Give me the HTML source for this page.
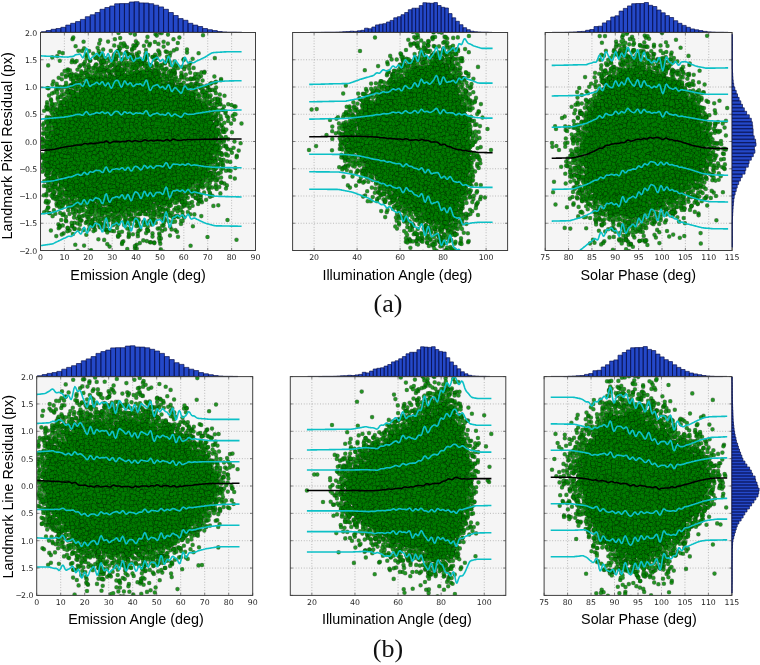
<!DOCTYPE html>
<html lang="en"><head><meta charset="utf-8"><title>Landmark residuals</title>
<style>
html,body{margin:0;padding:0;background:#fff}
svg{display:block}
.gr{fill:none;stroke:#8a8a8a;stroke-width:.6;stroke-dasharray:.9 1.8}
.e{fill:none;stroke:#001400;stroke-opacity:.45;stroke-width:46;stroke-linecap:round}
.f{fill:none;stroke:#009200;stroke-opacity:.72;stroke-width:38;stroke-linecap:round}
.un{fill:none;stroke:#046804;stroke-width:1.05}
.cy{fill:none;stroke:#0cc0c6;stroke-width:1.6;stroke-linejoin:round}
.bk{fill:none;stroke:#000;stroke-width:1.55;stroke-linejoin:round}
.hb{fill:#2448c8;stroke:#0a1250;stroke-width:.7}
.hl{fill:none;stroke:#101840;stroke-width:.7}
.fr{fill:none;stroke:#404040;stroke-width:1}
.tk{fill:none;stroke:#3a3a3a;stroke-width:.6}
.tl{font-family:"DejaVu Sans","Liberation Sans",sans-serif;font-size:7.8px;fill:#262626}
.al{font-family:"Liberation Sans",sans-serif;font-size:14.35px;fill:#000}
.cap{font-family:"Liberation Serif",serif;font-size:26px;fill:#111}
</style></head>
<body>
<svg width="760" height="665" viewBox="0 0 760 665">
<rect width="760" height="665" fill="#fff"/>
<g id="pT1">
<rect x="40.5" y="32.5" width="215" height="218" fill="#f5f5f5"/>
<path class="gr" d="M64.39 32.5V250.5M88.28 32.5V250.5M112.17 32.5V250.5M136.06 32.5V250.5M159.94 32.5V250.5M183.83 32.5V250.5M207.72 32.5V250.5M231.61 32.5V250.5M40.5 223.25H255.5M40.5 196H255.5M40.5 168.75H255.5M40.5 141.5H255.5M40.5 114.25H255.5M40.5 87H255.5M40.5 59.75H255.5"/>
<clipPath id="cT1"><rect x="40.5" y="32.5" width="215" height="218"/></clipPath>
<g clip-path="url(#cT1)">
<path class="un" transform="translate(40.5 33)" d="M97 29h6M98 30h5M97 31h6M94 32h10M76 33h3M91 33h7M75 34h5M91 34h6M75 35h5M91 35h7M56 36h12M75 36h5M91 36h5M105 36h5M58 37h10M75 37h6M91 37h3M107 37h3M56 38h10M75 38h9M97 38h9M107 38h3M61 39h5M75 39h9M97 39h21M76 40h8M89 40h5M95 40h11M108 40h9M76 41h10M89 41h17M108 41h10M69 42h3M76 42h38M115 42h3M47 43h3M54 43h3M69 43h5M76 43h42M47 44h15M68 44h53M47 45h15M67 45h55M45 46h5M51 46h13M68 46h53M45 47h24M71 47h51M129 47h3M46 48h79M127 48h4M46 49h76M46 50h73M124 50h10M47 51h81M129 51h5M43 52h91M41 53h12M54 53h81M136 53h5M40 54h104M41 55h107M39 56h109M39 57h109M30 58h5M39 58h102M143 58h5M28 59h9M39 59h109M28 60h8M39 60h109M150 60h5M28 61h8M39 61h109M150 61h5M163 61h3M29 62h9M39 62h104M144 62h11M163 62h3M31 63h124M31 64h124M31 65h124M163 65h5M31 66h124M31 67h126M23 68h137M165 68h3M19 69h141M19 70h141M19 71h147M18 72h5M25 72h141M20 73h3M25 73h142M20 74h146M18 75h149M172 75h4M18 76h146M171 76h4M14 77h150M171 77h5M14 78h154M171 78h4M15 79h154M15 80h154M16 81h153M16 82h154M16 83h154M171 83h6M13 84h163M13 85h162M10 86h165M7 87h168M7 88h165M7 89h165M7 90h171M9 91h169M13 92h165M12 93h166M9 94h167M13 95h162M13 96h164M13 97h164M7 98h171M9 99h170M9 100h169M7 101h171M6 102h172M11 103h166M7 104h171M9 105h168M9 106h168M9 107h168M6 108h171M5 109h170M6 110h169M6 111h170M4 112h173M5 113h174M7 114h172M7 115h161M169 115h10M6 116h173M6 117h173M6 118h172M6 119h170M6 120h169M5 121h167M5 122h167M5 123h167M5 124h171M5 125h169M5 126h171M6 127h170M6 128h170M6 129h166M5 130h167M5 131h165M4 132h162M4 133h162M4 134h155M160 134h7M5 135h153M160 135h10M5 136h165M13 137h156M6 138h4M12 138h145M158 138h9M6 139h4M12 139h159M6 140h3M12 140h159M13 141h4M20 141h152M13 142h4M20 142h146M167 142h7M13 143h4M20 143h154M7 144h3M13 144h3M20 144h134M155 144h14M170 144h4M13 145h3M19 145h143M170 145h4M19 146h143M8 147h7M19 147h136M156 147h6M12 148h5M19 148h136M157 148h5M12 149h5M19 149h136M12 150h5M18 150h137M12 151h5M20 151h134M159 151h3M12 152h5M19 152h133M18 153h132M12 154h3M18 154h3M24 154h126M12 155h3M16 155h5M24 155h125M13 156h8M24 156h112M137 156h12M16 157h3M25 157h109M137 157h10M24 158h123M26 159h5M32 159h102M135 159h12M152 159h3M32 160h102M136 160h5M19 161h3M29 161h105M136 161h8M11 162h3M18 162h4M25 162h6M32 162h109M27 163h100M128 163h13M28 164h99M130 164h8M29 165h5M37 165h88M131 165h10M38 166h87M130 166h10M38 167h93M39 168h93M24 169h3M39 169h15M60 169h65M126 169h6M41 170h14M61 170h51M115 170h16M47 171h8M61 171h49M119 171h11M48 172h7M57 172h3M67 172h10M80 172h30M122 172h3M48 173h7M67 173h11M80 173h30M29 174h4M48 174h6M57 174h3M68 174h15M86 174h24M30 175h4M48 175h5M57 175h3M68 175h28M97 175h12M47 176h5M57 176h5M64 176h23M91 176h5M99 176h11M49 177h3M57 177h5M64 177h18M85 177h10M48 178h4M57 178h27M85 178h7M100 178h3M48 179h4M60 179h8M72 179h8M81 179h3M100 179h3M47 180h5M56 180h6M63 180h7M73 180h5M71 184h4"/>
<g transform="translate(40.5 32.5) scale(.1)">
<defs><path id="t10" d="M18 1080h0m4 178h0m1-249h0m8-46h0m5 834h0m21-834h0m2 651h0m11-153h0m48-43h0m18-818h0m18 494h0m7 549h0m40-127h0m27-969h0m3 1461h0m1-194h0m26 73h0m45-1361h0m14 1164h0m3-1623h0m25 230h0m1 423h0m9 1053h0m13-37h0m7-1092h0m1-174h0m55-378h0m0 223h0m23 1590h0m2-1674h0m33 1696h0m59-1673h0m6 67h0m11-77h0m17-59h0m9 31h0m15 1733h0m25-84h0m44-1400h0m1 1413h0m11-1474h0m48 1583h0m9-1920h0m12 196h0m28 1735h0m21-1635h0m10 1629h0m13 96h0m40 77h0m24-198h0m5-53h0m21-1695h0m13 58h0m3 1507h0m25-1656h0m2 170h0m13 1739h0m82-31h0m5-1916h0m1 283h0m25 1512h0m3-1563h0m28-77h0m39 61h0m3-56h0m16 1527h0m11 233h0m1-1606h0m2-183h0m14 1838h0m61-1817h0m5 7h0m5-228h0m54 501h0m8 1326h0m2-1558h0m5 123h0m13-82h0m15 1503h0m35 48h0m14 2h0m50-1354h0m1 1123h0m13-1060h0m5 1114h0m11-1238h0m5 1111h0m15-1317h0m18 1556h0m36-150h0m30-1234h0m3 1401h0m2-1437h0m13 1150h0m14 51h0m41-43h0m52-807h0m26-200h0m6 1015h0m20-690h0m2 531h0m4 138h0m5-924h0m1 50h0m1 9h0m7 721h0m4-354h0m4 161h0m29 303h0m1-515h0m26 294h0m36-117h0m20-337h0m41 397h0m38-125h0"/><path id="t11" d="M24 926h0m3 428h0m37-312h0m2-273h0m6 782h0m8-993h0m3 845h0m3 402h0m29-272h0m14-1043h0m14 1105h0m6 218h0m11-101h0m60-45h0m18-124h0m2 80h0m20-1031h0m21-220h0m10 1608h0m4-1602h0m3 277h0m7-189h0m7-55h0m6 1521h0m35-1428h0m1-86h0m3 1373h0m14-1362h0m1 112h0m49 1294h0m41 55h0m57-782h0m2 763h0m6-1660h0m12 1701h0m2-155h0m29-3h0m9 314h0m25-1764h0m33-46h0m1 1647h0m64-1722h0m8 244h0m1 1405h0m8-1396h0m61-203h0m0-229h0m4 137h0m20 70h0m0-99h0m25 1724h0m15 26h0m1-1734h0m9 1745h0m84-123h0m6 408h0m91-2177h0m5 316h0m16 1519h0m20-1591h0m5 1557h0m63-1687h0m1 1727h0m9-104h0m9 16h0m15-1553h0m1 238h0m13 1608h0m6 85h0m37-1698h0m10 1464h0m1-1569h0m41 1426h0m6-1439h0m18 1673h0m27-197h0m0-168h0m5-1202h0m9 1433h0m23-1479h0m10 1320h0m28-1249h0m19-160h0m78 286h0m21-199h0m41 1273h0m29-92h0m1 112h0m4-1087h0m6 973h0m8-930h0m2-29h0m8 904h0m49-927h0m5 1022h0m9-927h0m2 997h0m1-951h0m5 69h0m17 710h0m10-169h0m11-862h0m12 421h0m1 216h0m24 83h0m8 23h0m6 83h0m0-249h0m9 592h0m50-802h0m11 420h0m15 3h0m6 148h0m33-176h0m68-21h0"/><path id="t12" d="M15 1218h0m7 24h0m19 43h0m22-99h0m3-489h0m5 65h0m1 182h0m1 761h0m31-1036h0m6 63h0m18 926h0m5-40h0m10-820h0m36 1120h0m17-226h0m17-1068h0m2 1126h0m6 75h0m53 131h0m11-260h0m29 243h0m1-1282h0m3-137h0m10-31h0m7 1201h0m0 160h0m5 52h0m20-1462h0m12 61h0m18 1344h0m3-1405h0m22-256h0m21 1947h0m50-1945h0m13 2004h0m20-307h0m52-188h0m25 6h0m5-1198h0m67-161h0m8 1584h0m7-75h0m0 128h0m7-1696h0m31 1585h0m33-1461h0m22 1636h0m1-122h0m9-1742h0m3 1849h0m21-1744h0m8-16h0m17 59h0m74 1510h0m34-1816h0m6 379h0m22-293h0m2 137h0m7 1633h0m15-1546h0m39-198h0m37 179h0m7 1673h0m17-1873h0m0 1986h0m46-1825h0m35 112h0m14-385h0m4 1790h0m29-1418h0m7 1558h0m1-1789h0m6 244h0m41-122h0m20 119h0m1-56h0m18 124h0m13-36h0m37 82h0m38 1418h0m62-1445h0m27 1074h0m4 275h0m13-1303h0m5 1180h0m3-1153h0m3 1092h0m2-1040h0m51 981h0m3 8h0m18-258h0m13-620h0m6-112h0m10-566h0m42 753h0m1-198h0m6 186h0m17-51h0m4-139h0m21 972h0m23-154h0m16-904h0m3 678h0m22-199h0m4 158h0m1-222h0m10 295h0m12-101h0m2 116h0m27-82h0m2-63h0m39-6h0m1-215h0m28 60h0m37 549h0"/><path id="t13" d="M49 1265h0m10 76h0m1 289h0m2-469h0m12 590h0m9-61h0m9-110h0m12 400h0m6-921h0m10 494h0m35-92h0m2-894h0m1 1469h0m5-304h0m25-1535h0m16 1328h0m5-830h0m2 817h0m11-1306h0m15 1477h0m44-1105h0m43 1185h0m10-15h0m36 111h0m0-1487h0m9 1322h0m32 187h0m30-1477h0m3-68h0m16-76h0m50 1666h0m37 48h0m52-1758h0m8 22h0m19 1479h0m1-1547h0m25 272h0m39 1699h0m2-1749h0m16 1382h0m29-1644h0m6 208h0m4 1507h0m16-41h0m33-1749h0m71 279h0m4 1573h0m17-1689h0m6 1652h0m8-1605h0m59-52h0m0 1665h0m15 38h0m3-49h0m3 65h0m18-117h0m42-1h0m18-1479h0m2 1751h0m2-116h0m21-228h0m25 179h0m21-1546h0m6 1725h0m9-1878h0m25 1739h0m31 207h0m11-428h0m2-1417h0m1 1660h0m25-258h0m10-1535h0m13 242h0m9-321h0m12 404h0m7-283h0m15 1572h0m9 2h0m37-1357h0m25 1396h0m36-188h0m21 192h0m18-1428h0m36 222h0m21 969h0m9-814h0m24-190h0m5-94h0m2 97h0m4-29h0m20-166h0m0 197h0m24 1010h0m64-296h0m19-625h0m16 774h0m4-658h0m9 180h0m13 451h0m23-83h0m9-88h0m0-80h0m1-364h0m4 57h0m7 585h0m5-805h0m20 405h0m7 76h0m1-433h0m4-241h0m1 973h0m2-515h0m0-69h0m16-92h0m52 110h0"/><path id="t14" d="M32 908h0m26-163h0m10 294h0m8-163h0m16-25h0m2 956h0m10-234h0m14-9h0m6 78h0m29 29h0m18-25h0m10-163h0m8-751h0m3 1202h0m5-129h0m1-1162h0m1 2h0m8 1230h0m14-468h0m3 304h0m32-1281h0m10 125h0m2 1084h0m1-1268h0m1 1583h0m14-1530h0m25 1072h0m18-981h0m32 1210h0m2-1440h0m4 1434h0m5 190h0m0 274h0m11-1572h0m5 1356h0m15-95h0m16-1409h0m1-26h0m20 1390h0m13-1376h0m86 1493h0m35-58h0m26-149h0m1-1333h0m46 1314h0m1 92h0m4 164h0m77-1691h0m10-64h0m7 97h0m20 113h0m13-247h0m9 1656h0m29 277h0m8-1847h0m32-9h0m6-64h0m17 1629h0m42 45h0m4-1627h0m45 105h0m7-72h0m23 1695h0m29 109h0m16-1805h0m10-36h0m64 1669h0m2 102h0m2-288h0m32-1463h0m8 142h0m17-286h0m3 1595h0m49-1282h0m2 1765h0m14-1745h0m13 1321h0m35 262h0m2-89h0m65-240h0m13-60h0m0 26h0m0 376h0m12-473h0m4-1095h0m8 44h0m20 1224h0m25-156h0m12 118h0m2-95h0m7-1409h0m8 1595h0m51 142h0m22-1523h0m2 1h0m11 931h0m5-871h0m8 2h0m22 987h0m3-791h0m7 630h0m17-824h0m12 109h0m17 15h0m20 26h0m26-52h0m21 99h0m27 773h0m1-738h0m4 47h0m30 246h0m26 297h0m6 18h0m44-188h0m43 312h0"/><path id="t15" d="M19 1392h0m9-157h0m14-153h0m15-200h0m6-35h0m15 560h0m7-777h0m35-110h0m2 198h0m2 896h0m18-785h0m4 540h0m27-601h0m18 979h0m4-299h0m2-904h0m6 949h0m11-910h0m1-164h0m6 1174h0m17-67h0m16 316h0m14 146h0m11-1308h0m0 836h0m4 229h0m37-6h0m2-12h0m12-1203h0m15 1189h0m18-1261h0m38 138h0m3 1096h0m14-1174h0m76-232h0m21 225h0m41 12h0m14 1264h0m9-97h0m1 51h0m20 135h0m4-110h0m60 356h0m25-1682h0m8 40h0m15 1274h0m8 70h0m3 78h0m25 15h0m89-1551h0m13-60h0m27 1744h0m43-26h0m3-1770h0m2-119h0m8 1729h0m12-1551h0m12 1815h0m54-1699h0m18 1362h0m4-1465h0m1 1605h0m25-15h0m14-91h0m71-1450h0m5 1534h0m6-1566h0m30-140h0m3 1888h0m6-1754h0m33-238h0m10 207h0m5 1669h0m88-303h0m8 37h0m22-28h0m5-78h0m9-1043h0m10 944h0m18-913h0m10-136h0m8 1179h0m7-1354h0m60 1481h0m7-1234h0m1-218h0m2 1829h0m23-1580h0m13-96h0m24 58h0m24 192h0m3 834h0m14 83h0m2-792h0m30 477h0m14-606h0m2 10h0m41 827h0m3 63h0m2-727h0m10 526h0m6-640h0m9-187h0m5 598h0m17-916h0m6 1163h0m9-521h0m8-200h0m0 218h0m10 415h0m12-242h0m29-168h0m13 351h0m8-370h0m22 249h0"/><path id="t16" d="M9 1329h0m8-188h0m35 557h0m1-489h0m4 214h0m31-328h0m6 53h0m13 187h0m1 293h0m5 8h0m50-214h0m1-830h0m2 1075h0m3-1062h0m8 211h0m5-363h0m2 507h0m13 687h0m29-370h0m10-659h0m6 1089h0m7-1170h0m14 1001h0m36-955h0m16 1079h0m4-1384h0m60-95h0m8 1610h0m8 130h0m8-1445h0m3 1246h0m2-1337h0m17 172h0m10-40h0m9-224h0m3 283h0m9-360h0m85 356h0m4-236h0m16-17h0m30 1625h0m6-1870h0m57 1690h0m1 203h0m4-1667h0m17 81h0m1 1396h0m12-1519h0m4 176h0m46-59h0m30-187h0m10 1659h0m8 43h0m9-34h0m14-105h0m7 346h0m14-1961h0m3-29h0m42 1623h0m42-1469h0m8 1474h0m8-1327h0m29 1244h0m9 355h0m11-1585h0m71-248h0m16 193h0m2 1573h0m34-183h0m2-1425h0m0 1471h0m12 236h0m2-162h0m21-7h0m10-1354h0m15 1195h0m47 154h0m1-1444h0m1 1507h0m16-110h0m31-1301h0m2-323h0m73 191h0m50 274h0m1 965h0m18-1102h0m8 1160h0m42-1150h0m20 15h0m10-224h0m1 374h0m36 835h0m38 59h0m22-1143h0m2 1050h0m63-51h0m18-156h0m9-346h0m16 462h0m1 94h0m7-874h0m10 590h0m7-435h0m26-203h0m14 480h0m13 397h0m7 270h0m26-455h0m10-48h0m6-246h0m7 351h0m37 199h0m37-146h0m35-511h0m24 1201h0"/><path id="t17" d="M46 1382h0m15 41h0m14 80h0m2-1174h0m12 1195h0m7-244h0m0 86h0m3-586h0m8-100h0m33 845h0m25-624h0m7-237h0m9 32h0m20 198h0m4 406h0m7 720h0m4-1315h0m10 800h0m6-842h0m1 83h0m23-242h0m5 20h0m12 76h0m13 944h0m21 68h0m102-858h0m49 1269h0m22-1698h0m2 14h0m7 1306h0m10 179h0m6-239h0m1 592h0m6-266h0m18-251h0m14 180h0m11-167h0m10-1275h0m32-178h0m6 1697h0m3-1488h0m5 83h0m11-191h0m15 1753h0m2-1720h0m10 74h0m55 1177h0m12-1216h0m58 92h0m41 78h0m7 1162h0m14 203h0m6-1553h0m12 1481h0m0-1648h0m29 1613h0m30-1390h0m16 46h0m22 1387h0m3-1772h0m31 111h0m30 205h0m17 61h0m10 1307h0m2-1346h0m29 1552h0m28-139h0m3 259h0m13-1647h0m18 1318h0m6-1236h0m9-516h0m29 490h0m2 35h0m7 1211h0m3-1292h0m17 1231h0m1 17h0m3-1703h0m25 1576h0m4 278h0m20-1499h0m39 1472h0m9-1324h0m11 5h0m13-335h0m16 1797h0m22-340h0m39-5h0m0-1103h0m6-185h0m20 1391h0m89-1269h0m8 917h0m7-753h0m17 838h0m17-949h0m8 116h0m5 1048h0m40-371h0m36-423h0m3 461h0m0-546h0m10 175h0m42-22h0m1 232h0m1 98h0m13 56h0m3-272h0m18 455h0m26-542h0m12-269h0m20 786h0m13-505h0m27-205h0"/><path id="t18" d="M49 1001h0m13 776h0m12-394h0m5 368h0m27-448h0m4-593h0m12 348h0m13 373h0m20 46h0m7-292h0m30 186h0m7 233h0m5-866h0m12 841h0m70-804h0m2-82h0m13-157h0m10 76h0m0 1292h0m11-122h0m3 18h0m1-1343h0m27-4h0m4 1249h0m21-66h0m51 340h0m4-326h0m11-1174h0m0 39h0m23 1330h0m28-1562h0m17 1398h0m9-1222h0m9 1527h0m13-1556h0m39-43h0m3-116h0m69 230h0m19 1316h0m10-1439h0m11 1439h0m2-1475h0m3 1407h0m12-1423h0m31 1484h0m21 51h0m35-1703h0m4 406h0m1 1249h0m17-1227h0m48-211h0m15 1632h0m17-2001h0m26 1763h0m28 9h0m1-1422h0m14-29h0m21 1489h0m3 290h0m1-1520h0m15-217h0m17 15h0m1 16h0m43-356h0m35 1644h0m23-1446h0m43 322h0m14 1492h0m41-293h0m28-1244h0m2 1294h0m12-103h0m12 18h0m1-1442h0m21 149h0m23-50h0m12 98h0m28 1510h0m55-287h0m7-227h0m8 98h0m3-1026h0m19 1086h0m10-50h0m6-929h0m15-295h0m21 243h0m5 70h0m0 780h0m18-464h0m12 440h0m2-893h0m61 233h0m19 545h0m4-777h0m22 427h0m3 418h0m12-845h0m1 898h0m28-301h0m7 116h0m5-123h0m4-409h0m1 478h0m20-437h0m0 604h0m27-342h0m4-247h0m4-116h0m6 27h0m11 92h0m16 57h0m32 256h0m65 201h0m63-46h0"/><path id="t19" d="M34 1534h0m80-924h0m20 1167h0m7-280h0m37-94h0m2 280h0m2 274h0m11-1674h0m5 1066h0m25 12h0m35 300h0m7-482h0m0-433h0m53-203h0m12-58h0m3 107h0m18-455h0m34 1699h0m13-174h0m14 5h0m22 55h0m4-22h0m26-1175h0m0 1157h0m1 34h0m9 177h0m4-44h0m12-1246h0m8-129h0m3 1226h0m9-339h0m10 408h0m8-242h0m43-1374h0m15 1772h0m4-199h0m3 169h0m1-119h0m20 55h0m23-72h0m16-1499h0m21 1343h0m2-1512h0m47 1421h0m7-1139h0m5 1346h0m2 60h0m2 97h0m3-165h0m13-1211h0m16-60h0m2 1430h0m21-130h0m57 158h0m17 62h0m36-144h0m5-69h0m1-675h0m5-896h0m5 130h0m29 1362h0m13 494h0m1-275h0m8-1654h0m5 1530h0m1 56h0m18-347h0m18-1165h0m15 147h0m45-9h0m27-63h0m15-44h0m29 147h0m15-162h0m15 1382h0m7-1346h0m47 136h0m4 7h0m46 1322h0m6-1361h0m46-396h0m24 1687h0m9-1588h0m1 420h0m10 1172h0m37-301h0m2-896h0m29 1158h0m3-283h0m31 169h0m84-210h0m14 150h0m5 10h0m24-1031h0m8 981h0m4-508h0m2-126h0m9-90h0m1 123h0m3-263h0m9 350h0m26 3h0m17-97h0m12 339h0m4 87h0m6 88h0m7-905h0m1 395h0m17 833h0m8-655h0m7 181h0m11-444h0m9 305h0m71-381h0m96 413h0"/><path id="t110" d="M54 1102h0m9 209h0m2-348h0m4-52h0m8-156h0m10 204h0m25-157h0m2 441h0m63-107h0m2 580h0m39-284h0m3-330h0m0-340h0m20-377h0m9 811h0m3 200h0m6-327h0m12-678h0m5 1290h0m23-603h0m13-781h0m46 504h0m22-283h0m11 182h0m3 1050h0m7-1421h0m45-344h0m9 389h0m6 217h0m13-142h0m2 1346h0m7 174h0m13-344h0m3-1088h0m40 1396h0m9-125h0m1-14h0m1-1290h0m9-252h0m6 328h0m7-214h0m15-255h0m14 1804h0m20-1135h0m24-397h0m3 1071h0m27 297h0m25 8h0m5-1432h0m16 165h0m4 60h0m20-9h0m10-271h0m11 1683h0m16-65h0m36-1455h0m21 49h0m27-336h0m5 259h0m15-103h0m10 111h0m73-27h0m26 59h0m3-166h0m9 16h0m16 1485h0m4 114h0m71-1513h0m33 1294h0m17-1123h0m5-164h0m9 1283h0m44-1144h0m12 1054h0m22 101h0m5 11h0m28 102h0m34-1393h0m3 125h0m20 1092h0m21-118h0m19-793h0m5-182h0m18 172h0m40-200h0m8 1163h0m56-1261h0m24 1331h0m15-1010h0m14 931h0m31-1447h0m7 1172h0m8-334h0m23-191h0m28 224h0m1-451h0m10 852h0m2-871h0m4 199h0m1-55h0m1 383h0m8 348h0m1-466h0m3 222h0m29-48h0m15 250h0m14-346h0m3 97h0m9 23h0m3 333h0m3-941h0m4 362h0m0 149h0m182-303h0m10 3h0"/><path id="t111" d="M16 1102h0m14 143h0m39 228h0m16-483h0m4 463h0m13 6h0m14-696h0m5 1074h0m1-626h0m8-82h0m11 124h0m35-323h0m8 798h0m9 216h0m6-1024h0m6-117h0m1 628h0m4 202h0m12 96h0m19-394h0m19-631h0m5 704h0m11 324h0m17-107h0m2-223h0m13-864h0m34 370h0m3 740h0m9-1079h0m2 51h0m10 167h0m0-118h0m3 928h0m12-968h0m23-208h0m6 180h0m11 1051h0m36-101h0m1 39h0m49-1107h0m4 1412h0m29-1398h0m11 1100h0m4-996h0m33 690h0m27-1014h0m0 1365h0m8-1165h0m11-183h0m27 1353h0m0-1147h0m8 7h0m26 33h0m9 38h0m29 1192h0m31-200h0m108-1245h0m27 1547h0m6-1408h0m12 1310h0m1-1612h0m23 553h0m3 1421h0m0-1703h0m5 276h0m6-118h0m7-22h0m44-251h0m38 191h0m6-297h0m4 1370h0m27-102h0m4-1123h0m24 221h0m23-48h0m0 1310h0m14-41h0m15-144h0m33 22h0m11 88h0m30 135h0m24-1199h0m6-259h0m2 1048h0m27-946h0m4 1168h0m6-1293h0m6 155h0m13 1320h0m23-4h0m25-1242h0m1 1141h0m53-292h0m42-911h0m54 818h0m26-957h0m1 117h0m9 1021h0m64-619h0m19-573h0m11 629h0m11-91h0m2-267h0m1 204h0m1 259h0m2 160h0m16-14h0m7 179h0m3-528h0m28-62h0m38 494h0m45 145h0m3-133h0m21-409h0m35-121h0"/><path id="t112" d="M21 1147h0m8 160h0m29 375h0m8-958h0m11 461h0m10-250h0m0 168h0m19 373h0m25 121h0m18-676h0m11-77h0m14-199h0m5-84h0m6 224h0m0 400h0m12-337h0m12 566h0m4-946h0m39 1411h0m26-1086h0m0-164h0m8 112h0m38 1274h0m5-1191h0m14-276h0m14 1020h0m11-686h0m21-539h0m43 1335h0m4-1519h0m27 1651h0m1-1086h0m9 909h0m35 121h0m4-142h0m6 176h0m4-1191h0m3 742h0m4 278h0m6-986h0m3-271h0m9 37h0m29 379h0m42-220h0m71-56h0m5 1044h0m5-927h0m14 1092h0m17-1467h0m7 1453h0m10-1041h0m7-296h0m4 225h0m20 950h0m7 51h0m12-1263h0m2 165h0m2 1122h0m12 181h0m16-1401h0m1 1384h0m6-1187h0m35-15h0m11 1232h0m17-1405h0m17 1272h0m3 41h0m27-17h0m44-1217h0m34-13h0m5-68h0m26 19h0m14 1311h0m19-1596h0m26 392h0m24-110h0m6 74h0m27-17h0m6-38h0m24 131h0m13 1044h0m8-122h0m35-152h0m57 103h0m3-935h0m5 1352h0m6-461h0m2-1047h0m8 1027h0m4-1000h0m8 1273h0m55-1204h0m9 1123h0m16-1006h0m1 218h0m40 958h0m2-1174h0m6 353h0m2-187h0m21-264h0m69 1076h0m11-626h0m14-103h0m24 105h0m29 620h0m15-14h0m69-556h0m18 177h0m0-144h0m3-79h0m19 400h0m13-105h0m20-745h0m17 838h0m2 54h0"/><path id="t113" d="M36 1013h0m23 523h0m10-981h0m2 768h0m12-184h0m2 236h0m22-370h0m3 171h0m11 118h0m2-197h0m34-232h0m29 757h0m3-581h0m19 172h0m1 113h0m24-619h0m26 85h0m1-139h0m8 431h0m8 693h0m4-434h0m1-36h0m11-196h0m6-175h0m2 795h0m8-819h0m6 527h0m18-10h0m4-565h0m8 589h0m10 59h0m3-827h0m6 995h0m5-339h0m56 262h0m0-88h0m5-780h0m29 51h0m10-2h0m7 825h0m1-140h0m31-795h0m5 1141h0m2-1277h0m7 1404h0m5-1237h0m9-163h0m17 920h0m12-272h0m46-896h0m17 85h0m8 1217h0m11 80h0m20-75h0m25-14h0m15-704h0m6-7h0m20-279h0m12 5h0m11 1150h0m14 28h0m12-1438h0m9 233h0m27-174h0m19 1279h0m24-1203h0m0 1205h0m20-36h0m57-30h0m26-1229h0m16 49h0m2 1547h0m29-527h0m27-881h0m35 1105h0m18-1194h0m19 1165h0m64-1210h0m9 1024h0m14 123h0m17 25h0m36-1246h0m19 1289h0m9 116h0m1-1159h0m14 796h0m11 321h0m15-221h0m10-1133h0m24 165h0m18 845h0m4 118h0m7-924h0m26 1015h0m13 233h0m46-937h0m0 427h0m5 148h0m7 84h0m22-591h0m19-333h0m36 787h0m3-125h0m29 172h0m15-197h0m46-74h0m6-454h0m9-204h0m12 495h0m3 162h0m5-356h0m41 275h0m92-47h0m24-428h0m18 339h0"/><path id="t114" d="M22 1066h0m12 74h0m37 202h0m2-280h0m0 520h0m38-127h0m18-311h0m7 397h0m4-214h0m1 159h0m2-734h0m2 206h0m5-241h0m43 410h0m3 28h0m64 213h0m8 196h0m10-831h0m3 276h0m8 156h0m1 649h0m27-1224h0m22 1374h0m4-748h0m3 376h0m10-623h0m6-206h0m33 754h0m15-852h0m3 108h0m15-79h0m10-85h0m20 693h0m28-951h0m10 347h0m3-70h0m13-235h0m13 46h0m1 1247h0m3-1133h0m22 893h0m10-990h0m24 1329h0m2 2h0m55 143h0m2-1246h0m23 895h0m4 270h0m11-1132h0m14-165h0m27 1148h0m5-1181h0m0-221h0m3-319h0m19 1679h0m20-1294h0m41 1432h0m42-212h0m32 447h0m9-1528h0m25-174h0m9 351h0m8-344h0m8 1374h0m5-1577h0m1 1683h0m37-206h0m11-1324h0m17 1376h0m42 97h0m65-141h0m11-1147h0m30-440h0m17 1811h0m35-16h0m1-317h0m15-802h0m32-166h0m0-65h0m5 1086h0m4 37h0m25-967h0m3 763h0m13 287h0m18-318h0m45 169h0m34-3h0m4-9h0m3-784h0m35 776h0m4-60h0m6-647h0m7-143h0m17 322h0m29 612h0m2-117h0m22-671h0m14 226h0m6 567h0m53-805h0m1 468h0m7 3h0m2-202h0m4-337h0m11 651h0m6-283h0m4-154h0m33 424h0m12-465h0m12 453h0m0-451h0m5 171h0m36 72h0m108-102h0m95 311h0"/><path id="t115" d="M73 1431h0m55-670h0m69 519h0m11 180h0m1-499h0m11 255h0m2 70h0m12-302h0m0 361h0m69 171h0m12-3h0m8-850h0m25 1459h0m3-774h0m24 15h0m11-638h0m9 1157h0m7-873h0m3 29h0m23-215h0m10 386h0m3 185h0m4-15h0m4 32h0m2-663h0m10 880h0m12-1212h0m27 260h0m4 668h0m17 374h0m10-223h0m9-766h0m4 803h0m29-97h0m14 213h0m9-1041h0m11-269h0m11 364h0m24-244h0m3 1204h0m39-203h0m9 77h0m17 4h0m11 116h0m7-1149h0m6 369h0m2-359h0m7 108h0m31 874h0m3-943h0m9 778h0m1-864h0m1-145h0m24 1343h0m3-1146h0m19 1298h0m1-85h0m5 158h0m14-327h0m13 55h0m94-947h0m32 97h0m21 964h0m28-61h0m15-1422h0m38 1357h0m5 96h0m21-46h0m0-112h0m22-905h0m15 871h0m34 446h0m11-130h0m9-313h0m4 107h0m7-948h0m9 955h0m9-219h0m2-803h0m16 695h0m32 135h0m17-953h0m2 107h0m40-126h0m7 293h0m2-103h0m5-108h0m7 137h0m12-71h0m20 282h0m17 901h0m9-466h0m20-748h0m0 511h0m4-753h0m16 294h0m15 651h0m6-422h0m33 742h0m5-577h0m24 309h0m4-18h0m23-218h0m14 192h0m3-420h0m66 243h0m8-253h0m7 315h0m21-667h0m30 428h0m24 542h0m2-573h0m24-102h0m76 406h0m23-496h0"/><path id="t116" d="M16 1059h0m21 428h0m15-356h0m14 268h0m21-290h0m2-66h0m15-29h0m11-53h0m3-712h0m23 666h0m0 111h0m11-42h0m12 229h0m27 54h0m46-159h0m5-350h0m12 865h0m5-327h0m4 402h0m6-418h0m29-841h0m7 872h0m5 345h0m3-294h0m9 165h0m27-33h0m16-179h0m0-294h0m18-341h0m5 1107h0m9-158h0m0-12h0m19 165h0m11-38h0m21-459h0m6-551h0m14 88h0m26 555h0m50-725h0m2 1072h0m5-217h0m1-704h0m5 778h0m9-992h0m16-231h0m6 1122h0m23-1034h0m3 1375h0m7-1158h0m48-170h0m14 55h0m23 1053h0m37-865h0m26 916h0m55-46h0m30-975h0m3 27h0m16-210h0m5-231h0m6 233h0m1 1246h0m7 14h0m12-1138h0m1-227h0m22-78h0m15 332h0m75 108h0m13 72h0m7-220h0m15 1003h0m10-1126h0m39 1439h0m4-1287h0m29 87h0m10 585h0m63 259h0m61-86h0m15 455h0m17-1686h0m16 497h0m16 526h0m19 130h0m1-692h0m1 36h0m21 883h0m31-139h0m1-566h0m4 819h0m27-1329h0m5 459h0m13-111h0m7 31h0m6 37h0m1 550h0m14-508h0m22-122h0m1 607h0m15-648h0m32 119h0m10 217h0m11 293h0m1-486h0m11 627h0m17-529h0m3 79h0m8 715h0m1-179h0m3-176h0m2 93h0m14-189h0m2-207h0m4 101h0m49 283h0m6-134h0m32-509h0"/><path id="t117" d="M73 1144h0m6 349h0m32-576h0m27 353h0m33-30h0m7 330h0m29-26h0m26-171h0m4-59h0m42-340h0m9 169h0m23 595h0m12-681h0m7 408h0m8-522h0m2 286h0m13 189h0m23-851h0m2 883h0m11 106h0m16-698h0m11 553h0m12-755h0m4 300h0m81 369h0m34 540h0m6-1229h0m29 906h0m22-1068h0m2 264h0m5 825h0m7 212h0m1-99h0m16-48h0m1-366h0m11-399h0m39 913h0m18-1027h0m3 942h0m3 291h0m47-1364h0m22-191h0m2 275h0m1-397h0m12 82h0m5 211h0m16 3h0m21-153h0m6 1176h0m20-1404h0m24 1345h0m72-924h0m2 1249h0m7-1351h0m40 850h0m14-862h0m6 1040h0m13-202h0m4-1116h0m4 341h0m46-54h0m0 202h0m34 1012h0m3-241h0m26-851h0m30 1098h0m33-1292h0m14 103h0m36 848h0m3 12h0m7-1028h0m13 1161h0m20-781h0m1 820h0m6-144h0m28 120h0m23-846h0m0 763h0m10-721h0m19 43h0m9-21h0m3-86h0m20 605h0m10 259h0m9-917h0m14-484h0m2 1328h0m1-515h0m10-40h0m7 9h0m27 384h0m8-144h0m9-367h0m1 437h0m7 51h0m16-465h0m10-56h0m3 653h0m1-128h0m4-346h0m5 744h0m5-932h0m6 231h0m0 53h0m20 97h0m8-65h0m25 254h0m2-537h0m14 857h0m2-256h0m46-316h0m10-56h0m21-200h0m29 482h0m5-184h0"/><path id="t118" d="M36 783h0m37 234h0m9 316h0m39-440h0m1 108h0m3 450h0m46-66h0m2-407h0m15 620h0m17-755h0m10 23h0m1 284h0m22-272h0m1 361h0m27-517h0m14 881h0m21-771h0m1 634h0m17-595h0m12-160h0m15 322h0m25 110h0m9-358h0m29 974h0m3-1178h0m6 267h0m11 704h0m27-796h0m11-226h0m3 1208h0m5-410h0m1 78h0m9-602h0m3 627h0m3-42h0m9 118h0m4 103h0m1-869h0m7-252h0m17 294h0m17 428h0m11 443h0m53-717h0m8 574h0m5 86h0m5-783h0m5 893h0m17-1002h0m3-234h0m35 116h0m33 173h0m11 741h0m43-1147h0m5 1339h0m3-50h0m27-153h0m32-56h0m5-334h0m7 611h0m8-80h0m47-1262h0m18-20h0m83 1013h0m11-861h0m23-230h0m8 1447h0m2-1062h0m6-128h0m1 823h0m18-780h0m2 1006h0m4-70h0m28-1070h0m12 1062h0m1 229h0m1 147h0m14-1189h0m12 933h0m2-68h0m7-274h0m64 499h0m43-1034h0m17 416h0m8 309h0m29-743h0m3-73h0m8 153h0m1-234h0m16 76h0m30 1099h0m13-798h0m15-544h0m23 1145h0m3-367h0m3-343h0m7-147h0m7 590h0m10-79h0m31 294h0m14-496h0m5-284h0m4 577h0m6-370h0m25 66h0m31 40h0m5-143h0m8-253h0m2 115h0m50 436h0m1-336h0m9 393h0m2-468h0m13 479h0m38-242h0m29 248h0"/><path id="t119" d="M49 1328h0m84 20h0m10 104h0m20 95h0m53-216h0m37-887h0m15 675h0m29 69h0m6-603h0m7 643h0m3 334h0m4 29h0m12-1163h0m5 376h0m1 800h0m1-527h0m13 291h0m1-104h0m2-391h0m3 618h0m11 1h0m12-302h0m16-656h0m47 558h0m8-399h0m21 542h0m15 529h0m1-1014h0m0 42h0m0 775h0m1-48h0m10-33h0m1-1054h0m5 886h0m64-585h0m7 929h0m11-819h0m5-314h0m7 1035h0m11-595h0m14-745h0m5 1305h0m8-560h0m1 23h0m8 557h0m6-783h0m5 8h0m2 780h0m1-24h0m1-90h0m2-861h0m17-25h0m6 1326h0m2-172h0m0-64h0m7-1068h0m74 1032h0m12-1086h0m24 933h0m13 173h0m13-218h0m60-657h0m7 16h0m11-134h0m9 1006h0m1-85h0m13 54h0m12-965h0m26 1278h0m11-1322h0m3-79h0m7 217h0m1 1011h0m9-1053h0m9-135h0m1 795h0m31 531h0m25-1243h0m17 112h0m0 903h0m10-781h0m4-468h0m20 848h0m2 18h0m49-522h0m1-443h0m6 1137h0m87-978h0m3 153h0m49 127h0m7 600h0m25-625h0m14 925h0m16-228h0m7-99h0m3-26h0m11-435h0m1 560h0m2 33h0m1-720h0m1 546h0m9-509h0m1 542h0m28-615h0m8 990h0m57-450h0m3-40h0m33-126h0m17 467h0m26-858h0m24 395h0m113-113h0m3 135h0m132 282h0m83-642h0"/><path id="t120" d="M69 897h0m48-39h0m13 545h0m1-221h0m17 83h0m11 114h0m34-565h0m9 220h0m9 195h0m23-421h0m16 660h0m6-39h0m8-402h0m30-312h0m62 130h0m48 631h0m3-472h0m6 577h0m4-805h0m0 232h0m4-383h0m11 835h0m40-774h0m4 574h0m0-47h0m10-274h0m4 647h0m18-124h0m4 330h0m5-512h0m5-450h0m2-475h0m33 360h0m0 800h0m9-674h0m2 91h0m15 561h0m1 332h0m6-923h0m6 306h0m39-810h0m24 1015h0m26-291h0m28 430h0m3-1042h0m16 214h0m4 916h0m15-1406h0m42 438h0m17 761h0m2 121h0m9-944h0m14 890h0m5 257h0m15-1209h0m16 1157h0m0-989h0m17-197h0m18 700h0m3-627h0m29 976h0m3-809h0m8-402h0m15 385h0m5 790h0m12-953h0m2-310h0m12 477h0m1 71h0m22 616h0m16 201h0m15-11h0m4-1181h0m3 104h0m35 1000h0m3-113h0m13-929h0m28 1051h0m30-766h0m4 688h0m5 117h0m23 53h0m11-289h0m14-4h0m2-464h0m11 809h0m9-791h0m16-196h0m3 422h0m7-208h0m6-207h0m2 697h0m15-629h0m39 754h0m9-796h0m2 551h0m13 28h0m20-476h0m1-29h0m9-43h0m22 140h0m0 270h0m8-317h0m4 352h0m22-48h0m29-414h0m110 462h0m7-264h0m20-14h0m13 178h0m35 137h0m17-31h0m18-383h0m11 158h0m12-189h0"/><path id="t121" d="M79 1199h0m32 175h0m28-292h0m52 260h0m19 156h0m12 431h0m51-1047h0m0 559h0m53-653h0m4 355h0m7 204h0m1 53h0m6-448h0m7 301h0m7-209h0m32 486h0m1-568h0m39-53h0m26-500h0m2 488h0m4 588h0m23 225h0m3-1155h0m2 329h0m18-108h0m24 618h0m4 87h0m7-335h0m12 225h0m10-595h0m1-119h0m0 37h0m13 932h0m21-1044h0m3 112h0m6-46h0m8 1154h0m30-319h0m4-608h0m14 397h0m5-42h0m7 481h0m18-599h0m3 360h0m11 17h0m17-1025h0m22 956h0m8-125h0m2-792h0m17 103h0m11 257h0m0 289h0m4-304h0m10 554h0m17-191h0m1-28h0m27 353h0m15-117h0m25-201h0m57-757h0m0 889h0m11-55h0m1 426h0m23-52h0m4-870h0m10-236h0m15 96h0m14-46h0m4 985h0m7-799h0m28-170h0m19 987h0m1-362h0m19-595h0m17 781h0m2 433h0m5-312h0m47-301h0m17-533h0m5 850h0m3-708h0m1 806h0m4-1037h0m5 323h0m6-14h0m6-333h0m10-76h0m15 282h0m25 640h0m10-360h0m4-417h0m34 364h0m7-119h0m6-171h0m3-97h0m18 237h0m1-195h0m8 635h0m16 111h0m8 33h0m9-504h0m13 798h0m2-604h0m11 522h0m44-559h0m11-517h0m5 610h0m14 214h0m27-550h0m5 189h0m33-335h0m12 362h0m3-24h0m248-312h0m97 227h0"/><path id="t122" d="M167 539h0m30 298h0m54 673h0m11-533h0m13 457h0m11-382h0m20 62h0m24-479h0m14 544h0m0 183h0m25-314h0m15-313h0m27 64h0m5 81h0m1 163h0m4-10h0m3 386h0m3-619h0m8 975h0m6-623h0m7 630h0m11-856h0m11 605h0m12-409h0m21 327h0m22-611h0m8-155h0m15-30h0m16 453h0m6 413h0m9-951h0m26-53h0m14 111h0m18 807h0m4-605h0m28 131h0m6-94h0m22 437h0m5-640h0m18-214h0m22 765h0m48 481h0m9-483h0m12-488h0m16 257h0m3-670h0m24 1186h0m1 298h0m14-640h0m15 483h0m9-796h0m16 831h0m4-1268h0m10 1179h0m22-663h0m1 302h0m6-693h0m8 835h0m2 194h0m18 59h0m12 144h0m11-232h0m38-766h0m38-145h0m27 125h0m2-6h0m5 459h0m3-504h0m13 886h0m5-765h0m11-423h0m3 847h0m19-570h0m14 27h0m5 906h0m4-668h0m28 397h0m8 114h0m26 345h0m11-572h0m3-557h0m4 71h0m1-150h0m37 373h0m3 552h0m7 77h0m6-973h0m5 666h0m19-564h0m3 472h0m6-566h0m26 713h0m20 28h0m6-400h0m10 319h0m29 212h0m6-609h0m14 157h0m17-19h0m3 175h0m27-164h0m16-343h0m4 430h0m17 0h0m23 371h0m11-767h0m4 433h0m2-602h0m52 195h0m5 407h0m23-310h0m13 329h0m12 445h0m69-379h0m11 176h0"/><path id="t123" d="M82 1263h0m53-89h0m21-131h0m28-240h0m58 479h0m6-251h0m18 348h0m3-514h0m9 410h0m2 289h0m48-273h0m33-206h0m18 301h0m5-409h0m28 390h0m2-202h0m7 114h0m23-436h0m23 434h0m0-419h0m0-244h0m9-115h0m10 140h0m1 657h0m6-526h0m29-162h0m5 383h0m24 747h0m0-1215h0m14 849h0m7-937h0m4 1154h0m0-948h0m18 697h0m5-578h0m1 447h0m6 54h0m14-417h0m15 191h0m14-95h0m7 345h0m3 421h0m2-488h0m8 759h0m4-1303h0m16-48h0m19 210h0m35 777h0m4-49h0m3-248h0m18-910h0m3 411h0m4 1216h0m4-872h0m6 105h0m8-267h0m38-301h0m9 300h0m2 238h0m5-666h0m12 51h0m0-42h0m3 399h0m4-438h0m0 970h0m9-839h0m3 820h0m4-875h0m18 415h0m12 556h0m3-339h0m21 31h0m1-490h0m34-118h0m13 342h0m13 634h0m27-93h0m14-818h0m4 418h0m22-266h0m3 422h0m3-617h0m5 1058h0m47-1011h0m20 725h0m4-47h0m7-1005h0m22 428h0m24 476h0m12-528h0m9 639h0m2-234h0m7-319h0m8 687h0m11-289h0m18-472h0m48 302h0m13-84h0m22-690h0m0 628h0m16-88h0m0-230h0m31 529h0m32-262h0m6 472h0m15-129h0m5-357h0m14-185h0m51 364h0m33-205h0m6 787h0m29-506h0m18-133h0m31-334h0m83 953h0"/><path id="t124" d="M51 1228h0m20 5h0m13-23h0m67-274h0m109 24h0m25-33h0m25 53h0m43 631h0m6-879h0m19 172h0m7 268h0m10-25h0m14 277h0m8-534h0m6 642h0m30 85h0m24-411h0m8 184h0m35-374h0m56 670h0m31-322h0m22 26h0m14-15h0m11-765h0m22 820h0m3-534h0m4 485h0m1 4h0m11-71h0m2-515h0m14 396h0m55 274h0m3-856h0m5 487h0m1-74h0m4 693h0m17-379h0m2 89h0m2 156h0m15-909h0m4 673h0m0-210h0m7 511h0m12-692h0m2 612h0m12-91h0m3-101h0m3-490h0m25 622h0m4-636h0m12-203h0m14 517h0m9-682h0m5 654h0m2 116h0m9-531h0m30 525h0m4 180h0m6-684h0m18 1033h0m6-624h0m9-329h0m6 569h0m10 287h0m15-214h0m2-1148h0m5 593h0m35 239h0m30 60h0m18-632h0m2 282h0m16 418h0m23 194h0m0-611h0m12 676h0m20-860h0m2 728h0m5-509h0m7 71h0m14-7h0m7 631h0m29-1338h0m8 502h0m3 106h0m12 646h0m4 111h0m62-719h0m4 123h0m5 109h0m7 53h0m23-4h0m20-59h0m54-10h0m1 462h0m0-530h0m3-288h0m16 747h0m14-652h0m11 614h0m17-586h0m22 552h0m11-202h0m1 23h0m38-261h0m8 182h0m3-131h0m9 279h0m2-133h0m4-493h0m7-314h0m16 518h0m29 198h0m41-257h0m23 305h0m11-12h0"/><path id="t125" d="M33 1628h0m15-310h0m52 182h0m41-579h0m5 390h0m79-416h0m18 412h0m24-401h0m47 99h0m10 114h0m4-1069h0m70 891h0m49 400h0m13-683h0m2 786h0m3 79h0m3-375h0m4-169h0m17 587h0m17-986h0m12 264h0m3 218h0m24 140h0m8 133h0m7-154h0m9 120h0m4-825h0m5 84h0m19 509h0m1 405h0m35-101h0m12-155h0m30 443h0m2-337h0m40 147h0m3-623h0m10 89h0m7 153h0m2 469h0m0-1103h0m4 873h0m1-483h0m11-47h0m12 718h0m5-305h0m5 182h0m45-18h0m5 112h0m16-1060h0m19 347h0m15 331h0m1 21h0m19-129h0m8 152h0m3-528h0m26 179h0m6-81h0m23-249h0m3 1227h0m31-1088h0m5 840h0m10-593h0m2 35h0m10 874h0m3-161h0m10-780h0m8 575h0m2 40h0m6 82h0m5 226h0m18-841h0m3 29h0m1 442h0m3-460h0m4 440h0m1-952h0m2 293h0m5-55h0m2 207h0m8 370h0m35-375h0m16-270h0m6 840h0m40-76h0m14-637h0m11 20h0m31 162h0m10 78h0m9 651h0m12-616h0m13 129h0m28-128h0m21 18h0m5-183h0m3 70h0m21-106h0m20-183h0m2 410h0m5-13h0m2 69h0m2 57h0m1 259h0m10-258h0m23-533h0m5 233h0m7 563h0m15-484h0m26-83h0m23 371h0m11-455h0m22 170h0m71 479h0m28-133h0m19-188h0m74 212h0"/><path id="t126" d="M162 514h0m14 823h0m1-453h0m20-124h0m32 431h0m18-519h0m13 929h0m23-379h0m26-9h0m7 439h0m36-529h0m4 184h0m17 120h0m11-321h0m23-470h0m1 668h0m25-331h0m17-336h0m4 718h0m8 158h0m15-427h0m18-151h0m5-78h0m37 344h0m12 122h0m18-461h0m0 241h0m25 500h0m0-893h0m1 826h0m5-803h0m2 868h0m4-919h0m6 631h0m10-56h0m37-144h0m3-296h0m8 1182h0m1-664h0m14-337h0m9-76h0m11 4h0m3-220h0m9 680h0m21-471h0m19-7h0m3 523h0m9 26h0m19 204h0m8-353h0m0-526h0m46 325h0m5-345h0m19-139h0m9 437h0m3-221h0m19 350h0m16-193h0m3 358h0m6-298h0m2 272h0m4-777h0m2 247h0m9 618h0m11 1h0m6 123h0m4 396h0m2-1183h0m1 181h0m1-76h0m8 877h0m4-915h0m0 242h0m9-93h0m3-335h0m4 263h0m1 796h0m43-801h0m2-217h0m6 435h0m1-475h0m8 212h0m13-28h0m24 959h0m15-321h0m1-824h0m9 103h0m5 668h0m10-591h0m3 525h0m1-437h0m3 750h0m31-678h0m10 26h0m5 813h0m5-281h0m4-1020h0m6 641h0m25-519h0m1 529h0m25 370h0m5-407h0m42 472h0m7-536h0m23 251h0m1 13h0m48-406h0m31 358h0m9-613h0m45 511h0m3 97h0m8-40h0m88-88h0m11-90h0m76-424h0"/><path id="t127" d="M64 1136h0m1 136h0m98 221h0m1-512h0m2 18h0m5 112h0m41 357h0m37 130h0m5-177h0m38-631h0m12 739h0m5-262h0m2-333h0m2-184h0m1 580h0m14-158h0m8 422h0m35-334h0m10 21h0m18-59h0m1 324h0m9-87h0m21 26h0m3-375h0m5 227h0m8 326h0m22-786h0m19 470h0m29-461h0m75-191h0m12 200h0m11-550h0m1 1026h0m10-239h0m5-376h0m5 766h0m10-782h0m2 167h0m12-106h0m15 356h0m10-137h0m10 328h0m5-238h0m11-253h0m18 464h0m1-517h0m15-23h0m2 865h0m17-772h0m1-109h0m37 251h0m6 515h0m3-1159h0m23 642h0m2 118h0m9 199h0m6 219h0m4-256h0m5-235h0m2-263h0m1 615h0m5-530h0m8 12h0m2 649h0m12-571h0m34 94h0m1-256h0m3 36h0m8 95h0m10 35h0m6 617h0m4-580h0m6-264h0m4 256h0m40 350h0m20-854h0m3 633h0m33 13h0m9-665h0m9 102h0m11 212h0m15-5h0m25 424h0m32 283h0m3-150h0m5-30h0m3-652h0m5 611h0m23-455h0m14 14h0m20 556h0m1-273h0m52-97h0m1 26h0m3 341h0m2-469h0m23 268h0m27 236h0m58-695h0m21 142h0m12 240h0m1-173h0m1 87h0m18-247h0m3 335h0m3 247h0m28-81h0m5-517h0m2 652h0m23-1h0m20-200h0m0-263h0m3 99h0m61 311h0m13-148h0"/><path id="t128" d="M84 852h0m33 23h0m5-52h0m40-45h0m7 517h0m8-304h0m20 442h0m82-400h0m41-431h0m11 404h0m5 296h0m6 659h0m2-1290h0m9 784h0m8 84h0m3-618h0m11-169h0m24 321h0m9 158h0m7-25h0m4-153h0m7-180h0m1 462h0m15-449h0m30 113h0m10-18h0m23-186h0m16 71h0m11-112h0m7 814h0m30-518h0m11 379h0m40-381h0m10-280h0m1 410h0m6-610h0m52 529h0m2-239h0m8 573h0m13-274h0m12-467h0m10 851h0m2-258h0m7-30h0m4 133h0m1 205h0m12-796h0m15 564h0m14-438h0m14 335h0m5-323h0m12 171h0m5-243h0m12 205h0m3-35h0m25 440h0m0-940h0m2 614h0m12-406h0m5 1034h0m12-359h0m11-872h0m1 160h0m4-88h0m2 374h0m4 528h0m28-863h0m9 501h0m6-323h0m26 426h0m12-168h0m38 95h0m5-298h0m17 398h0m13-767h0m4 256h0m3 445h0m48-270h0m2 410h0m36-910h0m8 713h0m7 235h0m12-735h0m20 680h0m10-480h0m14-83h0m6 55h0m10 555h0m8-194h0m1 180h0m10-355h0m10 676h0m2-201h0m2-222h0m32 190h0m3-326h0m5 136h0m21-218h0m1 9h0m26-958h0m45 873h0m9 106h0m7 329h0m3-961h0m5 551h0m13 264h0m28-97h0m31-19h0m4-54h0m9-246h0m1 720h0m85-645h0m9 521h0m104-422h0m146 142h0"/><path id="t129" d="M125 878h0m43-642h0m85 897h0m5-207h0m69 257h0m26-317h0m5 138h0m67 139h0m6-433h0m63 527h0m0-67h0m3-418h0m2 157h0m3-78h0m22 288h0m4-92h0m5 50h0m11-180h0m22-102h0m1 543h0m6-378h0m29-148h0m17 621h0m0-269h0m13 606h0m12-589h0m2-286h0m29 175h0m1 425h0m4-236h0m4 159h0m6-204h0m4 476h0m14-452h0m9 340h0m5-550h0m1 415h0m3 483h0m28-1217h0m6 136h0m4 389h0m1-562h0m7 126h0m26 792h0m6-395h0m12 193h0m1-477h0m4-30h0m4-70h0m13 444h0m14-59h0m20-561h0m10 908h0m12-168h0m8-630h0m2 140h0m19 64h0m27 178h0m32-52h0m3 243h0m2-405h0m2 22h0m2-67h0m5 169h0m20-74h0m24 69h0m12 168h0m2-497h0m8 798h0m5-372h0m5 102h0m17-5h0m3-278h0m21-104h0m11 526h0m2-374h0m7 799h0m2-419h0m2-812h0m21 206h0m3 318h0m5-459h0m12 497h0m10-371h0m11 417h0m5-451h0m7 532h0m9 394h0m8-494h0m34 205h0m1-393h0m18 207h0m4-123h0m20-378h0m0 925h0m3-518h0m22-87h0m10-9h0m26-40h0m2 422h0m9-364h0m4 231h0m1-39h0m24-351h0m3 281h0m9-169h0m4 74h0m30-32h0m37 380h0m1-303h0m39 162h0m46-58h0m5-333h0m11 843h0m74-580h0"/><path id="t130" d="M184 1064h0m8 635h0m50-530h0m40 206h0m6 108h0m1-257h0m12-795h0m112 487h0m12 271h0m14-179h0m10-141h0m9 73h0m1-404h0m8 638h0m18-137h0m11 494h0m7-325h0m17-459h0m1 225h0m32 672h0m24-656h0m3 398h0m0-257h0m8 249h0m8-441h0m10 524h0m2-187h0m6-411h0m6 250h0m6-525h0m5 327h0m15-377h0m2 1314h0m0-1066h0m5 638h0m7-103h0m35-350h0m4 200h0m9 410h0m5-619h0m6 705h0m13-545h0m2 454h0m4-939h0m2 543h0m9-125h0m5-46h0m9-68h0m8 233h0m9-429h0m6 639h0m10-320h0m14-244h0m6 52h0m5 212h0m2 300h0m15-39h0m27-879h0m9 664h0m20 465h0m3 63h0m8-754h0m15 482h0m4-803h0m31 515h0m5-24h0m9 157h0m18-533h0m8 591h0m3-240h0m44-59h0m4-346h0m24 692h0m8 69h0m1-704h0m11-98h0m8 677h0m4 197h0m9-324h0m13 140h0m7-521h0m1 86h0m5 106h0m1 123h0m18 242h0m9-502h0m44-83h0m4-391h0m7 1185h0m4-491h0m8 335h0m10-80h0m10 217h0m2-462h0m10-77h0m4 350h0m2-489h0m27-21h0m1 66h0m31 323h0m3 44h0m49 131h0m19-203h0m15-544h0m8 722h0m49-510h0m36-66h0m5 253h0m15 320h0m40-400h0m5 236h0m39 47h0m60-189h0m71-388h0m3-164h0"/><path id="t131" d="M113 1258h0m23 145h0m83-248h0m18-212h0m58 293h0m88-87h0m5 272h0m19-167h0m5 89h0m5 186h0m5-222h0m4-187h0m10 146h0m3-236h0m23 471h0m10 7h0m5-138h0m12-37h0m61-260h0m1-143h0m10-133h0m18 1058h0m3-978h0m18 125h0m33 343h0m1 147h0m7-411h0m5-349h0m14 389h0m17-252h0m17 82h0m6 288h0m28 211h0m3-176h0m41 498h0m2-778h0m13-381h0m1 608h0m7-308h0m7-459h0m7 655h0m4-354h0m1 376h0m1-681h0m0 200h0m4 279h0m11 211h0m4-629h0m3 412h0m3 714h0m30-387h0m2-304h0m4 79h0m31-106h0m5 570h0m13-238h0m9 266h0m11-51h0m3-36h0m23-279h0m3 253h0m1-81h0m14 67h0m4-163h0m14 47h0m2 225h0m4-512h0m11 209h0m4 337h0m5-234h0m17-26h0m5 203h0m4-299h0m8-142h0m11-71h0m0 177h0m13 456h0m9-588h0m0-179h0m12 234h0m7-155h0m13 901h0m1-1219h0m5 1011h0m9-1349h0m1 688h0m4 114h0m22 316h0m6-359h0m5 75h0m1-201h0m2-312h0m3 391h0m6 7h0m13-372h0m3 427h0m11 269h0m3-278h0m15-83h0m31-264h0m3 599h0m24 37h0m3 56h0m23-279h0m17 372h0m4-448h0m5 92h0m25 248h0m6-245h0m40 199h0m4-597h0m2-100h0m19 291h0m136 313h0m40 285h0"/><path id="t132" d="M146 1548h0m14-499h0m24 47h0m40-25h0m14-52h0m2 120h0m4-307h0m7 157h0m21-154h0m4 215h0m16 318h0m10-656h0m22 636h0m16-673h0m31 714h0m16-547h0m4 245h0m21-685h0m13 583h0m7 253h0m20-171h0m15-636h0m9 236h0m1 369h0m11 179h0m17-77h0m53-293h0m20 389h0m2-605h0m6 690h0m17-153h0m34 321h0m17-489h0m27 199h0m9-320h0m6 304h0m21-184h0m14 361h0m6-466h0m19 268h0m9-176h0m4-342h0m13-230h0m0 650h0m9-88h0m2 48h0m7-118h0m13-34h0m6 173h0m9 584h0m16-665h0m3-34h0m3 243h0m5-356h0m26 460h0m23-297h0m2 199h0m14-158h0m3 247h0m15-1109h0m5 880h0m24 104h0m1 225h0m2 123h0m6-257h0m2-777h0m7 1113h0m15-617h0m0 474h0m7-388h0m4-392h0m5 363h0m0 272h0m8-164h0m6 203h0m1-1342h0m2 946h0m10 603h0m14-680h0m3 815h0m4-397h0m1 367h0m2-180h0m21-142h0m2 6h0m2 258h0m31-449h0m15 32h0m5-159h0m1-91h0m13 23h0m27-132h0m2 419h0m11 277h0m13-378h0m9-47h0m16 157h0m6-577h0m11 98h0m21 520h0m17-152h0m7 131h0m17-758h0m15 1056h0m9-390h0m28-157h0m33 115h0m1-9h0m8-326h0m6 591h0m36-311h0m34-119h0m23 454h0m54-725h0m32 741h0"/><path id="t133" d="M146 1156h0m49 26h0m11-181h0m21-75h0m57 315h0m15-504h0m17 346h0m5-184h0m7 68h0m5 124h0m8 727h0m23-586h0m11-399h0m146 103h0m2 225h0m8 82h0m10 202h0m7-166h0m6-328h0m4 81h0m6 225h0m1-221h0m30 74h0m9-101h0m24-722h0m3 489h0m15 510h0m1-223h0m3 130h0m2 119h0m21-282h0m27 59h0m1-36h0m7 28h0m1 219h0m1 51h0m10-65h0m9-314h0m21 129h0m4 30h0m42-260h0m6-235h0m16 404h0m1 278h0m7-24h0m3-108h0m2-419h0m5-81h0m16 286h0m6-272h0m25 375h0m22 66h0m4-465h0m9 437h0m5 338h0m9-69h0m9-406h0m17 483h0m0-138h0m15-106h0m2-17h0m6-702h0m2 266h0m2 355h0m19-71h0m27 71h0m3-474h0m6 488h0m1-155h0m27 407h0m0-371h0m2 155h0m3-316h0m20 216h0m8 258h0m13-290h0m1 193h0m34-194h0m2-310h0m14 518h0m2-649h0m2 622h0m2-39h0m38-197h0m10 407h0m23-134h0m17-89h0m0 497h0m0-547h0m0 407h0m4-498h0m6 297h0m25 372h0m7-92h0m0-974h0m2 582h0m5 136h0m1-204h0m44-340h0m4 274h0m2-108h0m21 289h0m2-200h0m1 2h0m6-1006h0m12 1072h0m29-334h0m31 187h0m47 289h0m34-99h0m23-232h0m6-235h0m34 980h0m32-834h0m31 253h0"/><path id="t134" d="M225 1146h0m17-54h0m5-302h0m48 347h0m4 411h0m13-526h0m72 284h0m11-482h0m3 267h0m5-609h0m51 655h0m2-28h0m30 756h0m9-603h0m6-248h0m6 64h0m4 222h0m1 263h0m6-131h0m14-131h0m11 115h0m13-370h0m6-47h0m28 403h0m7-1030h0m3 682h0m3 16h0m2-38h0m4 205h0m12 3h0m33-594h0m4 495h0m24-298h0m4-206h0m29 479h0m4 280h0m12-294h0m3-52h0m13 263h0m13-642h0m3 565h0m1-114h0m18 138h0m6-289h0m3-78h0m49 375h0m3-427h0m8-102h0m3 612h0m8-312h0m7-123h0m3 511h0m1-408h0m0 308h0m27-221h0m4-361h0m1-220h0m14 351h0m9 89h0m18 543h0m1 94h0m4-408h0m6-699h0m4 766h0m3-607h0m2 685h0m1-207h0m19 250h0m14-166h0m16 85h0m5-97h0m4 134h0m5-10h0m3 222h0m1-305h0m6-179h0m9-153h0m3 165h0m6 178h0m0-471h0m3 195h0m15-118h0m4 106h0m6 57h0m2-32h0m6-561h0m7 677h0m12-16h0m10 373h0m29-777h0m10-59h0m18 881h0m6 99h0m1-431h0m8 21h0m8 69h0m0-176h0m17 160h0m25-183h0m0 401h0m3-612h0m8 214h0m7-96h0m37-262h0m1 150h0m12-25h0m7-17h0m11 27h0m33 287h0m100-196h0m4 276h0m24-104h0m16-169h0m252 88h0m4-304h0"/><path id="t135" d="M66 1096h0m3 234h0m83 180h0m47-428h0m30-385h0m16 541h0m33 6h0m23-384h0m22-100h0m31 343h0m15-339h0m32 593h0m8-22h0m63 322h0m0-629h0m10-649h0m20 1354h0m12-567h0m0 277h0m23-489h0m28-243h0m6 457h0m34 41h0m18 28h0m9-227h0m12-125h0m29-147h0m19 188h0m9-154h0m2 475h0m45-256h0m13 393h0m19-194h0m4 292h0m15-175h0m21 146h0m5-625h0m24-324h0m29 707h0m6 245h0m9-654h0m10 542h0m4-44h0m3-357h0m25 595h0m6-451h0m1 177h0m5-730h0m13 355h0m12 462h0m17-367h0m1 174h0m20 451h0m8-604h0m6 90h0m23 94h0m6-450h0m7 660h0m22-314h0m10-102h0m25 106h0m18 96h0m3 921h0m8-925h0m13-49h0m1-225h0m25-83h0m1 89h0m3-433h0m5 571h0m1 219h0m8 169h0m6-338h0m4 6h0m3-313h0m7 216h0m3-140h0m19 232h0m46 246h0m9-139h0m1-404h0m15 859h0m3-784h0m18 578h0m14 29h0m13-243h0m3 34h0m42-46h0m2-204h0m17 25h0m3-174h0m62 270h0m22-529h0m36 882h0m28-360h0m91 903h0m185-485h0m15 315h0m40-1150h0m30 365h0m10-350h0m60 170h0"/></defs>
<use href="#t10" class="e"/><use href="#t10" class="f"/><use href="#t11" class="e"/><use href="#t11" class="f"/><use href="#t12" class="e"/><use href="#t12" class="f"/><use href="#t13" class="e"/><use href="#t13" class="f"/><use href="#t14" class="e"/><use href="#t14" class="f"/><use href="#t15" class="e"/><use href="#t15" class="f"/><use href="#t16" class="e"/><use href="#t16" class="f"/><use href="#t17" class="e"/><use href="#t17" class="f"/><use href="#t18" class="e"/><use href="#t18" class="f"/><use href="#t19" class="e"/><use href="#t19" class="f"/><use href="#t110" class="e"/><use href="#t110" class="f"/><use href="#t111" class="e"/><use href="#t111" class="f"/><use href="#t112" class="e"/><use href="#t112" class="f"/><use href="#t113" class="e"/><use href="#t113" class="f"/><use href="#t114" class="e"/><use href="#t114" class="f"/><use href="#t115" class="e"/><use href="#t115" class="f"/><use href="#t116" class="e"/><use href="#t116" class="f"/><use href="#t117" class="e"/><use href="#t117" class="f"/><use href="#t118" class="e"/><use href="#t118" class="f"/><use href="#t119" class="e"/><use href="#t119" class="f"/><use href="#t120" class="e"/><use href="#t120" class="f"/><use href="#t121" class="e"/><use href="#t121" class="f"/><use href="#t122" class="e"/><use href="#t122" class="f"/><use href="#t123" class="e"/><use href="#t123" class="f"/><use href="#t124" class="e"/><use href="#t124" class="f"/><use href="#t125" class="e"/><use href="#t125" class="f"/><use href="#t126" class="e"/><use href="#t126" class="f"/><use href="#t127" class="e"/><use href="#t127" class="f"/><use href="#t128" class="e"/><use href="#t128" class="f"/><use href="#t129" class="e"/><use href="#t129" class="f"/><use href="#t130" class="e"/><use href="#t130" class="f"/><use href="#t131" class="e"/><use href="#t131" class="f"/><use href="#t132" class="e"/><use href="#t132" class="f"/><use href="#t133" class="e"/><use href="#t133" class="f"/><use href="#t134" class="e"/><use href="#t134" class="f"/><use href="#t135" class="e"/><use href="#t135" class="f"/>
</g>
<polyline class="cy" points="40.5,55.9 41.4,55.9 42.3,56 43.1,56 44,56 44.9,56.1 45.8,56.1 46.6,56.2 47.5,56.2 48.4,56.3 49.3,56.3 50.2,56.3 51,56.4 51.9,56.4 52.8,56.5 53.7,56.5 54.6,56.6 55.4,56.6 56.3,56.6 57.2,56.7 58.1,56.7 58.9,56.8 59.8,56.8 60.7,56.8 61.6,56.9 62.5,56.9 63.3,57 64.2,57 65.1,57 66,57 66.9,57 67.7,57.1 68.6,57 69.5,56.8 70.4,56.6 71.2,56.6 72.1,56.6 73,56.4 73.9,56 74.8,55.3 75.6,54.8 76.5,54.6 77.4,54.5 78.3,54.4 79.1,54.1 80,54.1 80.9,55.1 81.8,56.7 82.7,57.8 83.5,57.1 84.4,54.3 85.3,50.6 86.2,48.3 87.1,49 87.9,52.5 88.8,56.8 89.7,59.3 90.6,59.4 91.4,58.2 92.3,57.1 93.2,56.6 94.1,56.2 95,55.3 95.8,54 96.7,53.4 97.6,54 98.5,55.3 99.4,56.1 100.2,55.3 101.1,53.3 102,51.8 102.9,52.2 103.7,54.6 104.6,57.4 105.5,58.4 106.4,57 107.3,54.7 108.1,53.5 109,55 109.9,58.2 110.8,61.1 111.6,61.7 112.5,59.6 113.4,56.2 114.3,53.1 115.2,51.3 116,50.5 116.9,50.4 117.8,50.9 118.7,52.6 119.6,55.7 120.4,59.1 121.3,61 122.2,60 123.1,56.6 123.9,53.2 124.8,51.9 125.7,53.4 126.6,56.4 127.5,58.5 128.3,58.4 129.2,56.8 130.1,55.6 131,56.2 131.8,58.4 132.7,60.7 133.6,61.5 134.5,60.6 135.4,59.2 136.2,58.3 137.1,58.3 138,58.5 138.9,58.1 139.8,57.4 140.6,57.4 141.5,58.4 142.4,60 143.3,60.4 144.1,58.5 145,54.9 145.9,51.9 146.8,51.9 147.7,55.4 148.5,60.8 149.4,65.2 150.3,66.6 151.2,65 152.1,62.2 152.9,60 153.8,59 154.7,58.7 155.6,58.1 156.4,57.4 157.3,57.2 158.2,58.2 159.1,60 160,61.2 160.8,61.2 161.7,60.1 162.6,59.3 163.5,60.1 164.3,62 165.2,63.3 166.1,62.6 167,59.9 167.9,57 168.7,56.2 169.6,58.4 170.5,62.4 171.4,65.7 172.3,66.3 173.1,64.5 174,61.9 174.9,60.3 175.8,60.5 176.6,61.8 177.5,63.1 178.4,64.3 179.3,65.5 180.2,67 181,67.9 181.9,67 182.8,63.7 183.7,59.8 184.6,57.3 185.4,57.5 186.3,59.5 187.2,61.8 188.1,63 188.9,62.8 189.8,62.2 190.7,62 191.6,62.3 192.5,62.7 193.3,62.8 194.2,62.5 195.1,62 196,61.4 196.8,61 197.7,60.6 198.6,60.2 199.5,59.8 200.4,59.4 201.2,59 202.1,58.6 203,58.1 203.9,57.7 204.8,57.3 205.6,56.8 206.5,56.3 207.4,55.7 208.3,55.1 209.1,54.5 210,54 210.9,53.4 211.8,53 212.7,52.7 213.5,52.6 214.4,52.5 215.3,52.5 216.2,52.4 217.1,52.4 217.9,52.3 218.8,52.3 219.7,52.2 220.6,52.1 221.4,52.1 222.3,52 223.2,52 224.1,51.9 225,51.9 225.8,51.9 226.7,51.8 227.6,51.8 228.5,51.8 229.3,51.8 230.2,51.8 231.1,51.8 232,51.8 232.9,51.8 233.7,51.8 234.6,51.8 235.5,51.8 236.4,51.8 237.3,51.8 238.1,51.8 239,51.8 239.9,51.8 240.8,51.8 241.6,51.8"/>
<polyline class="cy" points="40.5,87.5 41.4,87.5 42.3,87.5 43.1,87.5 44,87.5 44.9,87.5 45.8,87.5 46.6,87.5 47.5,87.5 48.4,87.5 49.3,87.5 50.2,87.5 51,87.5 51.9,87.5 52.8,87.5 53.7,87.5 54.6,87.5 55.4,87.5 56.3,87.5 57.2,87.5 58.1,87.5 58.9,87.5 59.8,87.5 60.7,87.5 61.6,87.5 62.5,87.5 63.3,87.5 64.2,87.5 65.1,87.4 66,87.2 66.9,87.1 67.7,86.9 68.6,86.7 69.5,86.4 70.4,86.1 71.2,86 72.1,85.8 73,85.5 73.9,85.1 74.8,84.6 75.6,84.2 76.5,84 77.4,84 78.3,83.9 79.1,83.8 80,83.9 80.9,84.6 81.8,85.6 82.7,86.3 83.5,85.7 84.4,83.6 85.3,81.1 86.2,79.5 87.1,79.9 87.9,82.2 88.8,84.9 89.7,86.3 90.6,86.3 91.4,85.4 92.3,84.7 93.2,84.4 94.1,84.1 95,83.5 95.8,82.7 96.7,82.3 97.6,82.8 98.5,83.8 99.4,84.4 100.2,83.9 101.1,82.6 102,81.7 102.9,82.1 103.7,83.7 104.6,85.4 105.5,85.9 106.4,84.9 107.3,83.4 108.1,82.8 109,83.9 109.9,86.2 110.8,88 111.6,88.2 112.5,86.6 113.4,84.3 114.3,82.2 115.2,80.9 116,80.4 116.9,80.3 117.8,80.6 118.7,81.8 119.6,83.8 120.4,86.1 121.3,87.2 122.2,86.4 123.1,84 123.9,81.7 124.8,80.8 125.7,81.8 126.6,83.6 127.5,84.8 128.3,84.6 129.2,83.5 130.1,82.7 131,83.2 131.8,84.7 132.7,86.1 133.6,86.5 134.5,85.7 135.4,84.7 136.2,84.1 137.1,84.1 138,84.3 138.9,84.2 139.8,83.8 140.6,83.8 141.5,84.6 142.4,85.6 143.3,85.8 144.1,84.4 145,82.1 145.9,80.2 146.8,80.4 147.7,82.9 148.5,86.6 149.4,89.6 150.3,90.5 151.2,89.5 152.1,87.7 152.9,86.4 153.8,85.9 154.7,85.6 155.6,85.2 156.4,84.7 157.3,84.6 158.2,85.4 159.1,86.6 160,87.6 160.8,87.6 161.7,87 162.6,86.6 163.5,87.1 164.3,88.4 165.2,89.2 166.1,88.7 167,86.9 167.9,85 168.7,84.7 169.6,86.4 170.5,89.1 171.4,91.2 172.3,91.5 173.1,90.2 174,88.5 174.9,87.6 175.8,87.9 176.6,88.8 177.5,89.8 178.4,90.7 179.3,91.6 180.2,92.6 181,93.3 181.9,92.6 182.8,90.3 183.7,87.6 184.6,86 185.4,86.1 186.3,87.4 187.2,88.8 188.1,89.5 188.9,89.4 189.8,89 190.7,88.9 191.6,89.1 192.5,89.3 193.3,89.3 194.2,89 195.1,88.6 196,88.3 196.8,88 197.7,87.8 198.6,87.5 199.5,87.2 200.4,86.9 201.2,86.7 202.1,86.4 203,86.1 203.9,85.8 204.8,85.5 205.6,85.2 206.5,84.9 207.4,84.6 208.3,84.3 209.1,84 210,83.7 210.9,83.3 211.8,83 212.7,82.7 213.5,82.4 214.4,82.1 215.3,81.8 216.2,81.7 217.1,81.6 217.9,81.5 218.8,81.5 219.7,81.4 220.6,81.3 221.4,81.3 222.3,81.2 223.2,81.2 224.1,81.1 225,81 225.8,81 226.7,81 227.6,81 228.5,81 229.3,80.9 230.2,80.9 231.1,80.9 232,80.9 232.9,80.9 233.7,80.9 234.6,80.8 235.5,80.8 236.4,80.8 237.3,80.8 238.1,80.8 239,80.8 239.9,80.7 240.8,80.7 241.6,80.7"/>
<polyline class="cy" points="40.5,119.1 41.4,119.1 42.3,119 43.1,118.9 44,118.9 44.9,118.8 45.8,118.7 46.6,118.6 47.5,118.5 48.4,118.5 49.3,118.4 50.2,118.3 51,118.2 51.9,118.2 52.8,118.1 53.7,118 54.6,117.9 55.4,117.9 56.3,117.8 57.2,117.7 58.1,117.6 58.9,117.6 59.8,117.5 60.7,117.4 61.6,117.3 62.5,117.3 63.3,117.2 64.2,117.1 65.1,116.9 66,116.8 66.9,116.7 67.7,116.6 68.6,116.4 69.5,116.2 70.4,116 71.2,115.9 72.1,115.8 73,115.6 73.9,115.2 74.8,114.9 75.6,114.6 76.5,114.5 77.4,114.4 78.3,114.4 79.1,114.3 80,114.4 80.9,114.7 81.8,115.2 82.7,115.3 83.5,114.8 84.4,113.6 85.3,112.3 86.2,111.5 87.1,111.9 87.9,113.1 88.8,114.3 89.7,114.8 90.6,114.7 91.4,114.3 92.3,114 93.2,113.9 94.1,113.7 95,113.3 95.8,112.8 96.7,112.5 97.6,112.7 98.5,113.1 99.4,113.3 100.2,113 101.1,112.3 102,111.9 102.9,112 103.7,112.8 104.6,113.4 105.5,113.5 106.4,112.9 107.3,112.3 108.1,112.3 109,113.2 109.9,114.5 110.8,115.4 111.6,115.3 112.5,114.4 113.4,113.1 114.3,112.1 115.2,111.5 116,111.3 116.9,111.3 117.8,111.5 118.7,112.2 119.6,113.3 120.4,114.4 121.3,114.9 122.2,114.4 123.1,113.2 123.9,112 124.8,111.7 125.7,112.2 126.6,112.9 127.5,113.3 128.3,113 129.2,112.5 130.1,112.3 131,112.7 131.8,113.6 132.7,114.2 133.6,114.2 134.5,113.7 135.4,113.1 136.2,112.9 137.1,113 138,113.2 138.9,113.2 139.8,113.1 140.6,113.1 141.5,113.5 142.4,113.8 143.3,113.7 144.1,112.8 145,111.5 145.9,110.7 146.8,111 147.7,112.5 148.5,114.4 149.4,115.8 150.3,116.1 151.2,115.5 152.1,114.8 152.9,114.3 153.8,114 154.7,113.9 155.6,113.5 156.4,113.1 157.3,113 158.2,113.4 159.1,114.1 160,114.6 160.8,114.7 161.7,114.4 162.6,114.2 163.5,114.5 164.3,115 165.2,115.2 166.1,114.7 167,113.7 167.9,112.9 168.7,113 169.6,114 170.5,115.3 171.4,116.1 172.3,116 173.1,115.2 174,114.3 174.9,114 175.8,114.3 176.6,114.9 177.5,115.4 178.4,115.9 179.3,116.4 180.2,117 181,117.3 181.9,116.8 182.8,115.5 183.7,114 184.6,113.2 185.4,113.2 186.3,113.7 187.2,114.3 188.1,114.5 188.9,114.4 189.8,114.2 190.7,114.2 191.6,114.2 192.5,114.3 193.3,114.2 194.2,114 195.1,113.7 196,113.5 196.8,113.4 197.7,113.3 198.6,113.1 199.5,113 200.4,112.9 201.2,112.7 202.1,112.6 203,112.4 203.9,112.3 204.8,112.2 205.6,112 206.5,111.9 207.4,111.8 208.3,111.7 209.1,111.5 210,111.4 210.9,111.3 211.8,111.2 212.7,111 213.5,110.9 214.4,110.8 215.3,110.7 216.2,110.6 217.1,110.6 217.9,110.6 218.8,110.6 219.7,110.5 220.6,110.5 221.4,110.5 222.3,110.5 223.2,110.4 224.1,110.4 225,110.4 225.8,110.4 226.7,110.3 227.6,110.3 228.5,110.3 229.3,110.3 230.2,110.2 231.1,110.2 232,110.2 232.9,110.2 233.7,110.1 234.6,110.1 235.5,110.1 236.4,110.1 237.3,110 238.1,110 239,110 239.9,110 240.8,110 241.6,110"/>
<polyline class="cy" points="40.5,182 41.4,182 42.3,181.9 43.1,181.8 44,181.7 44.9,181.7 45.8,181.6 46.6,181.5 47.5,181.4 48.4,181.4 49.3,181.3 50.2,181.2 51,181.1 51.9,181 52.8,180.9 53.7,180.7 54.6,180.5 55.4,180.3 56.3,180.1 57.2,179.9 58.1,179.7 58.9,179.5 59.8,179.3 60.7,179.1 61.6,178.9 62.5,178.7 63.3,178.5 64.2,178.3 65.1,178.1 66,177.9 66.9,177.6 67.7,177.4 68.6,177.1 69.5,177 70.4,177 71.2,176.9 72.1,176.7 73,176.3 73.9,175.8 74.8,175.4 75.6,175 76.5,174.6 77.4,174.3 78.3,174.3 79.1,174.7 80,175.2 80.9,175.4 81.8,174.9 82.7,173.8 83.5,172.7 84.4,172.3 85.3,172.9 86.2,173.9 87.1,174.6 87.9,174.2 88.8,173 89.7,172 90.6,171.6 91.4,172 92.3,172.3 93.2,172.2 94.1,171.5 95,170.8 95.8,170.4 96.7,170.4 97.6,170.5 98.5,170.5 99.4,170.5 100.2,170.9 101.1,171.7 102,172.5 102.9,172.5 103.7,171.2 104.6,169.2 105.5,167.4 106.4,167 107.3,168.2 108.1,170.2 109,171.7 109.9,172.1 110.8,171.3 111.6,170.2 112.5,169.5 113.4,169.3 114.3,169.2 115.2,169 116,168.7 116.9,168.7 117.8,169 118.7,169.4 119.6,169.4 120.4,168.9 121.3,168.1 122.2,167.8 123.1,168.3 123.9,169.4 124.8,170.1 125.7,169.9 126.6,168.7 127.5,167.6 128.3,167.4 129.2,168.4 130.1,169.9 131,171 131.8,170.8 132.7,169.5 133.6,167.9 134.5,166.7 135.4,166.3 136.2,166.4 137.1,166.7 138,167.3 138.9,168.1 139.8,169.1 140.6,169.9 141.5,169.7 142.4,168.5 143.3,166.8 144.1,165.5 145,165.5 145.9,166.6 146.8,167.8 147.7,168.2 148.5,167.6 149.4,166.6 150.3,166 151.2,166.4 152.1,167.4 152.9,168.2 153.8,168.1 154.7,167.3 155.6,166.4 156.4,165.8 157.3,165.7 158.2,165.8 159.1,165.8 160,165.8 160.8,166 161.7,166.5 162.6,166.8 163.5,166.5 164.3,165.1 165.2,163.5 166.1,162.6 167,163.1 167.9,165 168.7,167.1 169.6,168.2 170.5,167.9 171.4,166.4 172.3,164.9 173.1,164.1 174,164.1 174.9,164.3 175.8,164.3 176.6,164.2 177.5,164.2 178.4,164.5 179.3,164.9 180.2,165.1 181,164.8 181.9,164.3 182.8,164.2 183.7,164.6 184.6,165.1 185.4,165.2 186.3,164.7 187.2,163.9 188.1,163.6 188.9,163.9 189.8,164.6 190.7,165.2 191.6,165.5 192.5,165.3 193.3,165 194.2,164.9 195.1,165 196,165.1 196.8,165.3 197.7,165.4 198.6,165.6 199.5,165.7 200.4,165.8 201.2,166 202.1,166.1 203,166.2 203.9,166.4 204.8,166.5 205.6,166.6 206.5,166.7 207.4,166.7 208.3,166.8 209.1,166.9 210,167 210.9,167 211.8,167.1 212.7,167.2 213.5,167.2 214.4,167.3 215.3,167.4 216.2,167.4 217.1,167.4 217.9,167.4 218.8,167.4 219.7,167.5 220.6,167.5 221.4,167.5 222.3,167.5 223.2,167.5 224.1,167.5 225,167.5 225.8,167.5 226.7,167.6 227.6,167.6 228.5,167.6 229.3,167.6 230.2,167.6 231.1,167.6 232,167.6 232.9,167.7 233.7,167.7 234.6,167.7 235.5,167.7 236.4,167.7 237.3,167.7 238.1,167.7 239,167.7 239.9,167.8 240.8,167.8 241.6,167.8"/>
<polyline class="cy" points="40.5,213.9 41.4,213.9 42.3,213.8 43.1,213.7 44,213.6 44.9,213.5 45.8,213.4 46.6,213.3 47.5,213.2 48.4,213.1 49.3,213 50.2,212.9 51,212.8 51.9,212.6 52.8,212.4 53.7,212.2 54.6,211.8 55.4,211.5 56.3,211.2 57.2,210.9 58.1,210.5 58.9,210.2 59.8,209.9 60.7,209.6 61.6,209.2 62.5,208.9 63.3,208.6 64.2,208.3 65.1,208 66,207.7 66.9,207.3 67.7,206.9 68.6,206.6 69.5,206.5 70.4,206.6 71.2,206.5 72.1,206.1 73,205.6 73.9,204.9 74.8,204.2 75.6,203.5 76.5,202.9 77.4,202.4 78.3,202.5 79.1,203.2 80,204.1 80.9,204.5 81.8,203.6 82.7,201.7 83.5,200 84.4,199.7 85.3,201.1 86.2,203.1 87.1,204.2 87.9,203.5 88.8,201.5 89.7,199.8 90.6,199.5 91.4,200.1 92.3,200.7 93.2,200.4 94.1,199.3 95,198.2 95.8,197.8 96.7,198 97.6,198.4 98.5,198.6 99.4,198.9 100.2,199.9 101.1,201.8 102,203.5 102.9,203.5 103.7,201.2 104.6,197.5 105.5,194.4 106.4,193.8 107.3,195.9 108.1,199.3 109,201.8 109.9,202.2 110.8,200.9 111.6,199.1 112.5,198 113.4,197.7 114.3,197.6 115.2,197.2 116,196.6 116.9,196.5 117.8,197 118.7,197.7 119.6,197.6 120.4,196.6 121.3,195.2 122.2,194.8 123.1,195.9 123.9,197.9 124.8,199.1 125.7,198.6 126.6,196.6 127.5,194.6 128.3,194.5 129.2,196.5 130.1,199.2 131,200.9 131.8,200.2 132.7,197.8 133.6,194.8 134.5,192.8 135.4,191.9 136.2,192 137.1,192.4 138,193.3 138.9,194.9 139.8,197 140.6,198.5 141.5,198.3 142.4,196.2 143.3,193.3 144.1,191.4 145,191.6 145.9,193.6 146.8,195.6 147.7,196.2 148.5,195 149.4,193.1 150.3,192.4 151.2,193.3 152.1,195.2 152.9,196.5 153.8,196.3 154.7,194.9 155.6,193.4 156.4,192.5 157.3,192.4 158.2,192.5 159.1,192.4 160,192.4 160.8,192.8 161.7,193.8 162.6,194.4 163.5,193.6 164.3,191.2 165.2,188.4 166.1,187 167,188.3 167.9,191.9 168.7,195.7 169.6,197.6 170.5,196.9 171.4,194.5 172.3,192.1 173.1,190.8 174,190.7 174.9,190.9 175.8,190.6 176.6,190.1 177.5,190 178.4,190.5 179.3,191.2 180.2,191.4 181,190.8 181.9,190.1 182.8,190.1 183.7,191.1 184.6,192.1 185.4,192.2 186.3,191.2 187.2,189.9 188.1,189.3 188.9,190 189.8,191.3 190.7,192.4 191.6,192.8 192.5,192.5 193.3,192.1 194.2,191.9 195.1,192 196,192.3 196.8,192.6 197.7,192.8 198.6,193 199.5,193.2 200.4,193.4 201.2,193.6 202.1,193.8 203,194 203.9,194.2 204.8,194.4 205.6,194.6 206.5,194.8 207.4,194.9 208.3,195.1 209.1,195.2 210,195.4 210.9,195.5 211.8,195.7 212.7,195.8 213.5,196 214.4,196.1 215.3,196.2 216.2,196.3 217.1,196.3 217.9,196.3 218.8,196.4 219.7,196.4 220.6,196.4 221.4,196.4 222.3,196.5 223.2,196.5 224.1,196.5 225,196.5 225.8,196.6 226.7,196.6 227.6,196.6 228.5,196.6 229.3,196.7 230.2,196.7 231.1,196.7 232,196.7 232.9,196.8 233.7,196.8 234.6,196.8 235.5,196.8 236.4,196.9 237.3,196.9 238.1,196.9 239,196.9 239.9,197 240.8,197 241.6,197"/>
<polyline class="cy" points="40.5,245.5 41.4,245.5 42.3,245.4 43.1,245.2 44,245.1 44.9,245 45.8,244.9 46.6,244.8 47.5,244.6 48.4,244.5 49.3,244.4 50.2,244.3 51,244.1 51.9,244 52.8,243.7 53.7,243.4 54.6,242.9 55.4,242.5 56.3,242.1 57.2,241.6 58.1,241.2 58.9,240.8 59.8,240.4 60.7,239.9 61.6,239.5 62.5,239.1 63.3,238.6 64.2,238.2 65.1,237.9 66,237.5 66.9,237 67.7,236.6 68.6,236.3 69.5,236.3 70.4,236.4 71.2,236.4 72.1,236 73,235.2 73.9,234.3 74.8,233.5 75.6,232.6 76.5,231.7 77.4,231 78.3,231.2 79.1,232.2 80,233.6 80.9,234.1 81.8,232.8 82.7,230.1 83.5,227.7 84.4,227.3 85.3,229.2 86.2,231.9 87.1,233.2 87.9,232 88.8,228.9 89.7,226.3 90.6,225.7 91.4,226.6 92.3,227.3 93.2,226.7 94.1,225 95,223.4 95.8,223 96.7,223.4 97.6,224 98.5,224.3 99.4,224.8 100.2,226.4 101.1,229.3 102,231.8 102.9,231.8 103.7,228.5 104.6,223.1 105.5,218.8 106.4,218.1 107.3,221.2 108.1,226.1 109,229.6 109.9,230.2 110.8,228.3 111.6,226 112.5,224.7 113.4,224.4 114.3,224.4 115.2,223.8 116,223 116.9,222.9 117.8,223.8 118.7,224.8 119.6,224.7 120.4,223.2 121.3,221.4 122.2,220.9 123.1,222.8 123.9,225.7 124.8,227.7 125.7,226.9 126.6,224.1 127.5,221.5 128.3,221.6 129.2,224.6 130.1,228.7 131,231 131.8,230.1 132.7,226.5 133.6,222.4 134.5,219.5 135.4,218.4 136.2,218.5 137.1,219.1 138,220.5 138.9,222.8 139.8,225.8 140.6,228.1 141.5,227.9 142.4,224.9 143.3,220.9 144.1,218.3 145,218.7 145.9,221.6 146.8,224.5 147.7,225.1 148.5,223.3 149.4,220.7 150.3,219.7 151.2,221.1 152.1,223.9 152.9,225.8 153.8,225.5 154.7,223.5 155.6,221.3 156.4,220.1 157.3,220 158.2,220.1 159.1,219.8 160,219.7 160.8,220.3 161.7,221.6 162.6,222.5 163.5,221.3 164.3,217.8 165.2,213.7 166.1,211.8 167,213.8 167.9,219 168.7,224.5 169.6,227.2 170.5,226.2 171.4,222.7 172.3,219.2 173.1,217.4 174,217.1 174.9,217.1 175.8,216.5 176.6,215.6 177.5,215.2 178.4,215.7 179.3,216.6 180.2,216.8 181,215.8 181.9,214.8 182.8,215 183.7,216.5 184.6,218 185.4,218.1 186.3,216.7 187.2,214.8 188.1,214 188.9,215 189.8,217 190.7,218.6 191.6,219.1 192.5,218.7 193.3,218.2 194.2,217.9 195.1,218.2 196,218.7 196.8,219.2 197.7,219.6 198.6,220 199.5,220.5 200.4,220.9 201.2,221.3 202.1,221.7 203,222.1 203.9,222.6 204.8,222.9 205.6,223.3 206.5,223.6 207.4,223.8 208.3,224 209.1,224.2 210,224.5 210.9,224.7 211.8,224.9 212.7,225.2 213.5,225.4 214.4,225.6 215.3,225.8 216.2,225.9 217.1,225.9 217.9,225.9 218.8,225.9 219.7,225.9 220.6,225.9 221.4,225.9 222.3,226 223.2,226 224.1,226 225,226 225.8,226 226.7,226 227.6,226 228.5,226 229.3,226 230.2,226.1 231.1,226.1 232,226.1 232.9,226.1 233.7,226.1 234.6,226.1 235.5,226.1 236.4,226.1 237.3,226.1 238.1,226.2 239,226.2 239.9,226.2 240.8,226.2 241.6,226.2"/>
<polyline class="bk" points="40.5,150.4 41.4,150.3 42.3,150.3 43.1,150.2 44,150.2 44.9,150.1 45.8,150.1 46.6,150 47.5,150 48.4,149.9 49.3,149.9 50.2,149.8 51,149.8 51.9,149.7 52.8,149.6 53.7,149.4 54.6,149.2 55.4,149 56.3,148.8 57.2,148.6 58.1,148.4 58.9,148.2 59.8,148 60.7,147.8 61.6,147.6 62.5,147.4 63.3,147.2 64.2,147 65.1,146.9 66,146.7 66.9,146.6 67.7,146.5 68.6,146.3 69.5,146.2 70.4,146.2 71.2,146.1 72.1,146 73,145.8 73.9,145.5 74.8,145.3 75.6,145.2 76.5,145 77.4,144.9 78.3,144.9 79.1,144.9 80,145 80.9,145 81.8,144.9 82.7,144.5 83.5,143.9 84.4,143.5 85.3,143.4 86.2,143.6 87.1,144 87.9,144.1 88.8,143.8 89.7,143.4 90.6,143.2 91.4,143.3 92.3,143.6 93.2,143.8 94.1,143.7 95,143.5 95.8,143.2 96.7,143 97.6,143 98.5,142.9 99.4,142.7 100.2,142.5 101.1,142.4 102,142.5 102.9,142.5 103.7,142.3 104.6,141.8 105.5,141.3 106.4,141 107.3,141.3 108.1,142 109,142.7 109.9,143.1 110.8,142.9 111.6,142.4 112.5,141.9 113.4,141.6 114.3,141.6 115.2,141.6 116,141.6 116.9,141.6 117.8,141.7 118.7,141.8 119.6,142 120.4,142 121.3,141.7 122.2,141.4 123.1,141.3 123.9,141.4 124.8,141.7 125.7,141.7 126.6,141.3 127.5,140.8 128.3,140.4 129.2,140.5 130.1,140.9 131,141.4 131.8,141.7 132.7,141.5 133.6,141 134.5,140.7 135.4,140.6 136.2,140.8 137.1,141 138,141.3 138.9,141.4 139.8,141.5 140.6,141.6 141.5,141.5 142.4,141.1 143.3,140.5 144.1,139.9 145,139.7 145.9,139.9 146.8,140.5 147.7,140.9 148.5,141 149.4,140.8 150.3,140.5 151.2,140.4 152.1,140.6 152.9,140.9 153.8,141 154.7,140.8 155.6,140.4 156.4,140.2 157.3,140.1 158.2,140.2 159.1,140.4 160,140.5 160.8,140.6 161.7,140.7 162.6,140.9 163.5,140.9 164.3,140.7 165.2,140.3 166.1,139.8 167,139.6 167.9,139.9 168.7,140.4 169.6,140.9 170.5,140.8 171.4,140.3 172.3,139.7 173.1,139.2 174,139.2 174.9,139.5 175.8,139.9 176.6,140.1 177.5,140.2 178.4,140.3 179.3,140.5 180.2,140.6 181,140.5 181.9,140.3 182.8,139.9 183.7,139.8 184.6,139.8 185.4,139.9 186.3,139.8 187.2,139.6 188.1,139.4 188.9,139.4 189.8,139.5 190.7,139.7 191.6,139.8 192.5,139.7 193.3,139.6 194.2,139.5 195.1,139.5 196,139.4 196.8,139.4 197.7,139.4 198.6,139.4 199.5,139.4 200.4,139.4 201.2,139.3 202.1,139.3 203,139.3 203.9,139.3 204.8,139.2 205.6,139.2 206.5,139.2 207.4,139.2 208.3,139.2 209.1,139.2 210,139.2 210.9,139.2 211.8,139.2 212.7,139.1 213.5,139.1 214.4,139.1 215.3,139.1 216.2,139.1 217.1,139.1 217.9,139.1 218.8,139.1 219.7,139.1 220.6,139.1 221.4,139.1 222.3,139.1 223.2,139 224.1,139 225,139 225.8,139 226.7,139 227.6,139 228.5,139 229.3,139 230.2,139 231.1,139 232,139 232.9,139 233.7,138.9 234.6,138.9 235.5,138.9 236.4,138.9 237.3,138.9 238.1,138.9 239,138.9 239.9,138.9 240.8,138.9 241.6,138.9"/>
</g>
<path class="hb" d="M41.3 32.5v-0.8h4.89v0.8zM46.19 32.5v-2h4.89v2zM51.08 32.5v-3.2h4.89v3.2zM55.97 32.5v-4h4.89v4zM60.86 32.5v-5.2h4.89v5.2zM65.75 32.5v-7.4h4.89v7.4zM70.64 32.5v-9.2h4.89v9.2zM75.53 32.5v-10.9h4.89v10.9zM80.42 32.5v-13.1h4.89v13.1zM85.31 32.5v-15.8h4.89v15.8zM90.2 32.5v-17.7h4.89v17.7zM95.09 32.5v-20h4.89v20zM99.98 32.5v-23.2h4.89v23.2zM104.87 32.5v-25h4.89v25zM109.76 32.5v-26.5h4.89v26.5zM114.65 32.5v-28.7h4.89v28.7zM119.54 32.5v-28.9h4.89v28.9zM124.43 32.5v-28.9h4.89v28.9zM129.32 32.5v-30.5h4.89v30.5zM134.21 32.5v-30.8h4.89v30.8zM139.1 32.5v-29.6h4.89v29.6zM143.99 32.5v-29.5h4.89v29.5zM148.88 32.5v-28.8h4.89v28.8zM153.77 32.5v-27.3h4.89v27.3zM158.66 32.5v-25.6h4.89v25.6zM163.55 32.5v-23.2h4.89v23.2zM168.44 32.5v-20h4.89v20zM173.33 32.5v-17h4.89v17zM178.22 32.5v-13.9h4.89v13.9zM183.11 32.5v-12.2h4.89v12.2zM188 32.5v-9.2h4.89v9.2zM192.89 32.5v-7.4h4.89v7.4zM197.78 32.5v-6h4.89v6zM202.67 32.5v-4h4.89v4zM207.56 32.5v-2.8h4.89v2.8zM212.45 32.5v-1.9h4.89v1.9zM217.34 32.5v-1h4.89v1zM222.23 32.5v-0.5h4.89v0.5zM227.12 32.5v-0.2h4.89v0.2zM232.01 32.5v-0.2h4.89v0.2zM236.9 32.5v-0.1h4.89v0.1z"/>
<path class="hl" d="M41.3 32.3H241.8"/>
<rect class="fr" x="40.5" y="32.5" width="215" height="218"/>
<path class="tk" d="M40.5 250.5v-2.6M40.5 32.5v2.6M64.39 250.5v-2.6M64.39 32.5v2.6M88.28 250.5v-2.6M88.28 32.5v2.6M112.17 250.5v-2.6M112.17 32.5v2.6M136.06 250.5v-2.6M136.06 32.5v2.6M159.94 250.5v-2.6M159.94 32.5v2.6M183.83 250.5v-2.6M183.83 32.5v2.6M207.72 250.5v-2.6M207.72 32.5v2.6M231.61 250.5v-2.6M231.61 32.5v2.6M255.5 250.5v-2.6M255.5 32.5v2.6M40.5 250.5h2.6M255.5 250.5h-2.6M40.5 223.25h2.6M255.5 223.25h-2.6M40.5 196h2.6M255.5 196h-2.6M40.5 168.75h2.6M255.5 168.75h-2.6M40.5 141.5h2.6M255.5 141.5h-2.6M40.5 114.25h2.6M255.5 114.25h-2.6M40.5 87h2.6M255.5 87h-2.6M40.5 59.75h2.6M255.5 59.75h-2.6M40.5 32.5h2.6M255.5 32.5h-2.6"/>
<text class="tl" x="40.5" y="259.7" text-anchor="middle">0</text>
<text class="tl" x="64.4" y="259.7" text-anchor="middle">10</text>
<text class="tl" x="88.3" y="259.7" text-anchor="middle">20</text>
<text class="tl" x="112.2" y="259.7" text-anchor="middle">30</text>
<text class="tl" x="136.1" y="259.7" text-anchor="middle">40</text>
<text class="tl" x="159.9" y="259.7" text-anchor="middle">50</text>
<text class="tl" x="183.8" y="259.7" text-anchor="middle">60</text>
<text class="tl" x="207.7" y="259.7" text-anchor="middle">70</text>
<text class="tl" x="231.6" y="259.7" text-anchor="middle">80</text>
<text class="tl" x="255.5" y="259.7" text-anchor="middle">90</text>
</g>
<g id="pT2">
<rect x="292.6" y="32.5" width="215" height="218" fill="#f5f5f5"/>
<path class="gr" d="M314.1 32.5V250.5M357.1 32.5V250.5M400.1 32.5V250.5M443.1 32.5V250.5M486.1 32.5V250.5M292.6 223.25H507.6M292.6 196H507.6M292.6 168.75H507.6M292.6 141.5H507.6M292.6 114.25H507.6M292.6 87H507.6M292.6 59.75H507.6"/>
<clipPath id="cT2"><rect x="292.6" y="32.5" width="215" height="218"/></clipPath>
<g clip-path="url(#cT2)">
<path class="un" transform="translate(292.6 33)" d="M141 21h3M141 22h3M141 23h3M139 24h7M139 25h7M141 26h5M141 27h5M154 27h5M130 28h3M138 28h8M154 28h5M138 29h11M154 29h5M138 30h13M156 30h3M137 31h22M137 32h6M144 32h12M122 33h3M133 33h10M145 33h10M157 33h5M121 34h35M157 34h5M120 35h36M157 35h5M119 36h43M119 37h43M116 38h42M117 39h41M114 40h44M114 41h41M114 42h48M114 43h49M112 44h50M111 45h52M111 46h55M99 47h5M105 47h58M99 48h63M97 49h68M100 50h65M97 51h68M97 52h68M96 53h69M96 54h69M93 55h72M93 56h73M95 57h71M93 58h73M89 59h78M88 60h78M87 61h79M86 62h81M84 63h83M75 64h3M85 64h85M74 65h4M84 65h87M73 66h5M84 66h87M73 67h3M84 67h87M72 68h6M83 68h88M72 69h6M83 69h86M72 70h6M82 70h87M72 71h97M71 72h98M170 72h3M71 73h103M71 74h102M71 75h101M71 76h101M70 77h102M70 78h102M70 79h103M69 80h104M69 81h104M69 82h104M69 83h104M69 84h105M68 85h106M64 86h113M63 87h115M64 88h112M64 89h112M61 90h115M57 91h118M50 92h6M57 92h120M50 93h7M58 93h119M50 94h5M57 94h6M65 94h112M50 95h5M58 95h5M65 95h111M51 96h4M58 96h4M66 96h110M56 97h4M66 97h110M56 98h6M64 98h112M52 99h10M63 99h115M52 100h9M63 100h116M51 101h11M63 101h116M51 102h11M63 102h116M51 103h11M63 103h116M54 104h123M54 105h123M54 106h119M53 107h124M53 108h124M53 109h3M57 109h121M50 110h5M57 110h120M50 111h3M56 111h123M53 112h10M64 112h116M53 113h127M55 114h124M53 115h126M53 116h125M54 117h123M53 118h124M54 119h123M55 120h6M64 120h113M57 121h4M65 121h112M66 122h111M66 123h111M67 124h109M67 125h110M68 126h109M68 127h110M68 128h110M70 129h108M71 130h107M74 131h104M73 132h105M73 133h105M73 134h105M73 135h105M73 136h105M73 137h105M71 138h107M72 139h106M76 140h100M71 141h3M80 141h96M82 142h93M84 143h92M86 144h91M85 145h92M84 146h91M84 147h90M86 148h90M85 149h89M90 150h86M90 151h86M90 152h86M92 153h82M91 154h83M92 155h82M97 156h76M99 157h74M100 158h73M100 159h73M101 160h72M101 161h72M102 162h71M99 163h71M100 164h5M106 164h60M170 164h3M99 165h5M106 165h62M98 166h6M105 166h64M98 167h6M106 167h63M100 168h3M108 168h7M116 168h52M99 169h4M107 169h62M110 170h56M110 171h56M120 172h46M111 173h5M120 173h45M117 174h48M117 175h48M117 176h48M117 177h48M166 177h3M117 178h48M122 179h5M132 179h32M122 180h3M133 180h31M133 181h30M133 182h33M131 183h35M129 184h37M131 185h35M131 186h35M131 187h34M135 188h30M135 189h5M141 189h6M149 189h9M136 190h7M144 190h3M150 190h6M150 191h6M150 192h8M141 193h4M150 193h8M140 194h5M148 194h8M140 195h5M148 195h6M140 196h5M148 196h3M153 196h4M140 197h4M148 197h3M146 207h5M146 208h7M146 209h6M148 210h4"/>
<g transform="translate(292.6 32.5) scale(.1)">
<defs><path id="t20" d="M439 862h0m24 47h0m19 170h0m6 170h0m14 104h0m3-308h0m1-435h0m11 470h0m73-194h0m26-147h0m4 559h0m48-643h0m24 71h0m2 654h0m18-19h0m18-740h0m39 74h0m28 751h0m28-28h0m21 247h0m22-115h0m3 3h0m97 73h0m14-1163h0m39-80h0m23 1431h0m13-1438h0m15-54h0m2 32h0m27-78h0m39-14h0m7 1685h0m17-213h0m2 329h0m54-1847h0m23-82h0m10 1696h0m2-1782h0m13 1870h0m1 283h0m16-195h0m15 59h0m10-105h0m42-1843h0m9-26h0m71 1900h0m8 191h0m33-201h0m15-1980h0m11 2132h0m8-12h0m0-2019h0m39-41h0m10 2125h0m45 3h0m5-2135h0m11 1946h0m6 111h0m9-155h0m35-1466h0m3-114h0m14 1712h0m16-333h0m6 66h0m6 182h0m14-1227h0m24-240h0m4 1288h0m9-1789h0m1 1542h0m9-318h0m3-286h0m6-290h0m1 516h0m1-357h0m6 691h0m24-649h0m11 506h0m2-297h0m27-749h0m8 450h0m14 873h0m2-359h0"/><path id="t21" d="M466 1347h0m39-502h0m23 161h0m1-66h0m1 210h0m2-253h0m0 433h0m3-109h0m6-479h0m12 787h0m14-776h0m1 25h0m44-26h0m26 8h0m12 66h0m6-215h0m13 719h0m1-488h0m3-175h0m9 786h0m19-66h0m27 44h0m10-19h0m47-901h0m0 51h0m48 36h0m25 1004h0m23 25h0m8-126h0m52 296h0m2-1369h0m26 1224h0m7-1418h0m16 195h0m13 1335h0m28 87h0m72-1578h0m6 187h0m67-175h0m23-292h0m0 304h0m10 1720h0m7-1909h0m25 2006h0m11 6h0m50 75h0m50-2063h0m1 1917h0m5-11h0m18 37h0m20-2023h0m23 1914h0m68 81h0m16 56h0m6-1943h0m26 2039h0m11-2051h0m26 66h0m4 1932h0m8-71h0m2-1828h0m39 113h0m11 1827h0m7-1781h0m30 1703h0m1-170h0m13 19h0m5 8h0m2-1708h0m0 1476h0m14-934h0m23 737h0m3-1132h0m5 361h0m21 7h0m6 144h0m5-301h0m4 1024h0m30-1043h0m4 630h0m26 498h0m24-481h0m0-250h0"/><path id="t22" d="M235 1136h0m242-121h0m20 354h0m17-18h0m41-102h0m26-467h0m7 458h0m46 291h0m62-129h0m6-788h0m18 747h0m31 326h0m31 0h0m14-287h0m5 246h0m34-1005h0m12 29h0m25 898h0m8-1081h0m13 58h0m54 1049h0m0-1297h0m1 114h0m12-13h0m34 1296h0m19-1311h0m2 1356h0m3-134h0m9 335h0m14-1670h0m3 1691h0m8-266h0m11 147h0m44 12h0m7 36h0m6-1567h0m12 1769h0m13-12h0m35-1771h0m14 1609h0m41 168h0m3-2085h0m13 22h0m46 244h0m30 1674h0m2-1777h0m1 80h0m11 1783h0m4 74h0m11-2015h0m12 107h0m6-10h0m29-134h0m37 2029h0m66-1912h0m25 105h0m15 61h0m5 1453h0m28 414h0m13-21h0m45-1959h0m12 150h0m13 1467h0m20-1578h0m1 1492h0m1 308h0m17-993h0m4 649h0m10-951h0m24 941h0m3-102h0m29-112h0m4-154h0m3 175h0m4 69h0m13-580h0m2 787h0m4-662h0m4 313h0m29-784h0m11 933h0m2-253h0m35 192h0"/><path id="t23" d="M485 1102h0m29-12h0m7-119h0m3 313h0m15-363h0m20-104h0m6 504h0m59-132h0m9 127h0m5 88h0m9-95h0m10-102h0m8-384h0m47 565h0m11-109h0m5-620h0m70 817h0m41-891h0m17 1008h0m33-1106h0m51 87h0m1 989h0m10-1246h0m13 1284h0m26-1332h0m10 147h0m36 1264h0m5 202h0m23-1419h0m6 1204h0m11-1340h0m4 1383h0m0-1360h0m1-131h0m19 86h0m0-58h0m8 30h0m21-102h0m24 161h0m18 1753h0m55-1833h0m19 1796h0m16-1782h0m9 243h0m2-167h0m16 1706h0m13-189h0m1 24h0m56 248h0m37-2068h0m8 2070h0m9 24h0m8-144h0m59-20h0m35-1780h0m49-33h0m60 1908h0m1 3h0m21-1535h0m2-297h0m2-94h0m23 183h0m21-66h0m2 167h0m5 187h0m14-166h0m8 1097h0m7-8h0m1 277h0m17-552h0m5-217h0m12 531h0m6-143h0m17-375h0m7 336h0m9 244h0m5-570h0m10-170h0m9 833h0m1-3h0m8-686h0m7 157h0m2-68h0"/><path id="t24" d="M472 1164h0m40 88h0m31-91h0m12 114h0m19 276h0m8-266h0m12-25h0m3-444h0m24 419h0m4 33h0m34 34h0m13 3h0m3 181h0m31-788h0m12 792h0m8 140h0m4-237h0m103 120h0m7-65h0m53-888h0m25-17h0m3 1152h0m39-1304h0m20 1108h0m6 147h0m17 45h0m15-66h0m13-1161h0m11 28h0m9-85h0m3-13h0m38 1314h0m11 37h0m73 333h0m17-1720h0m6 1583h0m11-1640h0m5 1363h0m14 15h0m58 158h0m5 180h0m1 11h0m12-203h0m37 161h0m40 19h0m9-97h0m20-1772h0m3 1910h0m41-1844h0m4-208h0m22 1906h0m34 117h0m6-166h0m0-1760h0m11 1662h0m19 229h0m36-90h0m1-11h0m13-1521h0m21 1656h0m17-1848h0m7 316h0m6-435h0m7 1851h0m22-1491h0m5 1360h0m17-1205h0m16 1029h0m13-1196h0m2 227h0m4 1235h0m2-1267h0m5 161h0m14-340h0m7 769h0m2 328h0m13-211h0m8 46h0m4-459h0m47 33h0m20-131h0m1 567h0m13-419h0"/><path id="t25" d="M190 770h0m299 452h0m42-169h0m5-225h0m22 453h0m1-450h0m7 95h0m79 259h0m8-391h0m11 695h0m7-553h0m35 565h0m16-1124h0m10 1048h0m9-841h0m115 924h0m9 144h0m0-1109h0m163 1110h0m35 135h0m48-1469h0m36 1591h0m16-1459h0m22 1243h0m10 279h0m16-1861h0m16 168h0m23 40h0m2-216h0m1 1754h0m33 226h0m8-1776h0m18-168h0m3-31h0m7 277h0m20 1492h0m4-9h0m50-1644h0m20 1869h0m12-1823h0m11 0h0m23 1759h0m1-1670h0m0 1544h0m3 186h0m3-1839h0m12 124h0m8 1725h0m9-1908h0m25 116h0m8-80h0m2 1826h0m7-1927h0m5 2024h0m5-1858h0m2 1705h0m0 37h0m1-192h0m2 141h0m20-202h0m4-1470h0m0 1617h0m49-26h0m11-1288h0m4 1003h0m14-1159h0m4 1188h0m5-1058h0m1 1009h0m2 135h0m5 99h0m4-153h0m13 142h0m6 377h0m20-1739h0m14 141h0m3 114h0m7-34h0m8 779h0m3-234h0m1 158h0m18 67h0m24 32h0"/><path id="t26" d="M396 987h0m107 109h0m20 164h0m19 114h0m12-37h0m51-508h0m44-118h0m7 468h0m42 105h0m24-588h0m24 891h0m57-987h0m1 92h0m14 667h0m30 55h0m101 360h0m25-208h0m15-1025h0m10 1128h0m35 58h0m0-116h0m16-238h0m15 548h0m13-261h0m15-107h0m41 208h0m1-22h0m38 215h0m0 24h0m5 175h0m2-596h0m37 316h0m17-50h0m16-1691h0m5 1544h0m9-7h0m3 399h0m37-1763h0m4 1533h0m75-48h0m42 171h0m9-1730h0m37 106h0m17-10h0m10 1541h0m14-1675h0m6 1588h0m1 245h0m27-1808h0m31 48h0m1-119h0m15 179h0m4-162h0m1 142h0m21 1865h0m1-1698h0m0-34h0m8-56h0m1 148h0m14-225h0m10 1416h0m11-1269h0m1 1326h0m26-64h0m1-1218h0m6-39h0m19 1119h0m15-1000h0m4 837h0m1 500h0m1-1412h0m7 1014h0m10 581h0m3-1659h0m4-241h0m8 1452h0m0-970h0m3 194h0m1-156h0m26 339h0m24-57h0m4-8h0m55-275h0"/><path id="t27" d="M466 954h0m23 210h0m33-43h0m8 130h0m20-75h0m13-223h0m3 145h0m16 296h0m17 46h0m1-109h0m4-27h0m59-393h0m39-175h0m0 121h0m11-242h0m32 556h0m12-470h0m18 721h0m47 181h0m26-971h0m21-42h0m5 1018h0m17-51h0m59-1051h0m0 43h0m56-134h0m6 157h0m48 1197h0m3-1248h0m7 1229h0m9-1540h0m26 1573h0m11 203h0m19 19h0m10 19h0m6-1685h0m1 39h0m35 1280h0m10 189h0m107-1548h0m49 1589h0m9-141h0m17 318h0m8-1753h0m0 21h0m29-28h0m11 1810h0m2-189h0m2-36h0m4-1646h0m3 85h0m5 1612h0m21-1802h0m6 1822h0m37-214h0m9 7h0m10 119h0m1 228h0m18-1853h0m48-57h0m1 1570h0m23-12h0m2-1416h0m8 98h0m3 1444h0m40-1434h0m14 228h0m5 1446h0m9-1589h0m1 1162h0m4-1020h0m9 77h0m6 74h0m7 1h0m3-234h0m7 1226h0m4-355h0m36 316h0m0-1019h0m0 257h0m10-464h0m62 767h0m36 329h0"/><path id="t28" d="M454 847h0m45 323h0m9-262h0m9 192h0m16-293h0m18 277h0m5 88h0m7-146h0m7-286h0m14 452h0m46-268h0m1-45h0m4-29h0m30 382h0m13-14h0m2-291h0m9 93h0m11-268h0m45 612h0m18-184h0m15 275h0m21-873h0m12 759h0m23-476h0m1 624h0m9 198h0m22-977h0m5-61h0m55 1197h0m51-238h0m4-37h0m52 11h0m37 160h0m20-1307h0m9 39h0m10 1313h0m13-103h0m18 177h0m62 228h0m17-1725h0m23 1715h0m15-1926h0m16 1701h0m13-1774h0m2 1820h0m2-108h0m24-1602h0m16 1738h0m1-1747h0m1 1808h0m28-218h0m0 176h0m29-193h0m24-1547h0m42 1681h0m13-1479h0m3 1383h0m4 33h0m3 24h0m0 290h0m11-1688h0m15 1605h0m13-159h0m11 281h0m45-312h0m19-18h0m3-161h0m29 341h0m1-1759h0m2 1653h0m15 96h0m41-886h0m16-523h0m33 1014h0m8-780h0m13 1165h0m18-1134h0m4 555h0m3-651h0m11-263h0m19-52h0m26 570h0m9 680h0"/><path id="t29" d="M394 1178h0m115 265h0m111-103h0m6-382h0m30 152h0m28-109h0m4 156h0m1-483h0m11 542h0m20-201h0m20-344h0m9-34h0m2 27h0m6 829h0m61-777h0m37-380h0m10 408h0m32-9h0m1 781h0m11 153h0m10-55h0m66-84h0m19-1087h0m3 1193h0m65-1161h0m51-66h0m15 95h0m62-160h0m16-298h0m20 215h0m7 1609h0m16-1516h0m32 1505h0m11-1510h0m10-121h0m7 1528h0m9-1221h0m23-351h0m5 1694h0m18 88h0m33-16h0m2-155h0m18-1442h0m26 97h0m2 1385h0m3 200h0m4-1835h0m19 16h0m16 1859h0m5-149h0m10-1504h0m13 1527h0m5-260h0m3-1360h0m23 28h0m3 1349h0m28 94h0m2 225h0m5-1747h0m3-49h0m10 1572h0m0 150h0m1-1733h0m10 261h0m10 1540h0m7-241h0m1-1004h0m21-90h0m21 863h0m4-1260h0m15 1297h0m2-757h0m6 111h0m3 517h0m1-610h0m10 623h0m6-1302h0m0 1055h0m9 279h0m6-646h0m36 292h0m6 108h0m9 51h0"/><path id="t210" d="M397 941h0m109-13h0m27 268h0m38-310h0m9 70h0m1 190h0m5-75h0m20 66h0m2-205h0m8-60h0m6 115h0m18-208h0m37 124h0m25-216h0m1 634h0m49-169h0m10 126h0m30 273h0m29-784h0m12-259h0m26 965h0m26-863h0m13 777h0m15 201h0m16 90h0m58-1045h0m5-44h0m9 1053h0m13-1221h0m5 1015h0m62 400h0m5-201h0m7-1153h0m0-103h0m29 0h0m2-24h0m17 80h0m15-36h0m1-326h0m4 1753h0m2-111h0m4 86h0m14-1376h0m5 1223h0m0-1251h0m12 41h0m34-5h0m6 1377h0m23-1527h0m8 1520h0m33-1305h0m18 1320h0m2-1559h0m3 1434h0m6 158h0m17 251h0m45-1740h0m34-41h0m12 1566h0m36-1409h0m20-192h0m1 197h0m13 1323h0m11-1763h0m20 302h0m15 1529h0m3-126h0m3-1481h0m18 1669h0m15-1462h0m25 59h0m26 1145h0m10-1098h0m19 393h0m21 671h0m2 5h0m3-955h0m22 436h0m10 534h0m14-429h0m28-677h0m30 918h0m30-231h0"/><path id="t211" d="M241 766h0m275 265h0m4 201h0m12-701h0m37 608h0m5-225h0m3 298h0m7-164h0m10-206h0m7 103h0m8 230h0m2-335h0m12 253h0m24-98h0m7 390h0m9-107h0m7-313h0m8 214h0m27 462h0m9-712h0m37 378h0m51-654h0m12 644h0m25-12h0m6 113h0m2 51h0m6-745h0m29 826h0m4 256h0m3-372h0m10 206h0m15-1122h0m3 38h0m14 827h0m8-712h0m61-156h0m10 1178h0m9-190h0m26 273h0m41-1319h0m26 87h0m14 1268h0m35-90h0m4-1083h0m5-71h0m50 699h0m23 772h0m0-1576h0m13 1609h0m15-1811h0m1 1356h0m77-1402h0m14 1590h0m15-1440h0m8 1645h0m19-260h0m5-1731h0m1 227h0m6 1561h0m38-1328h0m4-69h0m60 1435h0m37-1405h0m1-125h0m3 1370h0m7 395h0m26-1706h0m14 323h0m5 138h0m8-106h0m4 928h0m22 186h0m7-1017h0m32 481h0m11-351h0m9 227h0m14 494h0m16-434h0m1-322h0m13 260h0m9-125h0m66-351h0m16 916h0"/><path id="t212" d="M593 1142h0m8-76h0m21 53h0m27 261h0m21-170h0m13-157h0m1 153h0m1-313h0m32 517h0m9-138h0m4-503h0m63 386h0m18-423h0m27 621h0m8-617h0m7 559h0m4 27h0m23 135h0m24-746h0m50 636h0m10 183h0m67 10h0m6-1030h0m1 34h0m17 989h0m6 218h0m9-1254h0m2 1120h0m18-1371h0m8 1358h0m5-4h0m7-980h0m18 1017h0m1 242h0m8-165h0m7-1296h0m1 147h0m3 1202h0m12-1499h0m6 237h0m3 1025h0m2 130h0m15 152h0m17-267h0m6 386h0m5-166h0m14 246h0m46-1659h0m62 1575h0m4 135h0m19-281h0m14-1486h0m13 1581h0m8 241h0m5-557h0m8-1567h0m15 380h0m18 1422h0m9-1514h0m36 1794h0m38-1870h0m43 1883h0m6-110h0m18-278h0m3-1279h0m2 291h0m16-311h0m11 155h0m44-133h0m8 523h0m8 587h0m9 377h0m6-932h0m1-227h0m8 150h0m23 336h0m41 364h0m16-393h0m9-80h0m3 246h0m2-616h0m4 350h0m48 592h0"/><path id="t213" d="M545 1138h0m1-62h0m117 101h0m46-9h0m10 27h0m4 35h0m12-234h0m18-153h0m3 480h0m26-498h0m57-84h0m31-231h0m15 922h0m39-5h0m3 265h0m23-148h0m2-125h0m31-729h0m30-245h0m7 218h0m9-143h0m9-80h0m25 1465h0m22-387h0m2 24h0m9-906h0m26 1179h0m1-1279h0m3 1314h0m3 22h0m26-1343h0m36 995h0m5-908h0m8 1019h0m2-134h0m7-1175h0m18-265h0m14 1505h0m30-1362h0m10-32h0m3 216h0m21 1372h0m7-1604h0m2 187h0m2-84h0m1 39h0m5 1340h0m5-1074h0m35 1320h0m41 240h0m7-1683h0m40-82h0m7-60h0m7 104h0m6 1691h0m4-144h0m5-28h0m13 59h0m2-1718h0m35 73h0m15-233h0m51 1749h0m9-1309h0m3 1229h0m18-1563h0m4 704h0m2-330h0m4 81h0m24 138h0m5 209h0m2-79h0m5 365h0m2 488h0m11-1042h0m1 639h0m35 42h0m18-244h0m7 140h0m16-625h0m31 555h0m50-434h0m0 424h0m35-94h0"/><path id="t214" d="M493 1013h0m22-196h0m63 316h0m30-228h0m91 513h0m22-272h0m7-282h0m8 173h0m5-229h0m9 406h0m34 141h0m4 82h0m36-39h0m4-12h0m48 9h0m47 13h0m19-33h0m8-759h0m1 685h0m22 408h0m46-1103h0m29 1018h0m22 236h0m29-1368h0m0 1039h0m34 527h0m3-1531h0m25 1242h0m7-163h0m19-1030h0m50 1153h0m5 152h0m9 84h0m9-357h0m41-1124h0m38-163h0m2 1486h0m9-1454h0m9 171h0m0-395h0m0 1576h0m5-1058h0m14-116h0m39-130h0m6 22h0m2-378h0m10 1823h0m13-1508h0m11 109h0m3 91h0m37-226h0m9 1255h0m8 32h0m33 323h0m1-70h0m28-156h0m9 444h0m2-1712h0m15-318h0m5 1527h0m12-1066h0m14 1118h0m4-1070h0m6 330h0m5-139h0m0 1134h0m1-1150h0m11-122h0m4 1100h0m12-441h0m6-574h0m13 257h0m1 63h0m1-99h0m1 508h0m2-428h0m34-68h0m14-71h0m29 1h0m17-232h0m1 986h0m63-434h0m9-208h0"/><path id="t215" d="M555 981h0m57 46h0m29 141h0m16-312h0m3 178h0m4-161h0m7 270h0m9-357h0m23 468h0m0-337h0m2-29h0m24 381h0m5-704h0m3 760h0m25-122h0m15-260h0m37 386h0m14-772h0m22 816h0m2-109h0m9 125h0m37-767h0m38 14h0m1 159h0m17 593h0m3 57h0m3-633h0m27-338h0m57 1129h0m3-101h0m30 87h0m2-1032h0m53 1119h0m11-1197h0m33 147h0m2 949h0m10 36h0m39-1218h0m0 1607h0m18 14h0m3-314h0m13-1249h0m29 92h0m2 1162h0m48-101h0m8 136h0m34 184h0m8-1686h0m79 1419h0m4-1350h0m8 1796h0m4-1571h0m3 1423h0m7-145h0m6-1164h0m4-192h0m1-37h0m6 105h0m11-123h0m8 1336h0m5 212h0m1-1404h0m9 1317h0m22-137h0m9-1254h0m2-94h0m34 1413h0m11-1296h0m3 1107h0m12 256h0m2-1099h0m9 478h0m8-723h0m7 867h0m3-654h0m27 111h0m1 1049h0m8-646h0m2-257h0m27-16h0m8 94h0m24-137h0m5 92h0"/><path id="t216" d="M461 997h0m39-30h0m99 139h0m37-39h0m30 70h0m18-325h0m6 458h0m17-444h0m37-126h0m6 197h0m11 465h0m4-219h0m5 19h0m23-339h0m1-204h0m1 123h0m2-27h0m13 527h0m13-19h0m8-443h0m4 97h0m4-127h0m38 167h0m39 642h0m61-1042h0m34 1040h0m5-1039h0m4 519h0m4 15h0m2 422h0m1 48h0m1-805h0m16-173h0m12 871h0m0-986h0m27-37h0m1 1004h0m21-1055h0m52 997h0m1 300h0m20-1526h0m66 490h0m4-231h0m8 1353h0m26-100h0m15 152h0m2 316h0m2-570h0m8-1083h0m6 1349h0m19-1417h0m8 195h0m54-285h0m2 1403h0m0-1286h0m14 69h0m116 1348h0m15-1358h0m7 1438h0m17-1468h0m12 1072h0m1 66h0m21 357h0m1-1309h0m1 53h0m0-157h0m9 1135h0m4-74h0m9-849h0m1 114h0m4 600h0m6-326h0m14-237h0m4 708h0m4-50h0m13-228h0m6-71h0m41-143h0m2 92h0m20-524h0m4 677h0m14 34h0m55 265h0"/><path id="t217" d="M397 1064h0m80 60h0m54-108h0m6-43h0m15 35h0m14 15h0m27-126h0m12 297h0m25-138h0m37 62h0m9-158h0m19 156h0m22-344h0m16 477h0m6-115h0m13 251h0m12-492h0m16 122h0m6 111h0m48-209h0m7-223h0m14-106h0m11 312h0m25-241h0m7 101h0m6-153h0m6 65h0m5 60h0m18 760h0m12 156h0m18-1154h0m22 900h0m3-832h0m5 795h0m3-84h0m12 177h0m11 111h0m33-138h0m1-377h0m23 437h0m50-1012h0m29 1004h0m7-898h0m10 1117h0m0-9h0m16-189h0m25-1118h0m9 1417h0m14-1312h0m53 78h0m2 43h0m5 1037h0m19-1235h0m36 214h0m42 969h0m7-1131h0m77 1056h0m9 351h0m2-114h0m18-1215h0m11 1365h0m14-1856h0m0 454h0m10-115h0m29 1204h0m3-95h0m4-694h0m2 1020h0m1-1112h0m9 824h0m1-1181h0m52 1128h0m1-468h0m22 262h0m3 126h0m9-762h0m10 699h0m6 85h0m18-59h0m5-60h0m15-419h0m0 114h0m59 399h0"/><path id="t218" d="M583 998h0m40-217h0m76 475h0m8-290h0m42 292h0m25-78h0m34-47h0m27 68h0m12-250h0m19 476h0m3-183h0m34-107h0m10 143h0m20 235h0m9-695h0m10-264h0m27 856h0m1-826h0m26 986h0m2-717h0m6 791h0m5-345h0m6-354h0m20-289h0m7-85h0m10 297h0m2 566h0m5-716h0m69-136h0m30-205h0m13-250h0m30 346h0m2 1157h0m7 84h0m52-62h0m9-1033h0m1-170h0m6 1243h0m17-1145h0m27-63h0m9 1044h0m4 130h0m33-994h0m6 895h0m5 262h0m5-1443h0m0 1481h0m19-1354h0m10 1209h0m6-194h0m15-930h0m29 31h0m19 898h0m5-1107h0m0-80h0m8 535h0m32 956h0m2 353h0m1-373h0m0 55h0m5-1461h0m2 1195h0m3 142h0m0-179h0m1-203h0m39 294h0m18-469h0m1 296h0m0-458h0m12 293h0m2 134h0m2-465h0m6 115h0m2 834h0m3-1077h0m7 492h0m26-208h0m4 490h0m8-136h0m2-590h0m8 783h0m52-393h0m18 797h0"/><path id="t219" d="M523 1349h0m4-240h0m131-44h0m79 37h0m4-107h0m13-138h0m32 213h0m8 33h0m14-42h0m16 99h0m34 188h0m12-565h0m4 199h0m4 202h0m10-405h0m3 290h0m3-261h0m17 809h0m2-1029h0m6 866h0m1-251h0m16 242h0m4-259h0m15 29h0m3 117h0m25-554h0m5 553h0m30 202h0m26-75h0m73 165h0m0-159h0m4 119h0m57-1093h0m9 1084h0m10-906h0m11 1093h0m8-129h0m5-206h0m40-862h0m14 1326h0m20-379h0m35 48h0m3 174h0m9 230h0m2-1279h0m20 1284h0m2-1573h0m3 59h0m4 116h0m31 1195h0m4-1298h0m36-52h0m17 1359h0m6-1276h0m17-202h0m55 335h0m1 1279h0m13-110h0m3-341h0m19 13h0m4-866h0m10-117h0m3 1137h0m14-564h0m14-307h0m5 941h0m8-1090h0m5 445h0m3 244h0m16-90h0m2-467h0m36 860h0m11-340h0m7 124h0m2-662h0m5 309h0m13 79h0m2 166h0m24-402h0m4 222h0m15 722h0m24-784h0m19-334h0"/><path id="t220" d="M491 933h0m195 149h0m5-289h0m32 257h0m3-288h0m31 238h0m20-23h0m32-56h0m5-17h0m14 657h0m21-280h0m5-245h0m13-81h0m21 368h0m25-367h0m7 577h0m30-651h0m10-26h0m12-379h0m12 469h0m23 132h0m7-132h0m21 463h0m19-826h0m8 326h0m18-108h0m3 633h0m3 240h0m5-598h0m4 355h0m14 103h0m43-29h0m13-38h0m8 32h0m12-803h0m11-299h0m29 1198h0m16 197h0m18-370h0m1-1013h0m14 1270h0m43-1154h0m19 988h0m4-1068h0m22 41h0m8 1061h0m2 21h0m21 148h0m38 24h0m1 87h0m7-18h0m1-1203h0m1-88h0m27 1531h0m3-695h0m15-587h0m5-511h0m0 1447h0m6 14h0m7 5h0m3-108h0m3-46h0m12 123h0m5-713h0m0-410h0m11 978h0m14-634h0m2-216h0m23 183h0m6-41h0m8 890h0m11-760h0m7 26h0m2-733h0m18 1005h0m1-38h0m23-339h0m6 169h0m4 284h0m14-441h0m7 295h0m31 126h0m4 111h0"/><path id="t221" d="M545 1074h0m42 131h0m21-508h0m102 148h0m44 390h0m13-519h0m31 73h0m8 249h0m24-93h0m5-117h0m43 442h0m6-400h0m31-53h0m11-130h0m59 774h0m1-342h0m26-156h0m12-183h0m15 489h0m2 145h0m0-74h0m0 28h0m7 353h0m6-811h0m1-81h0m2 312h0m1-107h0m2 25h0m15-462h0m8 23h0m20 1053h0m6-941h0m1-149h0m26 845h0m2-776h0m20 734h0m43-761h0m2 855h0m3-900h0m25 671h0m7 98h0m1 293h0m18-148h0m22-324h0m6 306h0m50-893h0m1-294h0m5 1682h0m9-1554h0m7 1250h0m0-11h0m2-1289h0m5 649h0m10 650h0m6-38h0m21-1038h0m21 1076h0m17-25h0m10-1163h0m8 467h0m12 681h0m16-82h0m26-772h0m17 80h0m5-356h0m1 120h0m25-176h0m23 73h0m4 142h0m3 107h0m2 54h0m10 84h0m1-566h0m8 614h0m7 831h0m18-782h0m5 748h0m6-1034h0m2 441h0m17 289h0m10-393h0m5-504h0m35 1012h0"/><path id="t222" d="M432 1008h0m69 20h0m276 276h0m30-463h0m30 435h0m5-185h0m1 72h0m5-274h0m30 110h0m6-58h0m16 297h0m4 115h0m4-747h0m11 584h0m2-110h0m54 116h0m3-319h0m4-184h0m18 198h0m3 303h0m3 12h0m6-231h0m20 141h0m28 354h0m7-721h0m23 28h0m10 719h0m2-641h0m8 91h0m3-124h0m25 123h0m6 274h0m6-580h0m14 111h0m1 656h0m9-631h0m7 127h0m16-352h0m3-28h0m6 1189h0m0-800h0m24-527h0m11 1181h0m21-852h0m22 789h0m17-816h0m9-159h0m20 66h0m1 131h0m18 1093h0m8-1304h0m16 825h0m7 303h0m33-1161h0m0 398h0m7 598h0m3-1335h0m10 594h0m30-159h0m18 1204h0m7-973h0m1-269h0m3-286h0m6 342h0m27 12h0m2 803h0m9-840h0m5-105h0m6 58h0m20 461h0m16-541h0m4 1548h0m0-1122h0m5 141h0m2 343h0m8 248h0m13-444h0m4-281h0m12 897h0m9-772h0m31 415h0m46-165h0m19-64h0"/><path id="t223" d="M489 1136h0m139 110h0m80-160h0m36 141h0m24-484h0m0 302h0m1 331h0m3-376h0m40 94h0m8-68h0m26 30h0m8-240h0m1-142h0m36 456h0m2 173h0m17-387h0m10 432h0m15-286h0m16-137h0m6 555h0m10-491h0m17-75h0m10 130h0m2-439h0m1 127h0m1-83h0m14 381h0m8-173h0m17 107h0m4-56h0m3-156h0m13 819h0m14-834h0m10 577h0m17-768h0m7 255h0m12-147h0m12 851h0m14-159h0m2-90h0m4-540h0m4-421h0m18 1593h0m8-633h0m0-497h0m8 73h0m2-12h0m5 109h0m5 159h0m0 198h0m19-664h0m1 857h0m58-829h0m11-76h0m49 163h0m6 975h0m11-1128h0m29 860h0m6-133h0m7 174h0m5 15h0m5-1000h0m3-264h0m25 1324h0m3 191h0m15-1179h0m30 185h0m32 239h0m0-269h0m1 647h0m2-325h0m32-474h0m1 588h0m22-622h0m0 861h0m8-839h0m40 208h0m1 281h0m9 323h0m28-437h0m15-183h0m24 127h0m0-94h0"/><path id="t224" d="M617 966h0m42-88h0m68-142h0m2 202h0m154 239h0m35-71h0m6 216h0m31-235h0m9 74h0m3-511h0m13 792h0m2 63h0m37-331h0m13-20h0m0-535h0m2 635h0m11-163h0m5-115h0m10-189h0m3 254h0m3-28h0m5 451h0m9-123h0m5-488h0m18-203h0m10 672h0m15-573h0m44 415h0m3 138h0m3-431h0m11 90h0m5-183h0m11-320h0m5 687h0m2 456h0m0-874h0m6-421h0m4 405h0m23 129h0m17-319h0m33 1150h0m6-295h0m12 309h0m14 48h0m9-683h0m23 456h0m8 125h0m28-756h0m17-82h0m22 794h0m5-687h0m5 629h0m1-197h0m11 124h0m8-938h0m11 138h0m13 812h0m20-1275h0m11 990h0m3-177h0m1-258h0m4 1154h0m4-946h0m5 371h0m2-971h0m6 1139h0m11-78h0m8 167h0m15-951h0m1-107h0m6 425h0m10 1014h0m1-513h0m7-116h0m11 510h0m28-346h0m16-1180h0m24 1474h0m4-912h0m16 978h0m34-714h0m18-492h0m3 539h0"/><path id="t225" d="M548 1137h0m82-12h0m127-266h0m4 63h0m53-114h0m22-4h0m5 303h0m13 35h0m8-55h0m65-320h0m14 476h0m5-96h0m3-209h0m10 28h0m4-275h0m3 132h0m32-43h0m6 548h0m1-317h0m14 373h0m5 251h0m19-385h0m8-34h0m38-389h0m7 233h0m30 315h0m2 29h0m1 212h0m4-749h0m14 1233h0m38-680h0m5 310h0m2-977h0m7 820h0m5-728h0m4 27h0m10-124h0m36 402h0m1-355h0m12 650h0m2-866h0m8 256h0m3 704h0m23-832h0m24 325h0m9-264h0m14 826h0m12-353h0m0-35h0m4-583h0m13 521h0m31 304h0m1-887h0m4 533h0m28-435h0m3 456h0m3-18h0m3 394h0m1-706h0m7 586h0m6-63h0m13-264h0m13 676h0m13-331h0m44-77h0m19-550h0m3-276h0m8 197h0m17 747h0m7-270h0m1 380h0m7-671h0m1 541h0m9 131h0m15-26h0m24-426h0m13-56h0m4 132h0m6 58h0m19 212h0m55-578h0m53 415h0m6-69h0"/><path id="t226" d="M593 1002h0m138-192h0m64 95h0m33 297h0m30-330h0m47 610h0m5-442h0m22-319h0m10 326h0m28-18h0m12-8h0m10 52h0m2 54h0m13-212h0m6-387h0m9 296h0m15-111h0m3 37h0m36-173h0m5 1090h0m0-734h0m7 178h0m1-66h0m4 309h0m3-599h0m12 305h0m12 200h0m17-339h0m1-121h0m8 840h0m7-470h0m21 279h0m15-381h0m1 311h0m3-869h0m3 502h0m19-320h0m4 90h0m7-128h0m11 659h0m5 158h0m28-561h0m8-172h0m3 993h0m22-1514h0m13 650h0m15 540h0m3-213h0m23-782h0m1 165h0m0 246h0m3-479h0m9-85h0m1 1113h0m2-738h0m20 134h0m4 576h0m6-576h0m3 367h0m8 559h0m7-256h0m5-880h0m5-13h0m3 882h0m5-665h0m9 192h0m27 443h0m26 217h0m5-1240h0m33 559h0m2 113h0m14-281h0m14 522h0m1-296h0m1 356h0m16-310h0m7 60h0m9 224h0m8-183h0m7-357h0m9 452h0m83 303h0m34-419h0"/><path id="t227" d="M526 1237h0m251-31h0m6-283h0m15 264h0m66-341h0m27 255h0m9-402h0m50 403h0m26 216h0m6-605h0m8 434h0m27 165h0m15-434h0m26 226h0m6-161h0m4 47h0m33 387h0m19-302h0m13-49h0m8 614h0m3-491h0m3-151h0m0 340h0m10-373h0m1-280h0m4 223h0m20-104h0m19 427h0m2-118h0m2-138h0m18-381h0m2 810h0m3 165h0m1-55h0m22-508h0m4-237h0m0 1000h0m25-323h0m6-640h0m3 701h0m33-103h0m4-144h0m0 199h0m5-814h0m6 630h0m3-146h0m5-155h0m5 252h0m10-374h0m3 987h0m7-1230h0m3 934h0m16-880h0m6 421h0m6 262h0m0-722h0m9 32h0m28 405h0m8 843h0m6-836h0m2-103h0m7 218h0m9 267h0m6-744h0m21 799h0m0 158h0m7-602h0m6 277h0m9-575h0m4 551h0m0-471h0m5 409h0m1-424h0m33 24h0m7 104h0m7-271h0m15 559h0m5-206h0m1 350h0m25-160h0m54 660h0m17-1072h0m31 695h0"/><path id="t228" d="M471 1060h0m93 72h0m167-69h0m45-273h0m49 332h0m39 97h0m0 159h0m26-528h0m25 101h0m33 183h0m5-267h0m1 420h0m20-380h0m4-198h0m37 391h0m23-273h0m16-139h0m8 890h0m2-922h0m54 814h0m32-399h0m13 23h0m20 344h0m1-381h0m7 133h0m12-379h0m4 31h0m2 83h0m1 69h0m3 176h0m6-547h0m16 762h0m3-657h0m13 389h0m5-635h0m1 400h0m5 431h0m2-648h0m17 378h0m4 78h0m2-346h0m7 695h0m2-1042h0m15 1169h0m10-859h0m9 376h0m18-324h0m16 465h0m2 144h0m6-967h0m18 43h0m2 270h0m14-20h0m17 433h0m7 40h0m8-572h0m12-1h0m7 212h0m12 178h0m6 150h0m7 265h0m0-109h0m3 261h0m9-959h0m1 905h0m2-85h0m5-488h0m6-263h0m20-209h0m21 373h0m6 512h0m28-307h0m1-146h0m3-167h0m7 141h0m5 945h0m6-1282h0m7 492h0m3-403h0m25 553h0m29 232h0m4-781h0m78 500h0"/><path id="t229" d="M684 995h0m75-349h0m19-20h0m4 475h0m11 115h0m51-419h0m8 192h0m46 194h0m4-312h0m35 81h0m5 90h0m33 131h0m1-161h0m23-254h0m15 483h0m11-154h0m2 235h0m14-461h0m12 341h0m2-44h0m14 101h0m17 112h0m4-41h0m32-334h0m5-121h0m6 37h0m7 393h0m8-12h0m21-599h0m8 838h0m12-194h0m15 101h0m6-94h0m0-822h0m16 1125h0m27-571h0m15 56h0m3 207h0m1-475h0m9 555h0m9-549h0m9 125h0m1 371h0m5-400h0m9 147h0m1-279h0m19 394h0m0-80h0m39-33h0m4-770h0m21 611h0m6-97h0m4 184h0m10-74h0m5 396h0m2-29h0m7 84h0m0-544h0m3-265h0m31 1125h0m10-171h0m16-547h0m6-184h0m2 388h0m25-15h0m1 443h0m1-377h0m3-509h0m7 36h0m1 766h0m3-980h0m12 1088h0m24-711h0m5 1039h0m10-887h0m12-540h0m39 1072h0m8-247h0m7-98h0m5-153h0m35 306h0m32-456h0m106 519h0"/><path id="t230" d="M795 1323h0m61-631h0m40 532h0m15-370h0m4 18h0m2-236h0m26 235h0m8-132h0m14 390h0m28 169h0m30-610h0m31 291h0m2-461h0m21 325h0m24-142h0m5-137h0m16 1167h0m23-531h0m15 231h0m3-375h0m2-64h0m1 141h0m0 16h0m12 627h0m3-770h0m24 361h0m5-807h0m0 1004h0m3-741h0m11 631h0m0-365h0m6-228h0m3-281h0m9 119h0m5 407h0m7 184h0m12-68h0m23-35h0m3-491h0m3-63h0m11 256h0m17 444h0m1 220h0m6-736h0m14 389h0m9-246h0m8 619h0m7-406h0m0 719h0m3-919h0m10 23h0m4-197h0m2 20h0m10 177h0m4 387h0m5-382h0m0 538h0m5 63h0m20-891h0m4 444h0m1 213h0m9-82h0m8 119h0m4-385h0m4 711h0m5-808h0m8-183h0m13 718h0m3 117h0m1-280h0m9 238h0m2-624h0m13 179h0m3 357h0m28-677h0m9 363h0m10 148h0m16-71h0m20 207h0m8-668h0m21 844h0m76-422h0m11 218h0"/><path id="t231" d="M739 1101h0m3-148h0m12 127h0m21-19h0m13-359h0m18 234h0m8 43h0m5 26h0m1 14h0m2 236h0m23-287h0m23 165h0m7-369h0m34 236h0m6 165h0m59-8h0m6-391h0m1 308h0m46-279h0m0 212h0m2 491h0m63-351h0m11-242h0m6 205h0m25-348h0m2 582h0m13-507h0m50 1079h0m11-793h0m3-242h0m0 257h0m6-241h0m1 306h0m13 71h0m2-110h0m9 15h0m4 355h0m4-605h0m9 468h0m14 16h0m13-273h0m0 425h0m8-276h0m5-247h0m3 397h0m8 206h0m4-405h0m9-452h0m8-111h0m5 234h0m3 181h0m20 379h0m2-400h0m12-318h0m1 661h0m3-366h0m2 126h0m4-465h0m18 410h0m9 199h0m6-496h0m24 141h0m0 237h0m3-389h0m3 244h0m3 201h0m1 414h0m11-970h0m1 766h0m32 476h0m2-493h0m4-877h0m2 1066h0m10-426h0m3 78h0m3-151h0m2-27h0m23 417h0m7-86h0m15-635h0m3 317h0m51 684h0m150-827h0"/><path id="t232" d="M792 1388h0m99-88h0m4-396h0m25 12h0m21-89h0m8 425h0m29-12h0m4-267h0m8-150h0m53 21h0m10 3h0m0 452h0m18-617h0m6 290h0m3 198h0m6-234h0m15 49h0m6 161h0m14-39h0m2-290h0m2 427h0m9-29h0m11-603h0m44 581h0m25-209h0m13-42h0m4 78h0m4 359h0m2-853h0m1 957h0m3-489h0m17 221h0m20-251h0m4-14h0m13 366h0m3-47h0m1-203h0m2 129h0m1 287h0m12-100h0m2-540h0m13 252h0m8-164h0m4 514h0m1-69h0m5-41h0m1-441h0m4 105h0m7-13h0m1 111h0m17-499h0m3 312h0m9 613h0m12-493h0m12-177h0m5 373h0m2-552h0m6 599h0m8-42h0m6 312h0m32-719h0m7 64h0m2 362h0m1-186h0m8 211h0m15-97h0m13 314h0m10-832h0m4 263h0m3 597h0m18-765h0m2 69h0m2 805h0m8-385h0m2 91h0m0 158h0m8-830h0m6 512h0m19 110h0m22-176h0m4 6h0m7-183h0m22-743h0"/><path id="t233" d="M709 1043h0m36 411h0m45-196h0m13-448h0m3 65h0m40-129h0m83 228h0m66 432h0m6-188h0m0 34h0m28-449h0m54 481h0m0-410h0m20 76h0m2 294h0m6-276h0m0-169h0m0 382h0m1 87h0m1 257h0m8-233h0m4-193h0m9 64h0m8-110h0m2 117h0m5-9h0m8-47h0m3-169h0m6 347h0m12-616h0m16 692h0m8-45h0m9-794h0m9 139h0m16 383h0m5-234h0m4 426h0m4-10h0m6 134h0m6-737h0m1 1138h0m12-771h0m6 323h0m8-284h0m7 399h0m7-197h0m9-306h0m3 690h0m2-991h0m0 117h0m20 278h0m21 271h0m15-596h0m3-19h0m11 180h0m1-320h0m5 761h0m0-262h0m2-220h0m4 372h0m9 48h0m2-560h0m6 133h0m2 222h0m30 182h0m5 336h0m23-333h0m7-72h0m1-57h0m12-230h0m0-197h0m37 721h0m2-316h0m14-19h0m13 42h0m6-604h0m6 560h0m12 148h0m28 78h0m28 177h0m15 119h0m16-84h0m12-248h0"/><path id="t234" d="M534 795h0m124 326h0m63-212h0m26 420h0m25-551h0m21 73h0m53-79h0m2-191h0m11 278h0m8 174h0m15 266h0m2-44h0m4-207h0m49 460h0m7-734h0m70 581h0m11-614h0m16 423h0m31 62h0m13-629h0m7 589h0m6-509h0m5 723h0m6-192h0m12-511h0m38 409h0m11-385h0m8 331h0m10 322h0m31-410h0m6-208h0m12 202h0m0 72h0m35 236h0m26 479h0m20-587h0m3-391h0m7 246h0m6 488h0m5-184h0m0-6h0m19-368h0m0 242h0m7-447h0m1 652h0m6-790h0m10 664h0m4 144h0m7-140h0m6 388h0m16-736h0m5 688h0m3 18h0m2 224h0m7-1166h0m8 614h0m2 51h0m12-605h0m3 116h0m3 843h0m6-463h0m4-371h0m4 282h0m8-174h0m5 351h0m1-202h0m5 257h0m7-32h0m12-344h0m20 502h0m0-613h0m20 109h0m3 600h0m19-885h0m1 929h0m11-329h0m12-340h0m3-53h0m24 587h0m62-673h0m8 28h0m14 243h0m21-467h0"/><path id="t235" d="M164 1175h0m175-150h0m35-150h0m300-690h0m150-135h0m120 967h0m6-421h0m38 659h0m36-263h0m15-368h0m38 748h0m8-348h0m19 4h0m25-148h0m3 665h0m7 29h0m27-544h0m13 193h0m28 84h0m4-250h0m10 114h0m1 117h0m11-353h0m50 149h0m9 80h0m21 213h0m6-716h0m20 276h0m5-97h0m17 149h0m18-101h0m18 327h0m0-539h0m22 280h0m3 443h0m16-366h0m5-50h0m10 610h0m46-289h0m1-358h0m3 251h0m29-478h0m4-5h0m9 305h0m4 91h0m1 72h0m8 39h0m33-95h0m0 20h0m26 218h0m99-52h0m24 82h0m114 431h0m20-550h0m25-425h0m25 800h0m25-685h0m35 210h0"/></defs>
<use href="#t20" class="e"/><use href="#t20" class="f"/><use href="#t21" class="e"/><use href="#t21" class="f"/><use href="#t22" class="e"/><use href="#t22" class="f"/><use href="#t23" class="e"/><use href="#t23" class="f"/><use href="#t24" class="e"/><use href="#t24" class="f"/><use href="#t25" class="e"/><use href="#t25" class="f"/><use href="#t26" class="e"/><use href="#t26" class="f"/><use href="#t27" class="e"/><use href="#t27" class="f"/><use href="#t28" class="e"/><use href="#t28" class="f"/><use href="#t29" class="e"/><use href="#t29" class="f"/><use href="#t210" class="e"/><use href="#t210" class="f"/><use href="#t211" class="e"/><use href="#t211" class="f"/><use href="#t212" class="e"/><use href="#t212" class="f"/><use href="#t213" class="e"/><use href="#t213" class="f"/><use href="#t214" class="e"/><use href="#t214" class="f"/><use href="#t215" class="e"/><use href="#t215" class="f"/><use href="#t216" class="e"/><use href="#t216" class="f"/><use href="#t217" class="e"/><use href="#t217" class="f"/><use href="#t218" class="e"/><use href="#t218" class="f"/><use href="#t219" class="e"/><use href="#t219" class="f"/><use href="#t220" class="e"/><use href="#t220" class="f"/><use href="#t221" class="e"/><use href="#t221" class="f"/><use href="#t222" class="e"/><use href="#t222" class="f"/><use href="#t223" class="e"/><use href="#t223" class="f"/><use href="#t224" class="e"/><use href="#t224" class="f"/><use href="#t225" class="e"/><use href="#t225" class="f"/><use href="#t226" class="e"/><use href="#t226" class="f"/><use href="#t227" class="e"/><use href="#t227" class="f"/><use href="#t228" class="e"/><use href="#t228" class="f"/><use href="#t229" class="e"/><use href="#t229" class="f"/><use href="#t230" class="e"/><use href="#t230" class="f"/><use href="#t231" class="e"/><use href="#t231" class="f"/><use href="#t232" class="e"/><use href="#t232" class="f"/><use href="#t233" class="e"/><use href="#t233" class="f"/><use href="#t234" class="e"/><use href="#t234" class="f"/><use href="#t235" class="e"/><use href="#t235" class="f"/>
</g>
<polyline class="cy" points="309.2,84.4 310,84.4 310.8,84.4 311.6,84.4 312.4,84.4 313.2,84.3 314,84.3 314.8,84.3 315.6,84.3 316.4,84.3 317.2,84.2 318,84.2 318.8,84.2 319.6,84.2 320.4,84.2 321.2,84.1 322,84.1 322.8,84.1 323.6,84.1 324.4,84.1 325.2,84 326,84 326.8,84 327.6,84 328.4,84 329.2,83.9 330,83.9 330.8,83.9 331.6,83.9 332.4,83.9 333.2,83.8 334,83.8 334.8,83.8 335.6,83.8 336.4,83.8 337.2,83.8 338,83.7 338.8,83.7 339.6,83.7 340.4,83.7 341.2,83.7 342,83.6 342.8,83.6 343.6,83.6 344.4,83.6 345.2,83.6 346,83.5 346.8,83.5 347.6,83.5 348.4,83.5 349.2,83.3 350,83.1 350.8,82.8 351.6,82.5 352.4,82.2 353.2,81.9 354,81.6 354.8,81.4 355.6,81.1 356.4,80.8 357.2,80.5 358,80.2 358.8,79.9 359.6,79.6 360.4,79.3 361.2,79.1 362,78.9 362.8,78.6 363.6,78.4 364.4,78.1 365.2,77.9 366,77.6 366.8,77.4 367.6,77.2 368.4,77 369.2,76.8 370,76.5 370.8,76.3 371.6,76.1 372.4,75.9 373.2,75.6 374,75.1 374.8,74.3 375.6,73.6 376.4,73 377.2,72.8 378,73 378.8,73.2 379.6,73.1 380.4,72.6 381.2,71.6 382,70.6 382.8,69.9 383.6,69.8 384.4,70.1 385.2,70.5 386,70.8 386.8,70.9 387.6,70.7 388.4,70.5 389.2,70.1 390,69.4 390.8,68.5 391.6,67.3 392.4,66.3 393.2,66 394,66.4 394.8,67.1 395.6,67.5 396.4,67.2 397.2,66.3 398,65.3 398.9,65.1 399.7,65.9 400.5,67.2 401.3,67.9 402.1,67.4 402.9,65.4 403.7,62.8 404.5,60.6 405.3,59.7 406.1,60.1 406.9,61.2 407.7,62.4 408.5,63.1 409.3,63.3 410.1,63.3 410.9,63 411.7,62.1 412.5,60.3 413.3,58 414.1,55.9 414.9,55.3 415.7,56.6 416.5,59 417.3,61.1 418.1,61.2 418.9,58.9 419.7,55.1 420.5,51.7 421.3,50.3 422.1,51.4 422.9,53.8 423.7,55.8 424.5,56.5 425.3,55.9 426.1,55.2 426.9,55.4 427.7,56.5 428.5,58 429.3,58.8 430.1,58.6 430.9,57.5 431.7,56.3 432.5,55.3 433.3,54.1 434.1,52.4 434.9,50.1 435.7,47.9 436.5,47.2 437.3,48.9 438.1,52.7 438.9,56.8 439.7,59.3 440.5,58.6 441.3,55.1 442.1,50.7 442.9,47.5 443.7,46.9 444.5,48.6 445.3,51.1 446.1,52.9 446.9,53.3 447.7,52.6 448.5,51.6 449.3,51 450.1,50.6 450.9,49.9 451.7,48.9 452.5,47.9 453.3,47.8 454.1,48.8 454.9,50.4 455.7,51.4 456.5,50.9 457.3,48.6 458.1,45.7 458.9,43.9 459.7,43.7 460.5,44.4 461.3,44.8 462.1,43.9 462.9,41.9 463.7,39.8 464.5,38.7 465.3,39 466.1,40.4 466.9,41.8 467.7,42.9 468.5,43.4 469.3,43.7 470.1,44 470.9,44.4 471.7,44.8 472.5,45.3 473.3,45.7 474.1,46 474.9,46.2 475.7,46.5 476.5,46.7 477.3,47 478.1,47.3 478.9,47.5 479.7,47.8 480.5,48 481.3,48.2 482.1,48.4 482.9,48.4 483.7,48.4 484.5,48.4 485.3,48.4 486.1,48.4 486.9,48.4 487.7,48.4 488.5,48.4 489.3,48.4 490.1,48.4 490.9,48.4 491.7,48.4 492.6,48.4"/>
<polyline class="cy" points="309.2,101.8 310,101.8 310.8,101.7 311.6,101.7 312.4,101.7 313.2,101.7 314,101.7 314.8,101.7 315.6,101.7 316.4,101.7 317.2,101.6 318,101.6 318.8,101.6 319.6,101.6 320.4,101.6 321.2,101.6 322,101.6 322.8,101.5 323.6,101.5 324.4,101.5 325.2,101.5 326,101.5 326.8,101.5 327.6,101.5 328.4,101.5 329.2,101.4 330,101.4 330.8,101.4 331.6,101.4 332.4,101.4 333.2,101.4 334,101.4 334.8,101.3 335.6,101.3 336.4,101.3 337.2,101.3 338,101.3 338.8,101.3 339.6,101.3 340.4,101.3 341.2,101.2 342,101.2 342.8,101.2 343.6,101.2 344.4,101.2 345.2,101.2 346,101.1 346.8,100.9 347.6,100.8 348.4,100.6 349.2,100.5 350,100.3 350.8,100.1 351.6,100 352.4,99.8 353.2,99.7 354,99.5 354.8,99.3 355.6,99.2 356.4,99 357.2,98.9 358,98.7 358.8,98.5 359.6,98.3 360.4,98.1 361.2,97.9 362,97.6 362.8,97.4 363.6,97.1 364.4,96.9 365.2,96.6 366,96.4 366.8,96.1 367.6,95.9 368.4,95.7 369.2,95.5 370,95.3 370.8,95 371.6,94.8 372.4,94.6 373.2,94.4 374,94.1 374.8,93.7 375.6,93.3 376.4,93 377.2,93 378,93.2 378.8,93.5 379.6,93.6 380.4,93.3 381.2,92.8 382,92.2 382.8,91.8 383.6,91.7 384.4,91.9 385.2,92.2 386,92.4 386.8,92.4 387.6,92.3 388.4,92.1 389.2,91.8 390,91.3 390.8,90.6 391.6,89.8 392.4,89.2 393.2,88.9 394,89.1 394.8,89.6 395.6,89.9 396.4,89.7 397.2,89.1 398,88.6 398.9,88.5 399.7,89.1 400.5,90.1 401.3,90.8 402.1,90.6 402.9,89.4 403.7,87.7 404.5,86.2 405.3,85.6 406.1,86 406.9,86.8 407.7,87.7 408.5,88.3 409.3,88.5 410.1,88.5 410.9,88.3 411.7,87.6 412.5,86.4 413.3,84.7 414.1,83.3 414.9,82.8 415.7,83.6 416.5,85.2 417.3,86.6 418.1,86.7 418.9,85.2 419.7,82.6 420.5,80.2 421.3,79.1 422.1,79.8 422.9,81.4 423.7,82.8 424.5,83.2 425.3,82.8 426.1,82.2 426.9,82.1 427.7,82.7 428.5,83.6 429.3,84.1 430.1,84 430.9,83.3 431.7,82.4 432.5,81.5 433.3,80.6 434.1,79.3 434.9,77.6 435.7,76.1 436.5,75.5 437.3,76.6 438.1,79.3 438.9,82.4 439.7,84.4 440.5,84.3 441.3,82.2 442.1,79.3 442.9,77.3 443.7,77 444.5,78.2 445.3,80.2 446.1,81.7 446.9,82.3 447.7,82.2 448.5,81.8 449.3,81.7 450.1,81.7 450.9,81.5 451.7,81 452.5,80.5 453.3,80.4 454.1,81.1 454.9,82.2 455.7,83 456.5,82.6 457.3,81.2 458.1,79.3 458.9,78.2 459.7,78.4 460.5,79.2 461.3,79.8 462.1,79.7 462.9,78.8 463.7,77.8 464.5,77.3 465.3,77.5 466.1,78.1 466.9,78.8 467.7,79.3 468.5,79.5 469.3,79.7 470.1,79.9 470.9,80.1 471.7,80.4 472.5,80.8 473.3,81.1 474.1,81.4 474.9,81.7 475.7,82 476.5,82.4 477.3,82.7 478.1,82.9 478.9,83 479.7,83.1 480.5,83.1 481.3,83.1 482.1,83.1 482.9,83.1 483.7,83.1 484.5,83.1 485.3,83.1 486.1,83.1 486.9,83.1 487.7,83.1 488.5,83.1 489.3,83.1 490.1,83.1 490.9,83.1 491.7,83.1 492.6,83.1"/>
<polyline class="cy" points="309.2,119.1 310,119.1 310.8,119.1 311.6,119.1 312.4,119.1 313.2,119.1 314,119.1 314.8,119 315.6,119 316.4,119 317.2,119 318,119 318.8,119 319.6,119 320.4,118.9 321.2,118.9 322,118.9 322.8,118.9 323.6,118.9 324.4,118.9 325.2,118.8 326,118.8 326.8,118.8 327.6,118.8 328.4,118.8 329.2,118.8 330,118.8 330.8,118.7 331.6,118.7 332.4,118.7 333.2,118.7 334,118.7 334.8,118.7 335.6,118.6 336.4,118.6 337.2,118.6 338,118.6 338.8,118.6 339.6,118.6 340.4,118.5 341.2,118.5 342,118.5 342.8,118.5 343.6,118.5 344.4,118.5 345.2,118.4 346,118.4 346.8,118.3 347.6,118.3 348.4,118.2 349.2,118.1 350,118 350.8,117.9 351.6,117.9 352.4,117.8 353.2,117.7 354,117.6 354.8,117.5 355.6,117.5 356.4,117.4 357.2,117.3 358,117.2 358.8,117.1 359.6,117 360.4,116.9 361.2,116.8 362,116.7 362.8,116.6 363.6,116.5 364.4,116.5 365.2,116.3 366,116.2 366.8,116.1 367.6,116 368.4,116 369.2,115.9 370,115.8 370.8,115.7 371.6,115.6 372.4,115.6 373.2,115.4 374,115.3 374.8,115 375.6,114.8 376.4,114.6 377.2,114.5 378,114.6 378.8,114.7 379.6,114.8 380.4,114.6 381.2,114.4 382,114 382.8,113.7 383.6,113.6 384.4,113.6 385.2,113.8 386,113.9 386.8,113.9 387.6,113.8 388.4,113.7 389.2,113.5 390,113.2 390.8,112.9 391.6,112.5 392.4,112.2 393.2,112.1 394,112.3 394.8,112.5 395.6,112.7 396.4,112.7 397.2,112.5 398,112.2 398.9,112.2 399.7,112.5 400.5,113 401.3,113.5 402.1,113.5 402.9,112.9 403.7,112 404.5,111.2 405.3,110.8 406.1,110.9 406.9,111.5 407.7,112.1 408.5,112.6 409.3,113 410.1,113.1 410.9,113 411.7,112.8 412.5,112.2 413.3,111.4 414.1,110.8 414.9,110.5 415.7,110.9 416.5,111.8 417.3,112.7 418.1,113 418.9,112.3 419.7,111.1 420.5,109.8 421.3,109.2 422.1,109.5 422.9,110.4 423.7,111.4 424.5,111.8 425.3,111.7 426.1,111.4 426.9,111.2 427.7,111.5 428.5,112 429.3,112.4 430.1,112.5 430.9,112.3 431.7,111.9 432.5,111.4 433.3,110.9 434.1,110.2 434.9,109.4 435.7,108.6 436.5,108.4 437.3,109 438.1,110.5 438.9,112.2 439.7,113.5 440.5,113.7 441.3,112.7 442.1,111.2 442.9,110 443.7,109.7 444.5,110.3 445.3,111.4 446.1,112.4 446.9,112.9 447.7,113 448.5,112.8 449.3,112.8 450.1,112.8 450.9,112.9 451.7,112.9 452.5,112.9 453.3,113.1 454.1,113.7 454.9,114.4 455.7,115 456.5,115 457.3,114.5 458.1,113.8 458.9,113.4 459.7,113.6 460.5,114.2 461.3,114.7 462.1,114.9 462.9,114.6 463.7,114.2 464.5,114 465.3,114.2 466.1,114.7 466.9,115.2 467.7,115.7 468.5,116 469.3,116.1 470.1,116.2 470.9,116.4 471.7,116.6 472.5,116.8 473.3,117 474.1,117.2 474.9,117.4 475.7,117.5 476.5,117.5 477.3,117.6 478.1,117.7 478.9,117.7 479.7,117.8 480.5,117.8 481.3,117.9 482.1,118 482.9,118 483.7,118.1 484.5,118.1 485.3,118.1 486.1,118.1 486.9,118.1 487.7,118.1 488.5,118.1 489.3,118.1 490.1,118.1 490.9,118.1 491.7,118.1 492.6,118.1"/>
<polyline class="cy" points="309.2,154.1 310,154.2 310.8,154.2 311.6,154.2 312.4,154.2 313.2,154.2 314,154.2 314.8,154.2 315.6,154.2 316.4,154.2 317.2,154.2 318,154.2 318.8,154.2 319.6,154.2 320.4,154.2 321.2,154.3 322,154.3 322.8,154.3 323.6,154.3 324.4,154.3 325.2,154.3 326,154.3 326.8,154.3 327.6,154.3 328.4,154.3 329.2,154.3 330,154.3 330.8,154.3 331.6,154.3 332.4,154.4 333.2,154.4 334,154.4 334.8,154.4 335.6,154.4 336.4,154.4 337.2,154.4 338,154.4 338.8,154.4 339.6,154.4 340.4,154.4 341.2,154.4 342,154.4 342.8,154.4 343.6,154.5 344.4,154.5 345.2,154.5 346,154.5 346.8,154.6 347.6,154.7 348.4,154.7 349.2,154.8 350,154.9 350.8,155 351.6,155.1 352.4,155.1 353.2,155.2 354,155.3 354.8,155.4 355.6,155.5 356.4,155.5 357.2,155.6 358,155.7 358.8,155.8 359.6,155.9 360.4,156.1 361.2,156.3 362,156.5 362.8,156.6 363.6,156.8 364.4,157 365.2,157.2 366,157.4 366.8,157.5 367.6,157.6 368.4,157.8 369.2,158 370,158.3 370.8,158.5 371.6,158.7 372.4,158.9 373.2,159.1 374,159.3 374.8,159.4 375.6,159.5 376.4,159.5 377.2,159.6 378,159.7 378.8,159.9 379.6,160.3 380.4,160.6 381.2,160.7 382,160.7 382.8,160.6 383.6,160.6 384.4,160.8 385.2,161.3 386,161.7 386.8,162 387.6,162.1 388.4,161.9 389.2,161.7 390,161.7 390.8,162 391.6,162.4 392.4,162.7 393.2,163 394,163.1 394.8,163.3 395.6,163.6 396.4,163.8 397.2,163.8 398,163.7 398.9,163.5 399.7,163.6 400.5,164.1 401.3,165.1 402.1,166.1 402.9,166.6 403.7,166.4 404.5,165.5 405.3,164.5 406.1,163.9 406.9,164.1 407.7,164.8 408.5,165.7 409.3,166.3 410.1,166.4 410.9,166.4 411.7,166.5 412.5,167 413.3,167.6 414.1,168.1 414.9,168.3 415.7,168.4 416.5,168.5 417.3,168.9 418.1,169.4 418.9,169.7 419.7,169.4 420.5,168.6 421.3,167.9 422.1,168 422.9,169.1 423.7,170.9 424.5,172.3 425.3,172.7 426.1,172 426.9,170.6 427.7,169.6 428.5,169.5 429.3,170.5 430.1,172 430.9,173.2 431.7,173.7 432.5,173.6 433.3,173.3 434.1,173 434.9,173 435.7,172.8 436.5,172.6 437.3,172.5 438.1,172.8 438.9,173.9 439.7,175.5 440.5,177.1 441.3,177.9 442.1,177.8 442.9,177 443.7,176.3 444.5,176.3 445.3,177.3 446.1,178.5 446.9,179.3 447.7,179.1 448.5,178.1 449.3,177 450.1,176.5 450.9,177.1 451.7,178.4 452.5,179.9 453.3,181 454.1,181.5 454.9,181.7 455.7,181.9 456.5,182.1 457.3,182.2 458.1,182.1 458.9,181.9 459.7,182 460.5,182.7 461.3,183.7 462.1,184.7 462.9,185.3 463.7,185.3 464.5,185 465.3,184.8 466.1,184.8 466.9,185.2 467.7,185.8 468.5,186.2 469.3,186.5 470.1,186.7 470.9,186.9 471.7,187.1 472.5,187.1 473.3,187.2 474.1,187.2 474.9,187.2 475.7,187.3 476.5,187.3 477.3,187.3 478.1,187.3 478.9,187.4 479.7,187.4 480.5,187.4 481.3,187.4 482.1,187.4 482.9,187.4 483.7,187.4 484.5,187.4 485.3,187.4 486.1,187.4 486.9,187.4 487.7,187.4 488.5,187.4 489.3,187.4 490.1,187.4 490.9,187.4 491.7,187.4 492.6,187.4"/>
<polyline class="cy" points="309.2,171.8 310,171.8 310.8,171.8 311.6,171.8 312.4,171.8 313.2,171.8 314,171.8 314.8,171.8 315.6,171.8 316.4,171.9 317.2,171.9 318,171.9 318.8,171.9 319.6,171.9 320.4,171.9 321.2,171.9 322,171.9 322.8,171.9 323.6,171.9 324.4,171.9 325.2,171.9 326,171.9 326.8,171.9 327.6,171.9 328.4,171.9 329.2,171.9 330,172 330.8,172 331.6,172 332.4,172 333.2,172 334,172 334.8,172 335.6,172 336.4,172 337.2,172 338,172 338.8,172 339.6,172.1 340.4,172.2 341.2,172.4 342,172.5 342.8,172.6 343.6,172.8 344.4,172.9 345.2,173 346,173.1 346.8,173.3 347.6,173.4 348.4,173.5 349.2,173.7 350,173.8 350.8,173.9 351.6,174 352.4,174.2 353.2,174.4 354,174.6 354.8,174.8 355.6,175 356.4,175.2 357.2,175.4 358,175.6 358.8,175.8 359.6,176 360.4,176.2 361.2,176.4 362,176.6 362.8,176.8 363.6,177 364.4,177.2 365.2,177.4 366,177.6 366.8,177.8 367.6,178 368.4,178.3 369.2,178.7 370,179.1 370.8,179.5 371.6,179.9 372.4,180.3 373.2,180.7 374,181 374.8,181.3 375.6,181.5 376.4,181.6 377.2,181.7 378,181.8 378.8,182.2 379.6,182.8 380.4,183.3 381.2,183.6 382,183.6 382.8,183.4 383.6,183.5 384.4,183.9 385.2,184.6 386,185.4 386.8,185.9 387.6,185.9 388.4,185.5 389.2,185.2 390,185.2 390.8,185.5 391.6,186.2 392.4,186.8 393.2,187.2 394,187.4 394.8,187.7 395.6,188 396.4,188.3 397.2,188.2 398,187.8 398.9,187.4 399.7,187.5 400.5,188.4 401.3,190.1 402.1,191.8 402.9,192.8 403.7,192.4 404.5,190.8 405.3,189 406.1,187.8 406.9,187.9 407.7,189 408.5,190.3 409.3,191.1 410.1,191.2 410.9,191.1 411.7,191.3 412.5,192.2 413.3,193.3 414.1,194.4 414.9,194.9 415.7,195 416.5,195.2 417.3,195.7 418.1,196.5 418.9,196.7 419.7,196.1 420.5,194.7 421.3,193.6 422.1,193.9 422.9,195.9 423.7,199 424.5,201.5 425.3,202.2 426.1,200.8 426.9,198.3 427.7,196.4 428.5,196.3 429.3,198 430.1,200.5 430.9,202.7 431.7,203.7 432.5,203.6 433.3,203.2 434.1,202.8 434.9,202.7 435.7,202.4 436.5,202 437.3,201.6 438.1,202 438.9,203.6 439.7,206.2 440.5,208.9 441.3,210.4 442.1,210.3 442.9,209 443.7,208 444.5,208.1 445.3,209.7 446.1,211.7 446.9,212.7 447.7,212.1 448.5,210.1 449.3,208.1 450.1,207.3 450.9,208.4 451.7,210.9 452.5,213.6 453.3,215.7 454.1,216.7 454.9,217.2 455.7,217.5 456.5,217.9 457.3,218.1 458.1,217.9 458.9,217.6 459.7,218 460.5,219.3 461.3,221.3 462.1,223.4 462.9,224.6 463.7,224.8 464.5,224.3 465.3,223.6 466.1,223.1 466.9,223.2 467.7,223.5 468.5,223.6 469.3,223.5 470.1,223.3 470.9,223.1 471.7,223 472.5,222.8 473.3,222.7 474.1,222.7 474.9,222.6 475.7,222.5 476.5,222.5 477.3,222.4 478.1,222.4 478.9,222.3 479.7,222.3 480.5,222.2 481.3,222.2 482.1,222.2 482.9,222.2 483.7,222.2 484.5,222.2 485.3,222.2 486.1,222.2 486.9,222.2 487.7,222.2 488.5,222.2 489.3,222.2 490.1,222.2 490.9,222.2 491.7,222.2 492.6,222.2"/>
<polyline class="cy" points="309.2,189.2 310,189.2 310.8,189.2 311.6,189.2 312.4,189.2 313.2,189.2 314,189.2 314.8,189.2 315.6,189.2 316.4,189.3 317.2,189.3 318,189.3 318.8,189.3 319.6,189.3 320.4,189.3 321.2,189.3 322,189.3 322.8,189.3 323.6,189.3 324.4,189.3 325.2,189.3 326,189.3 326.8,189.3 327.6,189.4 328.4,189.4 329.2,189.4 330,189.4 330.8,189.4 331.6,189.4 332.4,189.4 333.2,189.4 334,189.4 334.8,189.4 335.6,189.4 336.4,189.4 337.2,189.4 338,189.5 338.8,189.5 339.6,189.6 340.4,189.7 341.2,189.9 342,190.1 342.8,190.2 343.6,190.4 344.4,190.5 345.2,190.7 346,190.9 346.8,191 347.6,191.2 348.4,191.3 349.2,191.5 350,191.7 350.8,191.8 351.6,192 352.4,192.2 353.2,192.4 354,192.7 354.8,193 355.6,193.3 356.4,193.6 357.2,193.9 358,194.2 358.8,194.5 359.6,194.8 360.4,195.1 361.2,195.4 362,195.7 362.8,196.1 363.6,196.4 364.4,196.7 365.2,197 366,197.3 366.8,197.5 367.6,197.7 368.4,198.1 369.2,198.5 370,199 370.8,199.5 371.6,200 372.4,200.5 373.2,200.9 374,201.4 374.8,201.7 375.6,201.9 376.4,202 377.2,202 378,202.2 378.8,202.8 379.6,203.5 380.4,204.2 381.2,204.6 382,204.6 382.8,204.4 383.6,204.5 384.4,205.1 385.2,206.1 386,207.2 386.8,207.9 387.6,207.9 388.4,207.3 389.2,206.8 390,206.8 390.8,207.5 391.6,208.5 392.4,209.6 393.2,210.4 394,210.9 394.8,211.4 395.6,212 396.4,212.5 397.2,212.6 398,212.2 398.9,211.8 399.7,212.1 400.5,213.7 401.3,216.6 402.1,219.5 402.9,221.4 403.7,221.3 404.5,219.5 405.3,217.3 406.1,216.1 406.9,216.6 407.7,218.4 408.5,220.4 409.3,221.7 410.1,222.1 410.9,221.9 411.7,222.2 412.5,223.3 413.3,224.9 414.1,226.3 414.9,227 415.7,227.1 416.5,227.2 417.3,227.7 418.1,228.5 418.9,228.7 419.7,227.6 420.5,225.5 421.3,223.8 422.1,224.2 422.9,227 423.7,231.3 424.5,234.8 425.3,235.7 426.1,233.5 426.9,229.7 427.7,226.8 428.5,226.4 429.3,228.7 430.1,232.3 430.9,235.2 431.7,236.6 432.5,236.5 433.3,235.7 434.1,235.2 434.9,234.9 435.7,234.5 436.5,233.8 437.3,233.2 438.1,233.6 438.9,235.9 439.7,239.7 440.5,243.5 441.3,245.4 442.1,244.8 442.9,242.5 443.7,240.5 444.5,240.1 445.3,241.7 446.1,243.8 446.9,244.6 447.7,243 448.5,239.7 449.3,236.4 450.1,235 450.9,236.3 451.7,239.6 452.5,243.4 453.3,246.1 454.1,247.5 454.9,248.1 455.7,248.7 456.5,249.4 457.3,249.8 458.1,249.6 458.9,249.4 459.7,250 460.5,251.9 461.3,254.9 462.1,257.9 462.9,259.8 463.7,260.2 464.5,259.4 465.3,258.4 466.1,257.9 466.9,258 467.7,258.4 468.5,258.6 469.3,258.5 470.1,258.2 470.9,258 471.7,257.9 472.5,257.7 473.3,257.6 474.1,257.5 474.9,257.4 475.7,257.4 476.5,257.3 477.3,257.2 478.1,257.2 478.9,257.1 479.7,257 480.5,257 481.3,256.9 482.1,256.9 482.9,256.9 483.7,256.9 484.5,256.9 485.3,256.9 486.1,256.9 486.9,256.9 487.7,256.9 488.5,256.9 489.3,256.9 490.1,256.9 490.9,256.9 491.7,256.9 492.6,256.9"/>
<polyline class="bk" points="309.2,136.8 310,136.8 310.8,136.8 311.6,136.8 312.4,136.8 313.2,136.8 314,136.7 314.8,136.7 315.6,136.7 316.4,136.7 317.2,136.7 318,136.7 318.8,136.7 319.6,136.7 320.4,136.7 321.2,136.6 322,136.6 322.8,136.6 323.6,136.6 324.4,136.6 325.2,136.6 326,136.6 326.8,136.6 327.6,136.6 328.4,136.5 329.2,136.5 330,136.5 330.8,136.5 331.6,136.5 332.4,136.5 333.2,136.5 334,136.5 334.8,136.5 335.6,136.4 336.4,136.4 337.2,136.4 338,136.4 338.8,136.4 339.6,136.4 340.4,136.4 341.2,136.4 342,136.4 342.8,136.3 343.6,136.3 344.4,136.3 345.2,136.3 346,136.3 346.8,136.3 347.6,136.3 348.4,136.3 349.2,136.3 350,136.2 350.8,136.2 351.6,136.2 352.4,136.2 353.2,136.2 354,136.2 354.8,136.2 355.6,136.2 356.4,136.2 357.2,136.2 358,136.2 358.8,136.3 359.6,136.3 360.4,136.3 361.2,136.4 362,136.4 362.8,136.4 363.6,136.4 364.4,136.5 365.2,136.5 366,136.5 366.8,136.6 367.6,136.6 368.4,136.6 369.2,136.7 370,136.7 370.8,136.8 371.6,136.8 372.4,136.8 373.2,136.9 374,136.9 374.8,137 375.6,137 376.4,137.1 377.2,137.1 378,137.2 378.8,137.3 379.6,137.5 380.4,137.7 381.2,137.7 382,137.8 382.8,137.7 383.6,137.7 384.4,137.8 385.2,137.9 386,138.1 386.8,138.3 387.6,138.4 388.4,138.4 389.2,138.5 390,138.5 390.8,138.6 391.6,138.6 392.4,138.7 393.2,138.7 394,138.7 394.8,138.7 395.6,138.9 396.4,139 397.2,139.1 398,139.1 398.9,139 399.7,139 400.5,139.1 401.3,139.3 402.1,139.5 402.9,139.6 403.7,139.4 404.5,139.1 405.3,138.8 406.1,138.7 406.9,138.9 407.7,139.3 408.5,139.7 409.3,140 410.1,140.2 410.9,140.2 411.7,140.1 412.5,140.1 413.3,140 414.1,139.9 414.9,139.8 415.7,139.7 416.5,139.7 417.3,139.9 418.1,140.2 418.9,140.4 419.7,140.3 420.5,140 421.3,139.6 422.1,139.4 422.9,139.6 423.7,140 424.5,140.5 425.3,140.8 426.1,140.7 426.9,140.5 427.7,140.5 428.5,140.6 429.3,141.1 430.1,141.6 430.9,141.9 431.7,142 432.5,142 433.3,141.9 434.1,141.8 434.9,141.9 435.7,142 436.5,142.1 437.3,142.3 438.1,142.7 438.9,143.3 439.7,144.1 440.5,144.8 441.3,145.1 442.1,144.9 442.9,144.5 443.7,144.2 444.5,144.2 445.3,144.6 446.1,145.3 446.9,145.9 447.7,146.4 448.5,146.5 449.3,146.5 450.1,146.7 450.9,147 451.7,147.5 452.5,148 453.3,148.3 454.1,148.5 454.9,148.7 455.7,148.9 456.5,149.3 457.3,149.5 458.1,149.6 458.9,149.6 459.7,149.6 460.5,149.7 461.3,150 462.1,150.3 462.9,150.5 463.7,150.5 464.5,150.4 465.3,150.4 466.1,150.5 466.9,150.8 467.7,151 468.5,151.2 469.3,151.3 470.1,151.4 470.9,151.5 471.7,151.6 472.5,151.7 473.3,151.8 474.1,151.9 474.9,152 475.7,152.1 476.5,152.2 477.3,152.3 478.1,152.4 478.9,152.4 479.7,152.4 480.5,152.5 481.3,152.5 482.1,152.5 482.9,152.5 483.7,152.5 484.5,152.6 485.3,152.6 486.1,152.6 486.9,152.6 487.7,152.7 488.5,152.7 489.3,152.7 490.1,152.7 490.9,152.7 491.7,152.8 492.6,152.8"/>
</g>
<path class="hb" d="M320.83 32.5v-0.1h3.65v0.1zM324.48 32.5v-0.2h3.65v0.2zM328.12 32.5v-0.2h3.65v0.2zM331.77 32.5v-0.2h3.65v0.2zM335.41 32.5v-0.3h3.65v0.3zM339.06 32.5v-0.5h3.65v0.5zM342.7 32.5v-0.8h3.65v0.8zM346.35 32.5v-0.9h3.65v0.9zM350 32.5v-1.3h3.65v1.3zM353.64 32.5v-1.1h3.65v1.1zM357.28 32.5v-1.7h3.65v1.7zM360.93 32.5v-2.2h3.65v2.2zM364.57 32.5v-4.3h3.65v4.3zM368.22 32.5v-3.7h3.65v3.7zM371.87 32.5v-5.5h3.65v5.5zM375.51 32.5v-7.6h3.65v7.6zM379.15 32.5v-8.3h3.65v8.3zM382.8 32.5v-8.8h3.65v8.8zM386.44 32.5v-10.5h3.65v10.5zM390.09 32.5v-12.1h3.65v12.1zM393.73 32.5v-14.7h3.65v14.7zM397.38 32.5v-15.8h3.65v15.8zM401.02 32.5v-17.8h3.65v17.8zM404.67 32.5v-20h3.65v20zM408.31 32.5v-22.8h3.65v22.8zM411.96 32.5v-24.3h3.65v24.3zM415.6 32.5v-24.3h3.65v24.3zM419.25 32.5v-26.9h3.65v26.9zM422.89 32.5v-29.8h3.65v29.8zM426.54 32.5v-29.5h3.65v29.5zM430.18 32.5v-29.2h3.65v29.2zM433.83 32.5v-29.9h3.65v29.9zM437.47 32.5v-27h3.65v27zM441.12 32.5v-25.2h3.65v25.2zM444.76 32.5v-24.5h3.65v24.5zM448.41 32.5v-18.9h3.65v18.9zM452.05 32.5v-14.7h3.65v14.7zM455.7 32.5v-11.2h3.65v11.2zM459.34 32.5v-7.8h3.65v7.8zM462.99 32.5v-4.8h3.65v4.8zM466.63 32.5v-2.8h3.65v2.8zM470.28 32.5v-1.3h3.65v1.3zM473.92 32.5v-0.7h3.65v0.7zM477.57 32.5v-0.4h3.65v0.4zM481.21 32.5v-0.2h3.65v0.2zM484.86 32.5v-0.2h3.65v0.2z"/>
<path class="hl" d="M309.9 32.3H492.1"/>
<rect class="fr" x="292.6" y="32.5" width="215" height="218"/>
<path class="tk" d="M314.1 250.5v-2.6M314.1 32.5v2.6M357.1 250.5v-2.6M357.1 32.5v2.6M400.1 250.5v-2.6M400.1 32.5v2.6M443.1 250.5v-2.6M443.1 32.5v2.6M486.1 250.5v-2.6M486.1 32.5v2.6M292.6 250.5h2.6M507.6 250.5h-2.6M292.6 223.25h2.6M507.6 223.25h-2.6M292.6 196h2.6M507.6 196h-2.6M292.6 168.75h2.6M507.6 168.75h-2.6M292.6 141.5h2.6M507.6 141.5h-2.6M292.6 114.25h2.6M507.6 114.25h-2.6M292.6 87h2.6M507.6 87h-2.6M292.6 59.75h2.6M507.6 59.75h-2.6M292.6 32.5h2.6M507.6 32.5h-2.6"/>
<text class="tl" x="314.1" y="259.7" text-anchor="middle">20</text>
<text class="tl" x="357.1" y="259.7" text-anchor="middle">40</text>
<text class="tl" x="400.1" y="259.7" text-anchor="middle">60</text>
<text class="tl" x="443.1" y="259.7" text-anchor="middle">80</text>
<text class="tl" x="486.1" y="259.7" text-anchor="middle">100</text>
</g>
<g id="pT3">
<rect x="545.2" y="32.5" width="186.9" height="218" fill="#f5f5f5"/>
<path class="gr" d="M568.56 32.5V250.5M591.93 32.5V250.5M615.29 32.5V250.5M638.65 32.5V250.5M662.01 32.5V250.5M685.38 32.5V250.5M708.74 32.5V250.5M545.2 223.25H732.1M545.2 196H732.1M545.2 168.75H732.1M545.2 141.5H732.1M545.2 114.25H732.1M545.2 87H732.1M545.2 59.75H732.1"/>
<clipPath id="cT3"><rect x="545.2" y="32.5" width="186.9" height="218"/></clipPath>
<g clip-path="url(#cT3)">
<path class="un" transform="translate(545.2 33)" d="M76 28h3M76 29h3M88 29h4M88 30h4M88 31h4M88 32h4M87 33h11M90 34h6M82 35h5M89 35h10M119 35h4M82 36h17M119 36h5M76 37h23M119 37h3M74 38h26M103 38h5M74 39h34M74 40h20M98 40h10M74 41h20M95 41h14M117 41h3M71 42h41M115 42h3M63 43h4M72 43h48M63 44h5M69 44h52M63 45h58M62 46h5M69 46h53M62 47h60M60 48h72M60 49h5M66 49h67M60 50h73M60 51h3M64 51h70M62 52h74M61 53h74M61 54h77M61 55h78M59 56h81M58 57h82M56 58h84M56 59h84M56 60h84M55 61h87M55 62h87M55 63h88M55 64h88M56 65h87M146 65h4M55 66h88M144 66h6M55 67h94M48 68h3M55 68h94M48 69h5M55 69h94M48 70h5M54 70h95M48 71h5M55 71h94M48 72h5M55 72h94M48 73h104M48 74h103M43 75h4M48 75h105M43 76h4M48 76h105M43 77h4M48 77h107M43 78h113M43 79h112M45 80h110M43 81h113M42 82h114M43 83h113M159 83h3M43 84h115M42 85h119M41 86h120M41 87h4M47 87h109M157 87h3M40 88h116M39 89h114M44 90h111M44 91h111M44 92h117M40 93h124M40 94h121M38 95h122M38 96h126M40 97h120M161 97h3M43 98h114M43 99h120M43 100h120M42 101h121M38 102h125M39 103h124M38 104h125M39 105h125M39 106h126M39 107h125M38 108h126M37 109h127M38 110h126M37 111h126M37 112h123M38 113h122M38 114h122M38 115h122M35 116h127M35 117h127M35 118h130M35 119h5M42 119h122M35 120h5M42 120h120M42 121h123M34 122h3M42 122h122M34 123h5M41 123h123M41 124h125M37 125h130M37 126h123M37 127h123M37 128h123M164 128h3M37 129h124M40 130h121M39 131h123M39 132h123M39 133h123M40 134h122M40 135h116M42 136h114M42 137h115M37 138h122M39 139h120M41 140h118M40 141h119M31 142h5M39 142h117M33 143h3M39 143h117M33 144h3M37 144h118M33 145h122M36 146h118M39 147h115M39 148h114M39 149h110M39 150h104M40 151h103M147 151h5M39 152h97M138 152h5M39 153h97M138 153h5M147 153h6M39 154h5M46 154h98M148 154h7M39 155h5M46 155h98M148 155h5M39 156h5M46 156h98M46 157h95M48 158h92M48 159h90M49 160h86M48 161h77M126 161h6M48 162h77M127 162h5M43 163h89M43 164h3M47 164h82M43 165h86M50 166h72M123 166h9M51 167h68M123 167h8M54 168h66M123 168h6M56 169h47M105 169h14M123 169h9M56 170h47M106 170h6M113 170h5M124 170h4M57 171h47M105 171h13M60 172h44M106 172h4M113 172h5M61 173h43M105 173h5M113 173h5M59 174h45M105 174h13M61 175h54M60 176h33M95 176h10M59 177h34M94 177h13M63 178h42M63 179h41M62 180h34M63 181h10M74 181h24M63 182h7M74 182h5M80 182h18M64 183h6M77 183h13M83 184h7M83 185h7M91 187h3M82 191h4M83 192h3"/>
<g transform="translate(545.2 32.5) scale(.1)">
<defs><path id="t30" d="M195 840h0m6 302h0m9 149h0m54-548h0m28 65h0m1 422h0m8-453h0m19-181h0m1 1063h0m3-958h0m14 887h0m12-802h0m7 538h0m6-519h0m8 501h0m28-860h0m8 1236h0m33-1139h0m38 1529h0m6-401h0m6 123h0m31-11h0m16 199h0m25-59h0m25-1358h0m20-382h0m24 1784h0m24-1604h0m24 1597h0m6 84h0m9-72h0m14-1830h0m31 91h0m2 1681h0m6-1735h0m8 145h0m10 1599h0m16 156h0m35-78h0m8-29h0m10 32h0m7-1886h0m5 125h0m21 1659h0m2-1616h0m10-109h0m64 1908h0m8-93h0m2-1860h0m19 7h0m66 94h0m46 1531h0m23 286h0m34-53h0m33-1630h0m32-32h0m12 1650h0m12-1629h0m2 1401h0m0-1418h0m70 1459h0m20-1379h0m24 1634h0m14-347h0m21-88h0m8 54h0m39-3h0m5-1435h0m10 301h0m3-225h0m19 1336h0m14-1021h0m15 1075h0m3-1028h0m13-47h0m46 1485h0m14-1358h0m31 810h0m4 2h0m1 91h0m8-971h0m13 535h0m45 207h0m13 175h0m12-372h0m24-246h0m5 124h0m51 490h0m20-433h0"/><path id="t31" d="M112 1135h0m48 208h0m45-367h0m16 360h0m19-391h0m9 494h0m3 52h0m2-69h0m15-204h0m5 28h0m7-294h0m2 94h0m6 434h0m16-455h0m18-374h0m14 738h0m24 271h0m3 132h0m8 10h0m12-971h0m25-11h0m6 773h0m13-986h0m63 22h0m17-29h0m0-112h0m30 134h0m5 1239h0m57 129h0m80-107h0m22 109h0m29-175h0m8-1611h0m3 1874h0m3-1861h0m12 1849h0m13-2023h0m18 1940h0m5-1845h0m37 1953h0m22-229h0m23 68h0m31-82h0m49-101h0m4 209h0m25-1772h0m3 1613h0m43-88h0m9-1648h0m48 78h0m46 1590h0m56-16h0m20 163h0m1-57h0m2-48h0m4-1315h0m31-187h0m19 115h0m28 1417h0m2-1326h0m28 16h0m30-341h0m13 1622h0m3-1248h0m14-115h0m0 180h0m0 968h0m5 216h0m4-18h0m24-1235h0m6 1087h0m56 12h0m17 173h0m16-1133h0m4 968h0m6-69h0m3 156h0m16-76h0m16-93h0m5-875h0m54 677h0m4 381h0m9-327h0m1-708h0m24 386h0m18 396h0m1-408h0m70-387h0m12 755h0"/><path id="t32" d="M79 1597h0m116 357h0m22-206h0m32-403h0m2-110h0m0 726h0m41-1039h0m12-200h0m4 663h0m17-537h0m3 653h0m1-272h0m1-71h0m0 681h0m4-95h0m2-270h0m3-307h0m2-612h0m29 1133h0m12-684h0m11 252h0m55-399h0m1 998h0m44 248h0m1-1655h0m51-412h0m18 417h0m1 38h0m0-23h0m49-61h0m21 45h0m14 1420h0m22-75h0m33 1h0m39-1669h0m15-151h0m19 139h0m6 1915h0m5-2050h0m14 122h0m55 2010h0m13-2071h0m1 1951h0m1-1794h0m6 1780h0m51-148h0m21-1587h0m27 1750h0m11-147h0m5 105h0m11-20h0m8-212h0m12 184h0m20-172h0m38-1517h0m29 1615h0m7 10h0m8-1575h0m4 141h0m21-78h0m33 15h0m14 2h0m12 119h0m1 1303h0m18-1477h0m30-67h0m14 148h0m2 110h0m6 1539h0m31-1341h0m16-294h0m11 1505h0m28-1370h0m15 1166h0m47-1166h0m9-93h0m41 59h0m6 37h0m46 1078h0m10-252h0m14 182h0m60 107h0m6-729h0m12 60h0m3 300h0m21 385h0m23-280h0m24 106h0m32-8h0"/><path id="t33" d="M103 1720h0m167-659h0m3 584h0m12-94h0m32-122h0m17-448h0m15 377h0m17-467h0m35 664h0m8 183h0m1-178h0m3-724h0m12 932h0m0-1019h0m8 84h0m21-158h0m22 19h0m20 58h0m46 1071h0m3-44h0m16-1451h0m54 137h0m5 1314h0m23 270h0m12-1664h0m8 1573h0m25-1613h0m25 1526h0m21-1657h0m0 1658h0m16-1565h0m13-219h0m2 399h0m8 1391h0m5-1800h0m51 170h0m3 46h0m4 1828h0m6-1850h0m31 1609h0m19 168h0m44-1811h0m5 44h0m14-97h0m14 1568h0m3 325h0m6-205h0m33 83h0m16-1583h0m36 24h0m20-124h0m5-151h0m14 1571h0m18-1307h0m2 1347h0m66-1429h0m6 82h0m6 1406h0m7-1386h0m1-308h0m164 1557h0m13 201h0m8-147h0m49-1198h0m4 77h0m2 1186h0m49-1057h0m6 835h0m13-955h0m11 113h0m27 1296h0m10-1351h0m4 761h0m18-817h0m8 672h0m17 181h0m2-114h0m3-490h0m26-21h0m23 757h0m23-191h0m2-685h0m2 622h0m8-76h0m2-447h0m10 1071h0m46-608h0m19-60h0m30-326h0"/><path id="t34" d="M99 937h0m168 494h0m71 29h0m0-435h0m17-101h0m7-25h0m4-274h0m12 854h0m19-461h0m11 316h0m2 624h0m2-951h0m1-419h0m48 1002h0m3 68h0m1-937h0m4 925h0m22 59h0m0-58h0m13 181h0m5 66h0m5-81h0m66-1422h0m11 1697h0m15-261h0m27-12h0m9-1370h0m37-102h0m28 851h0m42 810h0m16 105h0m7-1890h0m48-46h0m2 115h0m12 1605h0m4 293h0m20-67h0m23-2046h0m25 1922h0m7-1730h0m80 80h0m2-314h0m5 2061h0m22-1884h0m10 49h0m5 83h0m47 16h0m10 1328h0m18 73h0m5-1458h0m48 30h0m13-72h0m3 1493h0m8-1320h0m11 1312h0m40 298h0m15-1773h0m10 236h0m14 1316h0m13-1429h0m16-317h0m13 216h0m4 1418h0m20-1236h0m11-30h0m36 1321h0m62-877h0m6 854h0m12-1056h0m13-260h0m0 1088h0m31-769h0m4 919h0m1-347h0m9 223h0m5-645h0m4-251h0m9 151h0m14 592h0m1-507h0m4-269h0m11-8h0m5 942h0m10 119h0m20-536h0m18-87h0m35 391h0m30-426h0m65 114h0"/><path id="t35" d="M88 1493h0m134-391h0m46 343h0m10 150h0m27-539h0m8 449h0m3-420h0m1 563h0m0-455h0m11-335h0m6 490h0m32-638h0m1 971h0m1-570h0m12 341h0m15-558h0m27 401h0m10-603h0m2 1023h0m1-950h0m18 742h0m2 59h0m12-31h0m34-831h0m7 784h0m38-866h0m5-349h0m2 1346h0m9-1179h0m0-22h0m15 1464h0m10-1650h0m16 147h0m38 28h0m27 1384h0m12-1340h0m6-50h0m19 1323h0m16-1510h0m34 1490h0m11 249h0m31-53h0m4 81h0m5 82h0m3 104h0m15-1929h0m12 1701h0m50-1756h0m18 1740h0m18 61h0m131-243h0m25 48h0m46-1455h0m30-151h0m11 1633h0m14-1609h0m36 151h0m20 107h0m24 1096h0m5-1360h0m18 92h0m41 210h0m22 54h0m23 1188h0m36-171h0m53 19h0m76 217h0m4-1312h0m1 192h0m9 383h0m7 518h0m12-754h0m28-28h0m2 523h0m9 118h0m2-82h0m2-64h0m10-241h0m32 169h0m0 69h0m4-206h0m5 189h0m26 68h0m11-196h0m1-173h0m5-66h0m30 245h0m16-177h0m26-75h0"/><path id="t36" d="M253 1376h0m13-161h0m27 210h0m12 116h0m12-36h0m9 41h0m12-361h0m5 33h0m5 347h0m11-118h0m17-79h0m38-37h0m41 121h0m50 429h0m1-1333h0m3 1371h0m25-172h0m5-1214h0m9 1339h0m13-202h0m1-1448h0m12 1564h0m5-1315h0m6 40h0m5 1278h0m21-26h0m45-1465h0m20 1674h0m9-1474h0m6-325h0m5 14h0m6 1598h0m7-1694h0m29 277h0m16 1362h0m17-1410h0m3 1621h0m4-1646h0m5 1482h0m85 66h0m4 112h0m22-24h0m22-200h0m6-1384h0m19 1329h0m44 150h0m4-1454h0m12-102h0m10 1809h0m3-1815h0m8 1861h0m54-1806h0m14-103h0m19 143h0m11-84h0m5 93h0m17 1324h0m4-1346h0m9 1529h0m7-1614h0m7-256h0m19 425h0m69-113h0m4 1334h0m9 125h0m12-1392h0m38 22h0m81 160h0m37 996h0m1 39h0m2 40h0m1-1316h0m46 427h0m19 928h0m14-164h0m4-478h0m2 44h0m7 746h0m11-743h0m26-219h0m25-13h0m14-23h0m3 372h0m1-132h0m12 15h0m34 117h0m12 9h0m12 239h0m31-96h0"/><path id="t37" d="M201 1412h0m70-27h0m8-306h0m12 274h0m2 76h0m31 178h0m27-801h0m1 427h0m6 388h0m0-336h0m12-209h0m9 241h0m6-218h0m0 561h0m22-469h0m0 210h0m2-130h0m3-471h0m1 11h0m6 350h0m14 449h0m1-909h0m46 1046h0m0-1082h0m2 291h0m12 805h0m3-1079h0m5 1107h0m6-1033h0m13-37h0m20-49h0m12 114h0m2 785h0m19 72h0m1-53h0m11 171h0m93 137h0m23-67h0m22-94h0m5-1331h0m22-142h0m60 1694h0m7-1570h0m4-388h0m29 1720h0m26-1458h0m0 1883h0m19-1848h0m30 101h0m1-77h0m16 1652h0m51-1657h0m31 1366h0m11 192h0m46 45h0m6-60h0m4 44h0m6-184h0m28 94h0m14 103h0m2 192h0m1-1675h0m2 1286h0m8-1587h0m28 294h0m9 1144h0m15-1322h0m56 1550h0m17-67h0m12 37h0m38-150h0m34-1251h0m54 1156h0m13-22h0m48-774h0m3-145h0m28 449h0m13 502h0m6-157h0m5-699h0m2 262h0m12-194h0m10 775h0m19-130h0m1-598h0m29 441h0m81-83h0m49 185h0m72-303h0"/><path id="t38" d="M248 1394h0m54-86h0m3-32h0m61 111h0m27 233h0m6-474h0m7-266h0m5 445h0m5-80h0m11-373h0m1 833h0m7-806h0m6-140h0m5 719h0m1 238h0m1 394h0m0-1318h0m8 134h0m3-189h0m93 1067h0m31-1102h0m7 1168h0m1 41h0m6-1425h0m34 1376h0m16-34h0m19-98h0m9-36h0m83-1326h0m5-204h0m10 42h0m1 120h0m10 1610h0m4-1775h0m17 23h0m75 1843h0m9-1920h0m29 1610h0m45 206h0m7-1621h0m12-101h0m3 1833h0m9-1892h0m5 1937h0m8-2026h0m5 1551h0m36 9h0m34 126h0m3-1337h0m5 1315h0m16-1304h0m19 1258h0m37 93h0m3-1375h0m86 1413h0m38-20h0m23-38h0m0-276h0m45 285h0m22-1043h0m1 870h0m8-64h0m3 519h0m1-1420h0m6 1292h0m10-1214h0m3-103h0m28-177h0m14 327h0m25 102h0m1 737h0m17-834h0m9 296h0m5 611h0m4-107h0m14-62h0m43-24h0m3 146h0m17-319h0m0-122h0m3-644h0m5 892h0m20-1379h0m15 1290h0m20-276h0m6-36h0m30 265h0m22-45h0m8-70h0"/><path id="t39" d="M199 1108h0m7-48h0m41 601h0m37-576h0m1-199h0m52 183h0m6 8h0m5 199h0m32-319h0m9 891h0m9-761h0m9 758h0m5-1128h0m4 929h0m4-674h0m10 661h0m46-63h0m2-754h0m4 721h0m6 96h0m3-172h0m8-1058h0m6 281h0m14 762h0m7-471h0m15-168h0m26-705h0m12 392h0m0 1058h0m8-937h0m13-230h0m15 1339h0m30-1166h0m5-102h0m8-19h0m9-77h0m48 1h0m64-337h0m8 1787h0m18-1572h0m23 1455h0m24 44h0m10 100h0m20-1285h0m23 1161h0m26 245h0m16-15h0m54-306h0m38-1124h0m4 1269h0m18-1596h0m1 1503h0m9 62h0m7-63h0m42 285h0m28-1638h0m17 1303h0m11-57h0m47-1448h0m6 513h0m3 1060h0m73-1211h0m17 1352h0m3-207h0m26-1142h0m17-125h0m2 235h0m40 97h0m23 987h0m5-153h0m15-862h0m18-14h0m25 980h0m11-178h0m4-654h0m17 275h0m21-218h0m0 268h0m11-28h0m5 291h0m14-135h0m26-359h0m23 345h0m11-86h0m10 98h0m11-22h0m68 67h0m66-357h0m26-196h0"/><path id="t310" d="M200 939h0m9 393h0m15-71h0m70 11h0m2-83h0m53 352h0m11-545h0m47-323h0m10 585h0m11 188h0m10-237h0m3 385h0m2-630h0m4 156h0m12-132h0m20 575h0m23 130h0m42-84h0m15-1247h0m3 1286h0m11-1211h0m20 1323h0m5-1724h0m5 494h0m8 190h0m18 1038h0m4-1152h0m11 1100h0m11-1453h0m5 338h0m2 1042h0m15-1402h0m13 148h0m3 1404h0m1-1203h0m6-128h0m87 1240h0m1 108h0m4-1613h0m14 240h0m13 1334h0m18-35h0m74-1326h0m22 1471h0m5-87h0m2 16h0m13-1452h0m42 1425h0m0-89h0m52-1297h0m32 83h0m49 1292h0m44-1325h0m2 1316h0m96-1077h0m48 859h0m57-1086h0m67 1099h0m0-232h0m0-608h0m1 147h0m23 876h0m13-701h0m3-385h0m13 389h0m8 417h0m10-301h0m0 33h0m6 280h0m1-30h0m6-843h0m4 358h0m8-371h0m16 641h0m18-57h0m4 116h0m11 15h0m9-258h0m26 50h0m9-134h0m10 173h0m4-99h0m52 80h0m1-196h0m36 89h0m37 349h0m9-184h0m14 203h0m3-46h0"/><path id="t311" d="M205 1510h0m60-490h0m15 90h0m69-300h0m17 317h0m15 371h0m4-206h0m5 223h0m9-305h0m65-114h0m32 634h0m8-248h0m2 312h0m6-263h0m9-730h0m4 857h0m37-505h0m4-462h0m7 65h0m6-128h0m12-206h0m27 132h0m5-73h0m3 97h0m3-260h0m1 311h0m31-322h0m16 1866h0m34-1953h0m17 1471h0m11 377h0m29-324h0m32 142h0m8 151h0m4-1577h0m5 1282h0m8-1232h0m13 1410h0m46-1666h0m2 148h0m10 1553h0m38-1510h0m1-227h0m5 1635h0m11-1548h0m5 1212h0m2-1069h0m9-238h0m61 1546h0m1-158h0m38 310h0m4-273h0m23-1129h0m11-152h0m2 87h0m47 1408h0m12-1400h0m3-29h0m25 1258h0m6-45h0m9-1268h0m50 1309h0m2-1088h0m11-186h0m22 1270h0m18 32h0m44-329h0m2 95h0m9-719h0m20 893h0m1-236h0m6-853h0m0 163h0m11 680h0m8-64h0m31 86h0m8-165h0m3-477h0m30 12h0m8 547h0m2-362h0m17 155h0m6-229h0m12 233h0m14-750h0m11 917h0m2 103h0m8-253h0m48 175h0"/><path id="t312" d="M322 1336h0m45 246h0m2-543h0m2 202h0m24 304h0m2-577h0m16 545h0m2-144h0m4-101h0m23 49h0m20-413h0m5 271h0m15 407h0m2-724h0m7-36h0m16-58h0m26-119h0m41 1076h0m6 98h0m0-1167h0m6 1049h0m10-65h0m1-1066h0m5 72h0m8 29h0m23 1009h0m15-1232h0m17 43h0m47-373h0m6 1630h0m19-1151h0m20-101h0m21 1339h0m7-98h0m11-1416h0m32 1507h0m12-1497h0m24-10h0m3 90h0m28 31h0m7 1345h0m15-1316h0m11 1422h0m6-1518h0m38 204h0m25-180h0m14-259h0m46 1412h0m29 48h0m7 423h0m4-1446h0m51-295h0m19 1262h0m10 75h0m34-1424h0m4 297h0m9 1200h0m1-1155h0m67 199h0m25-85h0m15 857h0m25 225h0m13-1233h0m6 986h0m2-1142h0m2 1290h0m21-137h0m7-201h0m30-427h0m9-134h0m12 772h0m30-244h0m38-155h0m3 3h0m2 48h0m6-315h0m4 355h0m8 55h0m14-319h0m20 303h0m8 263h0m3-609h0m4 227h0m3-167h0m13 148h0m32-178h0m7 396h0m16 11h0m15-221h0"/><path id="t313" d="M259 1179h0m66 82h0m9 40h0m31-165h0m5 46h0m26-58h0m4-188h0m10 459h0m31-581h0m3 425h0m5-151h0m11-91h0m20 21h0m10 389h0m9 221h0m29-703h0m4 933h0m2-978h0m4 93h0m3 603h0m17-67h0m13-780h0m23 935h0m27-924h0m5-191h0m22 1291h0m9-1153h0m83 857h0m3-1092h0m2 1413h0m7-58h0m21-240h0m5 211h0m6-1544h0m26 235h0m14 1204h0m27-4h0m1-1296h0m9 48h0m5 1230h0m2-875h0m1-340h0m5 1355h0m5-62h0m72-127h0m35 105h0m26 76h0m2-53h0m6-1134h0m2 1197h0m16-1486h0m27 1512h0m16-164h0m65-1217h0m7 1251h0m18-1184h0m9 1209h0m4-1003h0m7-239h0m14 81h0m34 76h0m1-286h0m7 1377h0m0-1170h0m17 1185h0m13-1313h0m8 1153h0m46-199h0m46 47h0m0-1030h0m17 282h0m10 675h0m1-635h0m17-253h0m27 338h0m19 664h0m12-820h0m15 308h0m9-8h0m35 74h0m32 324h0m3-153h0m8 117h0m25-111h0m1-198h0m6 177h0m0 293h0m38-557h0m45 26h0"/><path id="t314" d="M219 985h0m105 127h0m6-392h0m43 866h0m19-679h0m12-43h0m14 804h0m28-389h0m0 388h0m11-609h0m1-220h0m1-326h0m2 990h0m17-19h0m16-693h0m3 308h0m5-243h0m7 829h0m20-323h0m3-669h0m10 274h0m16 318h0m34-705h0m3 925h0m5 115h0m18-1292h0m7 403h0m22-71h0m11-140h0m3 1146h0m9-846h0m37-375h0m8 58h0m76-27h0m19 1247h0m6 357h0m9-231h0m15-333h0m40-1167h0m11 1253h0m37 82h0m8-55h0m3-1021h0m8-482h0m10 1580h0m10 63h0m5-1790h0m54 1674h0m3-1094h0m8 78h0m4 1024h0m3-1359h0m8 1207h0m28-1265h0m6 1209h0m119-25h0m6-1045h0m2 334h0m3-109h0m11-107h0m4 135h0m9-57h0m22-164h0m13 1200h0m3-1089h0m3 40h0m17 1008h0m12 81h0m21-1005h0m10-240h0m23 157h0m2 190h0m58 40h0m18 559h0m5 123h0m15-65h0m1 76h0m15-327h0m5-264h0m10 634h0m10-210h0m21 387h0m1-172h0m3-926h0m7 624h0m24 106h0m6 346h0m121-723h0m30 150h0"/><path id="t315" d="M233 1303h0m49 419h0m49-651h0m40 199h0m6 367h0m37-578h0m4 376h0m3-295h0m1-209h0m31 722h0m6-761h0m12 26h0m19 249h0m6-125h0m6-216h0m17 42h0m1 224h0m11-346h0m2 660h0m4 87h0m1-323h0m0 242h0m1-999h0m4 183h0m9-26h0m28 1534h0m4-425h0m10 20h0m7-30h0m16 78h0m8 3h0m10-346h0m22 377h0m2-1022h0m16-170h0m14 1007h0m3 44h0m22-80h0m37 238h0m44-72h0m8-1211h0m26-105h0m61 1413h0m4-1515h0m16 61h0m2 70h0m3 86h0m25 1059h0m1 230h0m35-272h0m7 178h0m2-34h0m3-71h0m3-1516h0m22 392h0m7 857h0m12-876h0m8-80h0m19 1469h0m13-1314h0m10-32h0m4-88h0m1 1145h0m47-1008h0m32 902h0m5 154h0m27-869h0m0 778h0m5-825h0m14-82h0m5 1028h0m29-1181h0m16-15h0m74 780h0m7 383h0m39-221h0m24-608h0m22 64h0m1 529h0m26-318h0m2-457h0m30 228h0m7 248h0m4 40h0m18-351h0m25 704h0m87-299h0m63-398h0m91 436h0"/><path id="t316" d="M328 1007h0m46 433h0m22-687h0m14 698h0m5 209h0m46-27h0m5-321h0m10 106h0m21 182h0m0-1078h0m2 249h0m1 1096h0m13-705h0m9 38h0m5-338h0m6 138h0m1 645h0m1-567h0m10-156h0m5 773h0m6-229h0m3-270h0m1-505h0m10 697h0m2 133h0m6-1032h0m12 853h0m7 172h0m10 174h0m1-1379h0m8 1129h0m0-845h0m31 921h0m13-119h0m31-592h0m20-277h0m8 1083h0m47-1193h0m29-110h0m33 1489h0m4-296h0m14-1004h0m8 1336h0m1-1387h0m12 1243h0m14-33h0m0-1532h0m1 1704h0m30-1599h0m3 53h0m19 334h0m24-70h0m100 1046h0m13 133h0m12-1099h0m1 40h0m13-122h0m25-40h0m25 0h0m17 1099h0m13-169h0m17-1140h0m7 299h0m33 206h0m77 722h0m3 7h0m4-230h0m23 129h0m29-776h0m4 326h0m14-303h0m42 938h0m5-357h0m4 117h0m12-14h0m17 8h0m7 131h0m6-259h0m2-148h0m8-79h0m11 426h0m19-70h0m1-501h0m10 129h0m36 56h0m6 131h0m20-96h0m72 68h0m141 19h0"/><path id="t317" d="M332 1442h0m120-90h0m6-213h0m8 254h0m1-117h0m25-381h0m5 103h0m25 479h0m2-261h0m10 99h0m9-489h0m0 939h0m9-781h0m8 1135h0m7-1229h0m1 1039h0m2-1209h0m28 124h0m4-24h0m3 53h0m8-192h0m1 339h0m15 607h0m4-172h0m3 176h0m37-130h0m10-48h0m1 395h0m25-136h0m7-64h0m8 133h0m9 64h0m2-1364h0m12-101h0m2 142h0m17 1280h0m3-1277h0m8 1165h0m43 229h0m11-289h0m7-321h0m52-1133h0m10 1577h0m4-99h0m1-1142h0m13 231h0m26-5h0m40-259h0m12 81h0m4 49h0m1-38h0m5 889h0m57-956h0m11 101h0m8 940h0m19-905h0m2-28h0m5 151h0m1-289h0m7 1177h0m22-166h0m57-796h0m33 91h0m26 851h0m31-1035h0m1 851h0m8 55h0m8-904h0m2 797h0m6-783h0m6 971h0m10-800h0m4 616h0m26-537h0m12 724h0m29-342h0m9 16h0m19 174h0m6-777h0m10 800h0m7-218h0m2-243h0m15 447h0m12-58h0m27-156h0m3 64h0m5-329h0m60 132h0m37-250h0"/><path id="t318" d="M308 1163h0m13 16h0m32 618h0m87-419h0m2-176h0m30-129h0m2 66h0m7-204h0m12 270h0m3 50h0m16-420h0m6 100h0m10 193h0m18-529h0m50 787h0m17-240h0m0 253h0m11 246h0m0-1143h0m6 473h0m3 483h0m2 261h0m18-105h0m25-25h0m27-74h0m16-690h0m22 760h0m3 2h0m12-685h0m13 684h0m42 23h0m18 290h0m46-1514h0m13 1228h0m0-85h0m8 190h0m1-1238h0m0 1030h0m18 249h0m8-1316h0m5 1141h0m4-825h0m9-180h0m14 1222h0m1-1108h0m12-361h0m12 275h0m0 146h0m2 920h0m0-1075h0m8-106h0m1 947h0m1 72h0m30-1040h0m21-108h0m14 149h0m54-7h0m11 28h0m9-257h0m13 1403h0m9-1225h0m16 982h0m25 47h0m13 314h0m12-380h0m5 1h0m2-742h0m4 814h0m10-988h0m2-5h0m44 380h0m10 335h0m41 199h0m1-535h0m5 435h0m8 185h0m7 59h0m28-110h0m4-120h0m12 41h0m56-458h0m0 382h0m2 447h0m1-652h0m2 236h0m3-803h0m64 705h0m7 41h0m108-309h0"/><path id="t319" d="M281 1278h0m62 135h0m62-100h0m3-235h0m3 396h0m28-403h0m10 303h0m10-172h0m14-441h0m27 687h0m1 112h0m10 32h0m1-593h0m23 555h0m2-38h0m11-66h0m16-483h0m2-138h0m4 307h0m19-153h0m5 462h0m13-281h0m12 336h0m8 27h0m3-667h0m6-227h0m1 45h0m8 695h0m22 292h0m4-134h0m17-101h0m6-705h0m42-297h0m25 424h0m13-323h0m1 371h0m26-374h0m1 1323h0m11-997h0m3-839h0m0 1647h0m13-1185h0m43 132h0m1-42h0m18 24h0m44 846h0m3-702h0m8-95h0m2 1000h0m16 206h0m15-404h0m22 39h0m38 19h0m7-10h0m38 36h0m9-838h0m6-95h0m8 653h0m3-676h0m8 126h0m11-238h0m1 1180h0m2-860h0m23-108h0m29-73h0m38 90h0m28 922h0m6-151h0m0-703h0m54-5h0m1-166h0m6 267h0m10-39h0m23 419h0m35-172h0m5 334h0m0-239h0m41-285h0m0 39h0m13 279h0m4-243h0m3 88h0m8-73h0m0 582h0m3-902h0m2 661h0m114-353h0m28-92h0m16 142h0"/><path id="t320" d="M284 1708h0m39-269h0m75-410h0m54 703h0m14-428h0m31-237h0m38-32h0m0 241h0m29-332h0m7 376h0m0-525h0m7 363h0m2-264h0m21 562h0m6 112h0m3-74h0m15-962h0m3 247h0m24 699h0m4 355h0m4-597h0m0 126h0m13-840h0m22 273h0m19-190h0m4 1044h0m3-948h0m8 234h0m30-516h0m14 1206h0m3-1088h0m3 266h0m7 660h0m4-919h0m28 631h0m30 443h0m4-1047h0m4 1028h0m1-173h0m2 345h0m10-1288h0m2 1018h0m4 176h0m8-215h0m34 206h0m18-212h0m4 84h0m0-885h0m4 1430h0m24-1710h0m3 1179h0m9 46h0m29-1064h0m2 887h0m1-692h0m9-285h0m5 987h0m50-179h0m50-598h0m4-23h0m1 630h0m19 11h0m11-739h0m0 226h0m1 684h0m11-1149h0m31 1100h0m20 6h0m3 132h0m27-812h0m8 144h0m2 826h0m2-513h0m12 254h0m6-905h0m5 1163h0m1-303h0m2 154h0m16-295h0m16 318h0m31-876h0m20 212h0m4 401h0m1-185h0m54 175h0m40-269h0m15-161h0m27 341h0m76-290h0"/><path id="t321" d="M345 1608h0m153-240h0m2 210h0m14 136h0m4-690h0m9 139h0m5 238h0m17-187h0m15-198h0m28 245h0m20-471h0m6 493h0m5 19h0m20 451h0m4-215h0m30-770h0m8-580h0m22 1304h0m6-86h0m29-795h0m5 60h0m7 527h0m13 286h0m13 194h0m2-1002h0m1-283h0m3 1050h0m14 129h0m3-22h0m13 22h0m12 451h0m4-917h0m7-32h0m1 551h0m4-1190h0m26 1084h0m4 50h0m28-4h0m1-1067h0m10 882h0m2-747h0m9 641h0m2-669h0m16-176h0m8 1139h0m14 84h0m11-1392h0m6 1661h0m28-350h0m15-31h0m8-550h0m7-62h0m7-292h0m2 830h0m3 102h0m6-69h0m25-205h0m16 597h0m46-306h0m5-49h0m15-762h0m5-191h0m2 995h0m9-958h0m9-145h0m2 176h0m13-93h0m56 207h0m10-76h0m3 1147h0m5-439h0m47 47h0m6-560h0m1-175h0m1-113h0m18 175h0m2 16h0m5 152h0m2-95h0m3 133h0m1 139h0m2 337h0m29-675h0m14-35h0m23 228h0m37 237h0m13-192h0m75 427h0m58-67h0"/><path id="t322" d="M321 970h0m87 129h0m50-83h0m31-38h0m6 248h0m32-376h0m97 66h0m15 667h0m1-447h0m3-678h0m9 397h0m1 432h0m10 138h0m5-11h0m5-521h0m3 505h0m9-967h0m3 494h0m13 782h0m13-1152h0m5 901h0m2-156h0m1-504h0m4 804h0m19-498h0m9 336h0m32 69h0m14 92h0m2-856h0m8 581h0m1-613h0m17 762h0m4-797h0m4-145h0m9 205h0m22-99h0m5 1030h0m11-908h0m25-143h0m17-57h0m40 912h0m6 14h0m4-714h0m17 758h0m2-202h0m2 315h0m6-144h0m30-1067h0m8 280h0m16-252h0m2 140h0m19 789h0m1-634h0m6 272h0m26-450h0m11 647h0m3-488h0m0 477h0m6-75h0m3-459h0m21-216h0m5 741h0m27 180h0m22-748h0m20 941h0m30-879h0m1 21h0m1 190h0m18-195h0m19 139h0m8-2h0m9-158h0m1 504h0m11 382h0m18-599h0m13-63h0m7-99h0m10 221h0m25 2h0m2-224h0m5 41h0m5 695h0m4-489h0m8-644h0m15 521h0m74 343h0m14 20h0m5-438h0m55 181h0"/><path id="t323" d="M457 1012h0m25 331h0m11 88h0m4-136h0m22-238h0m3-219h0m16 501h0m2-94h0m3 89h0m9-247h0m14-480h0m4 659h0m5 543h0m5-719h0m6-164h0m69-126h0m19 510h0m0-695h0m1 144h0m18 94h0m10-378h0m15 909h0m1-336h0m2 552h0m13 327h0m4-482h0m20-451h0m4 536h0m10-832h0m2-85h0m1-338h0m19 1447h0m2-903h0m17-593h0m25 1097h0m7 244h0m32-486h0m2 284h0m15-909h0m11 649h0m18 717h0m17-1323h0m2 10h0m4-18h0m19-89h0m6 106h0m12 1092h0m3-874h0m0-91h0m12 1249h0m15-1344h0m1 1043h0m16-892h0m26-412h0m22 149h0m1 900h0m6-522h0m2 550h0m4-684h0m10 808h0m6 82h0m0-762h0m22 757h0m8-102h0m4-219h0m40 54h0m1 38h0m13-645h0m3 1216h0m2-744h0m9-265h0m6 232h0m8 256h0m8 246h0m22-766h0m3-86h0m26-318h0m37 279h0m5-178h0m20 507h0m4 574h0m26 66h0m16-392h0m16-168h0m21-19h0m15 32h0m35-167h0m79-233h0m32 1h0"/><path id="t324" d="M427 1434h0m51-111h0m0 191h0m17-387h0m11 19h0m64 114h0m22-458h0m12 90h0m9 180h0m5 588h0m2-842h0m10-545h0m1 938h0m18 250h0m16-204h0m7 149h0m9-859h0m2 152h0m12 555h0m17 337h0m23-75h0m5-443h0m4 407h0m4-775h0m2 316h0m5-72h0m6 703h0m13-1071h0m4 158h0m1 860h0m5-958h0m2 779h0m3-838h0m8 389h0m5-82h0m2 382h0m41-418h0m4 704h0m23-729h0m0-299h0m5 11h0m4 1134h0m17 14h0m15-145h0m27-810h0m13 118h0m20 574h0m9-89h0m11-561h0m25 600h0m3-692h0m0 295h0m12-245h0m5-430h0m5 113h0m17 986h0m39 113h0m4-566h0m11 176h0m14 174h0m3-170h0m16-501h0m5 207h0m5 842h0m6-933h0m21 14h0m10-5h0m32 608h0m0-475h0m12 498h0m9-398h0m1-193h0m12 696h0m15-567h0m11-276h0m13 838h0m23-777h0m2 550h0m12-231h0m15 170h0m8-576h0m34 752h0m5-741h0m29 512h0m89 260h0m9-648h0m43 729h0m8-475h0m160 400h0"/><path id="t325" d="M72 1143h0m286-330h0m10 205h0m0 378h0m134-463h0m4 200h0m4 134h0m20-547h0m12 1021h0m9-380h0m81-533h0m1 346h0m23 44h0m3-252h0m9 377h0m12-251h0m3-24h0m29 30h0m1-70h0m3-128h0m4 323h0m3-86h0m8-492h0m1 700h0m7 2h0m3-407h0m9-249h0m26 433h0m21 11h0m4-324h0m28 356h0m7-46h0m42-393h0m13 87h0m1-51h0m6 14h0m15 896h0m18-672h0m3-339h0m7 853h0m7-744h0m4-267h0m17 268h0m1-134h0m10 184h0m5 765h0m7-1139h0m7 934h0m7-980h0m16-259h0m34 634h0m8 232h0m13 272h0m1-559h0m9 203h0m19 875h0m17-287h0m4-323h0m1-594h0m12 916h0m18-341h0m2 259h0m7-143h0m29-336h0m14 38h0m5 469h0m10-601h0m27 585h0m19-43h0m12-401h0m17-216h0m10 199h0m4 184h0m10-68h0m9-583h0m9 1159h0m4-898h0m8 713h0m29-292h0m3 69h0m7-254h0m25 8h0m2 162h0m5-90h0m65-385h0m60 704h0m41-395h0m51 101h0m12 32h0"/><path id="t326" d="M294 951h0m63 273h0m11-415h0m1 347h0m44-25h0m143 209h0m10-8h0m1 71h0m7-752h0m8 770h0m6-199h0m32 35h0m16-321h0m14-212h0m5 346h0m19 478h0m3-176h0m9-379h0m3 134h0m3-247h0m12-113h0m37 914h0m10-934h0m4 1013h0m15-599h0m5 26h0m3-103h0m34-524h0m0 84h0m24 368h0m2 411h0m3-835h0m4 547h0m4-189h0m8-149h0m31 635h0m10 17h0m6-530h0m10 300h0m11-787h0m2 178h0m56 633h0m20-550h0m10 724h0m6-1196h0m5 902h0m13-337h0m6 494h0m34-596h0m26 393h0m6-107h0m2-125h0m18 218h0m3 21h0m10-473h0m17-622h0m4 1155h0m23-101h0m4-18h0m13-29h0m7 602h0m8-890h0m12 130h0m0 180h0m2-57h0m17 447h0m2-274h0m14 392h0m13-3h0m13-702h0m27 14h0m5-96h0m1 755h0m1-450h0m1-14h0m9-20h0m1 256h0m24-113h0m2 188h0m27-484h0m6 434h0m43-465h0m5 101h0m4 131h0m8-232h0m60 425h0m10 12h0m35-343h0m89 494h0"/><path id="t327" d="M268 1306h0m139 199h0m35-669h0m69 454h0m18-175h0m56 418h0m11-758h0m6 836h0m19-427h0m8-176h0m11 294h0m4 14h0m8-323h0m2-212h0m0-136h0m16 624h0m4 484h0m8 170h0m14-579h0m14-655h0m6-47h0m1 609h0m9-443h0m40-48h0m15-309h0m7 456h0m6-142h0m13 1308h0m0-765h0m18 98h0m8-141h0m0-520h0m6 404h0m6 33h0m2-121h0m9 75h0m0-250h0m2 510h0m5-839h0m8 552h0m4 66h0m2 230h0m14-475h0m19-137h0m8-113h0m11 397h0m21 256h0m1 17h0m7-52h0m2-416h0m21-188h0m19 167h0m12-267h0m16 607h0m18-643h0m12 677h0m11-552h0m3 513h0m22-150h0m5-256h0m2 7h0m18-221h0m12 357h0m28 294h0m15-655h0m8 421h0m6 179h0m8-162h0m1-168h0m14 4h0m18 61h0m4 675h0m4-476h0m16-274h0m26 179h0m9 298h0m2-805h0m9 563h0m21 678h0m4-316h0m4-485h0m7 412h0m6-229h0m4 84h0m45-508h0m38 294h0m37 371h0m1-217h0m122-73h0"/><path id="t328" d="M332 949h0m42 623h0m40-890h0m36 738h0m83-487h0m37 985h0m5-892h0m16 56h0m8 160h0m5-131h0m1 3h0m18-213h0m12 296h0m12-406h0m12 814h0m22-26h0m7-695h0m17-246h0m2 353h0m18 74h0m1-241h0m2 837h0m41-618h0m2-405h0m15 340h0m1 25h0m19 211h0m4 169h0m9-146h0m6-542h0m0 140h0m12 394h0m34-165h0m24-121h0m6 45h0m1 230h0m3-149h0m0-465h0m20 291h0m4 307h0m25 79h0m15-639h0m1 760h0m1-720h0m12 292h0m4 432h0m6-273h0m11 0h0m6-370h0m2 46h0m15 54h0m4 235h0m15-439h0m0 150h0m0 600h0m4-394h0m16 235h0m1 235h0m1-371h0m15 770h0m14-737h0m0 162h0m11 15h0m9-400h0m8 98h0m2 574h0m7-747h0m7 674h0m6-236h0m1-164h0m3-225h0m25-126h0m21 526h0m34-363h0m3 389h0m41-51h0m2-348h0m6 124h0m4-794h0m4 876h0m0 53h0m6 84h0m4-116h0m44 111h0m50-133h0m87-50h0m6 99h0m44-376h0m148 389h0"/><path id="t329" d="M332 1350h0m133-117h0m48-580h0m55 328h0m1 486h0m39-80h0m16-430h0m18 151h0m7-91h0m12 439h0m24-139h0m20-257h0m3-9h0m17 108h0m7 246h0m15-220h0m6 210h0m1-246h0m3 330h0m11-177h0m18 43h0m14-586h0m12-148h0m12 468h0m9 359h0m6-297h0m5-166h0m8 490h0m11-569h0m9 351h0m1-42h0m10-344h0m11 5h0m2 309h0m1-5h0m1-126h0m6 638h0m4-287h0m7-427h0m29 362h0m1 92h0m12-348h0m4-263h0m1 622h0m5-905h0m2 611h0m0-296h0m12 200h0m9 629h0m9-701h0m6-324h0m13-345h0m1 639h0m1-176h0m5-240h0m1 904h0m4-526h0m18-234h0m3 172h0m4 973h0m6-1030h0m11 432h0m2-306h0m12-210h0m14 294h0m8 625h0m9-1055h0m4 329h0m17-34h0m7 492h0m3-317h0m2-147h0m1 188h0m1 242h0m26-422h0m3-40h0m86-36h0m17 137h0m36-47h0m25-280h0m2 99h0m39 526h0m12-173h0m4-206h0m0-80h0m20 181h0m74-58h0m11 360h0m21-318h0"/><path id="t330" d="M366 1193h0m170-474h0m44 38h0m43 614h0m14-303h0m3 489h0m1-205h0m7-466h0m19 581h0m0-610h0m16 178h0m7 126h0m4 46h0m4-258h0m20 637h0m22-844h0m3 147h0m6 624h0m25-436h0m5-196h0m3-516h0m4 813h0m33-180h0m5-253h0m3 94h0m1-502h0m1 607h0m0-517h0m2 1021h0m1-822h0m4 689h0m7-418h0m7-244h0m2 21h0m0 644h0m9-914h0m4 263h0m10 314h0m5-322h0m9 9h0m11-5h0m12 743h0m8-845h0m8 752h0m23-383h0m0-26h0m2-128h0m18-101h0m7 425h0m7-167h0m2 662h0m1-278h0m17-149h0m7 365h0m5-490h0m10 193h0m12 85h0m17-736h0m1 538h0m21 522h0m4-442h0m32 232h0m38-446h0m9-274h0m2-35h0m4 117h0m16 208h0m9-99h0m1 288h0m17-86h0m9-353h0m6 303h0m28 157h0m5-186h0m4-257h0m16 436h0m1-417h0m10 55h0m1 491h0m1-175h0m14 480h0m25-345h0m17-21h0m8-179h0m5 113h0m3 326h0m36-641h0m20-137h0m128 97h0"/><path id="t331" d="M297 1563h0m133-13h0m4-530h0m42 183h0m6-139h0m15 179h0m42-27h0m36-97h0m22 181h0m41-197h0m3-43h0m11-182h0m8 262h0m18-177h0m13 714h0m1-1016h0m13 771h0m13 61h0m19-208h0m6-23h0m3-710h0m7 771h0m1-455h0m20-334h0m7 691h0m4 5h0m13-160h0m14-791h0m4 771h0m4-67h0m6 384h0m9-442h0m7 891h0m5-420h0m2-564h0m3-50h0m13 807h0m7-219h0m30 113h0m6 134h0m0-210h0m4-72h0m1-462h0m5 152h0m5-185h0m1 103h0m19-8h0m13 919h0m2-475h0m11-582h0m25 373h0m0-141h0m3 248h0m3-209h0m32 111h0m2-24h0m3 178h0m0-63h0m5-21h0m24-318h0m0 114h0m15-48h0m8-23h0m2-248h0m0 146h0m15 112h0m22 294h0m0-488h0m17 27h0m36 122h0m10-411h0m5 283h0m30 288h0m8 178h0m7-83h0m11-234h0m9 103h0m6 490h0m7-295h0m3-182h0m1-51h0m18 451h0m0-533h0m66 291h0m44 256h0m42-899h0m39 799h0m31-10h0m57-345h0"/><path id="t332" d="M506 1286h0m53-223h0m0-214h0m44 320h0m9 298h0m1-735h0m14 218h0m3 584h0m11-838h0m23 344h0m29 504h0m8-273h0m7-191h0m2 461h0m11-365h0m2-190h0m12 375h0m7 275h0m5-325h0m0-532h0m5 462h0m11-421h0m5-226h0m1 741h0m31-451h0m8-512h0m11 1151h0m7 20h0m8-496h0m18-54h0m9 51h0m10-344h0m24 15h0m3 1169h0m2-862h0m17 246h0m0-124h0m9-331h0m2-18h0m3 243h0m3 438h0m2-370h0m7-220h0m1 265h0m2 86h0m5-103h0m4-335h0m2 417h0m13-188h0m18-385h0m22 313h0m6 287h0m9-64h0m2 356h0m0-296h0m8-493h0m17 312h0m6 96h0m8-192h0m1 209h0m15-83h0m10 186h0m5-550h0m41-85h0m3 457h0m23-22h0m2 241h0m1-177h0m1 281h0m30-71h0m5-382h0m4 288h0m15-19h0m28 74h0m1 85h0m6-573h0m2 328h0m27-41h0m16 249h0m10-323h0m9-208h0m55 539h0m6-155h0m0-6h0m4-285h0m12 10h0m7 29h0m19-66h0m45 231h0"/><path id="t333" d="M510 1325h0m7 18h0m47-116h0m19 110h0m4-280h0m21 260h0m18-71h0m24 555h0m8-866h0m10 228h0m6 41h0m8-460h0m7 535h0m42-267h0m12-478h0m3 840h0m10 33h0m5-464h0m33 298h0m14 283h0m6-479h0m12 444h0m21-1423h0m2 1296h0m18-86h0m1-255h0m6-103h0m2 599h0m3-920h0m19 819h0m10-228h0m6-572h0m1 413h0m8 3h0m1 23h0m13 55h0m1-393h0m12 276h0m0 189h0m4-191h0m19 227h0m4-859h0m4 73h0m1 791h0m3-26h0m18-117h0m5-92h0m2-106h0m12 22h0m3 50h0m8 892h0m0-830h0m20 153h0m1-89h0m7 288h0m13 67h0m16-591h0m17 273h0m7 229h0m4 47h0m11 74h0m3-742h0m19 647h0m4-433h0m2 469h0m11-460h0m1-39h0m9 187h0m2 282h0m14-318h0m2-212h0m12 509h0m10-592h0m28 601h0m16-211h0m3 143h0m4-675h0m4 1176h0m4-373h0m3-562h0m23-318h0m26 641h0m71-254h0m4 528h0m15-396h0m35 166h0m30-297h0m3 438h0m14-301h0"/><path id="t334" d="M325 922h0m60 133h0m40 37h0m73-171h0m5 337h0m53 279h0m6-552h0m19 206h0m6-302h0m4 428h0m9-368h0m7 88h0m65-189h0m11-199h0m7 19h0m47 450h0m35-262h0m10 414h0m6 375h0m6-716h0m1 179h0m34-250h0m1-60h0m5 394h0m4-278h0m0-258h0m9 501h0m8 222h0m14-165h0m3 27h0m13 94h0m1-38h0m4 4h0m1-172h0m1-609h0m8 741h0m0-60h0m2-383h0m1-7h0m35 548h0m1-171h0m0-474h0m11 523h0m10 9h0m22-361h0m7 873h0m4-399h0m6-265h0m1 93h0m2 122h0m1-397h0m1 15h0m5 555h0m11-306h0m3-1139h0m5 991h0m3-66h0m11 107h0m1-179h0m37 33h0m16 480h0m4-245h0m2-241h0m46 106h0m6 402h0m19-180h0m3 265h0m4-402h0m11 260h0m7-168h0m1-111h0m10-455h0m6 890h0m20-377h0m5 537h0m10-586h0m17 138h0m0 152h0m4-739h0m18 136h0m0 811h0m18-691h0m11 222h0m5 208h0m50-331h0m29-225h0m3 443h0m22-1h0m142-247h0"/><path id="t335" d="M68 1105h0m40-140h0m30 210h0m30-320h0m135 504h0m136-194h0m144-165h0m35 351h0m86 184h0m7-581h0m2-93h0m19-125h0m2-173h0m1 729h0m24 62h0m23-278h0m7-49h0m4 350h0m28-596h0m28 361h0m12-555h0m6-45h0m14 495h0m5 175h0m1-333h0m1 111h0m1 463h0m7-337h0m6-257h0m21 530h0m7-52h0m18-551h0m1 164h0m0 431h0m11 63h0m2-456h0m7 279h0m9-264h0m36 395h0m9 423h0m5-980h0m4 449h0m19 83h0m2-247h0m6-56h0m2 65h0m9-255h0m14-94h0m18 425h0m6 143h0m6-180h0m4-68h0m14-137h0m9-147h0m15 506h0m26-112h0m28 393h0m6-452h0m2-82h0m10 218h0m9-93h0m14 38h0m18 108h0m4-367h0m11 234h0m37-38h0m100-556h0m106 153h0m181 863h0m20-740h0m30 190h0m29 180h0m1 90h0"/></defs>
<use href="#t30" class="e"/><use href="#t30" class="f"/><use href="#t31" class="e"/><use href="#t31" class="f"/><use href="#t32" class="e"/><use href="#t32" class="f"/><use href="#t33" class="e"/><use href="#t33" class="f"/><use href="#t34" class="e"/><use href="#t34" class="f"/><use href="#t35" class="e"/><use href="#t35" class="f"/><use href="#t36" class="e"/><use href="#t36" class="f"/><use href="#t37" class="e"/><use href="#t37" class="f"/><use href="#t38" class="e"/><use href="#t38" class="f"/><use href="#t39" class="e"/><use href="#t39" class="f"/><use href="#t310" class="e"/><use href="#t310" class="f"/><use href="#t311" class="e"/><use href="#t311" class="f"/><use href="#t312" class="e"/><use href="#t312" class="f"/><use href="#t313" class="e"/><use href="#t313" class="f"/><use href="#t314" class="e"/><use href="#t314" class="f"/><use href="#t315" class="e"/><use href="#t315" class="f"/><use href="#t316" class="e"/><use href="#t316" class="f"/><use href="#t317" class="e"/><use href="#t317" class="f"/><use href="#t318" class="e"/><use href="#t318" class="f"/><use href="#t319" class="e"/><use href="#t319" class="f"/><use href="#t320" class="e"/><use href="#t320" class="f"/><use href="#t321" class="e"/><use href="#t321" class="f"/><use href="#t322" class="e"/><use href="#t322" class="f"/><use href="#t323" class="e"/><use href="#t323" class="f"/><use href="#t324" class="e"/><use href="#t324" class="f"/><use href="#t325" class="e"/><use href="#t325" class="f"/><use href="#t326" class="e"/><use href="#t326" class="f"/><use href="#t327" class="e"/><use href="#t327" class="f"/><use href="#t328" class="e"/><use href="#t328" class="f"/><use href="#t329" class="e"/><use href="#t329" class="f"/><use href="#t330" class="e"/><use href="#t330" class="f"/><use href="#t331" class="e"/><use href="#t331" class="f"/><use href="#t332" class="e"/><use href="#t332" class="f"/><use href="#t333" class="e"/><use href="#t333" class="f"/><use href="#t334" class="e"/><use href="#t334" class="f"/><use href="#t335" class="e"/><use href="#t335" class="f"/>
</g>
<polyline class="cy" points="551.7,65.4 552.5,65.4 553.3,65.4 554.1,65.4 554.8,65.4 555.6,65.3 556.4,65.3 557.1,65.3 557.9,65.3 558.7,65.3 559.4,65.3 560.2,65.2 561,65.2 561.8,65.2 562.5,65.2 563.3,65.2 564.1,65.1 564.8,65.1 565.6,65.1 566.4,65.1 567.1,65.1 567.9,65.1 568.7,65 569.5,65 570.2,65 571,65 571.8,65 572.5,65 573.3,64.9 574.1,64.9 574.8,64.9 575.6,64.9 576.4,64.9 577.2,64.9 577.9,64.8 578.7,64.8 579.5,64.8 580.2,64.8 581,64.8 581.8,64.8 582.6,64.7 583.3,64.7 584.1,64.7 584.9,64.7 585.6,64.7 586.4,64.6 587.2,64.4 587.9,64.1 588.7,63.8 589.5,63.5 590.3,63.3 591,63.2 591.8,63 592.6,62.6 593.3,62.3 594.1,62.1 594.9,62.2 595.6,62.2 596.4,61.8 597.2,60.5 598,58.4 598.7,56.2 599.5,55.1 600.3,55.7 601,57.7 601.8,59.9 602.6,60.9 603.3,59.8 604.1,56.9 604.9,53.6 605.7,51.8 606.4,51.8 607.2,53.2 608,55 608.7,56.6 609.5,57.8 610.3,58.9 611.1,60.1 611.8,60.9 612.6,60.5 613.4,58.6 614.1,55.5 614.9,52.6 615.7,51.4 616.4,52.5 617.2,55.3 618,58.1 618.8,59.2 619.5,58.2 620.3,55.8 621.1,53.6 621.8,53 622.6,54.2 623.4,56 624.1,56.9 624.9,55.9 625.7,53.2 626.5,49.9 627.2,47.7 628,47.3 628.8,48.5 629.5,50.5 630.3,52.5 631.1,54 631.8,55.5 632.6,57.1 633.4,58.5 634.2,59 634.9,57.9 635.7,55.2 636.5,51.9 637.2,49.8 638,50.3 638.8,53.3 639.5,57.4 640.3,60.5 641.1,61.1 641.9,59 642.6,55.6 643.4,52.9 644.2,52.2 644.9,53.7 645.7,56.2 646.5,58.4 647.3,59.6 648,59.9 648.8,59.9 649.6,60.5 650.3,61.7 651.1,62.7 651.9,63 652.6,62.3 653.4,61.2 654.2,60.6 655,61 655.7,61.8 656.5,62.2 657.3,61.3 658,59.4 658.8,57.7 659.6,57.7 660.3,60.1 661.1,64.4 661.9,68.6 662.7,70.8 663.4,69.7 664.2,66.1 665,61.5 665.7,58.1 666.5,57 667.3,57.9 668,59.6 668.8,61.2 669.6,62.1 670.4,62.5 671.1,62.9 671.9,63.6 672.7,64.1 673.4,63.9 674.2,62.9 675,61.8 675.8,61.5 676.5,62.3 677.3,63.8 678.1,65 678.8,65.2 679.6,64.5 680.4,63.3 681.1,62.3 681.9,61.9 682.7,61.9 683.5,61.9 684.2,61.7 685,61.6 685.8,61.7 686.5,61.9 687.3,62.3 688.1,62.6 688.8,63 689.6,63.3 690.4,63.7 691.2,64 691.9,64.4 692.7,64.7 693.5,65.1 694.2,65.4 695,65.8 695.8,66 696.5,66.2 697.3,66.4 698.1,66.6 698.9,66.7 699.6,66.9 700.4,67 701.2,67.2 701.9,67.3 702.7,67.5 703.5,67.6 704.3,67.8 705,68 705.8,68.1 706.6,68.1 707.3,68.1 708.1,68.1 708.9,68.1 709.6,68.1 710.4,68.1 711.2,68.1 712,68.1 712.7,68.1 713.5,68.1 714.3,68.1 715,68.1 715.8,68 716.6,68 717.3,68 718.1,68 718.9,68 719.7,68 720.4,68 721.2,68 722,68 722.7,68 723.5,68 724.3,68 725,68 725.8,67.9 726.6,67.9 727.4,67.9 728.1,67.9"/>
<polyline class="cy" points="551.7,96 552.5,96 553.3,96 554.1,95.9 554.8,95.9 555.6,95.9 556.4,95.9 557.1,95.9 557.9,95.9 558.7,95.8 559.4,95.8 560.2,95.8 561,95.8 561.8,95.8 562.5,95.8 563.3,95.8 564.1,95.7 564.8,95.7 565.6,95.7 566.4,95.7 567.1,95.7 567.9,95.7 568.7,95.6 569.5,95.6 570.2,95.6 571,95.6 571.8,95.6 572.5,95.6 573.3,95.5 574.1,95.5 574.8,95.5 575.6,95.5 576.4,95.5 577.2,95.5 577.9,95.5 578.7,95.4 579.5,95.4 580.2,95.4 581,95.4 581.8,95.4 582.6,95.4 583.3,95.3 584.1,95.1 584.9,94.9 585.6,94.6 586.4,94.4 587.2,94.1 587.9,93.9 588.7,93.6 589.5,93.4 590.3,93.2 591,93.1 591.8,92.9 592.6,92.7 593.3,92.4 594.1,92.3 594.9,92.3 595.6,92.3 596.4,91.9 597.2,91 598,89.4 598.7,87.8 599.5,87 600.3,87.3 601,88.6 601.8,90.1 602.6,90.7 603.3,89.8 604.1,87.6 604.9,85.2 605.7,83.7 606.4,83.6 607.2,84.4 608,85.5 608.7,86.3 609.5,86.8 610.3,87.2 611.1,87.6 611.8,87.8 612.6,87.3 613.4,85.8 614.1,83.6 614.9,81.6 615.7,80.8 616.4,81.5 617.2,83.5 618,85.4 618.8,86.2 619.5,85.5 620.3,83.9 621.1,82.4 621.8,82.1 622.6,82.9 623.4,84.2 624.1,84.9 624.9,84.2 625.7,82.2 626.5,79.9 627.2,78.2 628,77.9 628.8,78.8 629.5,80.3 630.3,81.8 631.1,82.9 631.8,83.9 632.6,84.9 633.4,85.8 634.2,86.1 634.9,85.3 635.7,83.5 636.5,81.3 637.2,79.8 638,80.1 638.8,82.1 639.5,84.9 640.3,86.9 641.1,87.3 641.9,85.7 642.6,83.3 643.4,81.4 644.2,80.8 644.9,81.8 645.7,83.5 646.5,85 647.3,85.7 648,85.7 648.8,85.7 649.6,86 650.3,86.8 651.1,87.6 651.9,87.9 652.6,87.5 653.4,86.8 654.2,86.3 655,86.5 655.7,87.1 656.5,87.3 657.3,86.7 658,85.5 658.8,84.4 659.6,84.5 660.3,86.3 661.1,89.3 661.9,92.2 662.7,93.7 663.4,93 664.2,90.5 665,87.3 665.7,84.9 666.5,84.2 667.3,84.8 668,86.2 668.8,87.3 669.6,87.9 670.4,88.2 671.1,88.5 671.9,88.9 672.7,89.3 673.4,89.2 674.2,88.6 675,88 675.8,87.9 676.5,88.6 677.3,89.8 678.1,90.8 678.8,91.1 679.6,90.8 680.4,90.2 681.1,89.8 681.9,89.7 682.7,89.9 683.5,90.1 684.2,90.2 685,90.3 685.8,90.4 686.5,90.5 687.3,90.7 688.1,90.9 688.8,91.1 689.6,91.2 690.4,91.4 691.2,91.6 691.9,91.8 692.7,91.9 693.5,92.1 694.2,92.3 695,92.5 695.8,92.6 696.5,92.8 697.3,92.9 698.1,93 698.9,93.1 699.6,93.3 700.4,93.4 701.2,93.5 701.9,93.6 702.7,93.8 703.5,93.9 704.3,94 705,94.1 705.8,94.2 706.6,94.3 707.3,94.3 708.1,94.3 708.9,94.3 709.6,94.3 710.4,94.3 711.2,94.3 712,94.3 712.7,94.3 713.5,94.3 714.3,94.3 715,94.3 715.8,94.3 716.6,94.3 717.3,94.3 718.1,94.3 718.9,94.3 719.7,94.3 720.4,94.3 721.2,94.3 722,94.3 722.7,94.3 723.5,94.3 724.3,94.3 725,94.3 725.8,94.3 726.6,94.3 727.4,94.3 728.1,94.3"/>
<polyline class="cy" points="551.7,127.3 552.5,127.3 553.3,127.3 554.1,127.3 554.8,127.2 555.6,127.2 556.4,127.2 557.1,127.2 557.9,127.1 558.7,127.1 559.4,127.1 560.2,127.1 561,127 561.8,127 562.5,127 563.3,126.9 564.1,126.9 564.8,126.9 565.6,126.9 566.4,126.8 567.1,126.8 567.9,126.8 568.7,126.8 569.5,126.7 570.2,126.7 571,126.7 571.8,126.7 572.5,126.6 573.3,126.5 574.1,126.4 574.8,126.2 575.6,126 576.4,125.8 577.2,125.6 577.9,125.4 578.7,125.2 579.5,125 580.2,124.8 581,124.7 581.8,124.5 582.6,124.3 583.3,124.1 584.1,123.9 584.9,123.7 585.6,123.5 586.4,123.3 587.2,123 587.9,122.6 588.7,122.2 589.5,121.8 590.3,121.5 591,121.2 591.8,120.9 592.6,120.5 593.3,120.1 594.1,119.8 594.9,119.5 595.6,119.2 596.4,118.8 597.2,118.1 598,117.2 598.7,116.3 599.5,115.8 600.3,116 601,116.7 601.8,117.6 602.6,117.9 603.3,117.3 604.1,116 604.9,114.5 605.7,113.6 606.4,113.5 607.2,114 608,114.5 608.7,114.9 609.5,115 610.3,115.1 611.1,115.1 611.8,115.1 612.6,114.8 613.4,114 614.1,112.9 614.9,111.8 615.7,111.3 616.4,111.6 617.2,112.6 618,113.6 618.8,113.9 619.5,113.5 620.3,112.5 621.1,111.7 621.8,111.4 622.6,111.9 623.4,112.6 624.1,112.9 624.9,112.4 625.7,111.2 626.5,109.7 627.2,108.6 628,108.4 628.8,108.9 629.5,109.9 630.3,110.8 631.1,111.4 631.8,111.9 632.6,112.3 633.4,112.6 634.2,112.7 634.9,112.2 635.7,111.2 636.5,110 637.2,109.2 638,109.3 638.8,110.3 639.5,111.8 640.3,113 641.1,113.1 641.9,112.2 642.6,110.9 643.4,109.8 644.2,109.5 644.9,110 645.7,111 646.5,111.8 647.3,112.1 648,112 648.8,111.8 649.6,111.9 650.3,112.3 651.1,112.9 651.9,113.2 652.6,113.1 653.4,112.7 654.2,112.5 655,112.5 655.7,112.7 656.5,112.8 657.3,112.5 658,112 658.8,111.5 659.6,111.6 660.3,112.7 661.1,114.4 661.9,116.1 662.7,117 663.4,116.6 664.2,115.1 665,113.3 665.7,112 666.5,111.6 667.3,112.1 668,113 668.8,113.8 669.6,114.2 670.4,114.3 671.1,114.4 671.9,114.7 672.7,115 673.4,115.1 674.2,114.9 675,114.6 675.8,114.6 676.5,115 677.3,115.6 678.1,116.2 678.8,116.5 679.6,116.4 680.4,116.2 681.1,116.1 681.9,116.1 682.7,116.3 683.5,116.5 684.2,116.7 685,116.8 685.8,116.9 686.5,117.1 687.3,117.2 688.1,117.3 688.8,117.5 689.6,117.6 690.4,117.7 691.2,117.9 691.9,118 692.7,118.1 693.5,118.3 694.2,118.4 695,118.5 695.8,118.7 696.5,118.8 697.3,119 698.1,119.1 698.9,119.2 699.6,119.4 700.4,119.5 701.2,119.7 701.9,119.8 702.7,119.9 703.5,120.1 704.3,120.2 705,120.3 705.8,120.5 706.6,120.5 707.3,120.6 708.1,120.7 708.9,120.7 709.6,120.8 710.4,120.8 711.2,120.9 712,120.9 712.7,120.9 713.5,121 714.3,121 715,121.1 715.8,121.1 716.6,121.2 717.3,121.2 718.1,121.2 718.9,121.2 719.7,121.2 720.4,121.2 721.2,121.2 722,121.2 722.7,121.2 723.5,121.2 724.3,121.2 725,121.2 725.8,121.2 726.6,121.2 727.4,121.2 728.1,121.2"/>
<polyline class="cy" points="551.7,189.5 552.5,189.4 553.3,189.4 554.1,189.4 554.8,189.4 555.6,189.4 556.4,189.3 557.1,189.3 557.9,189.3 558.7,189.3 559.4,189.3 560.2,189.2 561,189.2 561.8,189.2 562.5,189.2 563.3,189.2 564.1,189.1 564.8,189.1 565.6,189.1 566.4,189.1 567.1,189.1 567.9,189 568.7,189 569.5,189 570.2,189 571,189 571.8,189 572.5,188.9 573.3,188.8 574.1,188.6 574.8,188.4 575.6,188.1 576.4,187.9 577.2,187.6 577.9,187.3 578.7,187.1 579.5,186.8 580.2,186.6 581,186.3 581.8,186.1 582.6,185.8 583.3,185.5 584.1,185.3 584.9,185 585.6,184.8 586.4,184.5 587.2,184.2 587.9,183.8 588.7,183.5 589.5,183.1 590.3,182.7 591,182.3 591.8,181.9 592.6,181.5 593.3,181 594.1,180.6 594.9,180.3 595.6,180.1 596.4,180.1 597.2,180 598,179.6 598.7,178.9 599.5,178 600.3,177.2 601,177.1 601.8,177.5 602.6,178.1 603.3,178.4 604.1,178 604.9,176.9 605.7,175.8 606.4,175.1 607.2,175 608,175.2 608.7,175.3 609.5,175.1 610.3,174.6 611.1,174.2 611.8,174.2 612.6,174.6 613.4,175 614.1,175.1 614.9,174.9 615.7,174.5 616.4,174.4 617.2,174.7 618,175.4 618.8,175.8 619.5,175.6 620.3,174.4 621.1,172.7 621.8,171.1 622.6,170.5 623.4,170.8 624.1,171.7 624.9,172.6 625.7,172.8 626.5,172.3 627.2,171.3 628,170.5 628.8,170.1 629.5,170 630.3,170.1 631.1,169.9 631.8,169.5 632.6,169.1 633.4,168.9 634.2,169.1 634.9,169.3 635.7,169.2 636.5,168.5 637.2,167.4 638,166.4 638.8,165.9 639.5,166.1 640.3,166.8 641.1,167.4 641.9,167.2 642.6,166.3 643.4,165 644.2,164 644.9,163.7 645.7,164.1 646.5,164.7 647.3,165 648,164.5 648.8,163.6 649.6,162.5 650.3,161.8 651.1,161.6 651.9,161.7 652.6,161.9 653.4,162 654.2,162.2 655,162.6 655.7,163.4 656.5,164.4 657.3,165.1 658,165.2 658.8,164.4 659.6,163.2 660.3,162.3 661.1,162.1 661.9,162.8 662.7,163.9 663.4,164.7 664.2,164.8 665,164.1 665.7,163.2 666.5,162.6 667.3,162.8 668,163.6 668.8,164.4 669.6,164.9 670.4,164.9 671.1,164.7 671.9,164.5 672.7,164.8 673.4,165.2 674.2,165.6 675,165.8 675.8,165.7 676.5,165.7 677.3,166 678.1,166.5 678.8,166.9 679.6,167.2 680.4,167.2 681.1,167.1 681.9,167.2 682.7,167.4 683.5,167.7 684.2,167.9 685,168.1 685.8,168.3 686.5,168.5 687.3,168.7 688.1,168.9 688.8,169.1 689.6,169.3 690.4,169.5 691.2,169.8 691.9,170 692.7,170.3 693.5,170.6 694.2,170.8 695,171.1 695.8,171.3 696.5,171.6 697.3,171.8 698.1,172.1 698.9,172.3 699.6,172.6 700.4,172.8 701.2,173.1 701.9,173.3 702.7,173.5 703.5,173.6 704.3,173.8 705,173.9 705.8,174 706.6,174.1 707.3,174.2 708.1,174.3 708.9,174.4 709.6,174.5 710.4,174.6 711.2,174.7 712,174.8 712.7,174.9 713.5,174.9 714.3,174.9 715,175 715.8,175 716.6,175 717.3,175 718.1,175 718.9,175 719.7,175.1 720.4,175.1 721.2,175.1 722,175.1 722.7,175.1 723.5,175.1 724.3,175.2 725,175.2 725.8,175.2 726.6,175.2 727.4,175.2 728.1,175.2"/>
<polyline class="cy" points="551.7,221.1 552.5,221.1 553.3,221 554.1,221 554.8,221 555.6,221 556.4,221 557.1,221 557.9,221 558.7,221 559.4,221 560.2,220.9 561,220.9 561.8,220.9 562.5,220.9 563.3,220.9 564.1,220.9 564.8,220.9 565.6,220.9 566.4,220.8 567.1,220.8 567.9,220.8 568.7,220.8 569.5,220.7 570.2,220.6 571,220.4 571.8,220.1 572.5,219.9 573.3,219.7 574.1,219.5 574.8,219.2 575.6,219 576.4,218.8 577.2,218.6 577.9,218.3 578.7,218.1 579.5,217.9 580.2,217.7 581,217.4 581.8,217.2 582.6,217 583.3,216.7 584.1,216.4 584.9,216 585.6,215.6 586.4,215.3 587.2,214.9 587.9,214.5 588.7,214.1 589.5,213.8 590.3,213.4 591,213 591.8,212.5 592.6,212 593.3,211.4 594.1,210.9 594.9,210.7 595.6,210.8 596.4,211.2 597.2,211.3 598,210.9 598.7,209.6 599.5,207.9 600.3,206.4 601,206 601.8,206.6 602.6,207.8 603.3,208.6 604.1,208.3 604.9,206.8 605.7,204.9 606.4,203.6 607.2,203.3 608,203.6 608.7,203.8 609.5,203.6 610.3,203 611.1,202.6 611.8,202.8 612.6,203.6 613.4,204.4 614.1,204.8 614.9,204.5 615.7,203.9 616.4,203.8 617.2,204.4 618,205.7 618.8,206.7 619.5,206.3 620.3,204.2 621.1,201 621.8,198.1 622.6,196.6 623.4,197.2 624.1,199.1 624.9,201.2 625.7,202.3 626.5,202 627.2,200.7 628,199.3 628.8,198.4 629.5,198.1 630.3,197.9 631.1,197.5 631.8,196.9 632.6,196.3 633.4,196.3 634.2,197 634.9,197.7 635.7,197.9 636.5,196.9 637.2,194.9 638,192.9 638.8,191.9 639.5,192.2 640.3,193.5 641.1,194.6 641.9,194.5 642.6,193.1 643.4,190.8 644.2,188.8 644.9,188.1 645.7,188.7 646.5,189.9 647.3,190.5 648,190 648.8,188.5 649.6,186.7 650.3,185.3 651.1,184.6 651.9,184.7 652.6,185 653.4,185.4 654.2,185.9 655,187 655.7,188.8 656.5,190.9 657.3,192.4 658,192.5 658.8,191 659.6,188.5 660.3,186.3 661.1,185.6 661.9,186.6 662.7,188.5 663.4,190.2 664.2,190.6 665,189.6 665.7,188.1 666.5,187 667.3,187 668,188.1 668.8,189.5 669.6,190.3 670.4,190.4 671.1,189.9 671.9,189.6 672.7,189.8 673.4,190.5 674.2,191.1 675,191.3 675.8,191.1 676.5,191.2 677.3,191.6 678.1,192.5 678.8,193.2 679.6,193.6 680.4,193.5 681.1,193.3 681.9,193.3 682.7,193.6 683.5,194.1 684.2,194.5 685,194.8 685.8,195.1 686.5,195.3 687.3,195.6 688.1,195.9 688.8,196.2 689.6,196.4 690.4,196.7 691.2,197 691.9,197.2 692.7,197.5 693.5,197.7 694.2,198 695,198.2 695.8,198.5 696.5,198.8 697.3,199 698.1,199.3 698.9,199.5 699.6,199.7 700.4,199.9 701.2,200.1 701.9,200.2 702.7,200.4 703.5,200.5 704.3,200.7 705,200.9 705.8,201 706.6,201.2 707.3,201.3 708.1,201.5 708.9,201.6 709.6,201.7 710.4,201.7 711.2,201.8 712,201.8 712.7,201.8 713.5,201.8 714.3,201.8 715,201.8 715.8,201.8 716.6,201.8 717.3,201.8 718.1,201.9 718.9,201.9 719.7,201.9 720.4,201.9 721.2,201.9 722,201.9 722.7,201.9 723.5,201.9 724.3,201.9 725,202 725.8,202 726.6,202 727.4,202 728.1,202"/>
<polyline class="cy" points="551.7,252.7 552.5,252.7 553.3,252.7 554.1,252.7 554.8,252.7 555.6,252.7 556.4,252.7 557.1,252.7 557.9,252.7 558.7,252.7 559.4,252.7 560.2,252.7 561,252.7 561.8,252.7 562.5,252.7 563.3,252.7 564.1,252.7 564.8,252.7 565.6,252.7 566.4,252.7 567.1,252.7 567.9,252.7 568.7,252.6 569.5,252.5 570.2,252.4 571,252.2 571.8,252.1 572.5,251.9 573.3,251.8 574.1,251.6 574.8,251.5 575.6,251.3 576.4,251.2 577.2,251 577.9,250.9 578.7,250.7 579.5,250.5 580.2,250.1 581,249.5 581.8,248.9 582.6,248.3 583.3,247.6 584.1,247 584.9,246.4 585.6,245.8 586.4,245.2 587.2,244.5 587.9,244 588.7,243.4 589.5,242.8 590.3,242.2 591,241.7 591.8,241.1 592.6,240.4 593.3,239.6 594.1,238.9 594.9,238.6 595.6,238.9 596.4,239.6 597.2,240 598,239.5 598.7,237.7 599.5,235.1 600.3,233 601,232.2 601.8,233 602.6,234.8 603.3,236.2 604.1,236 604.9,234.2 605.7,231.7 606.4,229.9 607.2,229.4 608,229.8 608.7,230 609.5,229.6 610.3,228.6 611.1,227.9 611.8,228.1 612.6,229.1 613.4,230.3 614.1,231 614.9,230.9 615.7,230.5 616.4,230.7 617.2,232.1 618,234.4 618.8,236.3 619.5,236.2 620.3,233.6 621.1,229.4 621.8,225.4 622.6,223.6 623.4,224.8 624.1,227.9 624.9,231.3 625.7,233.2 626.5,233 627.2,231.3 628,229.3 628.8,227.8 629.5,227.1 630.3,226.7 631.1,226 631.8,225 632.6,224.2 633.4,224.3 634.2,225.3 634.9,226.5 635.7,226.8 636.5,225.4 637.2,222.6 638,219.7 638.8,218.2 639.5,218.7 640.3,220.7 641.1,222.5 641.9,222.8 642.6,220.8 643.4,217.7 644.2,215 644.9,214 645.7,215 646.5,216.8 647.3,218 648,217.5 648.8,215.5 649.6,212.7 650.3,210.5 651.1,209.3 651.9,209.2 652.6,209.6 653.4,210 654.2,210.8 655,212.4 655.7,215.1 656.5,218.2 657.3,220.4 658,220.4 658.8,218 659.6,214.1 660.3,210.6 661.1,209.2 661.9,210.5 662.7,213.3 663.4,216 664.2,216.8 665,215.7 665.7,213.6 666.5,212 667.3,212 668,213.5 668.8,215.5 669.6,216.8 670.4,217 671.1,216.4 671.9,216.1 672.7,216.5 673.4,217.6 674.2,218.5 675,218.9 675.8,218.8 676.5,218.9 677.3,219.6 678.1,220.8 678.8,222 679.6,222.5 680.4,222.4 681.1,222.1 681.9,222 682.7,222.3 683.5,222.8 684.2,223.2 685,223.4 685.8,223.6 686.5,223.8 687.3,224 688.1,224.2 688.8,224.3 689.6,224.5 690.4,224.7 691.2,224.9 691.9,225.1 692.7,225.3 693.5,225.5 694.2,225.7 695,225.9 695.8,226.1 696.5,226.3 697.3,226.5 698.1,226.7 698.9,226.9 699.6,227.1 700.4,227.3 701.2,227.5 701.9,227.7 702.7,227.8 703.5,227.9 704.3,228 705,228.1 705.8,228.1 706.6,228.2 707.3,228.3 708.1,228.3 708.9,228.4 709.6,228.4 710.4,228.5 711.2,228.6 712,228.6 712.7,228.7 713.5,228.7 714.3,228.7 715,228.7 715.8,228.7 716.6,228.8 717.3,228.8 718.1,228.8 718.9,228.8 719.7,228.8 720.4,228.8 721.2,228.8 722,228.8 722.7,228.8 723.5,228.9 724.3,228.9 725,228.9 725.8,228.9 726.6,228.9 727.4,228.9 728.1,228.9"/>
<polyline class="bk" points="551.7,158.2 552.5,158.2 553.3,158.2 554.1,158.2 554.8,158.2 555.6,158.2 556.4,158.1 557.1,158.1 557.9,158.1 558.7,158.1 559.4,158.1 560.2,158.1 561,158.1 561.8,158.1 562.5,158 563.3,158 564.1,158 564.8,158 565.6,158 566.4,158 567.1,158 567.9,157.9 568.7,157.9 569.5,157.9 570.2,157.9 571,157.9 571.8,157.9 572.5,157.8 573.3,157.8 574.1,157.6 574.8,157.4 575.6,157.3 576.4,157.1 577.2,156.9 577.9,156.7 578.7,156.5 579.5,156.3 580.2,156.1 581,155.9 581.8,155.7 582.6,155.5 583.3,155.3 584.1,155.1 584.9,155 585.6,154.8 586.4,154.5 587.2,154.3 587.9,153.9 588.7,153.6 589.5,153.2 590.3,152.8 591,152.5 591.8,152.2 592.6,151.9 593.3,151.5 594.1,151.2 594.9,150.8 595.6,150.4 596.4,150 597.2,149.5 598,149.1 598.7,148.6 599.5,148.3 600.3,148.2 601,148.2 601.8,148.3 602.6,148.2 603.3,147.7 604.1,146.9 604.9,146.1 605.7,145.4 606.4,145.2 607.2,145.2 608,145.3 608.7,145.2 609.5,145 610.3,144.6 611.1,144.2 611.8,144 612.6,144 613.4,143.9 614.1,143.8 614.9,143.6 615.7,143.5 616.4,143.4 617.2,143.4 618,143.5 618.8,143.4 619.5,143.2 620.3,142.9 621.1,142.6 621.8,142.5 622.6,142.6 623.4,142.8 624.1,142.8 624.9,142.4 625.7,141.7 626.5,140.9 627.2,140.3 628,140.1 628.8,140.3 629.5,140.6 630.3,141 631.1,141.2 631.8,141.1 632.6,140.8 633.4,140.5 634.2,140.3 634.9,140 635.7,139.7 636.5,139.4 637.2,139.2 638,139.1 638.8,139.2 639.5,139.4 640.3,139.6 641.1,139.6 641.9,139.3 642.6,138.9 643.4,138.6 644.2,138.5 644.9,138.7 645.7,139 646.5,139.1 647.3,138.9 648,138.5 648.8,138 649.6,137.6 650.3,137.5 651.1,137.7 651.9,138 652.6,138.2 653.4,138.1 654.2,137.9 655,137.7 655.7,137.6 656.5,137.5 657.3,137.6 658,137.6 658.8,137.7 659.6,137.9 660.3,138.3 661.1,138.9 661.9,139.4 662.7,139.6 663.4,139.4 664.2,138.9 665,138.4 665.7,138 666.5,138.1 667.3,138.5 668,139 668.8,139.4 669.6,139.6 670.4,139.6 671.1,139.5 671.9,139.6 672.7,139.8 673.4,140.2 674.2,140.4 675,140.6 675.8,140.6 676.5,140.7 677.3,140.8 678.1,141 678.8,141.2 679.6,141.4 680.4,141.6 681.1,141.8 681.9,142.1 682.7,142.4 683.5,142.6 684.2,142.9 685,143.1 685.8,143.3 686.5,143.6 687.3,143.8 688.1,144 688.8,144.2 689.6,144.5 690.4,144.7 691.2,144.9 691.9,145.2 692.7,145.4 693.5,145.6 694.2,145.7 695,145.9 695.8,146.1 696.5,146.3 697.3,146.4 698.1,146.6 698.9,146.8 699.6,147 700.4,147.1 701.2,147.3 701.9,147.5 702.7,147.6 703.5,147.7 704.3,147.8 705,147.8 705.8,147.9 706.6,147.9 707.3,148 708.1,148 708.9,148.1 709.6,148.1 710.4,148.2 711.2,148.2 712,148.3 712.7,148.3 713.5,148.4 714.3,148.4 715,148.4 715.8,148.4 716.6,148.4 717.3,148.4 718.1,148.4 718.9,148.4 719.7,148.4 720.4,148.4 721.2,148.4 722,148.4 722.7,148.4 723.5,148.4 724.3,148.4 725,148.4 725.8,148.4 726.6,148.4 727.4,148.4 728.1,148.4"/>
</g>
<path class="hb" d="M564.67 32.5v-0.1h4.19v0.1zM568.86 32.5v-0.3h4.19v0.3zM573.05 32.5v-0.5h4.19v0.5zM577.24 32.5v-0.9h4.19v0.9zM581.43 32.5v-1.1h4.19v1.1zM585.62 32.5v-2.2h4.19v2.2zM589.81 32.5v-3h4.19v3zM594 32.5v-5.9h4.19v5.9zM598.19 32.5v-6.3h4.19v6.3zM602.38 32.5v-9.6h4.19v9.6zM606.57 32.5v-11.8h4.19v11.8zM610.76 32.5v-15.5h4.19v15.5zM614.95 32.5v-16.7h4.19v16.7zM619.14 32.5v-21.4h4.19v21.4zM623.33 32.5v-24.1h4.19v24.1zM627.52 32.5v-26.6h4.19v26.6zM631.71 32.5v-28.8h4.19v28.8zM635.9 32.5v-29h4.19v29zM640.09 32.5v-29h4.19v29zM644.28 32.5v-30h4.19v30zM648.47 32.5v-27.2h4.19v27.2zM652.66 32.5v-26h4.19v26zM656.85 32.5v-22.5h4.19v22.5zM661.04 32.5v-19.7h4.19v19.7zM665.23 32.5v-16.9h4.19v16.9zM669.42 32.5v-15h4.19v15zM673.61 32.5v-11.8h4.19v11.8zM677.8 32.5v-9.2h4.19v9.2zM681.99 32.5v-7.1h4.19v7.1zM686.18 32.5v-5.2h4.19v5.2zM690.37 32.5v-3.6h4.19v3.6zM694.56 32.5v-2.7h4.19v2.7zM698.75 32.5v-1.9h4.19v1.9zM702.94 32.5v-1.1h4.19v1.1zM707.13 32.5v-0.6h4.19v0.6zM711.32 32.5v-0.3h4.19v0.3zM715.51 32.5v-0.1h4.19v0.1zM719.7 32.5v-0.1h4.19v0.1z"/>
<path class="hl" d="M552.1 32.3H728.1"/>
<rect class="fr" x="545.2" y="32.5" width="186.9" height="218"/>
<path class="tk" d="M545.2 250.5v-2.6M545.2 32.5v2.6M568.56 250.5v-2.6M568.56 32.5v2.6M591.93 250.5v-2.6M591.93 32.5v2.6M615.29 250.5v-2.6M615.29 32.5v2.6M638.65 250.5v-2.6M638.65 32.5v2.6M662.01 250.5v-2.6M662.01 32.5v2.6M685.38 250.5v-2.6M685.38 32.5v2.6M708.74 250.5v-2.6M708.74 32.5v2.6M732.1 250.5v-2.6M732.1 32.5v2.6M545.2 250.5h2.6M732.1 250.5h-2.6M545.2 223.25h2.6M732.1 223.25h-2.6M545.2 196h2.6M732.1 196h-2.6M545.2 168.75h2.6M732.1 168.75h-2.6M545.2 141.5h2.6M732.1 141.5h-2.6M545.2 114.25h2.6M732.1 114.25h-2.6M545.2 87h2.6M732.1 87h-2.6M545.2 59.75h2.6M732.1 59.75h-2.6M545.2 32.5h2.6M732.1 32.5h-2.6"/>
<text class="tl" x="545.2" y="259.7" text-anchor="middle">75</text>
<text class="tl" x="568.6" y="259.7" text-anchor="middle">80</text>
<text class="tl" x="591.9" y="259.7" text-anchor="middle">85</text>
<text class="tl" x="615.3" y="259.7" text-anchor="middle">90</text>
<text class="tl" x="638.7" y="259.7" text-anchor="middle">95</text>
<text class="tl" x="662" y="259.7" text-anchor="middle">100</text>
<text class="tl" x="685.4" y="259.7" text-anchor="middle">105</text>
<text class="tl" x="708.7" y="259.7" text-anchor="middle">110</text>
<text class="tl" x="732.1" y="259.7" text-anchor="middle">115</text>
</g>
<g id="pB1">
<rect x="36.7" y="376.6" width="216" height="218.8" fill="#f5f5f5"/>
<path class="gr" d="M60.7 376.6V595.4M84.7 376.6V595.4M108.7 376.6V595.4M132.7 376.6V595.4M156.7 376.6V595.4M180.7 376.6V595.4M204.7 376.6V595.4M228.7 376.6V595.4M36.7 568.05H252.7M36.7 540.7H252.7M36.7 513.35H252.7M36.7 486H252.7M36.7 458.65H252.7M36.7 431.3H252.7M36.7 403.95H252.7"/>
<clipPath id="cB1"><rect x="36.7" y="376.6" width="216" height="218.8"/></clipPath>
<g clip-path="url(#cB1)">
<path class="un" transform="translate(36.7 377.1)" d="M63 37h4M62 38h4M75 38h4M90 38h5M109 38h5M116 38h4M63 39h3M50 40h3M100 40h6M110 40h3M43 41h5M88 41h3M100 41h5M110 41h3M50 42h3M72 42h5M81 42h9M92 42h5M102 42h5M108 42h5M119 42h3M46 43h7M72 43h3M82 43h7M93 43h5M108 43h3M59 44h4M72 44h3M82 44h18M108 44h3M60 45h4M78 45h23M103 45h8M49 46h22M73 46h3M79 46h33M115 46h5M126 46h5M42 47h5M48 47h21M78 47h42M25 48h3M36 48h3M48 48h12M61 48h8M78 48h34M114 48h5M25 49h5M40 49h7M48 49h12M61 49h8M74 49h3M78 49h40M125 49h8M24 50h7M36 50h11M48 50h21M72 50h48M122 50h18M24 51h6M37 51h9M49 51h24M74 51h22M97 51h23M124 51h13M37 52h9M49 52h23M74 52h46M124 52h13M37 53h9M51 53h69M121 53h16M26 54h5M37 54h9M50 54h87M30 55h5M38 55h8M49 55h88M26 56h15M42 56h6M49 56h88M28 57h13M42 57h96M28 58h111M28 59h112M28 60h118M30 61h113M148 61h5M18 62h4M24 62h3M30 62h116M151 62h3M17 63h4M29 63h115M30 64h116M17 65h5M23 65h128M20 66h134M22 67h132M9 68h5M23 68h131M155 68h6M10 69h4M22 69h138M23 70h130M156 70h4M10 71h4M23 71h132M167 71h4M11 72h10M25 72h130M15 73h6M22 73h137M13 74h149M11 75h151M166 75h3M12 76h150M12 77h150M9 78h151M10 79h150M161 79h10M12 80h153M167 80h5M10 81h161M10 82h161M9 83h160M8 84h161M172 84h5M8 85h161M172 85h5M8 86h162M172 86h5M8 87h167M8 88h167M10 89h166M12 90h163M10 91h165M10 92h164M10 93h165M10 94h164M5 95h173M4 96h175M5 97h4M10 97h172M5 98h174M5 99h172M7 100h172M9 101h170M7 102h173M7 103h174M8 104h174M8 105h166M175 105h7M7 106h175M6 107h173M6 108h174M5 109h174M5 110h175M6 111h175M7 112h176M7 113h175M9 114h173M9 115h173M9 116h170M9 117h169M10 118h167M9 119h169M9 120h168M4 121h3M8 121h172M4 122h3M8 122h173M7 123h174M4 124h171M176 124h6M5 125h170M10 126h157M168 126h7M11 127h163M11 128h157M10 129h157M174 129h4M10 130h158M174 130h3M10 131h158M174 131h4M9 132h159M174 132h3M9 133h159M12 134h154M15 135h151M17 136h149M17 137h148M17 138h148M19 139h147M11 140h5M21 140h147M11 141h4M21 141h134M161 141h4M11 142h5M18 142h147M11 143h5M20 143h137M161 143h4M11 144h5M27 144h133M161 144h4M19 145h5M27 145h132M13 146h4M20 146h4M27 146h131M161 146h3M29 147h128M27 148h130M159 148h4M27 149h123M151 149h3M24 150h126M151 150h3M26 151h122M149 151h5M158 151h3M26 152h135M21 153h4M26 153h6M33 153h3M37 153h107M149 153h8M21 154h4M27 154h5M33 154h111M149 154h5M155 154h5M37 155h105M149 155h5M155 155h5M21 156h4M33 156h119M34 157h116M34 158h116M34 159h115M34 160h107M142 160h8M38 161h103M143 161h5M37 162h97M136 162h5M143 162h5M42 163h92M36 164h3M43 164h66M111 164h23M38 165h6M45 165h65M111 165h25M36 166h6M45 166h67M113 166h10M124 166h12M38 167h4M45 167h84M131 167h5M38 168h4M43 168h69M114 168h16M131 168h5M39 169h5M46 169h64M114 169h13M43 170h4M48 170h55M104 170h5M114 170h6M121 170h6M130 170h4M43 171h3M50 171h51M104 171h5M114 171h13M50 172h3M56 172h6M65 172h36M104 172h6M114 172h8M42 173h5M54 173h9M65 173h11M77 173h40M43 174h4M55 174h8M65 174h10M77 174h26M107 174h9M57 175h7M65 175h8M77 175h18M96 175h9M109 175h8M123 175h4M57 176h6M69 176h5M77 176h18M98 176h7M109 176h8M58 177h5M80 177h3M87 177h8M100 177h5M121 177h6M58 178h5M88 178h7M100 178h5M122 178h5M59 179h4M88 179h7M103 179h5M120 179h7M87 180h4M103 180h5M89 181h3M103 181h5M122 181h3M104 182h4"/>
<g transform="translate(36.7 376.6) scale(.1)">
<defs><path id="b10" d="M11 850h0m15 288h0m3-382h0m26-364h0m3 1324h0m11-1102h0m59-294h0m3 1009h0m0-704h0m11 885h0m15-838h0m5 857h0m8-1241h0m2 325h0m4-253h0m7 127h0m3 999h0m21-819h0m15 1205h0m1-1184h0m50 1110h0m38-159h0m2 55h0m36-1175h0m7-95h0m4 1333h0m12-1379h0m27-203h0m10 1657h0m2 59h0m27 0h0m12-1626h0m1 1552h0m5-1719h0m8 254h0m19 1412h0m2-1198h0m28 1516h0m4-180h0m31-1690h0m21-85h0m7 277h0m36 1408h0m4-1456h0m30-149h0m13 8h0m8 1813h0m38-27h0m1-78h0m9-1636h0m12-88h0m26 1665h0m38-1611h0m43 1810h0m23-1893h0m44 1743h0m26 238h0m10-1837h0m50 1504h0m43-1805h0m27 304h0m5-255h0m0 271h0m14 72h0m7 1541h0m2-91h0m12 27h0m61-1460h0m6-108h0m1 1579h0m40-1638h0m17 159h0m34 1546h0m13-1699h0m8 1530h0m62-54h0m3-1340h0m7 1291h0m1 317h0m24-1577h0m38 84h0m14-28h0m12-28h0m20-45h0m4 110h0m29 1288h0m9-1491h0m9 1316h0m0 17h0m1-1111h0m1 1101h0m23-1064h0m4 1149h0m17-1201h0m4 1158h0m53-121h0m27-862h0m7-21h0m47 827h0m15-913h0m7 111h0m14 687h0m24-477h0m35-264h0m0 682h0m2 109h0m15-429h0m33 105h0m31 188h0"/><path id="b11" d="M11 820h0m4 197h0m32-509h0m25 765h0m42-733h0m7 65h0m1 1035h0m4 123h0m4-1489h0m1 323h0m7 47h0m11 959h0m6-106h0m7 169h0m10-1040h0m74-312h0m9 1140h0m13-955h0m8 1114h0m3-1135h0m13 40h0m32 1297h0m74 116h0m8-1668h0m31 130h0m22 1370h0m17-1736h0m1 1715h0m2 97h0m13 165h0m49-1626h0m5 1330h0m15 228h0m9-1639h0m9 1371h0m29 133h0m22 179h0m12-1595h0m1 1526h0m3-1552h0m25 1612h0m9-1920h0m1 1818h0m24-1655h0m22 1773h0m17 187h0m15-223h0m5-160h0m1 375h0m21-1701h0m11 1325h0m0 249h0m4-2016h0m9 1961h0m10-1685h0m8 1740h0m5 70h0m19-365h0m24-1386h0m3 1512h0m27-1713h0m33 1750h0m8 301h0m23-2023h0m7-153h0m19 179h0m4 1552h0m8 293h0m19-1945h0m11 195h0m24-113h0m4 147h0m3 1741h0m9-60h0m33-327h0m18-1389h0m1 1628h0m16-1823h0m26 196h0m40 1525h0m12 34h0m37-1h0m9-3h0m11 53h0m75-404h0m49-925h0m39 1160h0m40 8h0m8-163h0m9-1002h0m134 940h0m13-930h0m8 892h0m8-899h0m33 904h0m5-53h0m5-119h0m13-526h0m3-37h0m10 730h0m19-880h0m29-33h0m16 332h0m9 527h0m41-313h0m3 129h0m34-342h0m64 182h0m3 146h0"/><path id="b12" d="M26 1106h0m2 194h0m10-468h0m7 343h0m10-327h0m3-86h0m5 493h0m10 472h0m13-1162h0m25 50h0m70-98h0m2 44h0m12-319h0m4 200h0m8 266h0m7-192h0m9-273h0m2 1221h0m8-959h0m7-8h0m15-209h0m4 282h0m18 1153h0m5-1147h0m22 1157h0m19-101h0m13 4h0m28 296h0m17-168h0m19 24h0m19-1808h0m24 466h0m1-83h0m9-105h0m0 278h0m3 1407h0m11-1779h0m33 145h0m9 1449h0m26-1456h0m11 27h0m16 1573h0m7-1641h0m31-208h0m25 1849h0m15-1728h0m34 131h0m1 1641h0m54-56h0m15-1571h0m25-230h0m29 232h0m27 1728h0m22-234h0m22 383h0m28-1959h0m4 63h0m0-32h0m10 1532h0m29-1271h0m30 1463h0m29-239h0m16 17h0m3 17h0m18 280h0m6-1883h0m1 1836h0m9-1832h0m12-89h0m7 1526h0m5 274h0m45-1489h0m18 1725h0m0-273h0m8-1462h0m1 1273h0m0-1374h0m67 1647h0m2-73h0m28 59h0m61-1738h0m38 1773h0m10-93h0m22-1517h0m6 1472h0m2-208h0m34-1141h0m23 1324h0m31-115h0m39-1235h0m21 1117h0m68-1341h0m14 453h0m36 746h0m42 4h0m34-136h0m4 63h0m23-842h0m48 397h0m14 453h0m1 7h0m3-803h0m11 747h0m8-497h0m7 208h0m22 25h0m35-135h0m28-14h0m32-13h0"/><path id="b13" d="M7 876h0m11-175h0m1-12h0m31 784h0m16-109h0m0-613h0m4 708h0m5-264h0m4-328h0m5-344h0m9 1076h0m2-981h0m11 856h0m38-1134h0m13 1310h0m10-1137h0m9 954h0m7 291h0m2-1158h0m5 1076h0m13-74h0m6-1012h0m2-170h0m14 69h0m11 254h0m22-190h0m13 1146h0m19-1621h0m13 1704h0m12 27h0m34-1382h0m16 31h0m0 1301h0m5-80h0m9 501h0m15-1615h0m7 1469h0m46-183h0m19 56h0m30 154h0m31-300h0m23-1455h0m9 1359h0m23-1227h0m36 1583h0m28-168h0m16 122h0m57-1829h0m1 59h0m15 1999h0m12-1844h0m18-33h0m18 210h0m19 1351h0m13-1635h0m23 1627h0m39-1427h0m37 1375h0m8 246h0m71-1803h0m12-96h0m14 1591h0m5-1456h0m0-26h0m8-118h0m1 100h0m13 1907h0m0-121h0m5-86h0m8-43h0m16-1469h0m16 1485h0m34-1617h0m16 45h0m21 1465h0m5-1433h0m5 1490h0m44-90h0m40-6h0m69-100h0m2-1216h0m12-134h0m4 1334h0m3 182h0m14-189h0m8-1263h0m1 112h0m17 1201h0m1-1320h0m29 1307h0m52-1257h0m5-131h0m12 292h0m6-46h0m1-208h0m18 1466h0m34-1288h0m24 1221h0m3-1255h0m59-25h0m5 88h0m62 287h0m63-81h0m33 12h0m22 721h0m3-445h0m38 122h0m7 25h0m11-85h0"/><path id="b14" d="M31 612h0m28 483h0m29-550h0m4-33h0m0 976h0m5-702h0m1-28h0m16 1124h0m0-956h0m10-166h0m25-59h0m5-215h0m14 1029h0m49 105h0m31-1243h0m12 1279h0m2-1250h0m65-31h0m37 1635h0m2-1547h0m4 1467h0m11-1460h0m12 1149h0m2-1201h0m2-224h0m14 1520h0m18-1074h0m5-288h0m0-236h0m10 1605h0m12 1h0m7-1694h0m8 1592h0m62-1305h0m9 1437h0m43-1395h0m0 1518h0m31 41h0m10-1736h0m22 1961h0m19-1697h0m13-134h0m29 66h0m1 62h0m31 66h0m14 1306h0m3-30h0m15-1435h0m42-12h0m2 1815h0m3-372h0m31-1490h0m18 1507h0m37 105h0m7-1710h0m38 1675h0m12-1490h0m25-47h0m1 1535h0m36 27h0m1-1528h0m10 1346h0m0-1327h0m6 1666h0m7-390h0m8-1220h0m2 1574h0m35-340h0m0-1328h0m8 112h0m6-182h0m9 1557h0m13-1579h0m38 201h0m10-59h0m7 1413h0m20-1404h0m17 36h0m22 1393h0m23-13h0m17 27h0m6-1742h0m29 426h0m11 1151h0m27-1196h0m1 1133h0m66 104h0m47-182h0m27-1223h0m7 308h0m16-124h0m11 161h0m19 897h0m30 29h0m36-845h0m23-85h0m15 606h0m16 204h0m23-156h0m8-70h0m14-455h0m39 88h0m13 229h0m13-422h0m8 593h0m33-279h0m13 352h0m10-274h0m63-94h0"/><path id="b15" d="M7 1187h0m5-293h0m45 111h0m1 81h0m4-267h0m0 85h0m32 47h0m68-246h0m0 372h0m7-728h0m26 493h0m32-178h0m6 187h0m20-90h0m15 834h0m34-1089h0m41 1367h0m8-262h0m1 163h0m11-1277h0m10 1217h0m30-1473h0m4 375h0m15 1077h0m7-1205h0m5 44h0m7 1254h0m62 358h0m1-1915h0m24 227h0m2 1072h0m14 361h0m16-1745h0m12 1653h0m32-1437h0m20 80h0m3 1433h0m1-227h0m6 306h0m2-225h0m2 105h0m28-1h0m5-1478h0m5-88h0m16 49h0m9 166h0m6 1367h0m3-1505h0m39-218h0m2 1615h0m14 125h0m43-1500h0m87-4h0m15-53h0m3 1526h0m16-1438h0m26 118h0m60 1315h0m48 13h0m26-1759h0m1 170h0m49 100h0m32 1621h0m9-241h0m1 427h0m11-1802h0m3 83h0m59 1214h0m20-938h0m32 984h0m3 61h0m25 133h0m11-1335h0m1 1040h0m8 35h0m11 91h0m8-61h0m59-1101h0m44 960h0m15 16h0m57 1h0m9-133h0m12 158h0m8-909h0m42 621h0m4 253h0m0 177h0m32-987h0m9 571h0m5-459h0m7-59h0m5 625h0m16-744h0m1 729h0m9-672h0m17-109h0m23 472h0m12-345h0m21 23h0m3 560h0m25-622h0m15 59h0m20 380h0m29 139h0m1-409h0m0 102h0m19 278h0m12-424h0m6 245h0"/><path id="b16" d="M10 1170h0m14 49h0m14 38h0m14-476h0m2 534h0m2-317h0m1 134h0m0-249h0m0 437h0m15 1h0m17 107h0m4-62h0m1-368h0m3-19h0m7 458h0m21-622h0m6 582h0m24-884h0m28 188h0m19 822h0m8 124h0m51-374h0m22-1071h0m38 201h0m24 1280h0m4-126h0m16-1525h0m19 557h0m3-353h0m23 490h0m9 1362h0m5-351h0m12-1312h0m7 1273h0m5-1299h0m3 16h0m14 1248h0m0 39h0m18-1273h0m21 1362h0m3 282h0m21-1693h0m24 1403h0m1-97h0m19 71h0m6-1246h0m7 17h0m5 1123h0m4-1328h0m5 111h0m8 1351h0m6-1617h0m14 277h0m24 1575h0m9 72h0m10-169h0m71-1503h0m10-160h0m24 1575h0m41-1434h0m17 1339h0m25 144h0m10-143h0m48 97h0m7-1336h0m47 1317h0m9-1407h0m48-260h0m18 1557h0m13 217h0m15-1551h0m16 102h0m61 1266h0m36-1355h0m3 1721h0m5-251h0m12-1647h0m1 1580h0m53-1216h0m5-331h0m21 1669h0m5-1476h0m36 1158h0m12-1312h0m39 1479h0m39-148h0m7 194h0m17-1189h0m18-19h0m21 48h0m20-50h0m3 868h0m9 28h0m89-39h0m17 433h0m54-673h0m4 325h0m0-676h0m1-138h0m13 72h0m16-269h0m32 492h0m3 233h0m22 83h0m30-1058h0m11 714h0m2 49h0m29 289h0m119-212h0"/><path id="b17" d="M13 1294h0m52-44h0m12-204h0m2-352h0m8 434h0m11 193h0m1-430h0m3-226h0m14 823h0m25-826h0m1 1123h0m6-989h0m12-250h0m4 196h0m17-32h0m8 125h0m8-41h0m10 749h0m23-1105h0m3 247h0m41 776h0m19 9h0m0-1270h0m9 413h0m17 971h0m36-981h0m21-108h0m9 1014h0m31 295h0m13-1520h0m4 281h0m17 1296h0m29-54h0m0-111h0m19 38h0m2 294h0m5-1566h0m0-104h0m23-311h0m3 138h0m3 1623h0m51-163h0m57-1255h0m11 99h0m68 1312h0m18-1357h0m35-155h0m29 1272h0m34-1161h0m15-33h0m20 1782h0m5-1762h0m43 152h0m19-55h0m2-35h0m5 1199h0m47 225h0m31-235h0m23 23h0m10 1h0m41-1241h0m5 1732h0m4-387h0m18 298h0m9-1535h0m7 1292h0m11-23h0m11-5h0m28-1267h0m16 1113h0m10 229h0m15-326h0m16-1163h0m19 140h0m4-207h0m5 171h0m63 22h0m15 50h0m2-33h0m80 74h0m68-109h0m9 304h0m26 625h0m48-688h0m19-713h0m6 1577h0m30-142h0m6-622h0m8-132h0m4 55h0m15 590h0m10-677h0m4 656h0m9-783h0m4 283h0m3 45h0m19 389h0m4-365h0m34-204h0m10 534h0m1 148h0m2-14h0m13-98h0m18-142h0m0-258h0m34 280h0m72 172h0m21-532h0m36 499h0"/><path id="b18" d="M18 1063h0m46-722h0m10 637h0m7 175h0m2-3h0m22-341h0m2-4h0m1 524h0m13 104h0m12-782h0m5 818h0m20-816h0m0 703h0m3-526h0m12-4h0m0 9h0m2 690h0m28-1028h0m9 54h0m2 1166h0m30-1034h0m9-535h0m3 454h0m8-120h0m4 952h0m28 35h0m4-882h0m17-33h0m8 1133h0m6-1200h0m16 959h0m9 131h0m41 251h0m46-76h0m5-1168h0m3-41h0m12-68h0m2-87h0m3 186h0m41-162h0m5 69h0m2 211h0m10-627h0m58-56h0m14 259h0m8 1441h0m12 58h0m12 72h0m10-33h0m87-1418h0m2-220h0m12 379h0m7-75h0m11 1213h0m25-1102h0m3 1023h0m63-1142h0m8 9h0m23 1348h0m26-1312h0m47 1295h0m16-1269h0m32 1119h0m25 95h0m17-1334h0m17-31h0m8-340h0m3 1665h0m40-1271h0m22 1332h0m47-124h0m4-1127h0m10 1092h0m33-1097h0m2 1522h0m3-1814h0m23 243h0m6 60h0m34 1155h0m14 121h0m89-1262h0m6 1104h0m8 5h0m3-134h0m22 6h0m4 196h0m36-1251h0m0-176h0m2 1273h0m10-740h0m0-47h0m39 647h0m10-793h0m1 820h0m7 179h0m2-25h0m31-939h0m8 741h0m7-653h0m15 728h0m22-688h0m19 620h0m2-605h0m2-210h0m37 756h0m90-179h0m15 88h0m1-127h0m6-269h0"/><path id="b19" d="M17 685h0m9 252h0m29 535h0m5-397h0m7 264h0m5-369h0m4-37h0m29 596h0m48-996h0m1 199h0m4 502h0m31-239h0m10-509h0m1 780h0m8-811h0m4 417h0m17-56h0m18-88h0m30-441h0m9 1313h0m4-17h0m1-798h0m84-431h0m16 59h0m14 1383h0m41 191h0m42-1413h0m1 1071h0m1-1123h0m28 1194h0m120-84h0m13-1284h0m5 63h0m13 1357h0m12-1495h0m6 1397h0m1 190h0m22-1065h0m7-335h0m13 1522h0m16-1419h0m6-228h0m9 196h0m9 1072h0m1-1242h0m5 1543h0m29-1402h0m14 26h0m17 122h0m0-318h0m45 271h0m22-144h0m1 151h0m10 1175h0m11-1342h0m6 1331h0m20-1408h0m31 3h0m29 99h0m19 888h0m4-824h0m9 1210h0m50-1123h0m21 1096h0m13 492h0m54-551h0m1-1099h0m15-103h0m6 1210h0m4-1369h0m20 1455h0m79-1181h0m9-267h0m18 214h0m6-383h0m20 371h0m60 141h0m1 40h0m27 886h0m23-790h0m63 602h0m11-839h0m14 207h0m7-149h0m1 269h0m3 578h0m4-24h0m1 40h0m0 63h0m42-594h0m17-183h0m7-108h0m2 741h0m8-63h0m33-507h0m3 562h0m6-636h0m9 300h0m13 361h0m2-422h0m3 454h0m37-494h0m2 364h0m10-460h0m10 12h0m20 193h0m36-105h0m29 61h0m32 83h0"/><path id="b110" d="M25 993h0m47-355h0m13 384h0m3 195h0m2 24h0m2-640h0m8 101h0m3 27h0m3 13h0m2 602h0m41-180h0m20-82h0m18-76h0m15-271h0m12 266h0m6 676h0m7-82h0m12-251h0m6-804h0m6 1124h0m10-1039h0m12-136h0m39 29h0m7-359h0m9 1562h0m7-616h0m37 544h0m0-299h0m4-642h0m3-35h0m18 1001h0m7-76h0m15-73h0m4-129h0m32-901h0m51-218h0m16 281h0m25-112h0m15 157h0m42-104h0m47 1162h0m1-1152h0m13 1149h0m8 96h0m14-150h0m16-1085h0m7 1177h0m10-1208h0m22 1510h0m5-1552h0m29 1266h0m0-1354h0m11 1406h0m8-1297h0m1-83h0m54 1294h0m11 336h0m16-138h0m21-1460h0m11 1570h0m15-1375h0m24 971h0m7 115h0m26-1202h0m3-27h0m15-81h0m7-46h0m8 79h0m16-2h0m8-22h0m51 1341h0m20-1248h0m63 1214h0m19 66h0m36-1695h0m8 1555h0m9-117h0m17-1069h0m16 996h0m6-891h0m12 1102h0m2 122h0m37-116h0m16-1284h0m52 305h0m7-122h0m21 994h0m22-868h0m8 62h0m1-40h0m21 747h0m20-574h0m8 645h0m58-197h0m31 208h0m6-101h0m9-860h0m3 483h0m15 431h0m6-79h0m7-922h0m40 201h0m4 382h0m7-78h0m14-44h0m27-10h0m23 215h0m103-139h0m51-161h0"/><path id="b111" d="M13 776h0m2 185h0m30 97h0m22-285h0m47-100h0m13 388h0m23 414h0m18-475h0m2-48h0m8 320h0m5-621h0m14 234h0m9 465h0m13-949h0m4 387h0m2-148h0m12 746h0m34-742h0m9 318h0m8-299h0m10 540h0m7 122h0m44-634h0m6 644h0m14 164h0m43 247h0m4-113h0m1-1184h0m16 151h0m4-15h0m1-256h0m44 115h0m26 1353h0m10 73h0m57-135h0m14-1203h0m14 1541h0m28-1567h0m11 1188h0m6-27h0m21-1095h0m21 1170h0m20-252h0m45 217h0m4-1270h0m13-69h0m12 293h0m4 1081h0m32-67h0m17-1244h0m39 30h0m2 1439h0m3-1620h0m2 1657h0m14-1872h0m2 460h0m16 1216h0m9-1572h0m9 195h0m29-20h0m20 1254h0m11 114h0m19-1595h0m57 399h0m39-253h0m10-141h0m10 333h0m5 1201h0m28 303h0m5-260h0m3-27h0m35-1349h0m19 165h0m27 81h0m11 1068h0m46 204h0m38-309h0m10 330h0m86-1267h0m2-16h0m6 753h0m3 303h0m4-921h0m42-57h0m2 80h0m21-122h0m2-104h0m2 851h0m16-693h0m10-71h0m11 774h0m16 130h0m5-738h0m13 473h0m13 281h0m5-494h0m4 145h0m19 273h0m9-141h0m27 48h0m51-1003h0m12 971h0m9-115h0m6-70h0m0 109h0m7-157h0m28-69h0m125 135h0m15 166h0"/><path id="b112" d="M32 928h0m62 192h0m34 331h0m1-480h0m15 269h0m11-203h0m20-146h0m14-254h0m5 661h0m12-334h0m4-493h0m11 707h0m20 341h0m1 43h0m2 66h0m4-323h0m6-816h0m14 280h0m30 541h0m6-33h0m5-786h0m2 864h0m0-169h0m10 117h0m1 203h0m5-165h0m4-487h0m5-156h0m6-130h0m10 973h0m61-66h0m8 430h0m10-197h0m47-1109h0m10 1255h0m6-319h0m17-336h0m20-658h0m53 1184h0m26-1075h0m1-111h0m7-139h0m11 1365h0m13-84h0m13-1336h0m5 53h0m35 1481h0m26-221h0m18-1166h0m1-93h0m20-2h0m1 114h0m22 996h0m20 344h0m10-1385h0m30 211h0m10-56h0m2 1071h0m9-416h0m7-596h0m12-154h0m3-124h0m3 1566h0m78-1511h0m42 91h0m24-71h0m26 1242h0m1-48h0m63 133h0m29-1244h0m0 34h0m4 1046h0m10-1097h0m16 71h0m27-205h0m6 159h0m27-287h0m5 1480h0m23-45h0m2-51h0m5-62h0m39-918h0m16 897h0m35-10h0m9-79h0m5-1017h0m5 1031h0m11 244h0m14-1227h0m12 923h0m29-105h0m82-205h0m7-35h0m48 183h0m1-18h0m16 133h0m11-271h0m40 228h0m7-589h0m28 319h0m0-88h0m11 256h0m4 20h0m15-226h0m22-429h0m14 666h0m2-266h0m6 21h0m33-225h0"/><path id="b113" d="M68 976h0m18-83h0m35 260h0m4 85h0m36 166h0m12-303h0m1 81h0m14 170h0m15-569h0m7 23h0m8 207h0m8 241h0m24 448h0m12-446h0m5-280h0m3-536h0m24 674h0m7-295h0m6-130h0m1-97h0m1 874h0m5-31h0m3-183h0m16-641h0m7 763h0m11-635h0m13 693h0m25 15h0m21-846h0m1 114h0m31-156h0m37-74h0m23-80h0m53 1217h0m0-81h0m6-973h0m0 865h0m2 271h0m11-1143h0m2 1080h0m34 214h0m21-1394h0m17 1344h0m17-1342h0m17 85h0m33 112h0m13 950h0m1-1321h0m0 284h0m2 981h0m15 211h0m38-6h0m14 348h0m17-1350h0m2 1044h0m5 15h0m3-263h0m11-1194h0m2-69h0m7 394h0m16 761h0m1 288h0m24-1191h0m29 1317h0m2 238h0m1-398h0m31-245h0m7 338h0m25-174h0m4 127h0m11-117h0m21-920h0m30 859h0m29 195h0m7-1098h0m6 998h0m58-1171h0m16-17h0m16 17h0m26 117h0m46 885h0m10-56h0m14 74h0m21 61h0m3-156h0m6 208h0m17 12h0m47-1142h0m2 1234h0m21-848h0m15 487h0m1 758h0m8-1424h0m7 877h0m26-843h0m1 847h0m69-130h0m4-595h0m2 107h0m11 338h0m0-538h0m37 606h0m1-141h0m4-32h0m10-405h0m123 293h0m67-139h0m8 17h0m131 55h0"/><path id="b114" d="M70 941h0m56 322h0m15-380h0m19 36h0m17 191h0m11-58h0m17-125h0m19-344h0m15 88h0m12 293h0m4-568h0m1 295h0m18-452h0m33 1050h0m13-843h0m1 324h0m1-302h0m12 913h0m14-704h0m22 653h0m33-631h0m10 728h0m14-693h0m7-115h0m13 2h0m18 425h0m20-330h0m3 1101h0m24-1276h0m8 868h0m5-761h0m8 1147h0m53-1406h0m5 241h0m21 1045h0m2 209h0m3-314h0m2 196h0m19-1291h0m13 1475h0m4-434h0m51-960h0m3 1225h0m2-343h0m30-839h0m0 1202h0m7-302h0m32 186h0m16-1257h0m15 1503h0m4-214h0m24-1138h0m3-73h0m6 1138h0m17-175h0m12-910h0m3 1076h0m13-96h0m5-905h0m24-141h0m15 1164h0m51-43h0m17 65h0m17-1169h0m26 41h0m30 1165h0m50-1008h0m22-18h0m16 1132h0m74-334h0m20-13h0m38 230h0m17-73h0m2-916h0m19 846h0m52 20h0m4-467h0m28 365h0m41 123h0m5-821h0m8 829h0m7-112h0m3-76h0m23-298h0m20 154h0m13-65h0m0 9h0m5 252h0m3-603h0m2 378h0m0 98h0m9-66h0m2-664h0m9 193h0m38 3h0m5 536h0m13-313h0m1-191h0m5 133h0m33-84h0m17 294h0m12-294h0m5-92h0m1 328h0m31-3h0m55-69h0m26 113h0m11 49h0m6 254h0"/><path id="b115" d="M18 648h0m62 445h0m7-248h0m19 436h0m0-96h0m11 178h0m3-572h0m67 640h0m2-404h0m1 38h0m2-439h0m21 842h0m28-650h0m10 730h0m3-738h0m6-259h0m3 846h0m4-707h0m8 522h0m6-99h0m1-565h0m0 599h0m6 142h0m22 187h0m16-96h0m8-214h0m1-705h0m2-116h0m7 437h0m13-265h0m4 139h0m2 211h0m3 641h0m8-80h0m4-694h0m12-184h0m32 1112h0m13-1046h0m21 183h0m3 771h0m2-862h0m34 893h0m48-1206h0m6 223h0m10 128h0m5-275h0m29 106h0m60 1019h0m1 27h0m17 12h0m21-991h0m5 45h0m7 913h0m12 152h0m26-58h0m13-1094h0m5-10h0m23 1057h0m18-1089h0m9 39h0m0 1151h0m9-270h0m49 92h0m4-1020h0m40 1013h0m32 349h0m14-462h0m18 218h0m20-90h0m32 201h0m38-166h0m1 164h0m12-1300h0m49 1224h0m35-1181h0m4 1019h0m2-117h0m33 266h0m3-315h0m8-815h0m11-250h0m18 235h0m6 1145h0m17 53h0m13-1180h0m11 73h0m26-151h0m1 1231h0m11-183h0m44-61h0m94-210h0m9 238h0m15-155h0m18 41h0m26-61h0m5-611h0m21-44h0m16 441h0m3-404h0m11 673h0m3-394h0m14-294h0m9 570h0m60-150h0m10-550h0m41 298h0m1 49h0m60 209h0m18-161h0"/><path id="b116" d="M48 806h0m67 570h0m2-339h0m24-249h0m23 86h0m5 459h0m32 131h0m9-131h0m3 51h0m13-424h0m14 23h0m1 309h0m1-129h0m13-347h0m12 346h0m8-128h0m0-292h0m18 356h0m63 108h0m5-894h0m7 927h0m29-22h0m14 164h0m10 158h0m9-811h0m3 850h0m8-697h0m21 644h0m37-1154h0m4 161h0m2 463h0m29 567h0m11-935h0m10 1029h0m4-1120h0m41-71h0m4 1239h0m11-81h0m24-1101h0m12 898h0m3 606h0m4-449h0m4-11h0m1-823h0m1 633h0m2 357h0m1-1092h0m6-268h0m50 280h0m40-516h0m2 420h0m30 482h0m8 640h0m20-1044h0m1-58h0m32 1126h0m4-1288h0m63 218h0m25-377h0m15 335h0m28-146h0m31 1233h0m35-1233h0m23 1445h0m22-1221h0m4 787h0m3-843h0m5 955h0m2-1217h0m20 1262h0m75-906h0m39-103h0m10 802h0m3 131h0m25-803h0m5 101h0m1-317h0m6 7h0m4 58h0m3 201h0m11-36h0m2 837h0m49-562h0m15 646h0m25-968h0m4 717h0m19-528h0m5-138h0m12 148h0m6 1026h0m7-1111h0m13 195h0m3-207h0m30 120h0m8 617h0m17-608h0m74 589h0m1-311h0m16 94h0m10-425h0m2-118h0m11 573h0m32-404h0m49 383h0m3-223h0m19 14h0m33 40h0m24-46h0m124-230h0"/><path id="b117" d="M36 1196h0m33-456h0m20 296h0m60-290h0m33 212h0m24 262h0m28-92h0m13-192h0m8 402h0m23-634h0m6 607h0m21-770h0m20 605h0m25 33h0m6-565h0m2 712h0m23-674h0m10 334h0m5 291h0m33-511h0m1 587h0m17-462h0m6 712h0m12-544h0m2-227h0m13 627h0m8-507h0m9-268h0m8 384h0m6 363h0m3-718h0m4 163h0m6 412h0m3-78h0m1-621h0m1 308h0m8 540h0m9-211h0m6 163h0m16-1160h0m13 1365h0m9-209h0m29-546h0m2-22h0m41 13h0m11 970h0m1-306h0m15-738h0m9-347h0m21 858h0m0 449h0m41-1103h0m5-111h0m13 1263h0m23-1132h0m9 907h0m7-81h0m10-899h0m9 1298h0m28-1222h0m16 1389h0m5-352h0m5 27h0m1 48h0m51-377h0m28-828h0m0 68h0m2 1046h0m1-976h0m19 841h0m10 30h0m8 122h0m11-78h0m3 187h0m15-874h0m18-421h0m2 1388h0m26-951h0m54 829h0m34-1186h0m3 107h0m14-2h0m11-454h0m5 474h0m9 143h0m26 876h0m23-548h0m0 400h0m25-823h0m7 735h0m9-635h0m0 761h0m57-901h0m6-113h0m91 1042h0m1-209h0m20-486h0m11 150h0m8-118h0m18 462h0m6-278h0m18 48h0m27-523h0m9 620h0m51 185h0m16-332h0m12-85h0m19 109h0m160-259h0"/><path id="b118" d="M56 969h0m8 450h0m43-23h0m10-703h0m39 765h0m14-60h0m22-1070h0m18 806h0m15-538h0m20 619h0m7-102h0m4 428h0m9-300h0m12-319h0m14 63h0m3-134h0m2-124h0m6 253h0m0-380h0m57 691h0m9 7h0m1 106h0m15 6h0m4-224h0m10 130h0m7-500h0m6 621h0m18-245h0m3-160h0m3-193h0m9 66h0m35 283h0m3-257h0m13-140h0m18 729h0m6-771h0m6-141h0m4 772h0m1 212h0m18-86h0m8 63h0m14-47h0m8-832h0m22 207h0m22 1017h0m15-365h0m32-737h0m11 544h0m4-847h0m11 97h0m37 804h0m6 190h0m9-991h0m38-205h0m10 1143h0m4-868h0m40 774h0m0-662h0m12-278h0m24-4h0m36 136h0m6 654h0m24 108h0m3-640h0m7 991h0m7 211h0m10-1530h0m4 1110h0m5-16h0m10-1010h0m8 1218h0m18-156h0m55-51h0m7-43h0m16-910h0m13 1046h0m8-27h0m9-1028h0m73 164h0m11 20h0m35-526h0m77 413h0m15-50h0m10 81h0m9 598h0m49-582h0m8 618h0m17 288h0m3 118h0m28-282h0m0-675h0m24 530h0m17-192h0m2 485h0m2-196h0m1 148h0m45-737h0m2 131h0m25 350h0m19-402h0m7 252h0m1-117h0m3 573h0m23-354h0m23-347h0m23 149h0m37 124h0m48-171h0m34 11h0"/><path id="b119" d="M26 1043h0m90 163h0m16 219h0m15-453h0m10-2h0m23 323h0m1-61h0m1-466h0m4 776h0m19-101h0m3-383h0m21 10h0m25 142h0m9-158h0m1-350h0m2 188h0m21-482h0m2 1106h0m13-273h0m2-220h0m14-396h0m13 567h0m0 93h0m32-506h0m0 34h0m24 38h0m12-366h0m8 195h0m41 17h0m1 68h0m7 150h0m24 690h0m4-687h0m4 307h0m0-582h0m8 653h0m5-377h0m8 542h0m18-280h0m113-610h0m4 998h0m9-964h0m34 695h0m3-760h0m4 779h0m3 418h0m12-174h0m38-159h0m2-26h0m19-613h0m7-363h0m30 207h0m3-73h0m12 275h0m5 824h0m18-870h0m43 762h0m14-1056h0m10 1103h0m2-1008h0m5 1162h0m19-1120h0m6 1067h0m2-1088h0m13 275h0m5-198h0m10-37h0m75 1184h0m8-334h0m2-526h0m12 439h0m11-870h0m3 1007h0m26-960h0m41 970h0m15-879h0m5 747h0m20-700h0m3 68h0m2-125h0m43 96h0m37 663h0m6 61h0m5-722h0m19-275h0m7 158h0m28 657h0m4-520h0m2 287h0m28-824h0m62 1061h0m13 208h0m8-431h0m2 389h0m18-615h0m6-140h0m24 564h0m6-270h0m8 311h0m34-161h0m5-369h0m29 62h0m33 56h0m25 111h0m2 78h0m14 140h0m6-295h0m1-8h0m74 263h0"/><path id="b120" d="M44 1221h0m66-78h0m54-294h0m31 256h0m44-80h0m36 509h0m22-474h0m3 92h0m6-68h0m55 479h0m9-806h0m2 286h0m0-319h0m25 814h0m3-685h0m12 249h0m8 398h0m26-89h0m7-678h0m8 459h0m13 100h0m16 206h0m22-870h0m4 426h0m8-44h0m0-49h0m68 186h0m31 472h0m1-917h0m3 225h0m4-18h0m27 210h0m9-293h0m1 89h0m23 662h0m0-425h0m24 244h0m31 420h0m29-358h0m15 40h0m30 101h0m1 111h0m17 487h0m17-1464h0m11 49h0m5-58h0m8 132h0m19 757h0m5-941h0m44 50h0m11-88h0m6 831h0m3-847h0m66 108h0m4 592h0m16-448h0m1 658h0m20 340h0m6-291h0m2-1044h0m15 851h0m1-739h0m1 1162h0m6-224h0m1-454h0m3 353h0m0-82h0m11-626h0m23-149h0m7 944h0m1-154h0m5 96h0m15 131h0m12-43h0m42 87h0m8-123h0m1-812h0m4 576h0m1-383h0m14-191h0m12 705h0m12-486h0m2-360h0m34 196h0m3 619h0m0-29h0m9-182h0m22-439h0m10 613h0m10-333h0m22 72h0m4-87h0m6-326h0m41 523h0m19-598h0m32 749h0m2-94h0m12-194h0m6-348h0m12 245h0m24 157h0m1-62h0m38 67h0m9-298h0m15-190h0m39 217h0m11-14h0m4-16h0m52 142h0"/><path id="b121" d="M73 1081h0m1-326h0m43 251h0m39 294h0m70-418h0m17 36h0m76-122h0m16 194h0m32-442h0m11 88h0m0 146h0m20 23h0m23 539h0m0-500h0m2-345h0m4 449h0m7 49h0m25 286h0m4-207h0m11-101h0m11 17h0m2-111h0m2 147h0m5-12h0m23-81h0m4 297h0m7 91h0m13 269h0m40-1040h0m6 63h0m2 433h0m0 158h0m15-48h0m1-245h0m3 679h0m10-727h0m11-2h0m12 266h0m10-414h0m2 48h0m6 747h0m11-969h0m3 625h0m34-267h0m11 171h0m8 446h0m20 187h0m21-267h0m28-679h0m24 850h0m23 11h0m26-919h0m16 78h0m8-125h0m7 988h0m4-675h0m27-7h0m37-234h0m5 703h0m18-759h0m4 106h0m16 85h0m7 262h0m2-478h0m12 195h0m12 658h0m5-108h0m10 322h0m28-761h0m7-171h0m3 140h0m11-407h0m29 497h0m23-291h0m3 738h0m21-641h0m4 582h0m0 107h0m29-536h0m5 635h0m7 193h0m64-286h0m3-713h0m9 405h0m25-253h0m14 425h0m7-734h0m1 673h0m16-634h0m32 278h0m1-191h0m1 505h0m6-256h0m5-77h0m10 407h0m27-755h0m13 774h0m6-693h0m10 182h0m34 308h0m10-122h0m1-213h0m69 480h0m0-115h0m56-54h0m11-145h0m48 193h0m69-51h0m59 18h0"/><path id="b122" d="M85 1078h0m30 214h0m9-93h0m40 63h0m10-552h0m47 796h0m1-410h0m5 153h0m1 155h0m1 89h0m2-64h0m16-1213h0m12 1313h0m65-393h0m3-321h0m12 439h0m15 219h0m23-230h0m6 24h0m28-377h0m44 9h0m6-227h0m22 651h0m57 353h0m0-411h0m5-502h0m1-55h0m30-49h0m16 743h0m2-428h0m2 575h0m1-856h0m15-565h0m6 1623h0m0-286h0m14-916h0m0 121h0m6 75h0m15 611h0m3 89h0m4-1459h0m30 614h0m9 637h0m24 110h0m2-623h0m18 416h0m3 390h0m23-588h0m7-64h0m17-198h0m20-193h0m41 264h0m8 1032h0m12-200h0m29-832h0m9 55h0m2-73h0m3 797h0m4 69h0m3 76h0m2-463h0m2 187h0m8-824h0m3 782h0m31-528h0m19 678h0m2-1112h0m9 187h0m7 161h0m13-285h0m16 197h0m8 890h0m6-661h0m4 13h0m1-109h0m1 798h0m58-1035h0m22 205h0m18 127h0m0-276h0m59-131h0m4 880h0m25-872h0m16 726h0m19-441h0m13 453h0m16 332h0m26-849h0m3 583h0m8 120h0m2-687h0m6 260h0m4-162h0m24 460h0m17-438h0m3 51h0m24 205h0m33-564h0m20 785h0m35 217h0m21-319h0m44-262h0m77 142h0m8 57h0m8-192h0m6 288h0m44-246h0m12-48h0m127 189h0"/><path id="b123" d="M78 662h0m34 186h0m64 521h0m47-70h0m5-241h0m29-198h0m20-40h0m24-91h0m17 197h0m14 297h0m8 486h0m7-585h0m20-177h0m7 125h0m3 101h0m41-808h0m7 594h0m5 614h0m31-663h0m33 437h0m4-88h0m4 22h0m5-9h0m20 212h0m8-951h0m6 115h0m7 951h0m15-61h0m4-461h0m30 211h0m6 252h0m11-724h0m26 175h0m31 116h0m66-239h0m14-115h0m13 767h0m1-801h0m0 554h0m3 217h0m7-651h0m1-679h0m4 1231h0m20-590h0m5 640h0m7-703h0m12-37h0m2 820h0m4-447h0m3-37h0m3 694h0m50-1016h0m7 1037h0m15-376h0m6-666h0m4-345h0m5 1155h0m6-343h0m4-205h0m29-105h0m17 495h0m9 82h0m12-676h0m0 68h0m14 524h0m14-594h0m3 750h0m5-616h0m5-325h0m25 596h0m17-687h0m9 877h0m2-413h0m25-300h0m14 271h0m26 681h0m4 162h0m13-1129h0m11 480h0m7-165h0m5-84h0m3 178h0m44-220h0m34-30h0m26 271h0m4 107h0m16 328h0m19-32h0m0-326h0m6-127h0m5-696h0m44 1135h0m1-709h0m1 656h0m5-143h0m6-60h0m8-380h0m46 416h0m47-179h0m1-317h0m57 535h0m8-239h0m11 101h0m30-38h0m38 148h0m6-263h0m33-64h0m12 139h0m25-218h0"/><path id="b124" d="M118 705h0m29 291h0m3 329h0m24-196h0m1 106h0m10 217h0m22-431h0m13-84h0m64 501h0m29-571h0m14-214h0m24 333h0m17-160h0m13 767h0m10-218h0m17-278h0m9-47h0m7-509h0m3 772h0m6-160h0m13 75h0m2-805h0m30 1049h0m8-613h0m3 705h0m12 86h0m4-1160h0m1 1218h0m46-708h0m10-85h0m9-186h0m7 544h0m5 349h0m17-163h0m4-894h0m7 280h0m8-247h0m17 166h0m0 464h0m13-434h0m29-79h0m1 61h0m2 554h0m5-641h0m10 435h0m13 94h0m14-33h0m25 282h0m3 7h0m1 168h0m6-585h0m40 357h0m46-37h0m12-14h0m11 228h0m0-175h0m40-707h0m3 57h0m56 1414h0m2-1046h0m10-39h0m4-441h0m1 743h0m8-58h0m3 147h0m28-824h0m10 93h0m6-189h0m16 846h0m1-835h0m14 188h0m13 427h0m2-451h0m5 143h0m11 130h0m47 128h0m2 337h0m6-705h0m13 600h0m9-581h0m8 242h0m26 86h0m19 326h0m8 189h0m18 169h0m15-1137h0m7 932h0m24 205h0m30-302h0m30-87h0m18-90h0m9-740h0m1 835h0m5-47h0m3 177h0m35-61h0m3-634h0m1 98h0m39 167h0m18 196h0m21-22h0m28-311h0m37-280h0m3 641h0m42-30h0m12-508h0m83 298h0m68 95h0m46-38h0"/><path id="b125" d="M49 1411h0m84-316h0m41 23h0m2 77h0m15-41h0m68-165h0m9-77h0m58-289h0m21 775h0m1-486h0m0-188h0m18 674h0m10-382h0m26-484h0m45 792h0m1-39h0m2-140h0m3 61h0m1-247h0m13 577h0m4-554h0m29-82h0m2 354h0m5-351h0m11 726h0m24-435h0m2-327h0m2 220h0m4-51h0m12 3h0m14-57h0m3-117h0m15 268h0m5-188h0m22 480h0m1-699h0m35 602h0m9-649h0m29 386h0m10 394h0m2-706h0m21 1001h0m16-984h0m3-136h0m9 687h0m10 298h0m1-728h0m46 484h0m8 474h0m26-1024h0m14-251h0m10 72h0m8 837h0m7-641h0m25 83h0m21-101h0m28 51h0m11-6h0m59 431h0m7-193h0m9 181h0m2-615h0m11-38h0m17 68h0m2 539h0m41-21h0m6 200h0m15 92h0m3 83h0m4-725h0m24-32h0m10 141h0m8 555h0m2-653h0m0 120h0m21 475h0m4-132h0m6-525h0m1 152h0m5 239h0m11 389h0m16-895h0m21 82h0m3 553h0m43-37h0m21 152h0m11-657h0m10 414h0m7-48h0m4 72h0m15 403h0m35-730h0m25 207h0m3 142h0m9-377h0m6 331h0m3 4h0m8-178h0m20 33h0m5 73h0m2-74h0m16 121h0m8-115h0m26-233h0m40 484h0m13-444h0m15 59h0m18-16h0m169 315h0"/><path id="b126" d="M31 859h0m111 332h0m16-348h0m76 185h0m54 148h0m9-300h0m61 635h0m50-730h0m16 785h0m13-72h0m7-693h0m4 539h0m4 105h0m24-278h0m10 788h0m17-287h0m24-410h0m3-735h0m16 456h0m1 70h0m1-134h0m4 179h0m8 351h0m2-493h0m6 28h0m2-306h0m1 416h0m1 462h0m0-650h0m0-82h0m29 785h0m25-640h0m3 540h0m9 113h0m0-341h0m12 79h0m11-478h0m24-439h0m8 421h0m14 723h0m20-565h0m2 568h0m12-891h0m5-39h0m3-12h0m3 685h0m1 250h0m13-206h0m35 48h0m12-568h0m41-299h0m34 819h0m0-37h0m17-346h0m3 402h0m1-482h0m10-134h0m14 205h0m19-58h0m13-369h0m0 1200h0m16-405h0m28-553h0m0 43h0m30-229h0m47 909h0m4-92h0m6-192h0m19-837h0m5 331h0m7 785h0m11-473h0m8 164h0m8 27h0m48-597h0m3 471h0m14 351h0m18-861h0m9 502h0m6 157h0m17 11h0m10-522h0m6 116h0m2 279h0m21-20h0m13-485h0m15 331h0m3 44h0m3-413h0m7 644h0m21-406h0m17-191h0m25 587h0m3-251h0m5 177h0m7 49h0m19-418h0m5 387h0m0-70h0m27-227h0m34-35h0m11 62h0m15-92h0m2 28h0m30 226h0m12 44h0m115 50h0m48 18h0m128-173h0"/><path id="b127" d="M108 869h0m136 231h0m17 399h0m40-936h0m1 437h0m20-121h0m11-14h0m1 188h0m8 371h0m43-324h0m16-160h0m7 515h0m13-371h0m36-108h0m13 207h0m38-1083h0m2 994h0m2 159h0m21-427h0m3 172h0m37 346h0m27-259h0m20-351h0m2 512h0m2 45h0m10-172h0m50-17h0m0-158h0m5 750h0m3-972h0m0 708h0m36-200h0m0-28h0m20 448h0m20-106h0m1-904h0m5 347h0m7 163h0m3-172h0m17-42h0m19-56h0m28 663h0m7-519h0m14 174h0m2-287h0m42 89h0m7 37h0m0 205h0m7 19h0m23 66h0m1-45h0m4-59h0m5 309h0m1-442h0m5 350h0m8-6h0m11-729h0m29 423h0m5 60h0m5-252h0m9 681h0m18-874h0m2 583h0m4-121h0m4-26h0m7 31h0m4-384h0m0 645h0m2-182h0m0-562h0m15 295h0m0 274h0m21-621h0m2-318h0m3 391h0m26 683h0m7 6h0m5-153h0m4-425h0m12-488h0m11 580h0m10 153h0m24-190h0m1 370h0m3 440h0m2-704h0m56 84h0m5 192h0m10 9h0m39-301h0m9-136h0m26 58h0m19 65h0m15-175h0m25 290h0m13-79h0m3-34h0m4 405h0m10-353h0m5-19h0m16 124h0m24-177h0m12-292h0m5 526h0m9 146h0m12-754h0m11 301h0m52 101h0m119 216h0"/><path id="b128" d="M114 1111h0m55-201h0m13 12h0m1 462h0m55-138h0m51-356h0m7 20h0m14 497h0m7-667h0m97-70h0m37 823h0m5-842h0m6 441h0m19-250h0m16-198h0m17 527h0m32-679h0m0 174h0m30-121h0m7 865h0m1-561h0m9 611h0m26-394h0m13 223h0m1 100h0m12-326h0m1-428h0m28 209h0m2 414h0m13-483h0m10 619h0m3-556h0m2-133h0m27 552h0m5-4h0m9-219h0m14-29h0m2-214h0m16 437h0m38-149h0m17 119h0m1-254h0m7 492h0m6-30h0m6-607h0m7 97h0m16 935h0m37-1157h0m5 463h0m9 353h0m17 4h0m15 222h0m1-501h0m2-309h0m2 652h0m4-813h0m13 518h0m5-102h0m23 7h0m4-555h0m7 351h0m1-277h0m8 720h0m6-593h0m3 359h0m18-123h0m1 111h0m2-552h0m10 727h0m2-217h0m15 703h0m0-1268h0m5 428h0m1-627h0m35 1027h0m1 153h0m18-16h0m2-852h0m0 144h0m47 652h0m6-384h0m24 18h0m2-31h0m4-277h0m9 681h0m26-131h0m8-96h0m2-241h0m13-318h0m4-229h0m3 156h0m22 218h0m4 418h0m5-534h0m17 360h0m23-244h0m3 245h0m28-174h0m0-109h0m7 184h0m11-233h0m27 269h0m11-16h0m43-295h0m0 497h0m28-418h0m20 292h0m25-522h0m89 631h0"/><path id="b129" d="M136 907h0m6 955h0m12-1292h0m0 878h0m8-532h0m10 371h0m78-122h0m12 169h0m1-141h0m21 357h0m8-758h0m2 591h0m55-409h0m32-353h0m15 455h0m14-28h0m5-36h0m25 617h0m9-273h0m3 28h0m14-373h0m0 471h0m14-222h0m3 163h0m2-580h0m3-556h0m4 543h0m10 307h0m1-229h0m4-84h0m9 431h0m7 202h0m9-1044h0m13 1240h0m13-776h0m15 242h0m3-93h0m16-300h0m12 633h0m2-215h0m2-14h0m3 299h0m35 38h0m0-450h0m12 184h0m6-269h0m22 593h0m11-24h0m0-62h0m12-303h0m7-334h0m1 26h0m39 379h0m1 76h0m7-313h0m30 209h0m2-452h0m13 185h0m17 239h0m2-250h0m20-27h0m2 36h0m8 261h0m3 84h0m7-212h0m25 382h0m7 341h0m3-466h0m4 53h0m7 156h0m6-609h0m5 215h0m8-7h0m5 507h0m22-421h0m15 4h0m35-520h0m17 373h0m8-306h0m4 226h0m5 204h0m7 12h0m20 91h0m8-138h0m19 472h0m3-813h0m1 141h0m51 444h0m52 191h0m2-780h0m17 527h0m3 164h0m4-466h0m2-31h0m8-287h0m6 363h0m4 327h0m0-414h0m2 260h0m4-101h0m3-9h0m45-201h0m17 203h0m118 244h0m59-476h0m27-51h0m59 373h0m3-316h0m159-62h0"/><path id="b130" d="M220 1559h0m20-554h0m73 532h0m8-601h0m2 298h0m20-212h0m11 173h0m0-372h0m3 79h0m36 278h0m33 28h0m3-759h0m3 779h0m18-521h0m5 564h0m26-276h0m5 378h0m22 61h0m2 2h0m19-304h0m14 50h0m1 158h0m5-93h0m8 212h0m4-348h0m14 371h0m9-685h0m31 129h0m3 24h0m20 546h0m17-163h0m16-99h0m0-196h0m5 662h0m14-150h0m15-22h0m4-233h0m8-200h0m9-236h0m1-248h0m3 694h0m28-269h0m0 181h0m8 338h0m5-335h0m12-397h0m31-1h0m5-87h0m11 474h0m4 117h0m1-239h0m24 144h0m11 161h0m5-574h0m13 223h0m1-90h0m4 431h0m14-165h0m5 102h0m6 108h0m4-657h0m10 785h0m34-750h0m8 356h0m1-50h0m10-156h0m15 436h0m2-141h0m2-29h0m6-144h0m2-288h0m9 663h0m16-424h0m7 123h0m18 288h0m29-192h0m11 63h0m7-917h0m19 731h0m2 205h0m4 43h0m3-8h0m2 91h0m31-305h0m0-67h0m11 272h0m16 102h0m10-39h0m24 5h0m16-492h0m13-94h0m2-205h0m5 666h0m12 85h0m8-339h0m3 160h0m13-332h0m3 210h0m8 361h0m3-307h0m42-54h0m1-10h0m37-69h0m18 125h0m0-276h0m28 642h0m19-62h0m35-199h0m35 277h0"/><path id="b131" d="M206 764h0m12 812h0m61-511h0m51 564h0m24-694h0m3 929h0m14-978h0m21 754h0m8-166h0m11-330h0m9 131h0m52-134h0m17-38h0m7 466h0m11-488h0m20-76h0m13-39h0m20-75h0m15 291h0m10 44h0m21 91h0m14-262h0m10-276h0m9 325h0m5 62h0m41-89h0m9-93h0m9-10h0m8-37h0m16-28h0m10 0h0m13 85h0m1 445h0m39-171h0m0 51h0m4-605h0m12 915h0m7-433h0m0-215h0m4 319h0m5-19h0m3-745h0m8 377h0m6 214h0m43-18h0m9-97h0m14-130h0m0 549h0m2 279h0m3-710h0m1 465h0m11-1024h0m3 636h0m10-294h0m6 287h0m7-43h0m2-147h0m16 124h0m27 215h0m11-144h0m5-7h0m5-172h0m8 577h0m33-323h0m17-249h0m4 206h0m25-113h0m8-173h0m4 153h0m4 294h0m6-397h0m16 475h0m15-326h0m9 288h0m9-332h0m2 64h0m22 274h0m4-423h0m3 286h0m7-23h0m22 100h0m7-385h0m1 289h0m17 214h0m9-437h0m31 15h0m9 75h0m9 561h0m12-679h0m0-30h0m46 491h0m3-365h0m11 198h0m15-106h0m36 30h0m1 4h0m6 334h0m1-658h0m29 175h0m14-67h0m2 305h0m33-132h0m40-89h0m11 168h0m22-230h0m33 27h0m68 205h0m26-9h0m86-273h0"/><path id="b132" d="M135 1265h0m89 318h0m30-837h0m14 246h0m56 87h0m12 183h0m0-170h0m36 29h0m77-7h0m2 374h0m9-745h0m9 798h0m35-791h0m4 771h0m5-165h0m36-247h0m4-181h0m4 196h0m6 262h0m5-72h0m9-56h0m16 194h0m14-1048h0m10 81h0m3 715h0m11 128h0m8-133h0m27 209h0m9-160h0m20-226h0m2-164h0m13 182h0m7 176h0m9-111h0m2-171h0m11-82h0m1 604h0m4-739h0m7 104h0m28 746h0m1-443h0m4 242h0m9-143h0m8-131h0m2 93h0m33 396h0m7-102h0m0-558h0m16 68h0m10-171h0m2 117h0m26-66h0m6 369h0m18-65h0m2-327h0m4-177h0m33 132h0m8 255h0m13-149h0m18 18h0m1-353h0m6 464h0m13 231h0m23-177h0m13 344h0m9-627h0m6 562h0m35-482h0m0-191h0m6 474h0m14-400h0m16 639h0m3-369h0m3 56h0m16-77h0m14 235h0m35-438h0m2-134h0m9 618h0m2 97h0m16-747h0m8 385h0m1 155h0m4-509h0m7 706h0m3-605h0m25-327h0m14 902h0m5-455h0m38 280h0m7-223h0m7-10h0m3-77h0m7-133h0m22 407h0m57 143h0m2-33h0m1-401h0m0 179h0m8 414h0m10-485h0m16 232h0m68-164h0m10-100h0m49 180h0m19 78h0m12-127h0m90 51h0m118 122h0"/><path id="b133" d="M209 1390h0m90-454h0m34-72h0m26 23h0m35 23h0m3 425h0m4-67h0m5-343h0m33-275h0m1 898h0m2-581h0m5 104h0m36 338h0m20 110h0m13-677h0m36-20h0m5 761h0m6-1108h0m24 488h0m18 274h0m5-289h0m9 90h0m6-404h0m22 657h0m29-388h0m4 295h0m24-192h0m3 365h0m20-541h0m8 152h0m8 181h0m1 75h0m4 160h0m7-570h0m36 91h0m1 387h0m8-601h0m1 216h0m0 443h0m8-106h0m5-154h0m2 203h0m11-77h0m5-220h0m2-35h0m1 436h0m27-82h0m1-31h0m2-818h0m5 472h0m8 441h0m4-343h0m18 126h0m5-314h0m1 321h0m4 88h0m14 75h0m9-662h0m6-264h0m5 900h0m6-60h0m4 51h0m5-364h0m14 547h0m13-197h0m8-445h0m1-100h0m5 572h0m1 106h0m5-431h0m9-2h0m9 382h0m8-125h0m18 86h0m2-312h0m24 22h0m3 33h0m4-233h0m3 401h0m6 317h0m3-459h0m15 69h0m16-537h0m2 530h0m9-355h0m17 310h0m4 59h0m0 143h0m9-382h0m17 636h0m2-285h0m2-43h0m5 49h0m9-118h0m8-297h0m9-31h0m6 433h0m4-651h0m3 261h0m1 569h0m49-384h0m1-160h0m22 323h0m66-428h0m52-50h0m8 284h0m8 111h0m93-299h0m115 97h0"/><path id="b134" d="M53 629h0m4 609h0m65-296h0m18 181h0m19 320h0m30-612h0m21 350h0m54 228h0m6-316h0m57-23h0m5-103h0m43 182h0m9 430h0m10-431h0m6-55h0m4-140h0m16 299h0m40-474h0m3 84h0m35-266h0m9 1075h0m24-503h0m18-13h0m6-368h0m10 500h0m18-681h0m3 700h0m24 193h0m10-824h0m67 774h0m15 184h0m33-683h0m17 598h0m1-680h0m2-187h0m0 278h0m4 208h0m4-88h0m1 17h0m23-26h0m6 54h0m2-105h0m14 415h0m1-424h0m40 123h0m1 120h0m3 263h0m2-545h0m4 87h0m4 133h0m2-17h0m2-117h0m0-414h0m20 216h0m3 402h0m1-111h0m6-75h0m36-48h0m5-144h0m6 237h0m5-72h0m0 267h0m21-284h0m6-49h0m8-64h0m21 87h0m35 228h0m0-6h0m8-224h0m10-292h0m15 304h0m1-223h0m20 255h0m5-89h0m2 153h0m3 98h0m7 140h0m6-283h0m9 146h0m1-363h0m2 97h0m14 319h0m5-290h0m7 70h0m16-290h0m7 450h0m24 28h0m28 48h0m9 410h0m22-447h0m7-342h0m1-169h0m20 159h0m24 114h0m26 90h0m8 83h0m4-564h0m1 510h0m5-229h0m6 557h0m3-563h0m2 652h0m11-373h0m24-88h0m92-55h0m63-68h0m39 110h0m21-232h0m104 324h0"/><path id="b135" d="M240 908h0m31 460h0m108-384h0m18 246h0m2-459h0m21 379h0m0-654h0m20 641h0m2 123h0m8-283h0m10 509h0m19 187h0m14-1008h0m28 126h0m12 581h0m63-529h0m1-49h0m0-33h0m11 252h0m9 167h0m9 64h0m25-274h0m2-93h0m4 124h0m13 85h0m1-300h0m11-75h0m17 775h0m7-879h0m5 553h0m10-115h0m5 544h0m21-443h0m2-220h0m32 116h0m8 78h0m6 231h0m9 2h0m7-327h0m1 592h0m1-262h0m39-1063h0m9 921h0m1-127h0m3-153h0m16-132h0m5 328h0m5 326h0m43 123h0m12-431h0m6-191h0m2-162h0m11 523h0m3-425h0m41-119h0m37 188h0m4 191h0m15-120h0m4-229h0m27-74h0m19-15h0m15 381h0m7 375h0m0-181h0m13-37h0m11 380h0m8-726h0m40 620h0m13-110h0m17-295h0m29-126h0m1 367h0m7-268h0m3-49h0m4 157h0m8-39h0m16 121h0m0-301h0m1 177h0m9 242h0m12-73h0m19 16h0m13-577h0m37 554h0m1-705h0m35 581h0m1 138h0m19-409h0m13-337h0m50 659h0m1-492h0m13 404h0m75-392h0m42 378h0m5 736h0m163-176h0m12-731h0m85 7h0m45-214h0m1 349h0m16 35h0m34-228h0"/></defs>
<use href="#b10" class="e"/><use href="#b10" class="f"/><use href="#b11" class="e"/><use href="#b11" class="f"/><use href="#b12" class="e"/><use href="#b12" class="f"/><use href="#b13" class="e"/><use href="#b13" class="f"/><use href="#b14" class="e"/><use href="#b14" class="f"/><use href="#b15" class="e"/><use href="#b15" class="f"/><use href="#b16" class="e"/><use href="#b16" class="f"/><use href="#b17" class="e"/><use href="#b17" class="f"/><use href="#b18" class="e"/><use href="#b18" class="f"/><use href="#b19" class="e"/><use href="#b19" class="f"/><use href="#b110" class="e"/><use href="#b110" class="f"/><use href="#b111" class="e"/><use href="#b111" class="f"/><use href="#b112" class="e"/><use href="#b112" class="f"/><use href="#b113" class="e"/><use href="#b113" class="f"/><use href="#b114" class="e"/><use href="#b114" class="f"/><use href="#b115" class="e"/><use href="#b115" class="f"/><use href="#b116" class="e"/><use href="#b116" class="f"/><use href="#b117" class="e"/><use href="#b117" class="f"/><use href="#b118" class="e"/><use href="#b118" class="f"/><use href="#b119" class="e"/><use href="#b119" class="f"/><use href="#b120" class="e"/><use href="#b120" class="f"/><use href="#b121" class="e"/><use href="#b121" class="f"/><use href="#b122" class="e"/><use href="#b122" class="f"/><use href="#b123" class="e"/><use href="#b123" class="f"/><use href="#b124" class="e"/><use href="#b124" class="f"/><use href="#b125" class="e"/><use href="#b125" class="f"/><use href="#b126" class="e"/><use href="#b126" class="f"/><use href="#b127" class="e"/><use href="#b127" class="f"/><use href="#b128" class="e"/><use href="#b128" class="f"/><use href="#b129" class="e"/><use href="#b129" class="f"/><use href="#b130" class="e"/><use href="#b130" class="f"/><use href="#b131" class="e"/><use href="#b131" class="f"/><use href="#b132" class="e"/><use href="#b132" class="f"/><use href="#b133" class="e"/><use href="#b133" class="f"/><use href="#b134" class="e"/><use href="#b134" class="f"/><use href="#b135" class="e"/><use href="#b135" class="f"/>
</g>
<polyline class="cy" points="36.7,394.4 37.6,394.4 38.5,394.3 39.4,394.2 40.2,394.1 41.1,394 42,393.9 42.9,393.8 43.8,393.7 44.7,393.5 45.6,393.2 46.4,392.8 47.3,392.3 48.2,391.8 49.1,391.3 50,390.7 50.9,389.9 51.8,389.2 52.6,389 53.5,389.6 54.4,390.8 55.3,392 56.2,392.7 57.1,392.7 58,392.5 58.8,392.4 59.7,392.5 60.6,392.9 61.5,393.2 62.4,393.8 63.3,394.9 64.2,396.5 65,397.7 65.9,397.9 66.8,396.8 67.7,395.4 68.6,395.3 69.5,396.8 70.4,398.9 71.2,399.5 72.1,397.5 73,393.2 73.9,388.8 74.8,386.7 75.7,387.5 76.6,389.7 77.4,391.4 78.3,391.4 79.2,390.5 80.1,390.4 81,391.9 81.9,394.7 82.8,397.4 83.6,399.6 84.5,401.6 85.4,404.1 86.3,406.5 87.2,407.1 88.1,404.8 88.9,400.5 89.8,396.6 90.7,395.7 91.6,398.7 92.5,403.4 93.4,406.8 94.3,407.1 95.1,404.7 96,402 96.9,401 97.8,402.1 98.7,403.7 99.6,404.4 100.5,403.7 101.3,402.6 102.2,402.3 103.1,402.7 104,403.1 104.9,402.8 105.8,402.2 106.7,402.5 107.5,404.4 108.4,407 109.3,408.5 110.2,407.5 111.1,404.7 112,402.4 112.9,402.9 113.7,406.5 114.6,411.1 115.5,413.5 116.4,412.1 117.3,407.9 118.2,403.4 119.1,400.9 119.9,400.9 120.8,402.2 121.7,403.7 122.6,405 123.5,406.5 124.4,408.4 125.3,409.9 126.1,409.8 127,408 127.9,405.6 128.8,404.6 129.7,406 130.6,408.9 131.5,410.9 132.3,410.4 133.2,407.6 134.1,405 135,404.7 135.9,407.2 136.8,410.6 137.7,412.4 138.5,411.2 139.4,407.9 140.3,404.9 141.2,403.6 142.1,404 143,405 143.9,405.6 144.7,406 145.6,406.7 146.5,407.6 147.4,407.8 148.3,406.3 149.2,403.5 150.1,401.2 150.9,401.6 151.8,405.5 152.7,411.3 153.6,415.7 154.5,416.6 155.4,414.1 156.3,410.6 157.1,408.8 158,409.3 158.9,411.1 159.8,412 160.7,411.2 161.6,409.5 162.5,408.5 163.3,409 164.2,410.3 165.1,411.3 166,411.7 166.9,412 167.8,413 168.7,414.5 169.5,415.2 170.4,414 171.3,411 172.2,408.4 173.1,408.4 174,411.7 174.9,416.5 175.7,419.7 176.6,419.4 177.5,416 178.4,412.2 179.3,410.5 180.2,411.8 181.1,414.7 181.9,417 182.8,417.6 183.7,417.2 184.6,416.5 185.5,415.9 186.4,414.9 187.3,413.4 188.1,412 189,411.7 189.9,412.6 190.8,414.1 191.7,415.4 192.6,415.9 193.4,415.9 194.3,416 195.2,416.6 196.1,417.3 197,417.9 197.9,418.2 198.8,418.4 199.6,418.5 200.5,418.5 201.4,418.6 202.3,418.7 203.2,418.7 204.1,418.8 205,418.9 205.8,419 206.7,419 207.6,419.1 208.5,419.2 209.4,419.2 210.3,419.3 211.2,419.4 212,419.4 212.9,419.4 213.8,419.4 214.7,419.4 215.6,419.4 216.5,419.4 217.4,419.4 218.2,419.4 219.1,419.4 220,419.4 220.9,419.4 221.8,419.4 222.7,419.4 223.6,419.4 224.4,419.4 225.3,419.4 226.2,419.4 227.1,419.4 228,419.4 228.9,419.4 229.8,419.4 230.6,419.4 231.5,419.4 232.4,419.4 233.3,419.4 234.2,419.4 235.1,419.4 236,419.4 236.8,419.4 237.7,419.4 238.6,419.4 239.5,419.4"/>
<polyline class="cy" points="36.7,423.5 37.6,423.4 38.5,423.4 39.4,423.3 40.2,423.3 41.1,423.2 42,423.2 42.9,423.1 43.8,423.1 44.7,423 45.6,423 46.4,422.9 47.3,422.9 48.2,422.9 49.1,422.8 50,422.5 50.9,422.1 51.8,421.7 52.6,421.3 53.5,421.4 54.4,421.6 55.3,421.8 56.2,421.6 57.1,421 58,420.2 58.8,419.7 59.7,419.7 60.6,420.1 61.5,420.7 62.4,421.3 63.3,422.3 64.2,423.6 65,424.8 65.9,425.2 66.8,424.8 67.7,424.2 68.6,424.4 69.5,425.8 70.4,427.9 71.2,429.1 72.1,428.5 73,426.2 73.9,423.9 74.8,423.1 75.7,424.1 76.6,425.7 77.4,426.2 78.3,425.2 79.2,423.5 80.1,422.6 81,423 81.9,424.5 82.8,426.1 83.6,427.7 84.5,429.5 85.4,431.7 86.3,433.7 87.2,434.4 88.1,432.9 88.9,429.9 89.8,427.2 90.7,426.5 91.6,428.3 92.5,431.5 93.4,433.8 94.3,433.9 95.1,432.1 96,430.1 96.9,429.3 97.8,430 98.7,431.1 99.6,431.7 100.5,431.3 101.3,430.7 102.2,430.5 103.1,430.8 104,431.1 104.9,431 105.8,430.6 106.7,430.9 107.5,432.3 108.4,434.2 109.3,435.4 110.2,434.9 111.1,433 112,431.4 112.9,431.6 113.7,433.9 114.6,436.9 115.5,438.3 116.4,437.2 117.3,434.1 118.2,430.8 119.1,428.8 119.9,428.6 120.8,429.3 121.7,430 122.6,430.6 123.5,431.4 124.4,432.6 125.3,433.8 126.1,434 127,433 127.9,431.7 128.8,431.3 129.7,432.6 130.6,435 131.5,436.7 132.3,436.6 133.2,435 134.1,433.2 135,432.9 135.9,434.5 136.8,436.8 137.7,438 138.5,437.2 139.4,435 140.3,432.8 141.2,431.8 142.1,431.9 143,432.5 143.9,432.9 144.7,433.2 145.6,433.8 146.5,434.6 147.4,434.9 148.3,434.1 149.2,432.3 150.1,430.8 150.9,431.1 151.8,433.8 152.7,437.7 153.6,440.9 154.5,441.4 155.4,439.6 156.3,437.1 157.1,435.6 158,435.9 158.9,437.1 159.8,437.8 160.7,437.3 161.6,436.1 162.5,435.2 163.3,435.3 164.2,436 165.1,436.5 166,436.7 166.9,436.8 167.8,437.4 168.7,438.5 169.5,439.1 170.4,438.4 171.3,436.5 172.2,434.6 173.1,434.6 174,436.8 174.9,440.1 175.7,442.5 176.6,442.4 177.5,440.1 178.4,437.5 179.3,436.4 180.2,437.3 181.1,439.3 181.9,440.9 182.8,441.4 183.7,441.1 184.6,440.7 185.5,440.3 186.4,439.7 187.3,438.8 188.1,437.9 189,437.5 189.9,437.9 190.8,438.6 191.7,439.2 192.6,439.2 193.4,438.9 194.3,438.6 195.2,438.7 196.1,439 197,439.3 197.9,439.4 198.8,439.4 199.6,439.4 200.5,439.5 201.4,439.7 202.3,439.8 203.2,439.9 204.1,440 205,440.1 205.8,440.2 206.7,440.3 207.6,440.4 208.5,440.5 209.4,440.6 210.3,440.6 211.2,440.6 212,440.6 212.9,440.6 213.8,440.6 214.7,440.6 215.6,440.6 216.5,440.6 217.4,440.6 218.2,440.6 219.1,440.6 220,440.6 220.9,440.6 221.8,440.6 222.7,440.6 223.6,440.6 224.4,440.6 225.3,440.6 226.2,440.6 227.1,440.6 228,440.6 228.9,440.6 229.8,440.6 230.6,440.6 231.5,440.6 232.4,440.6 233.3,440.6 234.2,440.6 235.1,440.6 236,440.6 236.8,440.6 237.7,440.6 238.6,440.6 239.5,440.6"/>
<polyline class="cy" points="36.7,451.8 37.6,451.8 38.5,451.8 39.4,451.7 40.2,451.6 41.1,451.6 42,451.5 42.9,451.5 43.8,451.4 44.7,451.3 45.6,451.3 46.4,451.2 47.3,451.2 48.2,451.1 49.1,451.1 50,451 50.9,450.9 51.8,450.7 52.6,450.7 53.5,450.9 54.4,451.4 55.3,451.8 56.2,452.1 57.1,452.1 58,452.1 58.8,452.1 59.7,452.2 60.6,452.5 61.5,452.7 62.4,453 63.3,453.5 64.2,454.1 65,454.6 65.9,454.7 66.8,454.2 67.7,453.5 68.6,453.2 69.5,453.7 70.4,454.7 71.2,455.4 72.1,455.1 73,453.8 73.9,452.3 74.8,451.7 75.7,452.3 76.6,453.5 77.4,454.4 78.3,454.5 79.2,454.1 80.1,453.8 81,454 81.9,454.7 82.8,455.5 83.6,456.2 84.5,457 85.4,458.1 86.3,459.2 87.2,459.7 88.1,459.1 88.9,457.5 89.8,456 90.7,455.6 91.6,456.5 92.5,458.1 93.4,459.4 94.3,459.4 95.1,458.4 96,457.1 96.9,456.5 97.8,456.8 98.7,457.6 99.6,458.1 100.5,458 101.3,457.7 102.2,457.5 103.1,457.6 104,457.7 104.9,457.6 105.8,457.4 106.7,457.5 107.5,458.3 108.4,459.4 109.3,460.2 110.2,459.9 111.1,458.8 112,457.7 112.9,457.6 113.7,458.8 114.6,460.5 115.5,461.6 116.4,461.4 117.3,460.1 118.2,458.6 119.1,457.8 119.9,457.9 120.8,458.6 121.7,459.3 122.6,459.8 123.5,460.3 124.4,460.9 125.3,461.4 126.1,461.5 127,460.9 127.9,460.2 128.8,459.9 129.7,460.6 130.6,461.9 131.5,462.9 132.3,462.8 133.2,461.8 134.1,460.6 135,460.2 135.9,461 136.8,462.4 137.7,463.2 138.5,463 139.4,461.9 140.3,460.7 141.2,460.1 142.1,460.2 143,460.5 143.9,460.7 144.7,460.8 145.6,461 146.5,461.2 147.4,461.3 148.3,460.8 149.2,459.7 150.1,458.6 150.9,458.4 151.8,459.5 152.7,461.5 153.6,463.1 154.5,463.4 155.4,462.3 156.3,460.9 157.1,460.1 158,460.4 158.9,461.3 159.8,461.9 160.7,461.9 161.6,461.3 162.5,460.8 163.3,460.8 164.2,461.1 165.1,461.4 166,461.5 166.9,461.7 167.8,462.1 168.7,462.8 169.5,463.3 170.4,463.1 171.3,462.1 172.2,461 173.1,460.8 174,461.9 174.9,463.8 175.7,465.2 176.6,465.3 177.5,464.2 178.4,462.7 179.3,462 180.2,462.5 181.1,463.5 181.9,464.4 182.8,464.5 183.7,464.2 184.6,463.8 185.5,463.5 186.4,463.1 187.3,462.6 188.1,462 189,461.8 189.9,461.9 190.8,462.2 191.7,462.4 192.6,462.3 193.4,462.1 194.3,461.9 195.2,461.9 196.1,462 197,462.1 197.9,462 198.8,462 199.6,461.9 200.5,461.9 201.4,461.9 202.3,461.8 203.2,461.8 204.1,461.8 205,461.8 205.8,461.8 206.7,461.8 207.6,461.8 208.5,461.8 209.4,461.8 210.3,461.8 211.2,461.8 212,461.8 212.9,461.8 213.8,461.8 214.7,461.8 215.6,461.8 216.5,461.8 217.4,461.8 218.2,461.8 219.1,461.8 220,461.8 220.9,461.8 221.8,461.8 222.7,461.8 223.6,461.8 224.4,461.8 225.3,461.8 226.2,461.8 227.1,461.8 228,461.8 228.9,461.8 229.8,461.8 230.6,461.8 231.5,461.8 232.4,461.8 233.3,461.8 234.2,461.8 235.1,461.8 236,461.8 236.8,461.8 237.7,461.8 238.6,461.8 239.5,461.8"/>
<polyline class="cy" points="36.7,509.5 37.6,509.5 38.5,509.5 39.4,509.5 40.2,509.5 41.1,509.5 42,509.5 42.9,509.5 43.8,509.5 44.7,509.5 45.6,509.5 46.4,509.5 47.3,509.5 48.2,509.5 49.1,509.5 50,509.5 50.9,509.5 51.8,509.5 52.6,509.5 53.5,509.5 54.4,509.4 55.3,509.3 56.2,509.2 57.1,509.2 58,509.4 58.8,509.5 59.7,509.4 60.6,509 61.5,508.5 62.4,508.2 63.3,508.3 64.2,508.9 65,509.6 65.9,510.2 66.8,510.4 67.7,510.3 68.6,510.3 69.5,510.3 70.4,510.4 71.2,510.3 72.1,510.1 73,510.1 73.9,510.5 74.8,511.3 75.7,511.9 76.6,512 77.4,511.9 78.3,511.9 79.2,512.5 80.1,513.6 81,514.6 81.9,514.9 82.8,514.4 83.6,513.7 84.5,513.4 85.4,514 86.3,515.1 87.2,516 88.1,516.2 88.9,515.7 89.8,514.9 90.7,514.3 91.6,514.1 92.5,514 93.4,514 94.3,514.1 95.1,514.4 96,515.1 96.9,515.6 97.8,515.5 98.7,514.6 99.6,513.2 100.5,512 101.3,511.8 102.2,512.4 103.1,513.3 104,513.8 104.9,513.7 105.8,513.3 106.7,513.1 107.5,513.5 108.4,514.2 109.3,514.7 110.2,514.5 111.1,513.8 112,513.1 112.9,512.6 113.7,512.3 114.6,512 115.5,511.7 116.4,511.5 117.3,511.7 118.2,512.4 119.1,513 119.9,513.1 120.8,512.4 121.7,511.3 122.6,510.7 123.5,511.1 124.4,512.3 125.3,513.6 126.1,514.2 127,513.9 127.9,513.1 128.8,512.4 129.7,512.2 130.6,512.3 131.5,512.5 132.3,512.6 133.2,512.7 134.1,513 135,513.5 135.9,513.9 136.8,513.7 137.7,513.1 138.5,512.4 139.4,512.1 140.3,512.1 141.2,512.3 142.1,511.9 143,510.9 143.9,509.7 144.7,509.1 145.6,509.5 146.5,510.7 147.4,511.9 148.3,512.5 149.2,512.1 150.1,511.3 150.9,510.6 151.8,510.4 152.7,510.5 153.6,510.6 154.5,510.7 155.4,510.8 156.3,511.1 157.1,511.3 158,511.2 158.9,510.6 159.8,509.5 160.7,508.6 161.6,508.5 162.5,509.3 163.3,510.3 164.2,510.9 165.1,510.7 166,510 166.9,509.4 167.8,509.4 168.7,509.9 169.5,510.3 170.4,510.2 171.3,509.5 172.2,508.8 173.1,508.5 174,508.7 174.9,509.1 175.7,509.5 176.6,509.9 177.5,510.2 178.4,510.6 179.3,510.9 180.2,510.6 181.1,509.6 181.9,508.1 182.8,507.2 183.7,507.1 184.6,507.7 185.5,508.4 186.4,508.7 187.3,508.4 188.1,507.8 189,507.4 189.9,507.3 190.8,507.5 191.7,507.6 192.6,507.6 193.4,507.5 194.3,507.3 195.2,507.2 196.1,507.1 197,507 197.9,506.8 198.8,506.7 199.6,506.6 200.5,506.5 201.4,506.4 202.3,506.3 203.2,506.2 204.1,506.1 205,505.9 205.8,505.8 206.7,505.7 207.6,505.6 208.5,505.5 209.4,505.4 210.3,505.4 211.2,505.3 212,505.2 212.9,505.2 213.8,505.1 214.7,505 215.6,505 216.5,504.9 217.4,504.8 218.2,504.8 219.1,504.7 220,504.6 220.9,504.6 221.8,504.5 222.7,504.4 223.6,504.4 224.4,504.4 225.3,504.4 226.2,504.3 227.1,504.3 228,504.3 228.9,504.3 229.8,504.3 230.6,504.2 231.5,504.2 232.4,504.2 233.3,504.2 234.2,504.2 235.1,504.2 236,504.1 236.8,504.1 237.7,504.1 238.6,504.1 239.5,504.1"/>
<polyline class="cy" points="36.7,537.9 37.6,537.9 38.5,538 39.4,538 40.2,538 41.1,538.1 42,538.1 42.9,538.2 43.8,538.2 44.7,538.3 45.6,538.3 46.4,538.4 47.3,538.4 48.2,538.5 49.1,538.5 50,538.4 50.9,538.3 51.8,538.2 52.6,538.2 53.5,538.1 54.4,537.9 55.3,537.7 56.2,537.5 57.1,537.5 58,537.9 58.8,538.2 59.7,538 60.6,537.1 61.5,536 62.4,535.4 63.3,535.9 64.2,537.4 65,539.3 65.9,540.6 66.8,541.1 67.7,541.1 68.6,540.9 69.5,540.7 70.4,540.3 71.2,539.7 72.1,539.1 73,539.2 73.9,540.4 74.8,542.1 75.7,543.2 76.6,542.9 77.4,542 78.3,541.6 79.2,542.6 80.1,544.5 81,546.2 81.9,546.4 82.8,544.9 83.6,543 84.5,542.1 85.4,542.7 86.3,544.3 87.2,545.6 88.1,545.6 88.9,544.5 89.8,543.2 90.7,542.1 91.6,541.5 92.5,541 93.4,540.6 94.3,540.7 95.1,541.6 96,543.3 96.9,544.6 97.8,544.3 98.7,541.9 99.6,538.6 100.5,536.1 101.3,535.7 102.2,537.2 103.1,539.3 104,540.5 104.9,540.4 105.8,539.8 106.7,539.7 107.5,540.5 108.4,541.8 109.3,542.5 110.2,542.2 111.1,541.4 112,540.6 112.9,540.3 113.7,540 114.6,539.4 115.5,538.5 116.4,537.9 117.3,538.5 118.2,540 119.1,541.3 119.9,541.3 120.8,539.6 121.7,537.4 122.6,536.2 123.5,537.2 124.4,539.8 125.3,542.5 126.1,543.8 127,543.3 127.9,541.7 128.8,540.3 129.7,539.6 130.6,539.6 131.5,539.6 132.3,539.7 133.2,540.3 134.1,541.5 135,542.8 135.9,543.5 136.8,542.8 137.7,541 138.5,539.2 139.4,538.4 140.3,538.7 141.2,539 142.1,538.3 143,536.2 143.9,533.7 144.7,532.5 145.6,533.5 146.5,536 147.4,538.5 148.3,539.7 149.2,539.3 150.1,538.3 150.9,537.5 151.8,537.4 152.7,537.7 153.6,537.9 154.5,538.1 155.4,538.6 156.3,539.6 157.1,540.4 158,540 158.9,538.1 159.8,535.4 160.7,533.3 161.6,533.1 162.5,534.9 163.3,537.2 164.2,538.6 165.1,538.2 166,536.8 166.9,535.6 167.8,535.5 168.7,536.1 169.5,536.5 170.4,536 171.3,534.7 172.2,533.6 173.1,533.3 174,533.8 174.9,534.4 175.7,534.8 176.6,535.1 177.5,535.8 178.4,537 179.3,537.9 180.2,537.4 181.1,535.1 181.9,532 182.8,530 183.7,529.9 184.6,531.3 185.5,532.7 186.4,533.1 187.3,532.3 188.1,531 189,530.1 189.9,529.8 190.8,530 191.7,530.1 192.6,530.1 193.4,529.9 194.3,529.8 195.2,529.6 196.1,529.4 197,529.1 197.9,528.8 198.8,528.6 199.6,528.4 200.5,528.2 201.4,528.1 202.3,527.9 203.2,527.7 204.1,527.5 205,527.4 205.8,527.2 206.7,527 207.6,526.8 208.5,526.7 209.4,526.5 210.3,526.4 211.2,526.4 212,526.3 212.9,526.2 213.8,526.1 214.7,526 215.6,525.9 216.5,525.8 217.4,525.8 218.2,525.7 219.1,525.6 220,525.5 220.9,525.4 221.8,525.3 222.7,525.3 223.6,525.3 224.4,525.3 225.3,525.3 226.2,525.3 227.1,525.3 228,525.3 228.9,525.3 229.8,525.3 230.6,525.3 231.5,525.3 232.4,525.3 233.3,525.3 234.2,525.3 235.1,525.3 236,525.3 236.8,525.3 237.7,525.3 238.6,525.3 239.5,525.3"/>
<polyline class="cy" points="36.7,567 37.6,567 38.5,567 39.4,567 40.2,567 41.1,567 42,567 42.9,567 43.8,567 44.7,567 45.6,567 46.4,567 47.3,567 48.2,567 49.1,567.1 50,567.3 50.9,567.4 51.8,567.7 52.6,568 53.5,568.3 54.4,568.4 55.3,568.4 56.2,568.4 57.1,568.8 58,569.7 58.8,570.4 59.7,570.2 60.6,568.7 61.5,566.6 62.4,565.3 63.3,565.4 64.2,567 65,568.9 65.9,570.1 66.8,570.1 67.7,569.5 68.6,569 69.5,568.7 70.4,568.1 71.2,567 72.1,566.1 73,566.5 73.9,568.5 74.8,571.2 75.7,572.7 76.6,572 77.4,570.2 78.3,569.2 79.2,570.6 80.1,573.9 81,577 81.9,578 82.8,576.4 83.6,573.7 84.5,572.2 85.4,572.8 86.3,574.7 87.2,576.1 88.1,575.6 88.9,573.7 89.8,571.4 90.7,569.7 91.6,568.5 92.5,567.4 93.4,566.6 94.3,567 95.1,569 96,572.3 96.9,574.9 97.8,574.8 98.7,571.6 99.6,566.8 100.5,563.3 101.3,562.9 102.2,565.5 103.1,568.8 104,570.6 104.9,570.5 105.8,569.4 106.7,569.2 107.5,570.2 108.4,571.8 109.3,572.6 110.2,572 111.1,570.8 112,569.8 112.9,569.5 113.7,569 114.6,567.9 115.5,566.1 116.4,565 117.3,565.6 118.2,567.7 119.1,569.6 119.9,569.2 120.8,566.3 121.7,562.5 122.6,560.5 123.5,561.7 124.4,565.5 125.3,569.4 126.1,571.1 127,570 127.9,567.4 128.8,565 129.7,563.7 130.6,563.2 131.5,563 132.3,563.2 133.2,564.3 134.1,566.6 135,569.4 135.9,571.1 136.8,570.7 137.7,568.5 138.5,566.4 139.4,566 140.3,567.4 141.2,568.8 142.1,568.5 143,566.1 143.9,562.7 144.7,560.8 145.6,561.4 146.5,564.1 147.4,566.6 148.3,567.2 149.2,565.7 150.1,563.7 150.9,562.4 151.8,562.1 152.7,562.3 153.6,562.4 154.5,562.6 155.4,563.6 156.3,565.3 157.1,566.8 158,566.3 158.9,563.4 159.8,559 160.7,555.8 161.6,555.7 162.5,558.5 163.3,562.1 164.2,564.2 165.1,563.6 166,561.4 166.9,559.5 167.8,559.2 168.7,560 169.5,560.5 170.4,559.7 171.3,558 172.2,556.5 173.1,556.3 174,557 174.9,557.9 175.7,558.3 176.6,558.8 177.5,560 178.4,562.1 179.3,563.6 180.2,563 181.1,559.7 181.9,555.2 182.8,552.3 183.7,552.5 184.6,554.9 185.5,557.2 186.4,557.7 187.3,556.4 188.1,554.4 189,553 189.9,552.5 190.8,552.6 191.7,552.8 192.6,552.7 193.4,552.5 194.3,552.3 195.2,552.1 196.1,551.8 197,551.4 197.9,550.9 198.8,550.6 199.6,550.4 200.5,550.2 201.4,549.9 202.3,549.7 203.2,549.5 204.1,549.2 205,549 205.8,548.8 206.7,548.6 207.6,548.5 208.5,548.4 209.4,548.2 210.3,548.1 211.2,548 212,547.8 212.9,547.7 213.8,547.5 214.7,547.4 215.6,547.3 216.5,547.1 217.4,547 218.2,546.9 219.1,546.8 220,546.7 220.9,546.7 221.8,546.7 222.7,546.7 223.6,546.7 224.4,546.7 225.3,546.7 226.2,546.7 227.1,546.7 228,546.7 228.9,546.7 229.8,546.7 230.6,546.7 231.5,546.7 232.4,546.7 233.3,546.7 234.2,546.7 235.1,546.7 236,546.7 236.8,546.7 237.7,546.7 238.6,546.7 239.5,546.7"/>
<polyline class="bk" points="36.7,480.5 37.6,480.6 38.5,480.6 39.4,480.6 40.2,480.7 41.1,480.7 42,480.8 42.9,480.8 43.8,480.8 44.7,480.9 45.6,480.9 46.4,481 47.3,481 48.2,481 49.1,481.1 50,481.2 50.9,481.2 51.8,481.2 52.6,481.2 53.5,481.2 54.4,481.3 55.3,481.4 56.2,481.5 57.1,481.5 58,481.5 58.8,481.5 59.7,481.6 60.6,481.8 61.5,481.9 62.4,482 63.3,482 64.2,482.1 65,482.1 65.9,482.2 66.8,482.1 67.7,481.9 68.6,481.8 69.5,481.9 70.4,482.4 71.2,482.9 72.1,483.2 73,483 73.9,482.6 74.8,482.4 75.7,482.7 76.6,483.4 77.4,484.3 78.3,485 79.2,485.3 80.1,485.3 81,485.3 81.9,485.3 82.8,485.3 83.6,485.2 84.5,485.1 85.4,485.2 86.3,485.5 87.2,486 88.1,486.3 88.9,486.4 89.8,486.3 90.7,486.1 91.6,486.3 92.5,486.7 93.4,487 94.3,487.1 95.1,486.6 96,486 96.9,485.6 97.8,485.7 98.7,486.1 99.6,486.6 100.5,486.9 101.3,486.9 102.2,486.7 103.1,486.5 104,486.4 104.9,486.3 105.8,486.2 106.7,486.2 107.5,486.3 108.4,486.7 109.3,487 110.2,487.1 111.1,486.7 112,485.9 112.9,485.3 113.7,485 114.6,485.3 115.5,485.8 116.4,486.1 117.3,486.1 118.2,486 119.1,485.9 119.9,486.1 120.8,486.5 121.7,486.7 122.6,486.8 123.5,486.6 124.4,486.4 125.3,486.4 126.1,486.4 127,486.4 127.9,486.4 128.8,486.4 129.7,486.7 130.6,487.2 131.5,487.7 132.3,487.8 133.2,487.5 134.1,486.8 135,486.2 135.9,486.1 136.8,486.4 137.7,486.8 138.5,487.1 139.4,486.9 140.3,486.5 141.2,486.1 142.1,485.9 143,485.9 143.9,485.9 144.7,485.9 145.6,486 146.5,486.1 147.4,486.4 148.3,486.6 149.2,486.6 150.1,486.2 150.9,485.8 151.8,485.7 152.7,485.8 153.6,486 154.5,486 155.4,485.7 156.3,485.1 157.1,484.8 158,484.9 158.9,485.5 159.8,486.2 160.7,486.6 161.6,486.5 162.5,486.2 163.3,485.8 164.2,485.6 165.1,485.6 166,485.6 166.9,485.6 167.8,485.8 168.7,486.1 169.5,486.5 170.4,486.8 171.3,486.7 172.2,486.2 173.1,485.8 174,485.8 174.9,486.1 175.7,486.7 176.6,487 177.5,487 178.4,486.6 179.3,486.2 180.2,486.1 181.1,486.3 181.9,486.4 182.8,486.3 183.7,486 184.6,485.7 185.5,485.6 186.4,485.6 187.3,485.6 188.1,485.6 189,485.5 189.9,485.5 190.8,485.5 191.7,485.4 192.6,485.2 193.4,485 194.3,484.7 195.2,484.5 196.1,484.5 197,484.5 197.9,484.4 198.8,484.4 199.6,484.3 200.5,484.2 201.4,484.2 202.3,484.1 203.2,484 204.1,484 205,483.9 205.8,483.8 206.7,483.7 207.6,483.7 208.5,483.6 209.4,483.6 210.3,483.6 211.2,483.6 212,483.6 212.9,483.5 213.8,483.5 214.7,483.5 215.6,483.5 216.5,483.5 217.4,483.5 218.2,483.5 219.1,483.5 220,483.5 220.9,483.5 221.8,483.5 222.7,483.4 223.6,483.4 224.4,483.4 225.3,483.4 226.2,483.4 227.1,483.4 228,483.4 228.9,483.4 229.8,483.4 230.6,483.4 231.5,483.4 232.4,483.3 233.3,483.3 234.2,483.3 235.1,483.3 236,483.3 236.8,483.3 237.7,483.3 238.6,483.3 239.5,483.3"/>
</g>
<path class="hb" d="M37.3 376.6v-0.8h4.89v0.8zM42.19 376.6v-2h4.89v2zM47.08 376.6v-3.2h4.89v3.2zM51.97 376.6v-4h4.89v4zM56.86 376.6v-5.2h4.89v5.2zM61.75 376.6v-7.4h4.89v7.4zM66.64 376.6v-9.2h4.89v9.2zM71.53 376.6v-10.9h4.89v10.9zM76.42 376.6v-13.1h4.89v13.1zM81.31 376.6v-15.8h4.89v15.8zM86.2 376.6v-17.7h4.89v17.7zM91.09 376.6v-20h4.89v20zM95.98 376.6v-23.2h4.89v23.2zM100.87 376.6v-25h4.89v25zM105.76 376.6v-26.5h4.89v26.5zM110.65 376.6v-28.7h4.89v28.7zM115.54 376.6v-28.9h4.89v28.9zM120.43 376.6v-28.9h4.89v28.9zM125.32 376.6v-30.5h4.89v30.5zM130.21 376.6v-30.8h4.89v30.8zM135.1 376.6v-29.6h4.89v29.6zM139.99 376.6v-29.5h4.89v29.5zM144.88 376.6v-28.8h4.89v28.8zM149.77 376.6v-27.3h4.89v27.3zM154.66 376.6v-25.6h4.89v25.6zM159.55 376.6v-23.2h4.89v23.2zM164.44 376.6v-20h4.89v20zM169.33 376.6v-17h4.89v17zM174.22 376.6v-13.9h4.89v13.9zM179.11 376.6v-12.2h4.89v12.2zM184 376.6v-9.2h4.89v9.2zM188.89 376.6v-7.4h4.89v7.4zM193.78 376.6v-6h4.89v6zM198.67 376.6v-4h4.89v4zM203.56 376.6v-2.8h4.89v2.8zM208.45 376.6v-1.9h4.89v1.9zM213.34 376.6v-1h4.89v1zM218.23 376.6v-0.5h4.89v0.5zM223.12 376.6v-0.2h4.89v0.2zM228.01 376.6v-0.2h4.89v0.2zM232.9 376.6v-0.1h4.89v0.1z"/>
<path class="hl" d="M37.3 376.4H237.8"/>
<rect class="fr" x="36.7" y="376.6" width="216" height="218.8"/>
<path class="tk" d="M36.7 595.4v-2.6M36.7 376.6v2.6M60.7 595.4v-2.6M60.7 376.6v2.6M84.7 595.4v-2.6M84.7 376.6v2.6M108.7 595.4v-2.6M108.7 376.6v2.6M132.7 595.4v-2.6M132.7 376.6v2.6M156.7 595.4v-2.6M156.7 376.6v2.6M180.7 595.4v-2.6M180.7 376.6v2.6M204.7 595.4v-2.6M204.7 376.6v2.6M228.7 595.4v-2.6M228.7 376.6v2.6M252.7 595.4v-2.6M252.7 376.6v2.6M36.7 595.4h2.6M252.7 595.4h-2.6M36.7 568.05h2.6M252.7 568.05h-2.6M36.7 540.7h2.6M252.7 540.7h-2.6M36.7 513.35h2.6M252.7 513.35h-2.6M36.7 486h2.6M252.7 486h-2.6M36.7 458.65h2.6M252.7 458.65h-2.6M36.7 431.3h2.6M252.7 431.3h-2.6M36.7 403.95h2.6M252.7 403.95h-2.6M36.7 376.6h2.6M252.7 376.6h-2.6"/>
<text class="tl" x="36.7" y="604.6" text-anchor="middle">0</text>
<text class="tl" x="60.7" y="604.6" text-anchor="middle">10</text>
<text class="tl" x="84.7" y="604.6" text-anchor="middle">20</text>
<text class="tl" x="108.7" y="604.6" text-anchor="middle">30</text>
<text class="tl" x="132.7" y="604.6" text-anchor="middle">40</text>
<text class="tl" x="156.7" y="604.6" text-anchor="middle">50</text>
<text class="tl" x="180.7" y="604.6" text-anchor="middle">60</text>
<text class="tl" x="204.7" y="604.6" text-anchor="middle">70</text>
<text class="tl" x="228.7" y="604.6" text-anchor="middle">80</text>
<text class="tl" x="252.7" y="604.6" text-anchor="middle">90</text>
</g>
<g id="pB2">
<rect x="290.3" y="376.6" width="215.5" height="218.8" fill="#f5f5f5"/>
<path class="gr" d="M311.85 376.6V595.4M354.95 376.6V595.4M398.05 376.6V595.4M441.15 376.6V595.4M484.25 376.6V595.4M290.3 568.05H505.8M290.3 540.7H505.8M290.3 513.35H505.8M290.3 486H505.8M290.3 458.65H505.8M290.3 431.3H505.8M290.3 403.95H505.8"/>
<clipPath id="cB2"><rect x="290.3" y="376.6" width="215.5" height="218.8"/></clipPath>
<g clip-path="url(#cB2)">
<path class="un" transform="translate(290.3 377.1)" d="M149 21h5M149 22h3M151 23h3M155 23h3M155 24h5M152 25h7M152 26h5M142 27h3M152 27h5M145 28h12M136 29h21M135 30h6M145 30h18M135 31h6M145 31h19M132 32h9M147 32h18M132 33h9M143 33h4M148 33h17M132 34h9M143 34h4M148 34h18M132 35h6M143 35h23M133 36h32M143 37h22M135 38h6M143 38h22M127 39h4M135 39h30M127 40h38M125 41h5M131 41h33M117 42h4M125 42h3M131 42h33M116 43h4M124 43h5M130 43h34M116 44h13M130 44h35M117 45h49M117 46h50M118 47h6M125 47h43M103 48h5M117 48h51M105 49h3M120 49h52M104 50h4M113 50h3M117 50h51M104 51h4M111 51h61M105 52h3M111 52h62M106 53h66M106 54h65M99 55h4M107 55h64M99 56h4M106 56h65M99 57h5M106 57h65M98 58h6M105 58h66M99 59h70M99 60h73M99 61h73M95 62h79M94 63h81M94 64h80M95 65h79M84 66h5M95 66h79M85 67h4M93 67h81M86 68h3M94 68h80M83 69h91M83 70h92M88 71h88M82 72h95M80 73h97M80 74h98M80 75h97M70 76h5M78 76h98M71 77h6M78 77h98M70 78h7M78 78h98M71 79h6M78 79h98M71 80h5M78 80h98M80 81h98M79 82h97M77 83h100M77 84h101M70 85h4M75 85h105M70 86h106M69 87h109M69 88h112M69 89h108M178 89h4M53 90h3M68 90h114M53 91h4M68 91h113M53 92h3M66 92h115M67 93h113M64 94h115M62 95h116M61 96h117M57 97h121M57 98h122M57 99h119M56 100h123M56 101h120M57 102h119M57 103h118M57 104h124M54 105h128M52 106h130M51 107h131M50 108h132M50 109h5M56 109h125M50 110h4M56 110h123M56 111h122M50 112h4M56 112h122M56 113h124M49 114h5M57 114h123M49 115h5M57 115h120M49 116h5M57 116h123M49 117h5M57 117h123M49 118h130M52 119h125M53 120h123M53 121h123M53 122h123M56 123h120M57 124h119M56 125h120M57 126h119M61 127h116M54 128h6M63 128h112M54 129h6M63 129h113M54 130h122M53 131h9M63 131h112M52 132h3M56 132h5M63 132h111M57 133h4M64 133h110M57 134h6M64 134h109M58 135h5M64 135h109M58 136h115M58 137h8M67 137h106M58 138h114M57 139h4M65 139h107M66 140h107M66 141h110M66 142h3M70 142h104M72 143h101M72 144h96M169 144h3M71 145h6M78 145h94M72 146h100M73 147h4M78 147h92M73 148h3M78 148h93M78 149h95M82 150h91M82 151h88M82 152h91M84 153h89M85 154h85M85 155h5M91 155h79M85 156h4M91 156h79M90 157h80M94 158h75M96 159h73M99 160h67M99 161h66M99 162h66M100 163h64M100 164h64M100 165h64M101 166h5M111 166h53M101 167h4M110 167h54M101 168h3M109 168h55M114 169h50M118 170h40M160 170h5M108 171h3M120 171h5M127 171h36M130 172h29M160 172h6M107 173h3M130 173h36M107 174h3M135 174h30M106 175h4M136 175h29M107 176h3M137 176h28M136 177h10M147 177h18M136 178h7M147 178h10M158 178h6M131 179h12M144 179h12M159 179h4M130 180h13M144 180h6M130 181h21M131 182h4M138 182h11M141 183h8M141 184h8M144 185h3M149 191h3"/>
<g transform="translate(290.3 376.6) scale(.1)">
<defs><path id="b20" d="M436 1281h0m7-93h0m29-397h0m23 101h0m9 592h0m15-571h0m1 385h0m30 320h0m54-897h0m0-98h0m30 233h0m11 746h0m2-117h0m4 81h0m0 143h0m33-1121h0m37 876h0m39-731h0m19-31h0m36-17h0m15 1045h0m27-158h0m33 74h0m0-1089h0m12 1051h0m47-1054h0m20-72h0m8 1153h0m8 59h0m9-1137h0m10 1252h0m121 145h0m7-69h0m2 241h0m15-1782h0m0 1622h0m7-1906h0m23 1780h0m37-1497h0m25 1451h0m32-1559h0m7-5h0m4-104h0m1 90h0m6 1618h0m63-1738h0m5 2035h0m14-2108h0m9 2176h0m32-2028h0m19 3h0m78-192h0m30 2010h0m12-180h0m30 196h0m18-1837h0m11 1724h0m16-3h0m12-1631h0m40 1513h0m0-1719h0m1 214h0m14 1449h0m20-260h0m4 158h0m0-1205h0m27 1451h0m13-389h0m6-893h0m11 248h0m3 450h0m16-437h0m16 228h0m1 258h0m4-956h0m26 884h0m3-379h0m3-121h0m0-51h0"/><path id="b21" d="M460 1565h0m14-612h0m48 212h0m26 107h0m6-95h0m24-275h0m21 10h0m45-18h0m3 583h0m35-660h0m56-51h0m26-2h0m6 825h0m17-1024h0m13 175h0m18-335h0m26 1571h0m44-117h0m55-126h0m42-1300h0m1 1348h0m21-82h0m66-1267h0m10 1318h0m13 203h0m3-194h0m104 103h0m7-1755h0m25-13h0m3 1722h0m30-1577h0m2 25h0m99-213h0m9 1910h0m5 202h0m14-2072h0m15 1887h0m1-1755h0m9-114h0m3 1669h0m3 145h0m12-1920h0m0 1885h0m15-1682h0m4 1650h0m30-1706h0m5 1712h0m30-36h0m10 174h0m19-1984h0m15 2037h0m12-1794h0m18 33h0m18-173h0m13-95h0m14 137h0m3 2013h0m12-1892h0m6-130h0m13 1481h0m5-1445h0m15 1292h0m7-1183h0m4 281h0m1 1329h0m2-1503h0m0-18h0m21 1179h0m4-995h0m5 52h0m28 612h0m1-403h0m2 417h0m1-27h0m0-427h0m17 785h0m19-937h0m3 128h0m29 33h0"/><path id="b22" d="M398 1016h0m1 21h0m23 48h0m10 306h0m73-364h0m1 300h0m23 223h0m88 92h0m10-713h0m12 653h0m17-243h0m6 22h0m0-393h0m14 490h0m1-555h0m41-104h0m9 706h0m24 232h0m23-252h0m13 48h0m113-903h0m30 1049h0m6-1072h0m2 1010h0m8-22h0m2 104h0m8-1164h0m41 1400h0m40-1755h0m74 1556h0m15 100h0m2-1364h0m1-59h0m13-19h0m18 1396h0m41-1355h0m1 1273h0m5 37h0m3-1462h0m9 1424h0m34 42h0m18 41h0m3-1511h0m3 1543h0m1-1470h0m85-118h0m27 1759h0m30-1658h0m20 1257h0m18-1355h0m68 1693h0m35-1942h0m14 1946h0m20-87h0m12 214h0m4-154h0m16-65h0m17 137h0m0-193h0m3-1621h0m55 149h0m1 15h0m21 1282h0m9-1099h0m26 507h0m4-153h0m0 416h0m8-483h0m19 514h0m9 184h0m10-499h0m13-203h0m1 500h0m3-386h0m9 596h0m6-525h0m2-35h0m16 162h0m13-424h0"/><path id="b23" d="M404 1148h0m16 17h0m7 115h0m46-179h0m36 215h0m6-313h0m0 396h0m5-171h0m28 179h0m2-636h0m6 290h0m14 324h0m28 74h0m5-587h0m30 567h0m18-534h0m15 601h0m9-1015h0m18 1194h0m1-137h0m9-203h0m9 29h0m13-537h0m2 619h0m5-641h0m19-200h0m22 23h0m22 67h0m34-96h0m16 927h0m40 119h0m36 53h0m79-58h0m13-1111h0m8 1151h0m17 10h0m31-766h0m24 872h0m9-85h0m5 117h0m10-1445h0m9 1450h0m35-152h0m5 16h0m18-14h0m18 190h0m27-135h0m3-1404h0m4 121h0m20-302h0m58 177h0m6 1432h0m82-1554h0m22 36h0m13 1703h0m10-1h0m6 39h0m25-2017h0m11 1916h0m3 53h0m10-137h0m32 158h0m10-178h0m11 10h0m20-1683h0m45 121h0m55 1363h0m2 200h0m31-1245h0m17 830h0m1-39h0m7 308h0m42-799h0m1 163h0m4-68h0m32 21h0m24 199h0m13-504h0m30 88h0"/><path id="b24" d="M444 783h0m23 595h0m21-91h0m51-330h0m5 37h0m4 235h0m8 46h0m6 178h0m27-178h0m3 127h0m5 212h0m2-845h0m1 62h0m35 454h0m6 54h0m12-471h0m24-10h0m60-156h0m18 115h0m53 818h0m3 31h0m21-279h0m0 116h0m23 126h0m18 71h0m67-1054h0m9 19h0m91-112h0m1 21h0m39 1216h0m10 53h0m31-145h0m17 215h0m33-1606h0m16 1435h0m6-1382h0m7 101h0m50 1254h0m10-1232h0m35 1407h0m23-183h0m12-1434h0m6-74h0m7-9h0m7 1741h0m20-196h0m11-1554h0m3 1786h0m19-191h0m18-1470h0m11 1531h0m18 64h0m9-137h0m9-1448h0m47-48h0m16-189h0m3 1774h0m41-89h0m2-66h0m8-1522h0m7 1588h0m0 155h0m2 55h0m64-203h0m3 41h0m1-117h0m39-1288h0m29 1134h0m38-203h0m3 73h0m7-524h0m16 354h0m3-51h0m10 269h0m5-85h0m12-264h0m22-243h0m11 288h0m1 413h0"/><path id="b25" d="M466 947h0m48 2h0m5 271h0m23 292h0m7-840h0m10 686h0m6-400h0m5 595h0m4-325h0m5 152h0m2 34h0m9-609h0m15 144h0m2-244h0m5 230h0m60 65h0m31-161h0m32 533h0m8 380h0m10-943h0m2 1000h0m20-196h0m22-75h0m25-873h0m29 830h0m19 114h0m11-950h0m125 1143h0m16-1353h0m12 1574h0m1-233h0m9-1340h0m43-28h0m30 1h0m24-149h0m23 1409h0m6-1340h0m2 3h0m20 1484h0m29 124h0m14-1561h0m33-160h0m6 247h0m47-486h0m19 1833h0m3-1600h0m105 1699h0m24 272h0m17-1965h0m10 1669h0m4-1519h0m8 392h0m18 1131h0m49-1776h0m5 244h0m14 1618h0m16 22h0m31-1700h0m5 77h0m10 1205h0m31 231h0m3-277h0m26-945h0m3-66h0m2 158h0m17 617h0m13-114h0m2-370h0m9 192h0m0-582h0m11 738h0m3-415h0m6 363h0m8-482h0m13 681h0m10-113h0m5-315h0m2-103h0m49 675h0"/><path id="b26" d="M456 1040h0m0 150h0m53 72h0m12-296h0m9 373h0m1-522h0m15-3h0m48-153h0m4 162h0m8 555h0m13-322h0m14-235h0m2 609h0m24-441h0m14-77h0m18 466h0m17-531h0m39 642h0m6 23h0m9-74h0m7-623h0m6 546h0m29 133h0m6-763h0m16 956h0m19-1102h0m1 1034h0m8-55h0m5-25h0m11-893h0m70 925h0m28-1035h0m15 1229h0m4-1254h0m4-24h0m26 1139h0m18 291h0m9-1324h0m5 1094h0m56-1679h0m19 1679h0m69-1425h0m12 1523h0m47-1425h0m26 1320h0m9-12h0m8 3h0m52 122h0m32-1429h0m11 43h0m18-125h0m34-3h0m18-69h0m46 1704h0m25-1720h0m6 1937h0m14-1898h0m17-28h0m9 165h0m59 1288h0m1-67h0m25-23h0m9-2h0m17-1018h0m4-397h0m31 372h0m8 960h0m2-367h0m20-445h0m10 228h0m12 497h0m6-1086h0m19 563h0m4 197h0m0 438h0m0-242h0m13-83h0m13-461h0m3 285h0"/><path id="b27" d="M270 979h0m130 125h0m132 208h0m28-25h0m6-191h0m3 39h0m13 316h0m27-94h0m30-209h0m12-396h0m14 735h0m19 153h0m17-859h0m1 892h0m20-275h0m2-640h0m3 771h0m66-690h0m21-121h0m10 24h0m47-69h0m29 921h0m30-910h0m5-121h0m32 367h0m33-434h0m13 70h0m11 1024h0m23-1133h0m37 1089h0m52-1254h0m11 1438h0m11 44h0m2-95h0m5-13h0m7 160h0m42-138h0m6-1158h0m58-384h0m5 348h0m11 1471h0m0-139h0m15-90h0m67-1569h0m0 1831h0m3-1931h0m4 237h0m4 1717h0m3-115h0m5-1597h0m16-47h0m16 1544h0m4 75h0m24 96h0m4-1727h0m44-86h0m24-2h0m28 1h0m20-30h0m18 177h0m2 1489h0m3-1472h0m10 1333h0m18 81h0m19-1493h0m8 226h0m39-5h0m2-20h0m1 337h0m9-258h0m17-35h0m13 767h0m13-175h0m1 316h0m18-315h0m0-110h0m72 164h0m2 110h0m17-708h0"/><path id="b28" d="M404 1251h0m62-33h0m24-246h0m30 405h0m1-24h0m9-432h0m39-365h0m25 482h0m43 323h0m35-693h0m23 760h0m34-16h0m18 330h0m2-946h0m44 935h0m9-109h0m14-118h0m9-615h0m9 513h0m2-737h0m10 953h0m10-939h0m29 895h0m30-20h0m16 71h0m88-160h0m55-890h0m32 1081h0m8-1160h0m28 1666h0m29-1601h0m21-163h0m53 1363h0m3-1299h0m3 1306h0m12 183h0m11-319h0m12 20h0m29 140h0m1-1488h0m11 1580h0m6-206h0m26-1423h0m18 96h0m18-187h0m0 268h0m5-216h0m1 1573h0m5-1306h0m19-123h0m17-22h0m7 1439h0m67 24h0m31-1661h0m5 1728h0m3-1819h0m17 1770h0m22-66h0m6 4h0m5-66h0m2 103h0m6-1550h0m9 53h0m7 140h0m40 1201h0m3-116h0m12 27h0m6-1167h0m7-109h0m6 122h0m0 496h0m17 622h0m4-437h0m37 231h0m8-53h0m7 263h0m11-828h0m21 354h0m4 51h0"/><path id="b29" d="M497 841h0m56 52h0m2 429h0m12-54h0m24 33h0m9-235h0m47 221h0m5-314h0m7-56h0m5-76h0m24-119h0m34-149h0m17 72h0m19 148h0m13 677h0m34-535h0m0 552h0m51 130h0m10-811h0m12-6h0m35-225h0m9 223h0m30-114h0m29 829h0m2-869h0m28 42h0m39 1153h0m36-1185h0m36-237h0m17 1251h0m26-1534h0m28 383h0m4 1027h0m2-1064h0m26 82h0m23-135h0m4-53h0m3 1281h0m44-1285h0m4 1282h0m13-1537h0m7 1545h0m24-1288h0m6 1524h0m5-145h0m10-1290h0m25 1296h0m3 179h0m10-314h0m35 210h0m5-77h0m20-1602h0m45 72h0m19-86h0m33 122h0m3 67h0m38 80h0m12-91h0m6 1307h0m0-937h0m1 996h0m20-1495h0m7 434h0m12-277h0m9 1397h0m28-170h0m2-134h0m12-187h0m8-324h0m3-52h0m10 299h0m7 361h0m11-72h0m10-500h0m4 200h0m33-471h0m15 546h0m60-380h0m4 96h0"/><path id="b210" d="M517 1063h0m16-173h0m37 312h0m4-357h0m10 457h0m26 201h0m29-527h0m13 157h0m11 279h0m25-469h0m8-200h0m29 52h0m12 654h0m0-758h0m30 880h0m1-122h0m22 280h0m31-292h0m3-21h0m22-762h0m60 854h0m5-24h0m48 300h0m18-186h0m23-1032h0m11 76h0m20-148h0m22 1243h0m1 31h0m21-1480h0m15 271h0m37 1026h0m53-1146h0m11 11h0m41-230h0m14-190h0m18 108h0m8 260h0m13 146h0m2 1181h0m16 362h0m1-369h0m6-1460h0m2 1341h0m16-1248h0m1-12h0m66 1403h0m37-45h0m16-16h0m3-1292h0m41 1412h0m22-1437h0m26 1287h0m16-1336h0m10 1348h0m25-1242h0m3-188h0m4 2h0m35 382h0m7-229h0m6 68h0m14-48h0m5 1243h0m14-1076h0m13 105h0m1 483h0m21 134h0m9 104h0m12-602h0m15 639h0m11-88h0m31-365h0m11 190h0m11-139h0m8 509h0m6-177h0m21-362h0m3 790h0m30-739h0"/><path id="b211" d="M505 1165h0m3 341h0m18-414h0m12-174h0m37 447h0m5-262h0m10 292h0m52-438h0m38 79h0m4 405h0m17-532h0m20 661h0m26-846h0m1 667h0m6-777h0m9 732h0m7-371h0m30 378h0m52-611h0m12 682h0m2-802h0m31 888h0m69 75h0m10-832h0m22 59h0m10 867h0m18 50h0m8-99h0m28-1095h0m16-170h0m3 245h0m20 1078h0m34-68h0m22-1270h0m27 1313h0m7 90h0m5-127h0m18 177h0m5-1387h0m27-86h0m13 1553h0m26-108h0m37-1223h0m1 821h0m9-974h0m7-292h0m11 1678h0m13 48h0m22-1338h0m32-111h0m16 156h0m17-10h0m1-409h0m9 1620h0m5-1361h0m6-79h0m32-115h0m10 23h0m2 1425h0m4 240h0m10-1432h0m23 1286h0m17 200h0m10 169h0m16-1749h0m17 1458h0m5-1449h0m2 1388h0m7-1373h0m21-317h0m24 1463h0m24-530h0m7 288h0m8-647h0m24 784h0m14-451h0m6 66h0m3 39h0m128-401h0"/><path id="b212" d="M468 1162h0m15 595h0m56-931h0m1 362h0m8-284h0m27 155h0m3-50h0m2-80h0m20 199h0m47-23h0m5 197h0m20-515h0m49 233h0m64 369h0m5 191h0m11-127h0m39-750h0m8 91h0m1 674h0m23-701h0m12 61h0m50-21h0m1-33h0m16-192h0m6 981h0m38-836h0m4-18h0m15-89h0m10 963h0m1-737h0m12-224h0m9-23h0m20 80h0m2 951h0m0 131h0m8-1319h0m17 42h0m15 1136h0m27-1091h0m29 72h0m61 1093h0m2-1567h0m28 1461h0m9-112h0m2-955h0m10 41h0m1-278h0m32 1666h0m45-1482h0m13-131h0m3 57h0m6-100h0m5 148h0m12 1425h0m2-1345h0m1 1307h0m12-149h0m8 150h0m27-81h0m21-1161h0m17-137h0m16 1187h0m21-1250h0m4 1320h0m21-1154h0m2 1187h0m18-1655h0m24 1645h0m21-1597h0m17 330h0m3-2h0m3 1212h0m1-176h0m37 209h0m7-1151h0m1 332h0m9-266h0m8 670h0m62-601h0"/><path id="b213" d="M504 1150h0m40 157h0m3-100h0m0 232h0m11-442h0m18-133h0m6 210h0m26 6h0m10 240h0m9-61h0m15-538h0m18 679h0m17-351h0m11 33h0m1 142h0m7 20h0m6-325h0m83-149h0m12 176h0m0 368h0m2-517h0m42 141h0m3 455h0m25-645h0m57 1043h0m38-1030h0m10 922h0m10-838h0m31-286h0m4 984h0m9-889h0m4 929h0m45 277h0m32-1260h0m2 939h0m9 108h0m41-91h0m16-1027h0m2-134h0m40 1292h0m29-1129h0m42-103h0m51-417h0m6 2016h0m17-414h0m18-1240h0m2-63h0m15 1634h0m13-1723h0m12 1490h0m10-1273h0m53 1188h0m6-1143h0m50 1193h0m6 61h0m17-123h0m11-1400h0m6 237h0m4-288h0m2 277h0m40 130h0m1 1011h0m1-146h0m25-561h0m1 451h0m6-697h0m9 169h0m14-317h0m18 721h0m11-42h0m1-351h0m1 157h0m5 42h0m5-590h0m2 771h0m16-753h0m2 259h0m54 204h0m12-57h0"/><path id="b214" d="M484 1057h0m30 53h0m4-279h0m69 51h0m5 249h0m6-121h0m2 338h0m1-464h0m2 431h0m16-108h0m6-201h0m27 255h0m3-277h0m1 490h0m1-274h0m50-59h0m14 187h0m0-408h0m30 491h0m3-383h0m23-107h0m52 658h0m3-967h0m15 143h0m12 922h0m28-821h0m3 676h0m24-598h0m11-318h0m1 206h0m1-202h0m46 928h0m27-760h0m4-22h0m26-92h0m3 191h0m19 654h0m6 84h0m13 132h0m84-129h0m7-147h0m4 133h0m8-1043h0m22 38h0m25 1021h0m7 72h0m13-68h0m11-92h0m21-943h0m3 1011h0m38 68h0m7-68h0m50-922h0m20-447h0m3 1385h0m16 13h0m6-1343h0m13 154h0m2-434h0m13 63h0m25 415h0m28-36h0m10 1299h0m4-1611h0m43 1773h0m2-1606h0m61 370h0m13 1064h0m11-1211h0m8 363h0m4 142h0m3-40h0m63 303h0m11-133h0m2-654h0m6 798h0m5-646h0m25 145h0m108 44h0"/><path id="b215" d="M239 979h0m278 43h0m31 16h0m16 258h0m81-361h0m1 520h0m13-306h0m10-5h0m7 183h0m78 219h0m39-561h0m30-122h0m1 607h0m26-109h0m5-435h0m1 248h0m1 214h0m12 175h0m9-568h0m9 409h0m40 228h0m8-70h0m35 279h0m10-1158h0m4 884h0m6 43h0m10-205h0m7-679h0m10 785h0m41 399h0m50-108h0m26-255h0m27-1125h0m7 1189h0m12 26h0m2-1015h0m15 28h0m41 940h0m40-94h0m34-1096h0m20 1318h0m3-1281h0m29 84h0m10-230h0m11 1421h0m1 416h0m6-407h0m26-51h0m17 158h0m2-104h0m4-1280h0m7-20h0m7-231h0m34 1719h0m9-1568h0m28 1425h0m5-1415h0m4-232h0m8 200h0m9 14h0m28 1693h0m46-432h0m11-247h0m12-569h0m12 533h0m5-458h0m9 401h0m5-745h0m2 669h0m9 162h0m8-556h0m1 602h0m18-275h0m16 317h0m11-464h0m17 142h0m13-59h0m2-610h0m99 174h0"/><path id="b216" d="M495 1103h0m52 351h0m22-385h0m0 85h0m33 10h0m3-343h0m57 258h0m15 322h0m32-132h0m11-37h0m6 241h0m16-534h0m20 308h0m47-425h0m1 637h0m20-105h0m20-670h0m21 836h0m21-134h0m17 359h0m7-781h0m35-245h0m42 723h0m84-919h0m3 177h0m10-165h0m3 1176h0m31-963h0m5 818h0m46-49h0m3-758h0m26 1052h0m8-310h0m11 169h0m2-23h0m10-61h0m6-1167h0m37 171h0m49-99h0m2 169h0m5-108h0m19-52h0m16 1196h0m20-189h0m45 62h0m4 46h0m1 53h0m12-714h0m22-554h0m0-418h0m27 287h0m10 292h0m0 1109h0m29-65h0m3-1346h0m9 264h0m23 1107h0m7-264h0m26-874h0m3 558h0m5 514h0m11-228h0m11-291h0m1-47h0m3-39h0m18 316h0m1-23h0m4-587h0m18 564h0m4-215h0m7 390h0m10-547h0m14-128h0m8 255h0m36-249h0m7-6h0m5 649h0m1-248h0m29 16h0"/><path id="b217" d="M639 1062h0m57-36h0m9-161h0m23 136h0m27 201h0m1-198h0m14 50h0m46-303h0m23 541h0m32 180h0m24-520h0m6-68h0m1 542h0m6 18h0m3-446h0m16 476h0m2-379h0m26-240h0m17-229h0m1 197h0m13 673h0m34-50h0m26 26h0m20-978h0m2 1159h0m1-1001h0m8 937h0m33-932h0m24 824h0m1-794h0m2 769h0m7-1006h0m2 53h0m7 1113h0m46 181h0m58-253h0m19-932h0m13 1136h0m9-1241h0m32 33h0m3 1074h0m17 85h0m2-1619h0m13 360h0m30 1437h0m5-98h0m13-1224h0m7-39h0m10 126h0m23-275h0m6-14h0m16 1479h0m6-281h0m11-1141h0m2 114h0m9 1245h0m26-1351h0m16-72h0m35 66h0m5 82h0m25 1311h0m12-37h0m2-761h0m4-451h0m3 76h0m8 745h0m4-606h0m4 648h0m4-605h0m4 425h0m12-910h0m8 884h0m6 94h0m8-3h0m18-665h0m6 435h0m16 154h0m45-694h0m4 374h0"/><path id="b218" d="M554 977h0m78 35h0m61 158h0m8-208h0m5 239h0m7-202h0m11-223h0m1 395h0m14-303h0m7 112h0m24-132h0m5 384h0m15-210h0m11-254h0m40 668h0m17-153h0m27-51h0m5 103h0m1-416h0m9-28h0m3 482h0m13-650h0m13 603h0m4-464h0m3 902h0m4-394h0m46 29h0m3-807h0m2 1329h0m51-423h0m57 17h0m12-261h0m8-602h0m8 752h0m27-699h0m5 944h0m2-917h0m52 846h0m26-1046h0m27-106h0m19-103h0m7 246h0m28 1070h0m32 282h0m2-1408h0m10 79h0m52 801h0m10 248h0m13-1055h0m1 1146h0m33-95h0m3-1232h0m12 1377h0m9-1487h0m15 1310h0m1-1300h0m1 1219h0m2 34h0m26-969h0m8 859h0m20-1091h0m12 1269h0m22-1002h0m5-318h0m9 1085h0m1 135h0m5-186h0m2-530h0m5 59h0m5 118h0m4 535h0m33-918h0m26 747h0m2-637h0m1 797h0m1 414h0m29-1018h0m0 19h0m56 135h0"/><path id="b219" d="M532 1134h0m61-156h0m95 339h0m48-33h0m26-353h0m12 187h0m4 147h0m0-555h0m10 441h0m2-504h0m13 902h0m22-290h0m38-306h0m29 526h0m20-170h0m20-401h0m13-145h0m7 889h0m20-758h0m0 2h0m11-18h0m15 19h0m20 494h0m13 60h0m4-45h0m16-602h0m12 587h0m12-840h0m1 1139h0m83-308h0m5 26h0m10 86h0m12-78h0m6-711h0m12 868h0m1-992h0m23-76h0m34 240h0m12-113h0m9 450h0m12 472h0m31-963h0m26-313h0m12 1407h0m11-116h0m2-931h0m22 939h0m5 91h0m2-1216h0m52 224h0m9-503h0m17-103h0m3 681h0m13 174h0m10-402h0m8 941h0m10-1259h0m13 1105h0m6 235h0m17-684h0m11-116h0m7 806h0m22-179h0m12 168h0m13-442h0m9 162h0m7 39h0m5-549h0m1 776h0m5-358h0m0-455h0m1 829h0m6-338h0m14 203h0m4-462h0m1 527h0m4-752h0m8 157h0m65 202h0"/><path id="b220" d="M577 1325h0m70 55h0m60-491h0m5 187h0m24 343h0m1-505h0m1-27h0m6 437h0m26-17h0m25-184h0m1 287h0m8-150h0m17-469h0m13 120h0m4 294h0m6 14h0m5 35h0m61-574h0m11 617h0m23 132h0m9-628h0m1 646h0m26-759h0m20 678h0m3-119h0m15-359h0m2 458h0m25 10h0m29 139h0m0 35h0m3 214h0m28-724h0m1 462h0m3-764h0m16 936h0m3-304h0m3-1038h0m6 1011h0m2 230h0m16-313h0m3-365h0m36-218h0m1 103h0m10 24h0m8-19h0m27-112h0m12 79h0m27 684h0m2-902h0m1 859h0m3 262h0m20-986h0m3 89h0m3 627h0m37-739h0m23 87h0m7 936h0m26-990h0m14 17h0m25 591h0m22 531h0m2-1142h0m16 831h0m14 32h0m11-984h0m2 321h0m1 89h0m7 748h0m12-93h0m20-1239h0m23 527h0m4 526h0m9-962h0m8 671h0m3-434h0m6 654h0m45-667h0m65 449h0m146-183h0"/><path id="b221" d="M492 1182h0m87-46h0m73-382h0m19 56h0m67 342h0m6 161h0m19-32h0m26-186h0m10-80h0m28 71h0m19 69h0m39 314h0m8-284h0m2-111h0m22-227h0m13 453h0m1-572h0m1 118h0m3 622h0m9 49h0m7-318h0m15-260h0m29 453h0m52-548h0m8 338h0m5 258h0m18-44h0m27-697h0m47-55h0m21 782h0m18 41h0m18 11h0m15-853h0m2 953h0m12-858h0m0 719h0m1-61h0m17-318h0m24 460h0m10-1046h0m0 897h0m68 281h0m18-237h0m23-841h0m29 984h0m11-157h0m31 201h0m0 206h0m2-238h0m2 97h0m14-408h0m7 443h0m15-1237h0m36 878h0m6-849h0m6 869h0m3-237h0m4-256h0m2 704h0m3-1064h0m14 1144h0m6-326h0m3-591h0m2-27h0m4 80h0m3-232h0m1 295h0m3 303h0m4-148h0m1-62h0m11 18h0m2 393h0m6-644h0m23-219h0m24 617h0m10-152h0m6 166h0m3 528h0m42-894h0"/><path id="b222" d="M673 1256h0m20-521h0m30 378h0m19 18h0m10 205h0m5-652h0m92 644h0m9-447h0m10 197h0m28 190h0m0 584h0m10-714h0m50-312h0m4 221h0m7-251h0m4 693h0m11-796h0m19 199h0m29-160h0m6-85h0m0 752h0m2-903h0m2 21h0m8 543h0m8 484h0m26-221h0m7-590h0m14 633h0m10 210h0m22-460h0m10-524h0m1 835h0m26-568h0m52-120h0m13 199h0m4-168h0m21 185h0m38-121h0m2-127h0m7 822h0m4-927h0m1 81h0m32 400h0m5 495h0m29-78h0m3-888h0m4 1285h0m20-333h0m5-176h0m2 85h0m6-183h0m3 256h0m12-414h0m33 194h0m8-165h0m14 935h0m11-1215h0m1 472h0m11 124h0m0-168h0m18 58h0m4 435h0m6-315h0m16-1042h0m9 651h0m11 131h0m3-312h0m2 690h0m6-608h0m19 86h0m10 43h0m3 339h0m0-378h0m35 453h0m6-106h0m6-391h0m37 0h0m2 29h0m70-455h0"/><path id="b223" d="M586 986h0m50 877h0m4-836h0m59 270h0m26-238h0m51 156h0m29-17h0m26-218h0m23 134h0m85 4h0m24-100h0m6 425h0m2-228h0m0-218h0m25 465h0m5-138h0m17-9h0m18 323h0m29-548h0m20 264h0m4 165h0m14-90h0m32-175h0m5 252h0m23-881h0m0 403h0m11-242h0m9-117h0m10 694h0m38 128h0m6-104h0m5 20h0m9-97h0m10 217h0m5 75h0m2-932h0m9 88h0m0 465h0m3-519h0m13-18h0m3 505h0m1 130h0m22-567h0m13-337h0m7 1169h0m10-212h0m19-872h0m11-97h0m23 976h0m2-763h0m18 884h0m1 52h0m6 64h0m9-290h0m8 216h0m3 270h0m4-572h0m6 115h0m3-634h0m25 752h0m1-843h0m9 80h0m3-277h0m27 177h0m9 268h0m10 817h0m13-1066h0m15 377h0m0-189h0m1-157h0m5 813h0m1-438h0m5 285h0m3-643h0m20 696h0m18-521h0m3-444h0m11 235h0m28 841h0"/><path id="b224" d="M520 1210h0m198-8h0m55-205h0m10-127h0m31 430h0m6 466h0m2-630h0m21-63h0m11-260h0m3 320h0m32 92h0m27-225h0m14 78h0m11 208h0m2-313h0m12 96h0m28-86h0m34 240h0m18-459h0m14 341h0m3 230h0m23 104h0m14-681h0m33 114h0m6-219h0m3 189h0m4 123h0m12 89h0m18-355h0m0 146h0m17 602h0m1-717h0m31 2h0m9 111h0m1-56h0m8 67h0m3 616h0m52-82h0m16 125h0m10-343h0m1 312h0m2-1030h0m13 371h0m7-504h0m4 221h0m11 426h0m1 522h0m12-918h0m31 974h0m1-845h0m6 410h0m2 108h0m1 94h0m9-770h0m4 833h0m12-35h0m9-106h0m9-919h0m37 1086h0m10-32h0m8-609h0m1-462h0m3 1634h0m21-1443h0m20 243h0m1 170h0m1 389h0m1-776h0m8 82h0m3 683h0m3 112h0m12-696h0m29-175h0m16 1069h0m19-345h0m10-717h0m14 319h0m47 27h0m52 187h0"/><path id="b225" d="M629 1108h0m37-18h0m50-135h0m32 125h0m13 97h0m35 103h0m77-345h0m4-186h0m8 150h0m6 561h0m49-350h0m9 19h0m11 263h0m38-794h0m2 395h0m10-63h0m9 204h0m25 111h0m3-200h0m4-820h0m28 1268h0m4-1055h0m27 867h0m4 81h0m1-746h0m14 637h0m30-78h0m8-137h0m2 746h0m14-744h0m5-522h0m1 346h0m19 581h0m7-780h0m5 22h0m12-63h0m2 744h0m7-816h0m8 656h0m16-197h0m0 145h0m1 38h0m3 68h0m14 158h0m1-237h0m3-364h0m22 731h0m26-122h0m25 420h0m22-1099h0m5 293h0m3-397h0m1 640h0m6-531h0m7 654h0m3-736h0m9 139h0m4 658h0m10-27h0m2-841h0m15-146h0m18 1366h0m42-1167h0m26 393h0m5-240h0m2-141h0m13 278h0m10 431h0m2-749h0m16 1182h0m1-912h0m26 391h0m2 613h0m14-682h0m13-329h0m13 558h0m7-342h0m7-208h0m12-496h0"/><path id="b226" d="M594 1244h0m218-245h0m3-202h0m42 398h0m22-434h0m19 395h0m4-396h0m35 777h0m10-435h0m33 151h0m66-220h0m2-130h0m3 243h0m19-45h0m3-248h0m5 204h0m9-162h0m3 151h0m3-170h0m30 576h0m7-695h0m5 259h0m19 476h0m3-153h0m5 12h0m11-71h0m10-195h0m27 134h0m1 167h0m15-21h0m13-664h0m3 589h0m17-303h0m5 38h0m16 441h0m1-467h0m6 165h0m1 116h0m18 49h0m15 118h0m21-747h0m1 435h0m19-79h0m24 82h0m2-26h0m7-66h0m46 259h0m1 69h0m8-662h0m12 710h0m7-869h0m11 299h0m13 717h0m2-196h0m1 49h0m2-606h0m0 14h0m11 66h0m8 537h0m25-1046h0m4 878h0m2 136h0m10-377h0m16-159h0m15 404h0m1-69h0m4-155h0m6-229h0m1 106h0m3 366h0m11 87h0m5 301h0m10-451h0m0-375h0m17-8h0m44 492h0m2-507h0m43-17h0m3 42h0"/><path id="b227" d="M465 824h0m152 118h0m5 292h0m10-5h0m20 7h0m54 51h0m12 88h0m16-711h0m19 116h0m9 142h0m109 617h0m18-428h0m16 117h0m0-415h0m35 131h0m7-51h0m25 279h0m12-33h0m19-347h0m29 242h0m2-23h0m0 136h0m1-239h0m10 19h0m6 634h0m11-716h0m20 320h0m23-179h0m20-180h0m2-30h0m7-289h0m1 720h0m14-581h0m2 809h0m7-159h0m5 254h0m4-377h0m7 155h0m2-373h0m3 8h0m1 673h0m4-414h0m5-300h0m6 212h0m2-35h0m16 346h0m80 75h0m3-458h0m9-274h0m2 586h0m3 206h0m46-118h0m9-44h0m6-378h0m6 134h0m7-535h0m9 733h0m28-631h0m6 715h0m8-693h0m8 429h0m9-531h0m12 591h0m15-730h0m11 790h0m1-1078h0m15 750h0m22-582h0m5 645h0m3 501h0m9-732h0m24-400h0m3 929h0m23 119h0m28 628h0m12-905h0m5-236h0m10 265h0m124 158h0"/><path id="b228" d="M471 1269h0m4-368h0m154 279h0m35 2h0m51-19h0m29 466h0m12-648h0m13 125h0m7-225h0m2 182h0m17 113h0m78-108h0m6-358h0m44 695h0m6-407h0m2 158h0m6 65h0m27 34h0m4-293h0m40 60h0m4-223h0m14 28h0m0 824h0m38-813h0m1-81h0m7 525h0m6-206h0m14-184h0m3 251h0m12-92h0m10-132h0m0 305h0m24 320h0m13-866h0m5 143h0m50 86h0m26 294h0m19-119h0m21 360h0m3-756h0m14-272h0m2 514h0m14-63h0m12 266h0m24-332h0m6-226h0m8 254h0m2 42h0m10-45h0m18 462h0m2-554h0m3-12h0m1 142h0m12 222h0m5 139h0m8-19h0m8 143h0m4-205h0m29 64h0m31-89h0m5-17h0m3-291h0m8 452h0m18 111h0m10 35h0m4-934h0m5-117h0m13 1230h0m9-1164h0m2 726h0m4-98h0m5 142h0m23-425h0m5-121h0m11 656h0m34-155h0m18-469h0m32 79h0m37-118h0"/><path id="b229" d="M592 1207h0m249-95h0m4-198h0m4 761h0m12-331h0m4-380h0m10 337h0m3 58h0m45-334h0m36 133h0m0-42h0m16-311h0m12 586h0m7-65h0m5-61h0m3-68h0m5-24h0m18-370h0m11 151h0m3 169h0m9 10h0m18-11h0m15 139h0m1-112h0m54 23h0m10-200h0m86-168h0m0-193h0m11 380h0m16-170h0m19 41h0m0 12h0m40 278h0m1-275h0m11-11h0m4-341h0m9 507h0m6-123h0m2-142h0m5 496h0m2 80h0m8-613h0m2 809h0m1-34h0m17-727h0m1 191h0m4 330h0m6-265h0m5-92h0m1 317h0m10-165h0m6-37h0m14 292h0m1-645h0m1 758h0m1-581h0m9-184h0m2 145h0m7 253h0m17-827h0m13 669h0m11 516h0m11 90h0m9-555h0m7-292h0m16 687h0m6-177h0m6-95h0m15 132h0m1-78h0m29 85h0m15-670h0m18 633h0m39 165h0m8-669h0m6 943h0m40-994h0m23 162h0m49 226h0"/><path id="b230" d="M535 902h0m137-250h0m171 188h0m5 165h0m4 338h0m49-311h0m48 304h0m7-694h0m2 701h0m4-383h0m42 259h0m1-243h0m2 97h0m39-188h0m1-198h0m2 30h0m29 501h0m14-62h0m6-199h0m10 226h0m19 116h0m5-98h0m15 63h0m24 64h0m2-205h0m24-279h0m3 1152h0m5-641h0m3-389h0m12 201h0m3 365h0m47-543h0m2 352h0m13-666h0m3 116h0m10 474h0m1 208h0m4-211h0m6-468h0m3 117h0m8 200h0m2 107h0m10-1210h0m6 1321h0m7-39h0m13-499h0m5 405h0m5-46h0m27-172h0m10 196h0m1-591h0m7 423h0m29 473h0m5-868h0m6 187h0m0 319h0m12-359h0m1 691h0m1-536h0m27-270h0m1 507h0m16 154h0m7-565h0m1 292h0m12 91h0m1-137h0m3 297h0m10-790h0m15 1389h0m4-1359h0m4 19h0m11 640h0m1-105h0m28-422h0m6 233h0m7 8h0m19-141h0m17 428h0m84-218h0"/><path id="b231" d="M702 950h0m62 149h0m19 244h0m16-441h0m25 323h0m47 104h0m8-206h0m9-99h0m5-85h0m13 417h0m2-142h0m73 62h0m14-328h0m6 575h0m38-768h0m10 565h0m22 8h0m0 153h0m6-375h0m9 84h0m21 101h0m18-179h0m3-121h0m17-60h0m4 157h0m2 236h0m0-25h0m7 24h0m27-303h0m3 171h0m20 45h0m4 79h0m9-332h0m1 297h0m40-27h0m2-389h0m20 291h0m22-28h0m1 280h0m1-437h0m23-358h0m4 568h0m2-219h0m10 60h0m4-342h0m8 175h0m5 255h0m5 227h0m0-288h0m13-145h0m0 894h0m3-333h0m1-635h0m25 59h0m16-445h0m8 731h0m16-198h0m11-374h0m9 227h0m1 587h0m5-528h0m9 290h0m18 138h0m18-433h0m27 542h0m1 147h0m4-191h0m13 118h0m15-960h0m2 405h0m16 616h0m11-360h0m9-136h0m14 322h0m0-539h0m12 229h0m20 709h0m25-712h0m15 263h0"/><path id="b232" d="M722 1157h0m111-111h0m13 165h0m17 110h0m54 56h0m4-198h0m21-91h0m3 166h0m17 46h0m0-179h0m17-62h0m5 238h0m10-171h0m18-37h0m8 92h0m1-239h0m34 305h0m0-33h0m16 94h0m9-298h0m7-231h0m6 60h0m15 457h0m19-735h0m38 227h0m2-302h0m8 461h0m9 287h0m28 34h0m10 195h0m6-460h0m10 1h0m15 330h0m9-456h0m15 148h0m2-194h0m2 270h0m0-202h0m7 445h0m14 6h0m12-51h0m3-293h0m9 528h0m5-14h0m1-103h0m15-208h0m10 392h0m12-1047h0m1 311h0m5 241h0m13-122h0m19 313h0m11-42h0m7-109h0m20-798h0m1 1164h0m3-514h0m2-502h0m3 441h0m6 761h0m3-825h0m15 242h0m8-305h0m1 410h0m3-238h0m22 235h0m1-456h0m11 507h0m5-603h0m6-388h0m2 728h0m39-277h0m11 792h0m6-726h0m1-189h0m2 1021h0m30-871h0m59-2h0m48 669h0"/><path id="b233" d="M676 1106h0m42-369h0m102 608h0m146-190h0m28-69h0m19 482h0m55 5h0m7-121h0m1-710h0m4 258h0m3-65h0m35 162h0m10-183h0m3 467h0m19 137h0m6-969h0m1 350h0m14 90h0m18-30h0m3 176h0m13 173h0m9-161h0m3-278h0m0 58h0m3 476h0m1-352h0m14-36h0m0 165h0m4 171h0m6-236h0m15 151h0m0-324h0m27 189h0m10-40h0m1-121h0m4 79h0m9 180h0m13 3h0m8-157h0m1-163h0m16 245h0m8 172h0m3 272h0m5-600h0m0-66h0m8 435h0m16-715h0m8 1078h0m10-912h0m15 98h0m7-18h0m2-107h0m30 281h0m0 325h0m2 4h0m6-216h0m11-713h0m3 504h0m10 209h0m3-598h0m16 588h0m5-599h0m3 220h0m4 335h0m1 299h0m2-1060h0m4 621h0m2-61h0m2-30h0m4-267h0m3 116h0m3 8h0m14 25h0m2 293h0m21-624h0m3 389h0m9 309h0m13 272h0m15-153h0"/><path id="b234" d="M575 1187h0m117-190h0m43 247h0m70-135h0m6-69h0m42 291h0m15-297h0m15 83h0m8-276h0m28 226h0m40 410h0m10-410h0m23 250h0m0 257h0m50-300h0m1-71h0m2 33h0m2-35h0m27-3h0m14-398h0m35 348h0m36-195h0m2 299h0m8-139h0m2-270h0m13 332h0m5 84h0m2-231h0m5-70h0m0-142h0m5-9h0m4 743h0m8-183h0m3 25h0m8 729h0m10-971h0m6 30h0m1 62h0m3-5h0m2-342h0m8-255h0m4 266h0m18 36h0m5 658h0m18-958h0m19 422h0m3-453h0m0 312h0m2 59h0m12 539h0m4-291h0m2 41h0m4-30h0m2-501h0m16 258h0m7 177h0m50-259h0m3 76h0m4-234h0m29 287h0m3 237h0m10-604h0m5 519h0m0 528h0m10-721h0m5 517h0m4-277h0m5-190h0m23-165h0m12-614h0m5 960h0m8-340h0m0 55h0m19-379h0m26 516h0m7-107h0m70-415h0m24 818h0m296-329h0"/><path id="b235" d="M166 1139h0m161 115h0m90-770h0m250-233h0m28 1028h0m19-1129h0m82 899h0m10 127h0m61 41h0m12-214h0m38 258h0m70 117h0m32-345h0m1 251h0m1-287h0m30-13h0m6 328h0m7-337h0m45 258h0m11-160h0m5-88h0m70 14h0m12 4h0m13 72h0m9-14h0m5 35h0m8 64h0m10-45h0m4 18h0m7-248h0m7-108h0m20 351h0m12-46h0m38 326h0m19 55h0m2 76h0m18-146h0m5-150h0m6-12h0m27-265h0m13-190h0m18 264h0m1-20h0m9-115h0m12-128h0m4 448h0m13 398h0m2-601h0m6-459h0m8 511h0m2 113h0m4-107h0m20 84h0m89 323h0m63-470h0m9-81h0m10 17h0m25 56h0m5-52h0m38-18h0m171-552h0m18 311h0m17 340h0m18-136h0m18-329h0"/></defs>
<use href="#b20" class="e"/><use href="#b20" class="f"/><use href="#b21" class="e"/><use href="#b21" class="f"/><use href="#b22" class="e"/><use href="#b22" class="f"/><use href="#b23" class="e"/><use href="#b23" class="f"/><use href="#b24" class="e"/><use href="#b24" class="f"/><use href="#b25" class="e"/><use href="#b25" class="f"/><use href="#b26" class="e"/><use href="#b26" class="f"/><use href="#b27" class="e"/><use href="#b27" class="f"/><use href="#b28" class="e"/><use href="#b28" class="f"/><use href="#b29" class="e"/><use href="#b29" class="f"/><use href="#b210" class="e"/><use href="#b210" class="f"/><use href="#b211" class="e"/><use href="#b211" class="f"/><use href="#b212" class="e"/><use href="#b212" class="f"/><use href="#b213" class="e"/><use href="#b213" class="f"/><use href="#b214" class="e"/><use href="#b214" class="f"/><use href="#b215" class="e"/><use href="#b215" class="f"/><use href="#b216" class="e"/><use href="#b216" class="f"/><use href="#b217" class="e"/><use href="#b217" class="f"/><use href="#b218" class="e"/><use href="#b218" class="f"/><use href="#b219" class="e"/><use href="#b219" class="f"/><use href="#b220" class="e"/><use href="#b220" class="f"/><use href="#b221" class="e"/><use href="#b221" class="f"/><use href="#b222" class="e"/><use href="#b222" class="f"/><use href="#b223" class="e"/><use href="#b223" class="f"/><use href="#b224" class="e"/><use href="#b224" class="f"/><use href="#b225" class="e"/><use href="#b225" class="f"/><use href="#b226" class="e"/><use href="#b226" class="f"/><use href="#b227" class="e"/><use href="#b227" class="f"/><use href="#b228" class="e"/><use href="#b228" class="f"/><use href="#b229" class="e"/><use href="#b229" class="f"/><use href="#b230" class="e"/><use href="#b230" class="f"/><use href="#b231" class="e"/><use href="#b231" class="f"/><use href="#b232" class="e"/><use href="#b232" class="f"/><use href="#b233" class="e"/><use href="#b233" class="f"/><use href="#b234" class="e"/><use href="#b234" class="f"/><use href="#b235" class="e"/><use href="#b235" class="f"/>
</g>
<polyline class="cy" points="306.9,429.6 307.7,429.6 308.5,429.6 309.3,429.6 310.1,429.6 310.9,429.6 311.7,429.6 312.5,429.6 313.3,429.5 314.1,429.5 314.9,429.5 315.8,429.5 316.6,429.5 317.4,429.5 318.2,429.5 319,429.5 319.8,429.5 320.6,429.5 321.4,429.5 322.2,429.5 323,429.5 323.8,429.5 324.6,429.5 325.4,429.4 326.2,429.4 327,429.4 327.8,429.4 328.6,429.4 329.4,429.4 330.3,429.4 331.1,429.4 331.9,429.4 332.7,429.4 333.5,429.4 334.3,429.4 335.1,429.4 335.9,429.4 336.7,429.3 337.5,429.3 338.3,429.3 339.1,429.3 339.9,429.3 340.7,429.3 341.5,429.3 342.3,429.3 343.1,429.3 343.9,429.3 344.8,429.3 345.6,429.3 346.4,429.3 347.2,429.3 348,429.3 348.8,429.2 349.6,429.2 350.4,429.2 351.2,429.2 352,429.1 352.8,429 353.6,428.9 354.4,428.7 355.2,428.6 356,428.4 356.8,428.3 357.6,428.2 358.4,428 359.3,427.9 360.1,427.7 360.9,427.6 361.7,427.5 362.5,427.3 363.3,427.1 364.1,427 364.9,426.8 365.7,426.7 366.5,426.8 367.3,427 368.1,427.2 368.9,427.4 369.7,427.5 370.5,427.6 371.3,427.7 372.1,427.8 372.9,427.8 373.8,428 374.6,428.2 375.4,428.6 376.2,429 377,429.1 377.8,428.6 378.6,427.7 379.4,426.6 380.2,425.6 381,425.1 381.8,425.1 382.6,425.3 383.4,425.2 384.2,424.8 385,424 385.8,423.3 386.6,423 387.4,423.3 388.3,423.7 389.1,423.9 389.9,423.5 390.7,422.7 391.5,421.6 392.3,420.7 393.1,419.9 393.9,419 394.7,418.2 395.5,417.7 396.3,417.7 397.1,418.6 397.9,419.9 398.7,420.8 399.5,420.5 400.3,418.5 401.1,415.6 401.9,412.9 402.8,411.8 403.6,412.7 404.4,415 405.2,417.3 406,418.4 406.8,418.1 407.6,417.2 408.4,416.4 409.2,416.1 410,416 410.8,416 411.6,415.7 412.4,415.2 413.2,415.1 414,415.6 414.8,416.3 415.6,416.2 416.4,415 417.3,412.9 418.1,410.9 418.9,410 419.7,410.2 420.5,410.6 421.3,409.7 422.1,406.7 422.9,402.2 423.7,398.1 424.5,396.1 425.3,397.1 426.1,400.2 426.9,403.7 427.7,405.7 428.5,405.5 429.3,403.6 430.1,401.2 430.9,399.3 431.8,398.2 432.6,397.5 433.4,397.1 434.2,397.1 435,397.9 435.8,399.5 436.6,401.3 437.4,401.9 438.2,400.4 439,397.1 439.8,393.3 440.6,390.8 441.4,390.3 442.2,391.3 443,392.3 443.8,391.6 444.6,389 445.4,385.7 446.3,383.2 447.1,382.5 447.9,383.6 448.7,385.4 449.5,386.2 450.3,385.3 451.1,382.8 451.9,380 452.7,378 453.5,377.1 454.3,376.9 455.1,377.2 455.9,378.2 456.7,380 457.5,382.2 458.3,383.9 459.1,384.5 459.9,383.6 460.8,382.1 461.6,381.1 462.4,381.4 463.2,383.1 464,385.6 464.8,388.1 465.6,390 466.4,391.3 467.2,392.3 468,393.1 468.8,394.1 469.6,395.1 470.4,396 471.2,396.8 472,397.4 472.8,397.6 473.6,397.8 474.4,398 475.3,398.1 476.1,398.3 476.9,398.4 477.7,398.5 478.5,398.5 479.3,398.5 480.1,398.5 480.9,398.5 481.7,398.5 482.5,398.5 483.3,398.5 484.1,398.5 484.9,398.5 485.7,398.5 486.5,398.5 487.3,398.5 488.1,398.5 488.9,398.5 489.8,398.5 490.6,398.5 491.4,398.5"/>
<polyline class="cy" points="306.9,450 307.7,450 308.5,450 309.3,450 310.1,450 310.9,449.9 311.7,449.9 312.5,449.9 313.3,449.9 314.1,449.9 314.9,449.9 315.8,449.9 316.6,449.9 317.4,449.8 318.2,449.8 319,449.8 319.8,449.8 320.6,449.8 321.4,449.8 322.2,449.8 323,449.8 323.8,449.7 324.6,449.7 325.4,449.7 326.2,449.7 327,449.7 327.8,449.7 328.6,449.7 329.4,449.6 330.3,449.6 331.1,449.6 331.9,449.6 332.7,449.6 333.5,449.6 334.3,449.6 335.1,449.6 335.9,449.5 336.7,449.5 337.5,449.5 338.3,449.5 339.1,449.5 339.9,449.5 340.7,449.5 341.5,449.5 342.3,449.4 343.1,449.4 343.9,449.4 344.8,449.4 345.6,449.4 346.4,449.4 347.2,449.4 348,449.4 348.8,449.3 349.6,449.3 350.4,449.3 351.2,449.3 352,449.2 352.8,449.1 353.6,449 354.4,448.9 355.2,448.8 356,448.7 356.8,448.6 357.6,448.5 358.4,448.4 359.3,448.3 360.1,448.2 360.9,448.1 361.7,448 362.5,447.9 363.3,447.8 364.1,447.7 364.9,447.6 365.7,447.5 366.5,447.6 367.3,447.7 368.1,447.8 368.9,447.9 369.7,448 370.5,448 371.3,448.1 372.1,448.1 372.9,448.1 373.8,448.2 374.6,448.3 375.4,448.6 376.2,448.8 377,448.8 377.8,448.5 378.6,447.9 379.4,447.2 380.2,446.5 381,446.1 381.8,446.1 382.6,446.2 383.4,446.1 384.2,445.8 385,445.3 385.8,444.8 386.6,444.6 387.4,444.7 388.3,444.9 389.1,445.1 389.9,444.9 390.7,444.4 391.5,443.7 392.3,443.1 393.1,442.5 393.9,441.9 394.7,441.4 395.5,441 396.3,441 397.1,441.6 397.9,442.4 398.7,442.8 399.5,442.4 400.3,440.8 401.1,438.6 401.9,436.5 402.8,435.4 403.6,435.6 404.4,436.8 405.2,438.1 406,438.7 406.8,438.4 407.6,437.6 408.4,437 409.2,436.9 410,437.3 410.8,437.8 411.6,438.2 412.4,438.4 413.2,438.6 414,439 414.8,439.3 415.6,439.2 416.4,438.3 417.3,436.9 418.1,435.6 418.9,435.1 419.7,435.2 420.5,435.6 421.3,435.1 422.1,433.2 422.9,430.4 423.7,427.7 424.5,426.4 425.3,427 426.1,429 426.9,431.3 427.7,432.6 428.5,432.4 429.3,431 430.1,429.2 430.9,427.7 431.8,426.6 432.6,425.9 433.4,425.3 434.2,425 435,425 435.8,425.5 436.6,426.1 437.4,426 438.2,424.9 439,422.6 439.8,420.2 440.6,418.4 441.4,418 442.2,418.6 443,419.2 443.8,418.8 444.6,417.3 445.4,415.2 446.3,413.7 447.1,413.5 447.9,414.4 448.7,415.8 449.5,416.7 450.3,416.3 451.1,414.6 451.9,412.6 452.7,410.9 453.5,409.8 454.3,409.3 455.1,409.2 455.9,409.9 456.7,411.3 457.5,413.1 458.3,414.6 459.1,415.2 459.9,414.9 460.8,414 461.6,413 462.4,412.8 463.2,413.7 464,415.2 464.8,416.9 465.6,418.3 466.4,419.4 467.2,420.4 468,421.4 468.8,422.5 469.6,423.3 470.4,423.9 471.2,424.1 472,424.3 472.8,424.5 473.6,424.6 474.4,424.8 475.3,424.9 476.1,425.1 476.9,425.2 477.7,425.3 478.5,425.3 479.3,425.3 480.1,425.3 480.9,425.3 481.7,425.3 482.5,425.3 483.3,425.3 484.1,425.3 484.9,425.3 485.7,425.3 486.5,425.3 487.3,425.3 488.1,425.3 488.9,425.3 489.8,425.3 490.6,425.3 491.4,425.3"/>
<polyline class="cy" points="306.9,470 307.7,470 308.5,470 309.3,470 310.1,470 310.9,470 311.7,470 312.5,470 313.3,470 314.1,470 314.9,470 315.8,470 316.6,470 317.4,470 318.2,470 319,470 319.8,470 320.6,470 321.4,470 322.2,470 323,470 323.8,470 324.6,470 325.4,470 326.2,470 327,470 327.8,470 328.6,470 329.4,470 330.3,470 331.1,470 331.9,470 332.7,470 333.5,470 334.3,470 335.1,470 335.9,470 336.7,470 337.5,470 338.3,470 339.1,470 339.9,470 340.7,470 341.5,470 342.3,470 343.1,470 343.9,470 344.8,470 345.6,470 346.4,470 347.2,470 348,470 348.8,470 349.6,470 350.4,470 351.2,470 352,470 352.8,470 353.6,470 354.4,470 355.2,469.9 356,469.9 356.8,469.9 357.6,469.9 358.4,469.9 359.3,469.9 360.1,469.8 360.9,469.8 361.7,469.8 362.5,469.8 363.3,469.8 364.1,469.7 364.9,469.7 365.7,469.7 366.5,469.7 367.3,469.8 368.1,469.8 368.9,469.9 369.7,469.9 370.5,470 371.3,470 372.1,470 372.9,470 373.8,470 374.6,470 375.4,470.1 376.2,470.2 377,470.3 377.8,470.1 378.6,469.8 379.4,469.4 380.2,469.1 381,468.8 381.8,468.8 382.6,468.8 383.4,468.7 384.2,468.6 385,468.3 385.8,468 386.6,467.8 387.4,467.8 388.3,467.8 389.1,467.9 389.9,467.8 390.7,467.6 391.5,467.3 392.3,466.9 393.1,466.5 393.9,466.2 394.7,465.8 395.5,465.5 396.3,465.5 397.1,465.7 397.9,466.1 398.7,466.5 399.5,466.5 400.3,465.9 401.1,465 401.9,464.1 402.8,463.6 403.6,463.6 404.4,464 405.2,464.6 406,464.9 406.8,464.8 407.6,464.3 408.4,463.9 409.2,463.5 410,463.3 410.8,463.3 411.6,463.2 412.4,463.1 413.2,463.1 414,463.1 414.8,463.1 415.6,462.9 416.4,462.4 417.3,461.7 418.1,461 418.9,460.6 419.7,460.7 420.5,460.9 421.3,460.7 422.1,459.8 422.9,458.5 423.7,457 424.5,456.1 425.3,456.1 426.1,456.8 426.9,457.8 427.7,458.5 428.5,458.6 429.3,458 430.1,457.1 430.9,456.2 431.8,455.4 432.6,454.9 433.4,454.6 434.2,454.4 435,454.4 435.8,454.6 436.6,454.9 437.4,454.9 438.2,454.3 439,453.2 439.8,451.9 440.6,451 441.4,450.6 442.2,450.7 443,450.8 443.8,450.6 444.6,449.7 445.4,448.5 446.3,447.3 447.1,446.6 447.9,446.5 448.7,446.8 449.5,447 450.3,446.9 451.1,446.3 451.9,445.6 452.7,444.9 453.5,444.4 454.3,444.2 455.1,444.2 455.9,444.6 456.7,445.3 457.5,446.2 458.3,446.9 459.1,447.2 459.9,447.1 460.8,446.6 461.6,446.1 462.4,445.8 463.2,446.1 464,446.7 464.8,447.4 465.6,447.9 466.4,448.4 467.2,448.7 468,449.1 468.8,449.5 469.6,449.8 470.4,450.1 471.2,450.3 472,450.4 472.8,450.6 473.6,450.8 474.4,450.9 475.3,451.1 476.1,451.2 476.9,451.4 477.7,451.6 478.5,451.7 479.3,451.9 480.1,452 480.9,452.1 481.7,452.1 482.5,452.1 483.3,452.1 484.1,452.1 484.9,452.1 485.7,452.1 486.5,452.1 487.3,452.1 488.1,452.1 488.9,452.1 489.8,452.1 490.6,452.1 491.4,452.1"/>
<polyline class="cy" points="306.9,510.9 307.7,510.9 308.5,510.9 309.3,510.9 310.1,510.9 310.9,510.9 311.7,510.9 312.5,510.9 313.3,510.9 314.1,510.9 314.9,510.9 315.8,510.9 316.6,510.9 317.4,510.9 318.2,510.9 319,510.9 319.8,510.9 320.6,510.9 321.4,510.9 322.2,510.9 323,510.9 323.8,510.9 324.6,510.9 325.4,510.9 326.2,510.9 327,510.9 327.8,510.9 328.6,510.9 329.4,510.9 330.3,510.9 331.1,510.9 331.9,510.9 332.7,510.9 333.5,510.9 334.3,510.9 335.1,510.9 335.9,510.9 336.7,510.9 337.5,510.9 338.3,510.9 339.1,510.9 339.9,510.9 340.7,510.9 341.5,510.9 342.3,510.9 343.1,510.9 343.9,510.9 344.8,510.9 345.6,510.9 346.4,510.9 347.2,510.9 348,510.9 348.8,510.9 349.6,510.9 350.4,510.9 351.2,510.9 352,510.9 352.8,510.9 353.6,511 354.4,511 355.2,511 356,511.1 356.8,511.1 357.6,511.1 358.4,511.2 359.3,511.2 360.1,511.2 360.9,511.3 361.7,511.3 362.5,511.3 363.3,511.4 364.1,511.4 364.9,511.4 365.7,511.4 366.5,511.5 367.3,511.5 368.1,511.6 368.9,511.6 369.7,511.5 370.5,511.4 371.3,511.3 372.1,511.3 372.9,511.4 373.8,511.4 374.6,511.4 375.4,511.2 376.2,511 377,510.8 377.8,510.6 378.6,510.6 379.4,510.7 380.2,510.7 381,510.6 381.8,510.5 382.6,510.5 383.4,510.6 384.2,510.7 385,510.8 385.8,510.6 386.6,510.3 387.4,510.1 388.3,510 389.1,510.1 389.9,510.2 390.7,510.1 391.5,509.7 392.3,509.2 393.1,508.9 393.9,508.9 394.7,509.4 395.5,509.9 396.3,510.1 397.1,509.8 397.9,509.3 398.7,508.7 399.5,508.5 400.3,508.7 401.1,509 401.9,509.3 402.8,509.3 403.6,509.2 404.4,509.2 405.2,509.4 406,509.6 406.8,509.7 407.6,509.3 408.4,508.6 409.2,508.1 410,508.2 410.8,509.1 411.6,510.2 412.4,511 413.2,510.9 414,510.2 414.8,509.2 415.6,508.8 416.4,509.1 417.3,509.8 418.1,510.2 418.9,509.9 419.7,509.1 420.5,508.4 421.3,508.3 422.1,508.9 422.9,509.8 423.7,510.6 424.5,510.9 425.3,510.9 426.1,510.9 426.9,511.3 427.7,511.7 428.5,512 429.3,511.6 430.1,510.7 430.9,509.8 431.8,509.5 432.6,510 433.4,511 434.2,511.8 435,511.8 435.8,510.8 436.6,509.5 437.4,508.6 438.2,508.6 439,509.2 439.8,510 440.6,510.3 441.4,510.1 442.2,509.6 443,509.5 443.8,509.9 444.6,510.5 445.4,510.8 446.3,510.7 447.1,510.2 447.9,509.9 448.7,510.1 449.5,510.9 450.3,511.8 451.1,512.3 451.9,512.1 452.7,511.5 453.5,511.1 454.3,511.5 455.1,512.4 455.9,513.3 456.7,513.2 457.5,512.2 458.3,510.9 459.1,509.9 459.9,509.4 460.8,509.5 461.6,509.7 462.4,509.6 463.2,509.4 464,509.1 464.8,508.8 465.6,508.6 466.4,508.4 467.2,508.1 468,507.9 468.8,507.6 469.6,507.4 470.4,507.2 471.2,507 472,506.7 472.8,506.5 473.6,506.3 474.4,506.1 475.3,505.9 476.1,505.8 476.9,505.8 477.7,505.8 478.5,505.8 479.3,505.8 480.1,505.7 480.9,505.7 481.7,505.7 482.5,505.7 483.3,505.7 484.1,505.6 484.9,505.6 485.7,505.6 486.5,505.6 487.3,505.6 488.1,505.5 488.9,505.5 489.8,505.5 490.6,505.5 491.4,505.5"/>
<polyline class="cy" points="306.9,531.6 307.7,531.6 308.5,531.6 309.3,531.6 310.1,531.6 310.9,531.6 311.7,531.6 312.5,531.6 313.3,531.6 314.1,531.6 314.9,531.6 315.8,531.6 316.6,531.6 317.4,531.6 318.2,531.6 319,531.6 319.8,531.6 320.6,531.6 321.4,531.6 322.2,531.6 323,531.6 323.8,531.6 324.6,531.6 325.4,531.6 326.2,531.6 327,531.6 327.8,531.6 328.6,531.6 329.4,531.6 330.3,531.6 331.1,531.6 331.9,531.6 332.7,531.6 333.5,531.6 334.3,531.6 335.1,531.6 335.9,531.6 336.7,531.6 337.5,531.6 338.3,531.6 339.1,531.6 339.9,531.6 340.7,531.6 341.5,531.6 342.3,531.6 343.1,531.6 343.9,531.6 344.8,531.6 345.6,531.6 346.4,531.6 347.2,531.6 348,531.6 348.8,531.6 349.6,531.6 350.4,531.6 351.2,531.6 352,531.7 352.8,531.7 353.6,531.7 354.4,531.8 355.2,531.8 356,531.8 356.8,531.9 357.6,531.9 358.4,532 359.3,532 360.1,532 360.9,532.1 361.7,532.1 362.5,532.2 363.3,532.2 364.1,532.2 364.9,532.3 365.7,532.3 366.5,532.4 367.3,532.5 368.1,532.6 368.9,532.7 369.7,532.6 370.5,532.6 371.3,532.6 372.1,532.8 372.9,533.2 373.8,533.5 374.6,533.6 375.4,533.5 376.2,533.3 377,533 377.8,532.8 378.6,532.8 379.4,532.9 380.2,532.9 381,532.8 381.8,532.8 382.6,532.8 383.4,533.1 384.2,533.3 385,533.4 385.8,533.2 386.6,532.8 387.4,532.5 388.3,532.5 389.1,532.8 389.9,533.1 390.7,532.9 391.5,532.2 392.3,531.3 393.1,530.9 393.9,531.3 394.7,532.4 395.5,533.7 396.3,534.3 397.1,534 397.9,532.9 398.7,531.8 399.5,531.2 400.3,531.3 401.1,531.8 401.9,532.3 402.8,532.3 403.6,532.1 404.4,532 405.2,532.2 406,532.7 406.8,532.7 407.6,532.1 408.4,531.2 409.2,530.8 410,531.6 410.8,533.8 411.6,536.3 412.4,537.9 413.2,537.8 414,536.2 414.8,534.5 415.6,533.7 416.4,534.2 417.3,535.3 418.1,535.7 418.9,534.9 419.7,533.1 420.5,531.3 421.3,530.6 422.1,531.3 422.9,532.9 423.7,534.6 424.5,536 425.3,537 426.1,537.9 426.9,539.2 427.7,540.3 428.5,540.8 429.3,540.1 430.1,538.6 430.9,537.3 431.8,537.3 432.6,538.9 433.4,541.3 434.2,543 435,543.1 435.8,541.4 436.6,539 437.4,537.3 438.2,537 439,537.8 439.8,538.9 440.6,539.4 441.4,538.9 442.2,538.1 443,537.8 443.8,538.6 444.6,539.8 445.4,540.6 446.3,540.6 447.1,540.1 447.9,540 448.7,540.7 449.5,542.1 450.3,543.4 451.1,543.5 451.9,542.6 452.7,541.4 453.5,541.1 454.3,542.2 455.1,544.4 455.9,546.2 456.7,546.2 457.5,544.2 458.3,541.4 459.1,539.3 459.9,538.2 460.8,538.2 461.6,538.4 462.4,538.5 463.2,538.1 464,537.5 464.8,536.9 465.6,536.4 466.4,536 467.2,535.7 468,535.4 468.8,535.1 469.6,534.8 470.4,534.6 471.2,534.3 472,534.1 472.8,533.8 473.6,533.5 474.4,533.3 475.3,533.1 476.1,533 476.9,533 477.7,533 478.5,533 479.3,533 480.1,532.9 480.9,532.9 481.7,532.9 482.5,532.9 483.3,532.9 484.1,532.9 484.9,532.8 485.7,532.8 486.5,532.8 487.3,532.8 488.1,532.8 488.9,532.8 489.8,532.7 490.6,532.7 491.4,532.7"/>
<polyline class="cy" points="306.9,552 307.7,552 308.5,552 309.3,552 310.1,552 310.9,552 311.7,552 312.5,552 313.3,552 314.1,552 314.9,552 315.8,552 316.6,552 317.4,552 318.2,552 319,552 319.8,552 320.6,552 321.4,552 322.2,552 323,552 323.8,552 324.6,552 325.4,552 326.2,552 327,552 327.8,552 328.6,552 329.4,552 330.3,552 331.1,552 331.9,552 332.7,552 333.5,552 334.3,552 335.1,552 335.9,552 336.7,552 337.5,552 338.3,552 339.1,552 339.9,552 340.7,552 341.5,552 342.3,552 343.1,552 343.9,552 344.8,552 345.6,552 346.4,552 347.2,552 348,552 348.8,552 349.6,552 350.4,552 351.2,552 352,552 352.8,552 353.6,551.9 354.4,551.9 355.2,551.8 356,551.8 356.8,551.8 357.6,551.7 358.4,551.7 359.3,551.6 360.1,551.6 360.9,551.6 361.7,551.5 362.5,551.5 363.3,551.4 364.1,551.4 364.9,551.4 365.7,551.4 366.5,551.5 367.3,551.6 368.1,551.8 368.9,551.8 369.7,551.8 370.5,551.7 371.3,551.8 372.1,552.2 372.9,552.7 373.8,553.2 374.6,553.4 375.4,553.3 376.2,552.9 377,552.6 377.8,552.6 378.6,552.9 379.4,553.3 380.2,553.6 381,553.9 381.8,554.1 382.6,554.5 383.4,555.2 384.2,555.8 385,556.3 385.8,556.3 386.6,556 387.4,555.8 388.3,555.9 389.1,556.1 389.9,556.1 390.7,555.5 391.5,554.2 392.3,552.7 393.1,551.9 393.9,552.3 394.7,553.8 395.5,555.4 396.3,556.2 397.1,555.5 397.9,553.8 398.7,551.9 399.5,550.9 400.3,550.9 401.1,551.7 401.9,552.3 402.8,552.6 403.6,553 404.4,553.9 405.2,555.4 406,556.6 406.8,557 407.6,556.3 408.4,555 409.2,554.1 410,554.7 410.8,556.9 411.6,559.6 412.4,561.2 413.2,560.5 414,558 414.8,555.3 415.6,554.2 416.4,555.4 417.3,557.7 418.1,559.2 418.9,558.9 419.7,557.1 420.5,555.4 421.3,555.1 422.1,556.9 422.9,559.9 423.7,562.7 424.5,564.7 425.3,565.9 426.1,567.1 426.9,568.4 427.7,569.6 428.5,569.5 429.3,567.9 430.1,565.2 430.9,563.2 431.8,563.4 432.6,566.1 433.4,569.8 434.2,572.2 435,571.7 435.8,568.3 436.6,563.9 437.4,560.7 438.2,559.9 439,561.1 439.8,562.8 440.6,563.9 441.4,564.4 442.2,564.8 443,566.1 443.8,568.2 444.6,570.5 445.4,572.3 446.3,572.9 447.1,572.8 447.9,573 448.7,573.8 449.5,575 450.3,575.9 451.1,575.6 451.9,574 452.7,572.2 453.5,571.9 454.3,573.9 455.1,577.7 455.9,581.6 456.7,583.2 457.5,582 458.3,579.6 459.1,577.4 459.9,576.2 460.8,575.9 461.6,576 462.4,575.8 463.2,575.1 464,573.9 464.8,572.5 465.6,570.8 466.4,569 467.2,567.1 468,565.2 468.8,563.4 469.6,561.9 470.4,561 471.2,560.6 472,560.4 472.8,560.2 473.6,560 474.4,559.8 475.3,559.6 476.1,559.4 476.9,559.3 477.7,559.2 478.5,559.2 479.3,559.2 480.1,559.2 480.9,559.2 481.7,559.2 482.5,559.2 483.3,559.2 484.1,559.2 484.9,559.2 485.7,559.2 486.5,559.2 487.3,559.2 488.1,559.2 488.9,559.2 489.8,559.2 490.6,559.2 491.4,559.2"/>
<polyline class="bk" points="306.9,490.4 307.7,490.4 308.5,490.4 309.3,490.4 310.1,490.4 310.9,490.4 311.7,490.4 312.5,490.4 313.3,490.4 314.1,490.4 314.9,490.4 315.8,490.4 316.6,490.4 317.4,490.4 318.2,490.4 319,490.4 319.8,490.4 320.6,490.4 321.4,490.4 322.2,490.4 323,490.4 323.8,490.4 324.6,490.4 325.4,490.4 326.2,490.4 327,490.4 327.8,490.4 328.6,490.4 329.4,490.4 330.3,490.4 331.1,490.4 331.9,490.4 332.7,490.4 333.5,490.4 334.3,490.4 335.1,490.4 335.9,490.4 336.7,490.4 337.5,490.4 338.3,490.4 339.1,490.4 339.9,490.4 340.7,490.4 341.5,490.4 342.3,490.4 343.1,490.4 343.9,490.4 344.8,490.4 345.6,490.4 346.4,490.4 347.2,490.4 348,490.4 348.8,490.4 349.6,490.4 350.4,490.4 351.2,490.4 352,490.4 352.8,490.5 353.6,490.5 354.4,490.5 355.2,490.5 356,490.5 356.8,490.5 357.6,490.5 358.4,490.6 359.3,490.6 360.1,490.6 360.9,490.6 361.7,490.6 362.5,490.6 363.3,490.6 364.1,490.7 364.9,490.7 365.7,490.7 366.5,490.7 367.3,490.7 368.1,490.7 368.9,490.8 369.7,490.8 370.5,490.8 371.3,490.8 372.1,490.8 372.9,490.8 373.8,490.7 374.6,490.6 375.4,490.5 376.2,490.4 377,490.4 377.8,490.3 378.6,490.3 379.4,490.3 380.2,490.2 381,490.1 381.8,489.9 382.6,489.8 383.4,489.8 384.2,489.8 385,489.7 385.8,489.6 386.6,489.4 387.4,489.1 388.3,489 389.1,488.9 389.9,489.1 390.7,489.2 391.5,489.3 392.3,489.2 393.1,489.1 393.9,488.9 394.7,488.7 395.5,488.6 396.3,488.5 397.1,488.4 397.9,488.3 398.7,488.3 399.5,488.3 400.3,488.4 401.1,488.4 401.9,488.2 402.8,487.8 403.6,487.3 404.4,486.9 405.2,486.9 406,487.1 406.8,487.4 407.6,487.5 408.4,487.4 409.2,487.2 410,486.9 410.8,486.8 411.6,486.8 412.4,486.9 413.2,486.9 414,486.7 414.8,486.3 415.6,486 416.4,485.7 417.3,485.6 418.1,485.6 418.9,485.5 419.7,485.5 420.5,485.5 421.3,485.6 422.1,485.9 422.9,486 423.7,485.8 424.5,485.2 425.3,484.5 426.1,483.8 426.9,483.6 427.7,483.8 428.5,484.2 429.3,484.6 430.1,484.6 430.9,484.3 431.8,483.9 432.6,483.5 433.4,483.4 434.2,483.4 435,483.5 435.8,483.5 436.6,483.5 437.4,483.4 438.2,483.4 439,483.4 439.8,483.2 440.6,482.8 441.4,482.2 442.2,481.6 443,481.2 443.8,481 444.6,480.9 445.4,480.7 446.3,480.3 447.1,479.7 447.9,479 448.7,478.7 449.5,478.9 450.3,479.3 451.1,479.6 451.9,479.7 452.7,479.3 453.5,478.7 454.3,478 455.1,477.6 455.9,477.5 456.7,477.6 457.5,477.8 458.3,478 459.1,478.3 459.9,478.5 460.8,478.7 461.6,478.9 462.4,478.9 463.2,478.8 464,478.7 464.8,478.8 465.6,478.9 466.4,479 467.2,479 468,478.9 468.8,478.9 469.6,478.9 470.4,478.8 471.2,478.8 472,478.8 472.8,478.8 473.6,478.7 474.4,478.7 475.3,478.7 476.1,478.6 476.9,478.6 477.7,478.6 478.5,478.6 479.3,478.6 480.1,478.6 480.9,478.6 481.7,478.6 482.5,478.6 483.3,478.6 484.1,478.6 484.9,478.6 485.7,478.6 486.5,478.6 487.3,478.6 488.1,478.6 488.9,478.6 489.8,478.6 490.6,478.6 491.4,478.6"/>
</g>
<path class="hb" d="M318.54 376.6v-0.1h3.65v0.1zM322.18 376.6v-0.2h3.65v0.2zM325.83 376.6v-0.2h3.65v0.2zM329.47 376.6v-0.2h3.65v0.2zM333.12 376.6v-0.3h3.65v0.3zM336.76 376.6v-0.5h3.65v0.5zM340.41 376.6v-0.8h3.65v0.8zM344.05 376.6v-0.9h3.65v0.9zM347.7 376.6v-1.3h3.65v1.3zM351.34 376.6v-1.1h3.65v1.1zM354.99 376.6v-1.7h3.65v1.7zM358.63 376.6v-2.2h3.65v2.2zM362.28 376.6v-4.3h3.65v4.3zM365.92 376.6v-3.7h3.65v3.7zM369.57 376.6v-5.5h3.65v5.5zM373.21 376.6v-7.6h3.65v7.6zM376.86 376.6v-8.3h3.65v8.3zM380.5 376.6v-8.8h3.65v8.8zM384.15 376.6v-10.5h3.65v10.5zM387.79 376.6v-12.1h3.65v12.1zM391.44 376.6v-14.7h3.65v14.7zM395.08 376.6v-15.8h3.65v15.8zM398.73 376.6v-17.8h3.65v17.8zM402.37 376.6v-20h3.65v20zM406.02 376.6v-22.8h3.65v22.8zM409.66 376.6v-24.3h3.65v24.3zM413.31 376.6v-24.3h3.65v24.3zM416.95 376.6v-26.9h3.65v26.9zM420.6 376.6v-29.8h3.65v29.8zM424.24 376.6v-29.5h3.65v29.5zM427.88 376.6v-29.2h3.65v29.2zM431.53 376.6v-29.9h3.65v29.9zM435.18 376.6v-27h3.65v27zM438.82 376.6v-25.2h3.65v25.2zM442.47 376.6v-24.5h3.65v24.5zM446.11 376.6v-18.9h3.65v18.9zM449.75 376.6v-14.7h3.65v14.7zM453.4 376.6v-11.2h3.65v11.2zM457.05 376.6v-7.8h3.65v7.8zM460.69 376.6v-4.8h3.65v4.8zM464.34 376.6v-2.8h3.65v2.8zM467.98 376.6v-1.3h3.65v1.3zM471.62 376.6v-0.7h3.65v0.7zM475.27 376.6v-0.4h3.65v0.4zM478.92 376.6v-0.2h3.65v0.2zM482.56 376.6v-0.2h3.65v0.2z"/>
<path class="hl" d="M307.6 376.4H489.9"/>
<rect class="fr" x="290.3" y="376.6" width="215.5" height="218.8"/>
<path class="tk" d="M311.85 595.4v-2.6M311.85 376.6v2.6M354.95 595.4v-2.6M354.95 376.6v2.6M398.05 595.4v-2.6M398.05 376.6v2.6M441.15 595.4v-2.6M441.15 376.6v2.6M484.25 595.4v-2.6M484.25 376.6v2.6M290.3 595.4h2.6M505.8 595.4h-2.6M290.3 568.05h2.6M505.8 568.05h-2.6M290.3 540.7h2.6M505.8 540.7h-2.6M290.3 513.35h2.6M505.8 513.35h-2.6M290.3 486h2.6M505.8 486h-2.6M290.3 458.65h2.6M505.8 458.65h-2.6M290.3 431.3h2.6M505.8 431.3h-2.6M290.3 403.95h2.6M505.8 403.95h-2.6M290.3 376.6h2.6M505.8 376.6h-2.6"/>
<text class="tl" x="311.9" y="604.6" text-anchor="middle">20</text>
<text class="tl" x="354.9" y="604.6" text-anchor="middle">40</text>
<text class="tl" x="398.1" y="604.6" text-anchor="middle">60</text>
<text class="tl" x="441.1" y="604.6" text-anchor="middle">80</text>
<text class="tl" x="484.2" y="604.6" text-anchor="middle">100</text>
</g>
<g id="pB3">
<rect x="544.1" y="376.6" width="187.8" height="218.8" fill="#f5f5f5"/>
<path class="gr" d="M567.58 376.6V595.4M591.05 376.6V595.4M614.52 376.6V595.4M638 376.6V595.4M661.48 376.6V595.4M684.95 376.6V595.4M708.42 376.6V595.4M544.1 568.05H731.9M544.1 540.7H731.9M544.1 513.35H731.9M544.1 486H731.9M544.1 458.65H731.9M544.1 431.3H731.9M544.1 403.95H731.9"/>
<clipPath id="cB3"><rect x="544.1" y="376.6" width="187.8" height="218.8"/></clipPath>
<g clip-path="url(#cB3)">
<path class="un" transform="translate(544.1 377.1)" d="M92 32h7M89 33h8M88 34h6M81 35h15M80 36h16M64 37h5M80 37h14M63 38h6M80 38h16M101 38h3M63 39h6M73 39h23M101 39h4M64 40h41M62 41h40M65 42h36M63 43h38M109 43h3M64 44h37M109 44h3M63 45h39M103 45h3M107 45h5M61 46h49M61 47h48M59 48h51M59 49h10M70 49h41M58 50h54M59 51h54M116 51h5M125 51h3M56 52h57M116 52h5M126 52h4M54 53h60M115 53h6M126 53h4M54 54h67M126 54h5M54 55h3M58 55h65M124 55h6M54 56h69M53 57h72M53 58h73M51 59h75M51 60h74M51 61h74M51 62h73M135 62h4M51 63h73M134 63h5M47 64h86M45 65h88M45 66h88M43 67h90M140 67h6M42 68h93M138 68h9M42 69h103M42 70h7M50 70h95M44 71h100M146 71h4M41 72h5M47 72h95M146 72h5M41 73h101M146 73h5M154 73h3M41 74h110M153 74h4M39 75h120M38 76h110M152 76h7M39 77h109M152 77h7M37 78h120M37 79h123M37 80h122M34 81h126M37 82h125M34 83h128M34 84h126M32 85h130M39 86h123M32 87h5M39 87h123M33 88h5M39 88h123M39 89h123M37 90h125M33 91h129M35 92h125M162 92h3M35 93h129M35 94h130M35 95h129M36 96h128M36 97h131M36 98h131M39 99h129M36 100h132M35 101h133M36 102h130M35 103h133M35 104h131M34 105h129M34 106h128M163 106h4M34 107h128M163 107h3M34 108h132M36 109h130M28 110h3M37 110h129M36 111h127M37 112h126M39 113h124M37 114h126M39 115h124M39 116h123M39 117h122M40 118h120M40 119h120M41 120h119M41 121h117M41 122h117M41 123h117M161 123h3M42 124h116M161 124h3M42 125h116M41 126h117M42 127h116M43 128h112M44 129h112M43 130h115M44 131h114M43 132h115M42 133h119M42 134h114M40 135h114M40 136h115M42 137h112M42 138h111M43 139h106M44 140h104M47 141h100M47 142h100M47 143h100M47 144h100M47 145h95M48 146h94M49 147h93M51 148h91M51 149h91M53 150h89M55 151h85M55 152h85M56 153h85M56 154h85M57 155h84M60 156h81M61 157h80M60 158h79M61 159h78M61 160h78M56 161h5M62 161h71M134 161h4M56 162h71M134 162h3M58 163h69M131 163h5M58 164h68M58 165h64M131 165h4M58 166h69M131 166h4M64 167h58M64 168h60M65 169h46M118 169h6M65 170h48M114 170h3M119 170h5M66 171h45M112 171h5M66 172h5M72 172h44M66 173h4M74 173h43M72 174h7M81 174h28M111 174h6M80 175h28M111 175h5M75 176h6M83 176h25M111 176h5M73 177h8M82 177h24M112 177h4M71 178h10M83 178h23M73 179h8M85 179h20M70 180h10M87 180h16M69 181h6M86 181h6M93 181h9M115 181h3M87 182h5M94 182h8M116 182h3M87 183h4M96 183h6M116 183h3M87 184h5M96 184h5M116 184h3M88 185h4M97 185h3M88 186h6M88 187h6M89 188h3"/>
<g transform="translate(544.1 376.6) scale(.1)">
<defs><path id="b30" d="M156 1292h0m36-246h0m6-9h0m9-420h0m27 185h0m4 526h0m2-488h0m17 73h0m21 388h0m7-535h0m10 203h0m32-312h0m2 408h0m0-503h0m26 56h0m60 906h0m11-839h0m0 606h0m1 182h0m14-1075h0m45 101h0m10 22h0m2-287h0m12 1523h0m13-1253h0m8 1351h0m15-1358h0m30 1634h0m6-422h0m1-1390h0m12 121h0m28 1451h0m20-94h0m8-1602h0m44 1760h0m32-100h0m17-1584h0m29 24h0m14-27h0m24 1670h0m7-141h0m29 278h0m2-2078h0m29 246h0m1 26h0m0 1641h0m11-1754h0m28 120h0m72-190h0m3 225h0m9-19h0m25 1693h0m7-1801h0m18 1653h0m10 152h0m8 198h0m2-1970h0m18 1525h0m22-1611h0m30 141h0m50 1584h0m5 30h0m47-1802h0m19 364h0m1 1317h0m93-1327h0m46 8h0m18 1162h0m6-960h0m1-184h0m11 1258h0m11-192h0m62-973h0m15-70h0m62 735h0m3-509h0m42 19h0m1 24h0m15 646h0m22-612h0m48 199h0m44 490h0m15-441h0m0 83h0m33-128h0"/><path id="b31" d="M150 703h0m24 21h0m11 520h0m34-195h0m4 134h0m15-114h0m15-444h0m11 394h0m2-101h0m34 109h0m15-260h0m4 381h0m2 476h0m2-1090h0m15 464h0m11 49h0m4 86h0m19 173h0m2-744h0m42-136h0m8 115h0m44-235h0m6 1441h0m19-1421h0m13 1164h0m0 154h0m16 523h0m5-400h0m56-1425h0m12 1814h0m25-1708h0m27 1416h0m5-1815h0m91-6h0m10 2123h0m13-2040h0m10 84h0m24-86h0m13 2028h0m13-326h0m3 99h0m16-1778h0m3 137h0m54-247h0m7-43h0m14 2102h0m19-1799h0m16 1813h0m2-1880h0m10 54h0m3-51h0m4 1666h0m67-91h0m25-1493h0m11 1483h0m11-1494h0m6 1641h0m4 114h0m11-1689h0m54 67h0m24-133h0m9 1544h0m90-112h0m8 204h0m6-250h0m9 102h0m27-180h0m6 33h0m40-1215h0m13 146h0m4 1139h0m2-1108h0m20 1138h0m27-1208h0m26 963h0m85-926h0m13 812h0m31-82h0m16-654h0m1 614h0m38 25h0m19-139h0m4-623h0m10 469h0m7 49h0"/><path id="b32" d="M135 664h0m63 326h0m1 398h0m24-498h0m31 366h0m19-794h0m2 499h0m14-156h0m3 159h0m6 213h0m42 202h0m1-870h0m0 228h0m1 509h0m1-254h0m24 459h0m15-76h0m43-893h0m18 837h0m2-930h0m16 151h0m51-8h0m7-6h0m37-78h0m12 1715h0m33-1690h0m37 1718h0m7-1778h0m30-129h0m51 6h0m16-2h0m19 1542h0m1 204h0m10-67h0m5-1735h0m74-46h0m57-59h0m27 1819h0m7 58h0m17-1783h0m32-120h0m16 361h0m3 1538h0m3-115h0m18 18h0m3-20h0m29-1610h0m5 49h0m12-77h0m9 1581h0m4 187h0m12-234h0m2-11h0m6 169h0m7-1900h0m33 406h0m23 1414h0m17 51h0m6-1617h0m5 1442h0m10-1327h0m9 1438h0m13-1313h0m13 1626h0m39-373h0m13-1304h0m6-148h0m4 159h0m24 154h0m57 1028h0m84-211h0m67 115h0m3-226h0m4-673h0m5 791h0m55-213h0m4-55h0m18-240h0m5-157h0m7 157h0m44 718h0m7-496h0m59-197h0m9 64h0m20-290h0"/><path id="b33" d="M154 1058h0m9-54h0m85 241h0m1 152h0m10-631h0m37 181h0m5 5h0m0 268h0m41-286h0m29-346h0m45 212h0m8-440h0m86 1217h0m0-973h0m38 1025h0m10-1366h0m26 1328h0m22-1271h0m44-188h0m8 1837h0m15-235h0m1 126h0m18-83h0m1 174h0m38-1697h0m4-152h0m9 1589h0m8-26h0m4 265h0m58-1622h0m4-18h0m4 1548h0m15 109h0m27 18h0m5-1687h0m45 1630h0m27-1604h0m3 1580h0m85-60h0m8-1845h0m15 1938h0m2-1870h0m21 13h0m8 1898h0m19-270h0m18-1349h0m16 1549h0m47-1424h0m24-180h0m9 260h0m9 1429h0m10-1520h0m8 1261h0m3-1371h0m4 1385h0m2-1171h0m1-72h0m4 1435h0m12-1317h0m80 1006h0m16-942h0m32 845h0m30-997h0m20 236h0m17 751h0m54 0h0m5-905h0m42 656h0m29-860h0m17 409h0m12 341h0m1 339h0m6-309h0m3-242h0m8 378h0m1-73h0m10-137h0m13-235h0m10 270h0m24 141h0m11-58h0m5-330h0m16 581h0m11-464h0m50 167h0"/><path id="b34" d="M161 1186h0m42-117h0m40 331h0m9 25h0m35-222h0m1-74h0m3-388h0m45 707h0m0-106h0m15-582h0m8 406h0m6-102h0m12-414h0m15 644h0m6-48h0m12 72h0m5-803h0m5 1456h0m18-442h0m7-268h0m14 143h0m0-906h0m2 941h0m5 50h0m25-1213h0m0 315h0m22 954h0m51-1315h0m1 1434h0m96-1539h0m7 1695h0m7-1699h0m5 1699h0m16-1540h0m52 1640h0m12-162h0m7 253h0m6-1839h0m11 1814h0m1-1757h0m1 1782h0m23-167h0m11 85h0m90-51h0m18 111h0m12-1680h0m34 1566h0m95-1505h0m18 1414h0m14-1337h0m5-72h0m5 81h0m53-79h0m5 1437h0m14-1617h0m6 1824h0m17-464h0m13 207h0m33-80h0m16 13h0m8-1266h0m0 1253h0m1 357h0m158-560h0m19-900h0m2 16h0m6 267h0m5-142h0m10 18h0m52 642h0m4 68h0m1-974h0m46 126h0m34 531h0m9 179h0m13-333h0m11 230h0m6-380h0m7 221h0m3 103h0m40-86h0m2-122h0m35 22h0m10 62h0m12-162h0"/><path id="b35" d="M122 996h0m84-220h0m23 159h0m1 112h0m14 8h0m2-65h0m49 211h0m4-588h0m18 94h0m9 540h0m16-61h0m9-218h0m5-255h0m9 486h0m21-201h0m0-406h0m3 142h0m51 822h0m7 50h0m7-933h0m36 1019h0m4-151h0m39 175h0m3-55h0m2-1139h0m42-107h0m52-222h0m13 1745h0m16-1838h0m2 1676h0m50-1515h0m24 1615h0m38-1560h0m98 1552h0m19 65h0m13-1631h0m24 17h0m33-341h0m14 177h0m2 35h0m5 1721h0m8 69h0m8-59h0m26-1460h0m26 1394h0m1-1420h0m6 1570h0m19-1669h0m6 69h0m3-323h0m19 180h0m20 81h0m27 1569h0m14-1442h0m1 1279h0m47-1257h0m2-143h0m37 60h0m42 154h0m12 1049h0m2-1082h0m4 29h0m22 1191h0m0-205h0m20 69h0m19-1013h0m18 818h0m37-669h0m5 765h0m58-868h0m24 768h0m15-831h0m6 75h0m19-58h0m8 175h0m24 499h0m25-64h0m16-378h0m22 153h0m25-221h0m14 275h0m3-303h0m57 130h0m14 218h0m35-403h0"/><path id="b36" d="M207 581h0m129 869h0m16-553h0m10 202h0m16-8h0m6 255h0m32-106h0m20 210h0m21-361h0m28 358h0m11-812h0m33-259h0m3 29h0m24 147h0m22-80h0m1 1140h0m7-1307h0m13 174h0m8-68h0m21 1301h0m6-74h0m14-1494h0m13 1796h0m8-227h0m5-1382h0m3 1657h0m37-1686h0m4 60h0m9 1545h0m24-1605h0m49-132h0m68 2035h0m18-2045h0m19 1794h0m72-1578h0m9 1382h0m0-1608h0m15 2003h0m17-186h0m19-1691h0m52-31h0m0 1589h0m27-1434h0m27 1676h0m7-232h0m48-1444h0m2 1403h0m6-23h0m22 19h0m12 143h0m35 119h0m41-394h0m16-18h0m1-1067h0m11-17h0m14 1050h0m7 151h0m19-184h0m7 74h0m13-1025h0m7 781h0m21-723h0m4 874h0m3 36h0m6-75h0m12 274h0m4-880h0m16-142h0m8 569h0m27-11h0m15-761h0m15 769h0m3-57h0m12-224h0m32 368h0m6-659h0m27 40h0m11 304h0m4-124h0m0 273h0m23-344h0m6-18h0m15 339h0m6-210h0m106-333h0"/><path id="b37" d="M256 1125h0m15-243h0m12 172h0m11-201h0m15 90h0m17-524h0m31 188h0m2 283h0m20 209h0m2-334h0m8 391h0m5-246h0m3 363h0m17-138h0m22-27h0m13 438h0m9-232h0m0-31h0m4-566h0m33 521h0m7 381h0m51-192h0m14-1048h0m27 1187h0m6 367h0m22-232h0m1-97h0m15-1325h0m15 88h0m7 1255h0m29 40h0m5-1205h0m39 1191h0m5-1462h0m12 1606h0m38 13h0m23-1570h0m3 1869h0m7-352h0m63-1453h0m3-114h0m55 1827h0m20 32h0m5-185h0m25 264h0m21-1746h0m2 1485h0m19-54h0m6-1566h0m13 140h0m6-42h0m41 180h0m15 1311h0m11-1369h0m22 68h0m5 1262h0m18-1444h0m26 196h0m2-123h0m1 1391h0m6-1561h0m34 1623h0m26-1233h0m8 1024h0m21 98h0m32-259h0m30 168h0m19-248h0m43 499h0m3-1175h0m42-110h0m61 753h0m31-507h0m13-477h0m28 653h0m14 270h0m17-458h0m13 342h0m4 56h0m22 6h0m7-104h0m14-155h0m64 98h0m36-52h0m33 246h0"/><path id="b38" d="M192 942h0m131 296h0m3-141h0m2-248h0m14 33h0m17 399h0m6-601h0m29 541h0m11-597h0m20 717h0m15-596h0m7 772h0m16-39h0m3-169h0m74-881h0m12 56h0m16 1172h0m42-1382h0m21 1383h0m22-1347h0m15-45h0m40 1525h0m11 38h0m18 274h0m4-322h0m19-1290h0m15-111h0m23-91h0m5 1613h0m17-1509h0m17 42h0m16 1774h0m15-519h0m16 120h0m1-1741h0m4 450h0m3 1546h0m55-300h0m7-14h0m7-1267h0m0-187h0m2 47h0m6-128h0m18 72h0m9 1669h0m11-1597h0m15 1395h0m27 13h0m4-1243h0m6-121h0m6 1542h0m6-1508h0m54 63h0m6-160h0m26 115h0m5 1467h0m9-1431h0m16 1275h0m52-1124h0m3 1317h0m1-1344h0m6 1020h0m40-1131h0m4 148h0m12 1067h0m14 65h0m40-1103h0m18 69h0m72 124h0m10-193h0m5-8h0m2 747h0m17 71h0m9-246h0m14-570h0m5-141h0m18 168h0m6 778h0m21-287h0m11 127h0m53-370h0m72 153h0m6-208h0m84-66h0m9 272h0"/><path id="b39" d="M330 886h0m0 399h0m6-902h0m9 810h0m20-339h0m3-51h0m9 161h0m13-166h0m1 147h0m15 109h0m26 85h0m1-77h0m25 440h0m36-930h0m25 124h0m32-167h0m64 15h0m23 106h0m29-495h0m25 244h0m6 97h0m6 1434h0m6-1398h0m5-73h0m33-345h0m4 341h0m2 1178h0m10-1227h0m13 1267h0m7-14h0m3-1499h0m74 214h0m24 56h0m26-52h0m4 106h0m15 1353h0m18-28h0m1-1364h0m11 1600h0m9-318h0m2-1291h0m4 52h0m10-91h0m2 1414h0m8-26h0m1 141h0m17-1388h0m4 1257h0m52-1271h0m3-237h0m1 1600h0m5-1382h0m6 1189h0m1 211h0m1-1357h0m56 1287h0m34 58h0m4-248h0m10 27h0m7-1107h0m24 1148h0m0-1126h0m12-100h0m41 1417h0m5-1361h0m13 1187h0m100-229h0m10 165h0m9-262h0m42-6h0m6-16h0m17-19h0m15-635h0m4 651h0m13 45h0m9-185h0m15-340h0m2-266h0m36 812h0m8-350h0m1-356h0m48 352h0m33-215h0m13 110h0m67-43h0"/><path id="b310" d="M199 1403h0m21-711h0m31 140h0m23 261h0m52-299h0m13 471h0m24-139h0m29-245h0m21 11h0m3 476h0m4-733h0m8 578h0m21 375h0m14-493h0m2-404h0m0 525h0m27 485h0m4-284h0m3-768h0m3 591h0m16-396h0m3-266h0m9 853h0m8-756h0m3 865h0m2-718h0m15 785h0m4-1024h0m0 977h0m31 83h0m26-1281h0m1-56h0m9-259h0m1 216h0m18 68h0m16 1616h0m3-1572h0m1 1266h0m35-974h0m41-503h0m22 1563h0m1 99h0m37 24h0m9 68h0m15-1648h0m25 1436h0m12-1300h0m3 1454h0m5-1481h0m7 1177h0m22 285h0m30-1472h0m19 28h0m13 106h0m59 1225h0m40-1275h0m11-330h0m0 1604h0m3-1255h0m30-112h0m10 1549h0m56-337h0m4 266h0m17-63h0m1 155h0m42-1436h0m17 139h0m68 898h0m45-903h0m0-151h0m75 922h0m67 38h0m1-691h0m26-18h0m8 191h0m5 76h0m26-194h0m0 331h0m18-32h0m5 28h0m8 7h0m25-129h0m12 12h0m50-122h0m66 197h0"/><path id="b311" d="M298 1209h0m7-483h0m6 166h0m0 520h0m3-711h0m24 363h0m37-242h0m9-291h0m3 500h0m17 162h0m10-24h0m7-287h0m7-143h0m15 467h0m1 194h0m22-68h0m4-676h0m23 9h0m15 818h0m10-427h0m8 657h0m8-206h0m0-116h0m6-108h0m22-478h0m34-223h0m68-192h0m5 1208h0m10-1240h0m19 1277h0m18-1296h0m12 89h0m8-67h0m0 1373h0m12-1146h0m25 1330h0m21-1581h0m12 993h0m1-1322h0m7 1666h0m9-1259h0m4 1459h0m21-1628h0m37 299h0m8 1351h0m0-1545h0m23-13h0m8 1524h0m5-1529h0m8 20h0m7-177h0m6 327h0m19-181h0m27 1507h0m41-121h0m8-1334h0m88 1390h0m11-161h0m8-946h0m37-131h0m4 1067h0m49-938h0m3 1007h0m57-174h0m27-720h0m19 750h0m20-63h0m71-858h0m44 226h0m9 35h0m0 609h0m45-440h0m2 108h0m9-52h0m1 224h0m11-753h0m22 853h0m5-299h0m8-134h0m4 19h0m8-111h0m2-242h0m46-14h0m10 538h0m75-391h0"/><path id="b312" d="M295 912h0m50-237h0m11 372h0m48-126h0m6 39h0m16 459h0m40-135h0m3-874h0m24 298h0m41-76h0m39 145h0m4 857h0m16-182h0m10-835h0m22-226h0m0 183h0m0-140h0m9 1138h0m20-1319h0m20 756h0m5-252h0m11-157h0m16 136h0m13-138h0m10 1162h0m2-1568h0m15 1392h0m4 197h0m10-1427h0m26 1728h0m6-1737h0m2 1432h0m6-1223h0m2-133h0m49 1343h0m20-641h0m71-1121h0m4 214h0m38 1626h0m13 152h0m3-1826h0m38 186h0m12 1395h0m29-19h0m9-1242h0m32-75h0m14 178h0m2 98h0m14 963h0m11 182h0m1-1270h0m22 69h0m6 13h0m5-151h0m2 292h0m1 852h0m15-26h0m10-26h0m42-862h0m22-283h0m9 1197h0m41-163h0m39 71h0m0 6h0m1-52h0m19-17h0m7-126h0m12-24h0m1 59h0m25-49h0m5-264h0m32 236h0m30-27h0m1 82h0m5-555h0m5 482h0m5-187h0m5 238h0m1-257h0m3 228h0m22-478h0m55 1h0m4 199h0m9-198h0m121 54h0"/><path id="b313" d="M191 1257h0m3-177h0m0-207h0m129 74h0m39 433h0m28-714h0m5 197h0m22 297h0m4-456h0m0 670h0m0-592h0m9 463h0m15-550h0m6 438h0m7 16h0m14 42h0m4-443h0m11 608h0m8-616h0m0 466h0m2 73h0m2 401h0m10-947h0m1 796h0m19-1071h0m1 257h0m10 62h0m14-142h0m4 151h0m14 60h0m6 560h0m3-583h0m8-127h0m12 314h0m7 534h0m9-1016h0m16 892h0m18-975h0m47 96h0m1 151h0m19 1009h0m5-1305h0m53 81h0m2-466h0m18 1846h0m4-1560h0m13 78h0m11 145h0m9-167h0m9-27h0m23 1389h0m71-1130h0m27 1121h0m3 132h0m35-1341h0m16 1163h0m34-1158h0m62 62h0m6 1093h0m6 62h0m20-178h0m42-871h0m17-49h0m41 80h0m27-177h0m14 135h0m31 30h0m31 778h0m9 124h0m2-837h0m23 740h0m7 277h0m4-1131h0m61 333h0m21 59h0m21 430h0m17-815h0m2 134h0m24 35h0m33-42h0m2 420h0m1-87h0m15 279h0m1-469h0m12 395h0"/><path id="b314" d="M257 1133h0m8-234h0m11-262h0m19 404h0m19-126h0m5 457h0m4-173h0m21 292h0m18-30h0m9-471h0m29 112h0m5 15h0m4-177h0m14-31h0m21-47h0m8-87h0m1 18h0m0 595h0m36-59h0m27 285h0m3-859h0m9 43h0m4-188h0m36 764h0m8-259h0m4-505h0m3-68h0m6 1130h0m9-889h0m16 821h0m18-82h0m10 154h0m11-1138h0m4-49h0m12 275h0m7 918h0m29-1274h0m3 163h0m8-406h0m6 1509h0m1-942h0m23 1002h0m9-1069h0m24 941h0m1-1193h0m20 376h0m4-289h0m20 4h0m45-76h0m38 89h0m10 1440h0m11-90h0m9-1506h0m30 1304h0m6-1272h0m24 1141h0m0-1337h0m11 356h0m95 111h0m11 805h0m37-857h0m3 1077h0m3 20h0m41 362h0m11-389h0m18-48h0m3-96h0m121-793h0m11 597h0m2 277h0m6-789h0m2 522h0m11-570h0m0 550h0m1 66h0m23-631h0m7 487h0m36 39h0m4 87h0m22-469h0m6 98h0m35 376h0m62-216h0m69-116h0m39 78h0"/><path id="b315" d="M334 1227h0m10-393h0m71 275h0m2-350h0m2 73h0m19 519h0m7-168h0m3-383h0m3 24h0m1 31h0m18-400h0m23 629h0m0-543h0m3 988h0m12-333h0m17-642h0m4 213h0m4-154h0m8 134h0m32-178h0m2 699h0m1-20h0m9 278h0m10-883h0m33-174h0m24 109h0m3 860h0m18-795h0m5-61h0m3-162h0m13 238h0m4 838h0m34-854h0m31-214h0m1 1265h0m30 51h0m4-1010h0m7 904h0m6 535h0m11-1534h0m34 1098h0m1 17h0m6 97h0m29-1776h0m19 1h0m2 1719h0m87-273h0m16-1104h0m4 1381h0m10-1211h0m9-83h0m12-38h0m20 1217h0m20-1103h0m7-298h0m3 1217h0m44-8h0m10 92h0m0-29h0m27-74h0m0-769h0m11-99h0m10 72h0m34 1118h0m7-925h0m12-163h0m2-49h0m1 29h0m22 2h0m15-87h0m3 1000h0m37-259h0m43-557h0m21 671h0m9-775h0m5 92h0m36 164h0m41-26h0m27 250h0m0-123h0m14 176h0m3-477h0m7 415h0m30-494h0m102 206h0"/><path id="b316" d="M259 674h0m0 474h0m149-314h0m8 199h0m10-509h0m43 461h0m20 418h0m6-443h0m6 199h0m21-76h0m13 372h0m6 64h0m12-15h0m7-816h0m3 549h0m18-527h0m1-189h0m10 458h0m33-4h0m0 460h0m5-825h0m15-19h0m10 163h0m7 804h0m10-1515h0m1 1377h0m16 53h0m10-1065h0m5 1199h0m1 223h0m2-1524h0m7 1384h0m7-1206h0m14 52h0m7-28h0m9 171h0m7 799h0m14-1385h0m40 1502h0m4-1015h0m28-239h0m4 1483h0m7-443h0m2 549h0m22-202h0m16 132h0m12-967h0m0 669h0m18-1113h0m0 1529h0m15-1612h0m20 153h0m39 1201h0m32 150h0m6-244h0m5-5h0m36-1074h0m2 936h0m5-855h0m8 838h0m10 105h0m78-1068h0m22 1167h0m15-960h0m13-50h0m3 98h0m46 717h0m27-875h0m0 1046h0m43-795h0m9-166h0m27 36h0m18-141h0m43 360h0m2 375h0m10-946h0m19 528h0m14 234h0m19-395h0m5 493h0m18 39h0m38 171h0m18-276h0m31-77h0m70-124h0"/><path id="b317" d="M262 790h0m95-13h0m7-34h0m20-42h0m2 140h0m10-154h0m20 384h0m16-164h0m13-330h0m4-127h0m38 945h0m2-496h0m6-123h0m25 679h0m18-325h0m1 442h0m9-216h0m0-291h0m26 405h0m16-609h0m5 553h0m20-655h0m9-100h0m1 131h0m3 608h0m12 172h0m5-1047h0m5 841h0m18-635h0m19-213h0m13 48h0m5 204h0m12 514h0m49 329h0m42-794h0m13 1050h0m14-1324h0m22 1041h0m23-1173h0m8-49h0m11 1331h0m36-1471h0m20 1433h0m13-1026h0m18 120h0m3 935h0m41-1033h0m3 851h0m14-934h0m21 16h0m48 55h0m30 820h0m19-775h0m5 867h0m11-756h0m28-100h0m1-222h0m1 946h0m6-831h0m51 94h0m20 866h0m3-147h0m33-696h0m0 829h0m15-708h0m29 118h0m7 20h0m7 318h0m3-385h0m5 271h0m1 307h0m5 95h0m14-459h0m0 56h0m2-450h0m24-52h0m7-4h0m8 55h0m3 729h0m17-456h0m0 75h0m50-177h0m13 346h0m14-180h0m48-339h0"/><path id="b318" d="M297 1078h0m156-516h0m17 454h0m4 31h0m6-118h0m4-83h0m4 282h0m5-543h0m7 536h0m21-185h0m1 412h0m7-352h0m4 486h0m45-377h0m31-142h0m14-148h0m6 511h0m21-562h0m1-305h0m12 1188h0m35-865h0m35 667h0m23-702h0m16 1123h0m1-1412h0m25 659h0m28 614h0m10-1146h0m5 46h0m3-112h0m1-55h0m23 241h0m3-69h0m2-411h0m43 1393h0m3-87h0m13 10h0m17-1203h0m38 1310h0m16 208h0m24-282h0m34-912h0m16-258h0m36 1265h0m5-37h0m51-941h0m12 59h0m11 720h0m20 233h0m0-241h0m38 87h0m20 55h0m15-1075h0m23 131h0m2-142h0m13 865h0m4-250h0m4-305h0m7-92h0m2 666h0m15-791h0m20 55h0m23 545h0m22-13h0m2-432h0m8 176h0m0-35h0m7 279h0m21-358h0m17 540h0m25-68h0m2-418h0m4 433h0m19-445h0m1 119h0m0-66h0m22 46h0m22 244h0m10-260h0m4-62h0m14 457h0m47-428h0m4 148h0m4-588h0m4 612h0"/><path id="b319" d="M179 1108h0m51-148h0m76 148h0m4 21h0m15-290h0m17 235h0m6 276h0m64-337h0m4 435h0m2-387h0m28-357h0m1 677h0m9-129h0m14-307h0m23 668h0m22-640h0m0 128h0m5 172h0m14-374h0m37-183h0m7 759h0m3-155h0m2 68h0m3-1128h0m21 1089h0m8 48h0m7-556h0m5 522h0m35 91h0m2-130h0m16 88h0m25 275h0m10-739h0m0-392h0m29 196h0m6 225h0m10-753h0m12 1555h0m10-1243h0m1 1035h0m15-1089h0m5 1080h0m18 42h0m2-1141h0m37 163h0m43-55h0m8 1181h0m10-1230h0m1 1170h0m12-883h0m3-39h0m44 572h0m10 95h0m34 175h0m21 54h0m46-961h0m18-73h0m32 955h0m37-1028h0m20 1107h0m21-884h0m12 786h0m5 35h0m3-35h0m15-756h0m0 1035h0m12-1268h0m14 888h0m7 112h0m46-5h0m22-687h0m5 24h0m10-40h0m1 509h0m11-72h0m15-67h0m3 374h0m3-352h0m27 81h0m9-348h0m24 52h0m17 200h0m18-540h0m6 380h0m40-56h0"/><path id="b320" d="M267 1405h0m26-561h0m155 396h0m52-127h0m9 119h0m19-189h0m27-56h0m0 497h0m16-521h0m11 267h0m22 263h0m12-138h0m3-225h0m12-166h0m8 768h0m22-1122h0m36 826h0m18-274h0m2 297h0m7-909h0m21 718h0m1 128h0m0-559h0m28 624h0m12-1028h0m2 1092h0m50-877h0m32-170h0m3 1179h0m1-290h0m4-751h0m15-3h0m2 135h0m5 696h0m4 287h0m4-1183h0m31 1079h0m9-110h0m0-97h0m8 67h0m3-158h0m19-286h0m1-588h0m14 1113h0m11-1239h0m14 411h0m1-264h0m19 36h0m7 62h0m5 755h0m34 352h0m12-996h0m31-68h0m34 884h0m3-734h0m11-154h0m14 222h0m1 785h0m9-914h0m6 790h0m13-670h0m64 236h0m12-235h0m10 748h0m8-971h0m24 775h0m52-257h0m17-51h0m1-136h0m4 187h0m3 160h0m25-270h0m2-234h0m1 801h0m32-288h0m1-113h0m8-9h0m12 54h0m13-207h0m52-159h0m15 186h0m15-216h0m5-1h0m17 195h0m87-236h0"/><path id="b321" d="M505 1529h0m4-533h0m30 40h0m5 257h0m6-74h0m5-66h0m8-133h0m9 338h0m4-621h0m25-23h0m13 316h0m1-336h0m6-51h0m35 878h0m9-10h0m7-954h0m0 1166h0m12-1161h0m7 677h0m15-438h0m18-94h0m13 794h0m2-959h0m2 514h0m16 665h0m6-663h0m7-534h0m2 30h0m47 1152h0m2-155h0m10-782h0m5 1023h0m18-631h0m23-820h0m1 1404h0m9-581h0m28-540h0m18 131h0m14-194h0m4 800h0m5-377h0m1 576h0m5 61h0m27-1197h0m1 935h0m24 329h0m35-960h0m20 97h0m4 818h0m32-311h0m16 98h0m5-882h0m15 1135h0m9-914h0m1 100h0m12 850h0m46-871h0m2 693h0m1-170h0m11-1056h0m4 528h0m16 1164h0m3-671h0m12-795h0m14 1011h0m11-759h0m21 106h0m8 580h0m6-690h0m24 171h0m5 66h0m10 21h0m18 166h0m23-233h0m9 47h0m2-179h0m11 288h0m13 183h0m16-59h0m5-453h0m10 197h0m29-65h0m14-206h0m4 346h0m67 288h0"/><path id="b322" d="M351 1005h0m57-344h0m54 155h0m40 3h0m6 556h0m22-273h0m12 138h0m18 89h0m7-448h0m6 990h0m2-445h0m16-302h0m5 22h0m7 783h0m13-978h0m3 86h0m34-129h0m7-54h0m1 1035h0m15-1018h0m6 92h0m5 343h0m6-375h0m4 354h0m3-804h0m50 300h0m56-25h0m1 981h0m28-143h0m2-45h0m0-1006h0m12 204h0m26 794h0m15 87h0m13-746h0m1-242h0m53-49h0m14 1019h0m13-1016h0m8 25h0m1-14h0m16 54h0m5 826h0m3 47h0m1-926h0m9-132h0m43 395h0m13-280h0m4 968h0m18-951h0m17 128h0m1 126h0m4-93h0m24-46h0m13 112h0m30 621h0m3 88h0m2-164h0m19-644h0m27 466h0m4-290h0m2 586h0m2-141h0m1-151h0m4-29h0m0 332h0m2-174h0m4-450h0m15 555h0m1-229h0m11 234h0m18-664h0m36 684h0m19-1041h0m11 945h0m12-55h0m8-311h0m27-44h0m6-6h0m3 253h0m25-153h0m18-264h0m5 295h0m91-213h0m120 78h0"/><path id="b323" d="M151 955h0m383-297h0m49 123h0m1 229h0m1-125h0m0 394h0m4-55h0m9-266h0m1 348h0m27-592h0m27 787h0m4-831h0m17 722h0m21 36h0m26 150h0m3-960h0m4 263h0m1 121h0m6 7h0m4 421h0m14-528h0m3 421h0m13 528h0m18-518h0m3-679h0m30 104h0m0 879h0m29-1138h0m1 160h0m1 962h0m6-449h0m2-622h0m4 943h0m3-472h0m9-342h0m5 785h0m10 191h0m1-824h0m1 672h0m2 294h0m4-624h0m6-503h0m0 261h0m28 789h0m14-1267h0m40 1162h0m16-957h0m24 742h0m20-600h0m20 760h0m3 7h0m6-863h0m13 822h0m34-644h0m3-858h0m13 756h0m7-5h0m18-164h0m7 615h0m4 46h0m14-430h0m16-93h0m3 407h0m0-223h0m2 417h0m72 167h0m1-985h0m0 445h0m14-246h0m11 121h0m27-137h0m5 537h0m12-454h0m6 488h0m8-53h0m47-346h0m1 768h0m9-613h0m32 216h0m17-147h0m15 129h0m31-265h0m27-167h0m61 534h0m10-396h0"/><path id="b324" d="M347 1307h0m22-279h0m26-185h0m34-123h0m0 316h0m44 72h0m4-335h0m17 560h0m46 514h0m2-669h0m28-247h0m15-557h0m48 505h0m22 261h0m16-341h0m31 733h0m9-763h0m0-129h0m1 438h0m3-64h0m11 129h0m3 421h0m1-218h0m3-124h0m1 284h0m2-274h0m7 137h0m8-846h0m8 1028h0m8-730h0m12 975h0m23-903h0m4 554h0m7-788h0m1 639h0m2-13h0m22 70h0m12-185h0m3-305h0m37-127h0m3 134h0m3 590h0m21-994h0m8 273h0m7-67h0m17 22h0m39-136h0m41 757h0m11 20h0m3 101h0m3-62h0m4 221h0m37-845h0m3 677h0m14-36h0m3-378h0m3-158h0m8-254h0m3 615h0m0 66h0m2-97h0m6 607h0m9-1090h0m5 722h0m28-70h0m2-59h0m38-323h0m15 168h0m28-87h0m1-115h0m7 520h0m10-76h0m5-628h0m3 613h0m7-331h0m35 21h0m20 369h0m5-446h0m31-122h0m3 391h0m40-277h0m9 461h0m5-49h0m10-280h0m112-149h0"/><path id="b325" d="M453 958h0m13-322h0m25 806h0m42-267h0m7-222h0m1-75h0m10 719h0m11-519h0m28 396h0m2-367h0m5-209h0m0 174h0m3-213h0m14-372h0m8 423h0m78 469h0m24-525h0m13 237h0m6-513h0m18 419h0m3-297h0m14 491h0m11 48h0m22-477h0m15-44h0m13-23h0m7 80h0m3-14h0m1 896h0m6-326h0m12-756h0m5 243h0m4 528h0m6 246h0m27-113h0m1-31h0m5 50h0m3-1082h0m2 430h0m6-180h0m2 490h0m0 552h0m4-117h0m11-38h0m10-242h0m11 488h0m26-351h0m38-587h0m4-142h0m4 53h0m0 950h0m34-361h0m4 306h0m2-690h0m13 361h0m26-516h0m18 754h0m6 15h0m7-593h0m14 210h0m11-609h0m30 673h0m5-254h0m15 83h0m12 305h0m6-432h0m2 480h0m9-154h0m11 41h0m20-63h0m17-1h0m10-274h0m8 460h0m1-713h0m11 596h0m7-108h0m24 4h0m2 273h0m30-709h0m5 260h0m13 64h0m32 13h0m108 27h0m24-227h0m56 293h0"/><path id="b326" d="M417 987h0m75 29h0m33 353h0m3-202h0m103-480h0m9 310h0m5 33h0m8-137h0m10 688h0m3-260h0m14-753h0m18 792h0m54-276h0m7 152h0m2-365h0m8 382h0m3 625h0m7-947h0m6 245h0m9-609h0m2 637h0m9-372h0m29 401h0m2 288h0m1-334h0m3-36h0m4 163h0m0-430h0m10 347h0m3-235h0m8-300h0m5 158h0m17 167h0m3-321h0m11-58h0m12 873h0m10-280h0m18-189h0m9-7h0m6-14h0m9-251h0m20 810h0m0-134h0m4-225h0m1 167h0m4-214h0m4-501h0m9 673h0m2-633h0m1 874h0m1-187h0m7 302h0m18-1027h0m3 215h0m12 579h0m7-88h0m26-675h0m12-48h0m10 209h0m4 643h0m4-140h0m15-536h0m35 596h0m45-568h0m15 381h0m8-297h0m10-180h0m10 445h0m7 187h0m13-89h0m2-320h0m2-128h0m1-136h0m33 454h0m8-237h0m13 344h0m26 34h0m2-189h0m22-42h0m42-100h0m30 74h0m13 131h0m56-10h0m11-263h0m7 117h0"/><path id="b327" d="M445 884h0m79-17h0m32 173h0m32-122h0m10-175h0m5 445h0m17 132h0m13 144h0m7-263h0m6-161h0m18-28h0m1 521h0m6-338h0m7-382h0m16 59h0m24 247h0m9-427h0m2 47h0m12 873h0m3-195h0m3-615h0m14-119h0m2 357h0m8-67h0m4 648h0m12-624h0m4-218h0m9 590h0m7 129h0m18 179h0m11-520h0m7-341h0m3 304h0m4-314h0m11 394h0m14 217h0m5-108h0m27-162h0m11-324h0m3 192h0m11 247h0m9-513h0m2 186h0m5 194h0m15 155h0m14-519h0m45-14h0m11 694h0m3 90h0m11-527h0m15 245h0m7-286h0m8-86h0m14 573h0m9-230h0m1-112h0m29 139h0m21-277h0m7 192h0m7 240h0m1-404h0m7 378h0m7-196h0m4 62h0m10-282h0m0 467h0m19-556h0m8 0h0m8 386h0m14-146h0m0 96h0m27-261h0m24 392h0m22-37h0m2 12h0m6-284h0m9 215h0m8-320h0m2 280h0m41-20h0m22 487h0m37-818h0m41-140h0m29 418h0m20 105h0"/><path id="b328" d="M386 610h0m59 570h0m3-188h0m46-208h0m13 250h0m21 757h0m42-778h0m45 464h0m17-315h0m10 398h0m6-773h0m24 465h0m9 346h0m4-748h0m6 861h0m17-709h0m0-175h0m25 702h0m42-812h0m1-84h0m3 223h0m1-242h0m0 789h0m1-587h0m9 880h0m1-845h0m17-138h0m25 457h0m4-134h0m3 139h0m1-365h0m6 97h0m17 15h0m10 849h0m4-1286h0m5 895h0m0-450h0m5-460h0m8 818h0m12 31h0m0-17h0m1-596h0m14 648h0m2-387h0m0 221h0m12-469h0m12 273h0m18 525h0m31-411h0m8-302h0m4 524h0m14 118h0m1-556h0m2 410h0m17-124h0m19 208h0m6-717h0m16 659h0m2 52h0m15-571h0m3-14h0m1 750h0m9-933h0m20 1171h0m13-383h0m10-42h0m14-366h0m5-186h0m3 705h0m24-288h0m8-112h0m39 128h0m8-118h0m17-314h0m28 128h0m5-228h0m10 742h0m3-185h0m5 63h0m12-215h0m19 35h0m29-68h0m11-27h0m36-211h0m9 396h0"/><path id="b329" d="M461 1011h0m60 185h0m21-260h0m33 61h0m9 370h0m68-557h0m5 420h0m23-572h0m7 531h0m6-203h0m11 527h0m10-190h0m1-407h0m20 662h0m11-959h0m32 332h0m6 20h0m23 80h0m3 203h0m5 239h0m5-346h0m2-498h0m29 422h0m13 351h0m4-660h0m12 219h0m8 51h0m2 359h0m5-125h0m11-483h0m12 174h0m1 237h0m12-360h0m11 34h0m2 514h0m8 86h0m37 3h0m8-102h0m7-594h0m6 325h0m9 228h0m7-401h0m2 168h0m31 330h0m12-41h0m6 54h0m1-336h0m19 497h0m5-410h0m2-1077h0m7 1054h0m17 243h0m12-157h0m10 63h0m0-638h0m13 106h0m1 565h0m2-909h0m2 533h0m38 343h0m6-128h0m2-299h0m10 412h0m10 201h0m1 315h0m2-580h0m35-98h0m10-291h0m1-45h0m13 412h0m9-201h0m26-46h0m3-327h0m1 432h0m42-72h0m1-156h0m3 223h0m15-406h0m9 230h0m4-38h0m16 508h0m38-215h0m63-179h0m50 46h0m45-338h0"/><path id="b330" d="M477 1297h0m103-632h0m44 402h0m0-682h0m33 929h0m1-497h0m3-127h0m17 28h0m13 260h0m2-129h0m2 297h0m0 587h0m29-538h0m2-374h0m24 599h0m21 52h0m17-44h0m5-278h0m19-17h0m1-41h0m1 186h0m4-436h0m13 732h0m27 224h0m2-850h0m2 559h0m5-219h0m1-209h0m2-378h0m5 188h0m31 91h0m3 151h0m12-93h0m6 64h0m7 209h0m21-436h0m2 294h0m7 217h0m11-110h0m1 214h0m1-830h0m1 493h0m4 250h0m8-267h0m3-421h0m1 301h0m1-89h0m22 62h0m11-40h0m15 308h0m8-342h0m2-85h0m11 946h0m1-490h0m8-100h0m0-40h0m4-125h0m10-100h0m2-419h0m1 396h0m20 16h0m25 604h0m5-52h0m1-570h0m0 460h0m1-316h0m7 717h0m19-954h0m31 260h0m18-155h0m3 385h0m30 122h0m16 359h0m32-619h0m6-36h0m7 342h0m3-340h0m17-120h0m6 56h0m1-173h0m1 156h0m33-327h0m33 191h0m27 484h0m95-296h0"/><path id="b331" d="M406 1301h0m23-351h0m25-302h0m2 276h0m40-36h0m18 420h0m67 58h0m51-420h0m3 190h0m5 243h0m8-331h0m8-82h0m17-293h0m31-27h0m5 561h0m1-223h0m8-83h0m23 10h0m1 310h0m18-60h0m21 156h0m0 41h0m2 104h0m12-778h0m0 305h0m3 30h0m12-98h0m4-316h0m0 94h0m2 150h0m0 551h0m9-422h0m27 438h0m2-450h0m12 226h0m12-229h0m16-468h0m32 594h0m2-276h0m3 970h0m2-890h0m0 168h0m9 35h0m4-72h0m10 162h0m10 69h0m15-183h0m5 88h0m7 48h0m5-252h0m0 38h0m0-458h0m1 1043h0m14-569h0m4 42h0m6 78h0m7 99h0m29-434h0m15 153h0m7 647h0m2-653h0m4 106h0m2 263h0m15 551h0m3-134h0m0-630h0m7 286h0m2-191h0m2-133h0m15 267h0m32-119h0m19-59h0m10-16h0m0-114h0m45 12h0m10 342h0m15-281h0m27-336h0m3 118h0m11 541h0m20-34h0m18-212h0m1-38h0m140-150h0m29-43h0"/><path id="b332" d="M370 930h0m30-350h0m21 437h0m107 122h0m25-262h0m9 329h0m34-162h0m27 175h0m13 28h0m5-479h0m11 181h0m14 527h0m24-405h0m5-171h0m4 348h0m10 146h0m11-402h0m2 116h0m5-167h0m28-3h0m4 207h0m16 378h0m4-585h0m7 370h0m22-93h0m15-296h0m2-54h0m11 391h0m8 217h0m5-182h0m0-236h0m9-290h0m3 480h0m10-30h0m29 3h0m11 285h0m3-568h0m1 707h0m15 31h0m8-686h0m10 252h0m3-607h0m20 532h0m2-209h0m2-440h0m13 786h0m8-470h0m11 686h0m1-230h0m5-43h0m9-403h0m1 368h0m14-625h0m4 379h0m0 71h0m1-412h0m1 491h0m6 16h0m17-74h0m18-28h0m0 582h0m6-849h0m22 256h0m9 82h0m15 51h0m10-30h0m4-14h0m17 610h0m32-305h0m15-293h0m18-52h0m23 83h0m6 112h0m1-1014h0m8 654h0m11-9h0m81 531h0m4-631h0m64 8h0m64 392h0m2-233h0m48-31h0m17 331h0m54-365h0m30-185h0"/><path id="b333" d="M485 868h0m7 3h0m86 310h0m2 29h0m10-38h0m11-73h0m56 172h0m2 4h0m10-552h0m27 372h0m5 480h0m9-538h0m35 140h0m8-88h0m2 183h0m4-149h0m17 231h0m1 554h0m5-865h0m1-271h0m4 718h0m11-793h0m4 488h0m4 12h0m11-188h0m21 239h0m5 205h0m5-7h0m4-455h0m4-7h0m5 7h0m16-681h0m1 627h0m3 331h0m12-217h0m1 336h0m18-29h0m3 111h0m6-814h0m5 807h0m4-432h0m6 382h0m1 183h0m7-155h0m1-234h0m9-490h0m11 140h0m3-129h0m7 190h0m4-115h0m15 60h0m31 301h0m4-100h0m1 24h0m10 191h0m2-63h0m14-136h0m7-173h0m1 23h0m13-216h0m2 151h0m4 650h0m15-243h0m3 29h0m11 17h0m8-387h0m2 161h0m11-22h0m19 230h0m6-368h0m3 690h0m1-582h0m15 79h0m3-22h0m2-110h0m15 335h0m2 127h0m23-171h0m22-271h0m41-2h0m8 169h0m39-79h0m50 13h0m92 179h0m53-215h0"/><path id="b334" d="M231 1267h0m249-92h0m51 144h0m14-397h0m11-85h0m54 335h0m2 142h0m11-32h0m16-542h0m2 100h0m3 266h0m17-295h0m1 254h0m3 35h0m1-60h0m11 77h0m5-20h0m27-622h0m2 897h0m21-445h0m3 398h0m37-219h0m5-13h0m4-523h0m8 395h0m14-31h0m6 502h0m6-495h0m5-517h0m9 917h0m1 36h0m2 203h0m14-15h0m11-300h0m5-670h0m3 187h0m8-232h0m16 520h0m14 174h0m5 160h0m5-330h0m21-90h0m0-374h0m12 828h0m5-905h0m0 182h0m5 485h0m21-340h0m14 217h0m8 188h0m0-378h0m24 149h0m24 484h0m16-104h0m5 64h0m1-89h0m2-186h0m9 414h0m1-361h0m5-479h0m35 198h0m2 161h0m19-328h0m14 124h0m7 226h0m4-108h0m8-180h0m12 351h0m1-159h0m0-55h0m0-92h0m24-343h0m8 474h0m17 108h0m9-319h0m26 196h0m21 213h0m8-322h0m2 175h0m84-66h0m46 29h0m21 183h0m97 1h0m37-346h0m25 346h0"/><path id="b335" d="M79 931h0m24-107h0m11-251h0m309 376h0m47 164h0m95-588h0m37 644h0m1 92h0m60-93h0m17-6h0m2 195h0m13-45h0m24-15h0m3 215h0m1-55h0m17-300h0m19 144h0m1-54h0m0 272h0m23-647h0m5 185h0m8 214h0m25-383h0m9 282h0m6-61h0m24-60h0m14 223h0m13-158h0m2 13h0m49-208h0m11-98h0m9 286h0m10-412h0m12 506h0m2-11h0m2-127h0m18 394h0m16-119h0m2 24h0m15-226h0m4 610h0m30-989h0m20 326h0m23 53h0m12-188h0m17 164h0m16 192h0m1-416h0m10 59h0m18-49h0m14 216h0m36 90h0m35-47h0m6-84h0m13-62h0m82 157h0m45 367h0m65-1367h0m33 667h0m61 112h0m111-714h0m17 1737h0m83-770h0m18-226h0"/></defs>
<use href="#b30" class="e"/><use href="#b30" class="f"/><use href="#b31" class="e"/><use href="#b31" class="f"/><use href="#b32" class="e"/><use href="#b32" class="f"/><use href="#b33" class="e"/><use href="#b33" class="f"/><use href="#b34" class="e"/><use href="#b34" class="f"/><use href="#b35" class="e"/><use href="#b35" class="f"/><use href="#b36" class="e"/><use href="#b36" class="f"/><use href="#b37" class="e"/><use href="#b37" class="f"/><use href="#b38" class="e"/><use href="#b38" class="f"/><use href="#b39" class="e"/><use href="#b39" class="f"/><use href="#b310" class="e"/><use href="#b310" class="f"/><use href="#b311" class="e"/><use href="#b311" class="f"/><use href="#b312" class="e"/><use href="#b312" class="f"/><use href="#b313" class="e"/><use href="#b313" class="f"/><use href="#b314" class="e"/><use href="#b314" class="f"/><use href="#b315" class="e"/><use href="#b315" class="f"/><use href="#b316" class="e"/><use href="#b316" class="f"/><use href="#b317" class="e"/><use href="#b317" class="f"/><use href="#b318" class="e"/><use href="#b318" class="f"/><use href="#b319" class="e"/><use href="#b319" class="f"/><use href="#b320" class="e"/><use href="#b320" class="f"/><use href="#b321" class="e"/><use href="#b321" class="f"/><use href="#b322" class="e"/><use href="#b322" class="f"/><use href="#b323" class="e"/><use href="#b323" class="f"/><use href="#b324" class="e"/><use href="#b324" class="f"/><use href="#b325" class="e"/><use href="#b325" class="f"/><use href="#b326" class="e"/><use href="#b326" class="f"/><use href="#b327" class="e"/><use href="#b327" class="f"/><use href="#b328" class="e"/><use href="#b328" class="f"/><use href="#b329" class="e"/><use href="#b329" class="f"/><use href="#b330" class="e"/><use href="#b330" class="f"/><use href="#b331" class="e"/><use href="#b331" class="f"/><use href="#b332" class="e"/><use href="#b332" class="f"/><use href="#b333" class="e"/><use href="#b333" class="f"/><use href="#b334" class="e"/><use href="#b334" class="f"/><use href="#b335" class="e"/><use href="#b335" class="f"/>
</g>
<polyline class="cy" points="550.7,397.3 551.4,397.3 552.2,397.3 553,397.3 553.8,397.3 554.5,397.3 555.3,397.3 556.1,397.3 556.8,397.3 557.6,397.3 558.4,397.3 559.2,397.3 559.9,397.3 560.7,397.3 561.5,397.3 562.2,397.3 563,397.3 563.8,397.3 564.5,397.3 565.3,397.3 566.1,397.3 566.9,397.3 567.6,397.3 568.4,397.3 569.2,397.3 569.9,397.3 570.7,397.3 571.5,397.3 572.3,397.3 573,397.3 573.8,397.4 574.6,397.4 575.3,397.6 576.1,397.7 576.9,397.9 577.7,398.1 578.4,398.2 579.2,398.4 580,398.6 580.7,398.8 581.5,399 582.3,399.4 583.1,399.8 583.8,400.3 584.6,400.9 585.4,401.5 586.1,401.9 586.9,401.9 587.7,401.9 588.4,402 589.2,402.6 590,403.8 590.8,405.1 591.5,406 592.3,405.8 593.1,404.6 593.8,403 594.6,401.9 595.4,401.5 596.2,401.7 596.9,401.9 597.7,401.6 598.5,400.7 599.2,399.8 600,399.2 600.8,399.1 601.6,399 602.3,398.3 603.1,397.2 603.9,396.3 604.6,396.3 605.4,397.3 606.2,398.6 606.9,398.9 607.7,397.2 608.5,393.6 609.3,389.5 610,387.2 610.8,387.9 611.6,391.6 612.3,396.7 613.1,400.9 613.9,402.9 614.7,402.3 615.4,400 616.2,397.6 617,396 617.7,395.4 618.5,395.2 619.3,394.9 620.1,394.5 620.8,394.5 621.6,395.1 622.4,396.2 623.1,397.1 623.9,397.2 624.7,396.1 625.4,394.6 626.2,393.8 627,394.8 627.8,397.5 628.5,400.9 629.3,403.2 630.1,403.4 630.8,401.7 631.6,399.6 632.4,398.7 633.2,400 633.9,403 634.7,406.3 635.5,408.3 636.2,408.1 637,406.3 637.8,403.9 638.6,402.2 639.3,401.9 640.1,402.5 640.9,403.7 641.6,405 642.4,406.5 643.2,408.3 643.9,410.3 644.7,411.8 645.5,411.8 646.3,409.9 647,406.4 647.8,403 648.6,401.3 649.3,402.3 650.1,405.7 650.9,409.9 651.7,412.9 652.4,413.7 653.2,412.8 654,411.6 654.7,411.4 655.5,413 656.3,415.6 657.1,418.1 657.8,419.3 658.6,418.9 659.4,417.7 660.1,416.5 660.9,415.9 661.7,415.9 662.5,416 663.2,416 664,415.9 664.8,416.3 665.5,417.5 666.3,419.3 667.1,420.7 667.8,420.7 668.6,419.1 669.4,416.6 670.2,415 670.9,415.7 671.7,419 672.5,423.8 673.2,428.1 674,430 674.8,429.1 675.6,426.2 676.3,423 677.1,421.2 677.9,421.4 678.6,422.7 679.4,424.2 680.2,425.2 681,425.8 681.7,426.3 682.5,426.6 683.3,426.7 684,426.5 684.8,426.1 685.6,425.5 686.3,425.2 687.1,425 687.9,425 688.7,424.8 689.4,424.5 690.2,424.1 691,423.8 691.7,423.4 692.5,423 693.3,422.6 694.1,422.2 694.8,421.8 695.6,421.4 696.4,421.1 697.1,420.7 697.9,420.3 698.7,420 699.5,419.6 700.2,419.2 701,418.9 701.8,418.5 702.5,418.2 703.3,417.9 704.1,417.7 704.8,417.5 705.6,417.4 706.4,417.3 707.2,417.2 707.9,417.1 708.7,416.9 709.5,416.8 710.2,416.7 711,416.7 711.8,416.7 712.6,416.6 713.3,416.6 714.1,416.6 714.9,416.6 715.6,416.6 716.4,416.6 717.2,416.5 718,416.5 718.7,416.5 719.5,416.5 720.3,416.5 721,416.5 721.8,416.4 722.6,416.4 723.4,416.4 724.1,416.4 724.9,416.4 725.7,416.3 726.4,416.3 727.2,416.3"/>
<polyline class="cy" points="550.7,423.9 551.4,423.9 552.2,423.9 553,423.9 553.8,423.9 554.5,423.9 555.3,423.9 556.1,423.9 556.8,423.9 557.6,424 558.4,424 559.2,424 559.9,424 560.7,424 561.5,424 562.2,424 563,424 563.8,424 564.5,424.1 565.3,424.1 566.1,424.1 566.9,424.1 567.6,424.1 568.4,424.1 569.2,424.1 569.9,424.1 570.7,424.1 571.5,424.2 572.3,424.2 573,424.2 573.8,424.2 574.6,424.3 575.3,424.5 576.1,424.6 576.9,424.8 577.7,425 578.4,425.2 579.2,425.4 580,425.5 580.7,425.7 581.5,425.9 582.3,426.1 583.1,426.2 583.8,426.5 584.6,426.8 585.4,427.1 586.1,427.2 586.9,427.1 587.7,426.9 588.4,426.9 589.2,427.1 590,427.8 590.8,428.6 591.5,429.1 592.3,429.1 593.1,428.6 593.8,427.8 594.6,427.4 595.4,427.4 596.2,427.8 596.9,428 597.7,427.9 598.5,427.4 599.2,426.7 600,426.3 600.8,426.2 601.6,426.1 602.3,425.7 603.1,425.1 603.9,424.6 604.6,424.7 605.4,425.5 606.2,426.6 606.9,427.2 607.7,426.6 608.5,424.7 609.3,422.4 610,421 610.8,421.4 611.6,423.8 612.3,427.1 613.1,430 613.9,431.4 614.7,430.9 615.4,429.4 616.2,427.7 617,426.5 617.7,426.2 618.5,426.2 619.3,426.3 620.1,426.3 620.8,426.5 621.6,427 622.4,427.8 623.1,428.5 623.9,428.7 624.7,428.1 625.4,427.3 626.2,427 627,427.8 627.8,429.8 628.5,432.1 629.3,433.7 630.1,433.9 630.8,432.7 631.6,431 632.4,430.2 633.2,430.9 633.9,432.8 634.7,435 635.5,436.4 636.2,436.3 637,435 637.8,433.2 638.6,432 639.3,431.7 640.1,432.1 640.9,433 641.6,434 642.4,435.1 643.2,436.4 643.9,437.8 644.7,438.9 645.5,439 646.3,437.9 647,435.7 647.8,433.5 648.6,432.4 649.3,433.1 650.1,435.4 650.9,438.2 651.7,440.2 652.4,440.7 653.2,440 654,439 654.7,438.8 655.5,439.7 656.3,441.5 657.1,443.3 657.8,444.2 658.6,444 659.4,443.2 660.1,442.3 660.9,441.7 661.7,441.6 662.5,441.5 663.2,441.4 664,441.3 664.8,441.5 665.5,442.3 666.3,443.5 667.1,444.4 667.8,444.4 668.6,443.3 669.4,441.6 670.2,440.4 670.9,440.8 671.7,443 672.5,446.2 673.2,449.3 674,450.7 674.8,450.2 675.6,448.3 676.3,446.2 677.1,444.9 677.9,444.9 678.6,445.6 679.4,446.2 680.2,446.6 681,446.6 681.7,446.6 682.5,446.6 683.3,446.5 684,446.3 684.8,445.9 685.6,445.4 686.3,445.1 687.1,444.9 687.9,444.8 688.7,444.6 689.4,444.3 690.2,444 691,443.7 691.7,443.4 692.5,443.1 693.3,442.8 694.1,442.5 694.8,442.2 695.6,441.9 696.4,441.6 697.1,441.3 697.9,441 698.7,440.7 699.5,440.4 700.2,440.1 701,439.9 701.8,439.7 702.5,439.5 703.3,439.3 704.1,439.1 704.8,438.9 705.6,438.7 706.4,438.5 707.2,438.3 707.9,438.1 708.7,437.9 709.5,437.7 710.2,437.6 711,437.5 711.8,437.4 712.6,437.4 713.3,437.4 714.1,437.3 714.9,437.3 715.6,437.3 716.4,437.2 717.2,437.2 718,437.2 718.7,437.1 719.5,437.1 720.3,437.1 721,437 721.8,437 722.6,437 723.4,436.9 724.1,436.9 724.9,436.9 725.7,436.8 726.4,436.8 727.2,436.8"/>
<polyline class="cy" points="550.7,450.3 551.4,450.3 552.2,450.3 553,450.3 553.8,450.3 554.5,450.3 555.3,450.3 556.1,450.3 556.8,450.3 557.6,450.3 558.4,450.3 559.2,450.3 559.9,450.3 560.7,450.3 561.5,450.3 562.2,450.3 563,450.3 563.8,450.3 564.5,450.3 565.3,450.3 566.1,450.3 566.9,450.3 567.6,450.3 568.4,450.3 569.2,450.3 569.9,450.4 570.7,450.4 571.5,450.5 572.3,450.6 573,450.7 573.8,450.8 574.6,450.9 575.3,451.1 576.1,451.2 576.9,451.3 577.7,451.4 578.4,451.5 579.2,451.6 580,451.7 580.7,451.9 581.5,452 582.3,452.1 583.1,452.2 583.8,452.3 584.6,452.5 585.4,452.7 586.1,452.9 586.9,453.1 587.7,453.1 588.4,453.2 589.2,453.5 590,454 590.8,454.6 591.5,455 592.3,455.2 593.1,455 593.8,454.7 594.6,454.5 595.4,454.5 596.2,454.8 596.9,455 597.7,455.1 598.5,454.9 599.2,454.6 600,454.3 600.8,454.1 601.6,454 602.3,453.8 603.1,453.5 603.9,453.3 604.6,453.4 605.4,453.9 606.2,454.6 606.9,455.1 607.7,454.9 608.5,454.1 609.3,452.9 610,452 610.8,452.1 611.6,453.2 612.3,455 613.1,456.6 613.9,457.5 614.7,457.4 615.4,456.7 616.2,455.7 617,455.1 617.7,455 618.5,455.1 619.3,455.3 620.1,455.4 620.8,455.5 621.6,455.6 622.4,455.9 623.1,456.1 623.9,456.1 624.7,455.8 625.4,455.4 626.2,455.3 627,455.7 627.8,456.8 628.5,458.1 629.3,459.1 630.1,459.3 630.8,458.7 631.6,457.7 632.4,457.1 633.2,457.3 633.9,458.2 634.7,459.4 635.5,460.3 636.2,460.4 637,459.8 637.8,458.9 638.6,458.1 639.3,457.8 640.1,458.1 640.9,458.7 641.6,459.3 642.4,460 643.2,460.8 643.9,461.6 644.7,462.3 645.5,462.6 646.3,462.3 647,461.4 647.8,460.4 648.6,459.9 649.3,460.3 650.1,461.6 650.9,463.1 651.7,464.2 652.4,464.6 653.2,464.2 654,463.5 654.7,463.3 655.5,463.7 656.3,464.7 657.1,465.9 657.8,466.7 658.6,466.8 659.4,466.5 660.1,465.9 660.9,465.5 661.7,465.3 662.5,465.3 663.2,465.3 664,465.3 664.8,465.4 665.5,465.9 666.3,466.5 667.1,467 667.8,467 668.6,466.3 669.4,465.2 670.2,464.3 670.9,464.2 671.7,465 672.5,466.4 673.2,467.9 674,468.6 674.8,468.2 675.6,467 676.3,465.6 677.1,464.6 677.9,464.3 678.6,464.5 679.4,464.8 680.2,464.9 681,464.8 681.7,464.6 682.5,464.4 683.3,464.2 684,463.9 684.8,463.7 685.6,463.4 686.3,463.1 687.1,462.9 687.9,462.7 688.7,462.6 689.4,462.4 690.2,462.2 691,462 691.7,461.8 692.5,461.6 693.3,461.5 694.1,461.3 694.8,461.1 695.6,460.9 696.4,460.7 697.1,460.6 697.9,460.4 698.7,460.2 699.5,460 700.2,459.9 701,459.8 701.8,459.6 702.5,459.5 703.3,459.4 704.1,459.3 704.8,459.1 705.6,459 706.4,458.9 707.2,458.7 707.9,458.6 708.7,458.5 709.5,458.4 710.2,458.3 711,458.2 711.8,458.2 712.6,458.2 713.3,458.2 714.1,458.1 714.9,458.1 715.6,458.1 716.4,458.1 717.2,458.1 718,458.1 718.7,458 719.5,458 720.3,458 721,458 721.8,458 722.6,458 723.4,458 724.1,457.9 724.9,457.9 725.7,457.9 726.4,457.9 727.2,457.9"/>
<polyline class="cy" points="550.7,503.7 551.4,503.7 552.2,503.7 553,503.7 553.8,503.7 554.5,503.7 555.3,503.7 556.1,503.7 556.8,503.7 557.6,503.7 558.4,503.7 559.2,503.7 559.9,503.7 560.7,503.7 561.5,503.7 562.2,503.7 563,503.7 563.8,503.7 564.5,503.7 565.3,503.7 566.1,503.7 566.9,503.7 567.6,503.7 568.4,503.7 569.2,503.7 569.9,503.7 570.7,503.8 571.5,503.9 572.3,503.9 573,504 573.8,504.1 574.6,504.2 575.3,504.3 576.1,504.4 576.9,504.5 577.7,504.6 578.4,504.7 579.2,504.8 580,504.9 580.7,505 581.5,505.1 582.3,505.1 583.1,505.2 583.8,505.3 584.6,505.5 585.4,505.6 586.1,505.8 586.9,506 587.7,506.3 588.4,506.6 589.2,506.9 590,507.2 590.8,507.5 591.5,507.9 592.3,508.1 593.1,508.2 593.8,508 594.6,507.4 595.4,506.8 596.2,506.4 596.9,506.6 597.7,507.6 598.5,509 599.2,510.4 600,511.1 600.8,510.9 601.6,510 602.3,509.1 603.1,508.7 603.9,509 604.6,509.7 605.4,510.6 606.2,511.3 606.9,511.7 607.7,512 608.5,512.2 609.3,512.3 610,512.1 610.8,511.8 611.6,511.3 612.3,511.1 613.1,511.4 613.9,512 614.7,512.8 615.4,513.4 616.2,513.3 617,512.8 617.7,512.1 618.5,511.8 619.3,512.1 620.1,513 620.8,513.9 621.6,514.3 622.4,513.9 623.1,512.8 623.9,511.6 624.7,510.7 625.4,510.7 626.2,511.4 627,512.6 627.8,513.8 628.5,514.9 629.3,515.6 630.1,516.1 630.8,516.2 631.6,515.8 632.4,514.9 633.2,513.7 633.9,512.6 634.7,512.1 635.5,512.3 636.2,513.2 637,514.1 637.8,514.6 638.6,514.3 639.3,513.3 640.1,512.2 640.9,511.6 641.6,511.6 642.4,512.2 643.2,513 643.9,513.4 644.7,513.3 645.5,512.9 646.3,512.3 647,512.1 647.8,512.2 648.6,512.6 649.3,512.9 650.1,513.1 650.9,513.2 651.7,513.2 652.4,513.2 653.2,513 654,512.5 654.7,511.7 655.5,511 656.3,510.7 657.1,511.1 657.8,512.3 658.6,513.8 659.4,514.9 660.1,515.1 660.9,514.1 661.7,512.4 662.5,510.6 663.2,509.3 664,508.9 664.8,509.2 665.5,509.9 666.3,510.5 667.1,510.8 667.8,510.9 668.6,511 669.4,511.1 670.2,511.2 670.9,511.1 671.7,511 672.5,510.7 673.2,510.7 674,510.8 674.8,511.1 675.6,511.2 676.3,510.8 677.1,509.9 677.9,509 678.6,508.4 679.4,508.3 680.2,508.7 681,509 681.7,509 682.5,508.6 683.3,507.9 684,507.3 684.8,506.8 685.6,506.7 686.3,506.6 687.1,506.5 687.9,506.3 688.7,506.1 689.4,505.8 690.2,505.5 691,505.3 691.7,505 692.5,504.7 693.3,504.5 694.1,504.2 694.8,504 695.6,503.7 696.4,503.5 697.1,503.2 697.9,503 698.7,502.7 699.5,502.5 700.2,502.2 701,502 701.8,501.7 702.5,501.5 703.3,501.2 704.1,501 704.8,500.9 705.6,500.7 706.4,500.6 707.2,500.4 707.9,500.3 708.7,500.1 709.5,499.9 710.2,499.8 711,499.6 711.8,499.5 712.6,499.3 713.3,499.2 714.1,499.1 714.9,499 715.6,498.9 716.4,498.9 717.2,498.8 718,498.8 718.7,498.8 719.5,498.7 720.3,498.7 721,498.6 721.8,498.6 722.6,498.6 723.4,498.5 724.1,498.5 724.9,498.4 725.7,498.4 726.4,498.4 727.2,498.3"/>
<polyline class="cy" points="550.7,530.2 551.4,530.2 552.2,530.2 553,530.2 553.8,530.2 554.5,530.2 555.3,530.2 556.1,530.2 556.8,530.2 557.6,530.2 558.4,530.2 559.2,530.2 559.9,530.2 560.7,530.2 561.5,530.2 562.2,530.2 563,530.2 563.8,530.2 564.5,530.2 565.3,530.2 566.1,530.2 566.9,530.2 567.6,530.2 568.4,530.2 569.2,530.2 569.9,530.2 570.7,530.2 571.5,530.2 572.3,530.2 573,530.2 573.8,530.2 574.6,530.2 575.3,530.1 576.1,530.1 576.9,530.1 577.7,530.1 578.4,530 579.2,530 580,530 580.7,529.9 581.5,529.9 582.3,529.9 583.1,529.8 583.8,529.8 584.6,529.9 585.4,530 586.1,530.2 586.9,530.5 587.7,530.9 588.4,531.4 589.2,531.9 590,532.4 590.8,532.8 591.5,533.2 592.3,533.7 593.1,534.1 593.8,534 594.6,533.4 595.4,532.4 596.2,531.8 596.9,532.3 597.7,534.1 598.5,537 599.2,539.7 600,541.2 600.8,540.9 601.6,539.1 602.3,537.1 603.1,536.1 603.9,536.3 604.6,537.4 605.4,538.7 606.2,539.7 606.9,540.2 607.7,540.3 608.5,540.5 609.3,540.7 610,540.7 610.8,540.3 611.6,539.5 612.3,538.9 613.1,539 613.9,540 614.7,541.3 615.4,542.3 616.2,542.4 617,541.3 617.7,539.9 618.5,539 619.3,539.4 620.1,540.9 620.8,542.7 621.6,543.5 622.4,542.8 623.1,540.7 623.9,538.1 624.7,536.3 625.4,535.9 626.2,537.1 627,539.1 627.8,541.3 628.5,543.1 629.3,544.3 630.1,545 630.8,545.1 631.6,544.6 632.4,543.1 633.2,541 633.9,538.8 634.7,537.4 635.5,537.3 636.2,538.6 637,540.2 637.8,541.3 638.6,541 639.3,539.3 640.1,537.3 640.9,535.9 641.6,535.8 642.4,536.9 643.2,538.5 643.9,539.4 644.7,539.2 645.5,538.1 646.3,536.8 647,536.2 647.8,536.4 648.6,537.2 649.3,538 650.1,538.4 650.9,538.5 651.7,538.3 652.4,538.2 653.2,538 654,537.4 654.7,536.3 655.5,535 656.3,534.2 657.1,534.6 657.8,536.5 658.6,539.1 659.4,541.4 660.1,542 660.9,540.6 661.7,537.5 662.5,534.1 663.2,531.7 664,530.9 664.8,531.6 665.5,532.9 666.3,534 667.1,534.4 667.8,534.5 668.6,534.4 669.4,534.6 670.2,535 670.9,535.3 671.7,535.1 672.5,534.8 673.2,534.5 674,534.6 674.8,535 675.6,535.2 676.3,534.6 677.1,533.2 677.9,531.4 678.6,530.2 679.4,530 680.2,530.6 681,531.3 681.7,531.5 682.5,530.9 683.3,529.8 684,528.7 684.8,528 685.6,527.8 686.3,527.8 687.1,527.7 687.9,527.6 688.7,527.2 689.4,526.9 690.2,526.5 691,526.2 691.7,525.8 692.5,525.5 693.3,525.2 694.1,524.9 694.8,524.5 695.6,524.2 696.4,523.9 697.1,523.7 697.9,523.4 698.7,523.1 699.5,522.9 700.2,522.6 701,522.4 701.8,522.1 702.5,521.9 703.3,521.6 704.1,521.3 704.8,521.1 705.6,520.8 706.4,520.6 707.2,520.5 707.9,520.3 708.7,520.2 709.5,520.1 710.2,520 711,519.9 711.8,519.8 712.6,519.7 713.3,519.6 714.1,519.5 714.9,519.4 715.6,519.3 716.4,519.2 717.2,519.1 718,519.1 718.7,519.1 719.5,519.1 720.3,519.1 721,519.1 721.8,519.1 722.6,519.1 723.4,519.1 724.1,519.1 724.9,519.1 725.7,519.1 726.4,519.1 727.2,519.1"/>
<polyline class="cy" points="550.7,556.7 551.4,556.7 552.2,556.7 553,556.7 553.8,556.7 554.5,556.7 555.3,556.7 556.1,556.7 556.8,556.7 557.6,556.7 558.4,556.7 559.2,556.7 559.9,556.7 560.7,556.7 561.5,556.7 562.2,556.7 563,556.7 563.8,556.7 564.5,556.7 565.3,556.7 566.1,556.7 566.9,556.7 567.6,556.7 568.4,556.7 569.2,556.7 569.9,556.7 570.7,556.7 571.5,556.7 572.3,556.7 573,556.7 573.8,556.7 574.6,556.6 575.3,556.5 576.1,556.4 576.9,556.4 577.7,556.3 578.4,556.2 579.2,556.1 580,556 580.7,555.9 581.5,555.8 582.3,555.7 583.1,555.8 583.8,556.1 584.6,556.4 585.4,556.8 586.1,557.1 586.9,557.6 587.7,558.2 588.4,558.9 589.2,559.6 590,560.3 590.8,560.9 591.5,561.6 592.3,562.2 593.1,562.6 593.8,562.3 594.6,561.1 595.4,559.4 596.2,558.2 596.9,558.4 597.7,560.7 598.5,564.5 599.2,568.4 600,570.8 600.8,570.6 601.6,568.2 602.3,565.5 603.1,564.1 603.9,564.5 604.6,566.4 605.4,568.4 606.2,569.8 606.9,570.4 607.7,570.7 608.5,571 609.3,571.4 610,571.7 610.8,571.3 611.6,570.3 612.3,569.5 613.1,569.6 613.9,570.9 614.7,572.9 615.4,574.5 616.2,574.8 617,573.3 617.7,570.9 618.5,569.2 619.3,569.2 620.1,571 620.8,573.3 621.6,574.5 622.4,573.3 623.1,570.1 623.9,566.1 624.7,563.2 625.4,562.5 626.2,564.1 627,566.9 627.8,569.9 628.5,572.3 629.3,573.8 630.1,574.5 630.8,574.7 631.6,573.9 632.4,571.9 633.2,568.9 633.9,565.7 634.7,563.5 635.5,563.3 636.2,565 637,567.5 637.8,569.2 638.6,569 639.3,566.7 640.1,563.8 640.9,561.7 641.6,561.6 642.4,563.4 643.2,565.6 643.9,567 644.7,566.6 645.5,564.8 646.3,562.9 647,561.8 647.8,562.1 648.6,563.2 649.3,564.4 650.1,565.1 650.9,565 651.7,564.7 652.4,564.5 653.2,564.2 654,563.4 654.7,562 655.5,560.1 656.3,558.8 657.1,559.2 657.8,561.7 658.6,565.5 659.4,568.8 660.1,569.9 660.9,567.9 661.7,563.5 662.5,558.4 663.2,554.8 664,553.5 664.8,554.4 665.5,556.3 666.3,557.8 667.1,558.3 667.8,558.1 668.6,557.9 669.4,558.1 670.2,558.7 670.9,558.9 671.7,558.4 672.5,557.2 673.2,556.1 674,555.6 674.8,555.7 675.6,555.6 676.3,554.7 677.1,552.4 677.9,549.7 678.6,547.9 679.4,547.7 680.2,548.8 681,550.2 681.7,550.8 682.5,550.2 683.3,548.9 684,547.5 684.8,546.6 685.6,546.4 686.3,546.5 687.1,546.6 687.9,546.4 688.7,546.1 689.4,545.6 690.2,545.3 691,544.9 691.7,544.5 692.5,544.2 693.3,543.9 694.1,543.5 694.8,543.2 695.6,542.9 696.4,542.6 697.1,542.3 697.9,542 698.7,541.7 699.5,541.4 700.2,541.2 701,541.1 701.8,541 702.5,540.8 703.3,540.7 704.1,540.6 704.8,540.5 705.6,540.4 706.4,540.3 707.2,540.2 707.9,540.2 708.7,540.2 709.5,540.2 710.2,540.1 711,540.1 711.8,540.1 712.6,540.1 713.3,540.1 714.1,540.1 714.9,540.1 715.6,540.1 716.4,540.1 717.2,540 718,540 718.7,540 719.5,540 720.3,540 721,540 721.8,540 722.6,540 723.4,539.9 724.1,539.9 724.9,539.9 725.7,539.9 726.4,539.9 727.2,539.9"/>
<polyline class="bk" points="550.7,477.2 551.4,477.2 552.2,477.2 553,477.2 553.8,477.2 554.5,477.2 555.3,477.2 556.1,477.2 556.8,477.2 557.6,477.2 558.4,477.2 559.2,477.2 559.9,477.2 560.7,477.2 561.5,477.2 562.2,477.2 563,477.2 563.8,477.2 564.5,477.2 565.3,477.2 566.1,477.2 566.9,477.2 567.6,477.2 568.4,477.2 569.2,477.2 569.9,477.2 570.7,477.2 571.5,477.3 572.3,477.4 573,477.5 573.8,477.5 574.6,477.6 575.3,477.7 576.1,477.8 576.9,477.8 577.7,477.9 578.4,478 579.2,478.1 580,478.1 580.7,478.2 581.5,478.3 582.3,478.4 583.1,478.4 583.8,478.5 584.6,478.6 585.4,478.7 586.1,478.8 586.9,479 587.7,479.1 588.4,479.2 589.2,479.4 590,479.5 590.8,479.8 591.5,480 592.3,480.2 593.1,480.2 593.8,480.1 594.6,479.9 595.4,479.8 596.2,480 596.9,480.3 597.7,480.7 598.5,481 599.2,481 600,480.9 600.8,480.7 601.6,480.6 602.3,480.6 603.1,480.7 603.9,480.9 604.6,481.1 605.4,481.3 606.2,481.6 606.9,482.1 607.7,482.4 608.5,482.6 609.3,482.4 610,482 610.8,481.6 611.6,481.4 612.3,481.6 613.1,482 613.9,482.4 614.7,482.7 615.4,482.7 616.2,482.6 617,482.5 617.7,482.6 618.5,483 619.3,483.4 620.1,483.8 620.8,483.9 621.6,483.8 622.4,483.5 623.1,483.3 623.9,483.3 624.7,483.4 625.4,483.5 626.2,483.7 627,483.9 627.8,484.3 628.5,484.8 629.3,485.3 630.1,485.7 630.8,485.8 631.6,485.6 632.4,485.1 633.2,484.8 633.9,484.8 634.7,485.2 635.5,485.8 636.2,486.3 637,486.4 637.8,486.3 638.6,485.9 639.3,485.6 640.1,485.4 640.9,485.5 641.6,485.7 642.4,485.8 643.2,485.9 643.9,486 644.7,486.1 645.5,486.3 646.3,486.6 647,486.9 647.8,487 648.6,487 649.3,486.9 650.1,487.1 650.9,487.3 651.7,487.6 652.4,487.7 653.2,487.6 654,487.2 654.7,486.9 655.5,486.8 656.3,487.1 657.1,487.7 657.8,488.5 658.6,489 659.4,489.2 660.1,489 660.9,488.6 661.7,488.3 662.5,488.2 663.2,488.2 664,488.2 664.8,488.1 665.5,488 666.3,488 667.1,488 667.8,488.1 668.6,488 669.4,487.9 670.2,487.5 670.9,487 671.7,486.8 672.5,486.8 673.2,487.1 674,487.4 674.8,487.5 675.6,487.4 676.3,487 677.1,486.5 677.9,486.1 678.6,486.1 679.4,486.1 680.2,486 681,485.9 681.7,485.5 682.5,485.2 683.3,484.9 684,484.7 684.8,484.6 685.6,484.5 686.3,484.3 687.1,484.1 687.9,483.9 688.7,483.6 689.4,483.4 690.2,483.2 691,482.9 691.7,482.7 692.5,482.5 693.3,482.3 694.1,482 694.8,481.8 695.6,481.6 696.4,481.4 697.1,481.2 697.9,481 698.7,480.8 699.5,480.7 700.2,480.5 701,480.3 701.8,480.1 702.5,479.9 703.3,479.8 704.1,479.6 704.8,479.4 705.6,479.2 706.4,479.1 707.2,478.9 707.9,478.9 708.7,478.8 709.5,478.7 710.2,478.6 711,478.5 711.8,478.5 712.6,478.4 713.3,478.3 714.1,478.2 714.9,478.2 715.6,478.1 716.4,478 717.2,477.9 718,477.9 718.7,477.9 719.5,477.9 720.3,477.9 721,477.9 721.8,477.9 722.6,477.9 723.4,477.9 724.1,477.9 724.9,477.9 725.7,477.9 726.4,477.9 727.2,477.9"/>
</g>
<path class="hb" d="M563.57 376.6v-0.1h4.19v0.1zM567.76 376.6v-0.3h4.19v0.3zM571.95 376.6v-0.5h4.19v0.5zM576.14 376.6v-0.9h4.19v0.9zM580.33 376.6v-1.1h4.19v1.1zM584.52 376.6v-2.2h4.19v2.2zM588.71 376.6v-3h4.19v3zM592.9 376.6v-5.9h4.19v5.9zM597.09 376.6v-6.3h4.19v6.3zM601.28 376.6v-9.6h4.19v9.6zM605.47 376.6v-11.8h4.19v11.8zM609.66 376.6v-15.5h4.19v15.5zM613.85 376.6v-16.7h4.19v16.7zM618.04 376.6v-21.4h4.19v21.4zM622.23 376.6v-24.1h4.19v24.1zM626.42 376.6v-26.6h4.19v26.6zM630.61 376.6v-28.8h4.19v28.8zM634.8 376.6v-29h4.19v29zM638.99 376.6v-29h4.19v29zM643.18 376.6v-30h4.19v30zM647.37 376.6v-27.2h4.19v27.2zM651.56 376.6v-26h4.19v26zM655.75 376.6v-22.5h4.19v22.5zM659.94 376.6v-19.7h4.19v19.7zM664.13 376.6v-16.9h4.19v16.9zM668.32 376.6v-15h4.19v15zM672.51 376.6v-11.8h4.19v11.8zM676.7 376.6v-9.2h4.19v9.2zM680.89 376.6v-7.1h4.19v7.1zM685.08 376.6v-5.2h4.19v5.2zM689.27 376.6v-3.6h4.19v3.6zM693.46 376.6v-2.7h4.19v2.7zM697.65 376.6v-1.9h4.19v1.9zM701.84 376.6v-1.1h4.19v1.1zM706.03 376.6v-0.6h4.19v0.6zM710.22 376.6v-0.3h4.19v0.3zM714.41 376.6v-0.1h4.19v0.1zM718.6 376.6v-0.1h4.19v0.1z"/>
<path class="hl" d="M551 376.4H727"/>
<rect class="fr" x="544.1" y="376.6" width="187.8" height="218.8"/>
<path class="tk" d="M544.1 595.4v-2.6M544.1 376.6v2.6M567.58 595.4v-2.6M567.58 376.6v2.6M591.05 595.4v-2.6M591.05 376.6v2.6M614.52 595.4v-2.6M614.52 376.6v2.6M638 595.4v-2.6M638 376.6v2.6M661.48 595.4v-2.6M661.48 376.6v2.6M684.95 595.4v-2.6M684.95 376.6v2.6M708.42 595.4v-2.6M708.42 376.6v2.6M731.9 595.4v-2.6M731.9 376.6v2.6M544.1 595.4h2.6M731.9 595.4h-2.6M544.1 568.05h2.6M731.9 568.05h-2.6M544.1 540.7h2.6M731.9 540.7h-2.6M544.1 513.35h2.6M731.9 513.35h-2.6M544.1 486h2.6M731.9 486h-2.6M544.1 458.65h2.6M731.9 458.65h-2.6M544.1 431.3h2.6M731.9 431.3h-2.6M544.1 403.95h2.6M731.9 403.95h-2.6M544.1 376.6h2.6M731.9 376.6h-2.6"/>
<text class="tl" x="544.1" y="604.6" text-anchor="middle">75</text>
<text class="tl" x="567.6" y="604.6" text-anchor="middle">80</text>
<text class="tl" x="591" y="604.6" text-anchor="middle">85</text>
<text class="tl" x="614.5" y="604.6" text-anchor="middle">90</text>
<text class="tl" x="638" y="604.6" text-anchor="middle">95</text>
<text class="tl" x="661.5" y="604.6" text-anchor="middle">100</text>
<text class="tl" x="685" y="604.6" text-anchor="middle">105</text>
<text class="tl" x="708.4" y="604.6" text-anchor="middle">110</text>
<text class="tl" x="731.9" y="604.6" text-anchor="middle">115</text>
</g>
<text class="tl" x="37.3" y="35.5" text-anchor="end">2.0</text>
<text class="tl" x="37.3" y="62.8" text-anchor="end">1.5</text>
<text class="tl" x="37.3" y="90" text-anchor="end">1.0</text>
<text class="tl" x="37.3" y="117.2" text-anchor="end">0.5</text>
<text class="tl" x="37.3" y="144.5" text-anchor="end">0.0</text>
<text class="tl" x="37.3" y="171.8" text-anchor="end"><tspan>−</tspan><tspan dx="-0.9">0.5</tspan></text>
<text class="tl" x="37.3" y="199" text-anchor="end"><tspan>−</tspan><tspan dx="-0.9">1.0</tspan></text>
<text class="tl" x="37.3" y="226.2" text-anchor="end"><tspan>−</tspan><tspan dx="-0.9">1.5</tspan></text>
<text class="tl" x="37.3" y="253.5" text-anchor="end"><tspan>−</tspan><tspan dx="-0.9">2.0</tspan></text>
<text class="tl" x="33.5" y="379.6" text-anchor="end">2.0</text>
<text class="tl" x="33.5" y="407" text-anchor="end">1.5</text>
<text class="tl" x="33.5" y="434.3" text-anchor="end">1.0</text>
<text class="tl" x="33.5" y="461.6" text-anchor="end">0.5</text>
<text class="tl" x="33.5" y="489" text-anchor="end">0.0</text>
<text class="tl" x="33.5" y="516.4" text-anchor="end">0.5</text>
<text class="tl" x="33.5" y="543.7" text-anchor="end">1.0</text>
<text class="tl" x="33.5" y="571" text-anchor="end">1.5</text>
<text class="tl" x="33.5" y="598.4" text-anchor="end"><tspan>−</tspan><tspan dx="-0.9">2.0</tspan></text>
<path class="hb" d="M732.1 34.51h0.2v3.49h-0.2zM732.1 38h0.2v3.49h-0.2zM732.1 41.49h0.2v3.49h-0.2zM732.1 44.98h0.2v3.49h-0.2zM732.1 48.47h0.2v3.49h-0.2zM732.1 51.96h0.2v3.49h-0.2zM732.1 55.45h0.2v3.49h-0.2zM732.1 58.94h0.2v3.49h-0.2zM732.1 62.43h0.2v3.49h-0.2zM732.1 65.92h0.2v3.49h-0.2zM732.1 69.41h0.4v3.49h-0.4zM732.1 72.9h0.6v3.49h-0.6zM732.1 76.39h0.8v3.49h-0.8zM732.1 79.88h1.1v3.49h-1.1zM732.1 83.37h1.6v3.49h-1.6zM732.1 86.86h2.7v3.49h-2.7zM732.1 90.35h4.1v3.49h-4.1zM732.1 93.84h5.4v3.49h-5.4zM732.1 97.33h7v3.49h-7zM732.1 100.82h8.7v3.49h-8.7zM732.1 104.31h10.4v3.49h-10.4zM732.1 107.8h12.2v3.49h-12.2zM732.1 111.29h14.5v3.49h-14.5zM732.1 114.78h17.2v3.49h-17.2zM732.1 118.27h19.2v3.49h-19.2zM732.1 121.76h20.2v3.49h-20.2zM732.1 125.25h20.6v3.49h-20.6zM732.1 128.74h21v3.49h-21zM732.1 132.23h21v3.49h-21zM732.1 135.72h22.1v3.49h-22.1zM732.1 139.21h23.5v3.49h-23.5zM732.1 142.7h23.9v3.49h-23.9zM732.1 146.19h22.3v3.49h-22.3zM732.1 149.68h22.8v3.49h-22.8zM732.1 153.17h21.2v3.49h-21.2zM732.1 156.66h19.2v3.49h-19.2zM732.1 160.15h17v3.49h-17zM732.1 163.64h16.2v3.49h-16.2zM732.1 167.13h13.7v3.49h-13.7zM732.1 170.62h12.9v3.49h-12.9zM732.1 174.11h10.1v3.49h-10.1zM732.1 177.6h8.3v3.49h-8.3zM732.1 181.09h6.6v3.49h-6.6zM732.1 184.58h5.1v3.49h-5.1zM732.1 188.07h4.1v3.49h-4.1zM732.1 191.56h3v3.49h-3zM732.1 195.05h2.1v3.49h-2.1zM732.1 198.54h1.6v3.49h-1.6zM732.1 202.03h1.3v3.49h-1.3zM732.1 205.52h1v3.49h-1zM732.1 209.01h0.8v3.49h-0.8zM732.1 212.5h0.6v3.49h-0.6zM732.1 215.99h0.4v3.49h-0.4zM732.1 219.48h0.2v3.49h-0.2zM732.1 222.97h0.2v3.49h-0.2zM732.1 226.46h0.2v3.49h-0.2zM732.1 229.95h0.2v3.49h-0.2zM732.1 233.44h0.2v3.49h-0.2zM732.1 236.93h0.2v3.49h-0.2zM732.1 240.42h0.2v3.49h-0.2zM732.1 243.91h0.2v3.49h-0.2z"/>
<path class="hb" d="M731.9 377h0.3v3h-0.3zM731.9 380h0.3v3h-0.3zM731.9 383h0.4v3h-0.4zM731.9 386h0.4v3h-0.4zM731.9 389h0.4v3h-0.4zM731.9 392h0.4v3h-0.4zM731.9 395h0.5v3h-0.5zM731.9 398h0.5v3h-0.5zM731.9 401h0.6v3h-0.6zM731.9 404h0.7v3h-0.7zM731.9 407h0.8v3h-0.8zM731.9 410h1v3h-1zM731.9 413h1.1v3h-1.1zM731.9 416h1.2v3h-1.2zM731.9 419h1.3v3h-1.3zM731.9 422h1.6v3h-1.6zM731.9 425h1.9v3h-1.9zM731.9 428h2.2v3h-2.2zM731.9 431h2.7v3h-2.7zM731.9 434h3.2v3h-3.2zM731.9 437h4v3h-4zM731.9 440h4.5v3h-4.5zM731.9 443h5.7v3h-5.7zM731.9 446h6.5v3h-6.5zM731.9 449h7.6v3h-7.6zM731.9 452h8.7v3h-8.7zM731.9 455h9.9v3h-9.9zM731.9 458h11v3h-11zM731.9 461h13v3h-13zM731.9 464h15v3h-15zM731.9 467h17.7v3h-17.7zM731.9 470h19.4v3h-19.4zM731.9 473h20.7v3h-20.7zM731.9 476h23.2v3h-23.2zM731.9 479h23.7v3h-23.7zM731.9 482h25.1v3h-25.1zM731.9 485h25.9v3h-25.9zM731.9 488h27.2v3h-27.2zM731.9 491h26.8v3h-26.8zM731.9 494h26.1v3h-26.1zM731.9 497h24v3h-24zM731.9 500h22v3h-22zM731.9 503h19.7v3h-19.7zM731.9 506h17.5v3h-17.5zM731.9 509h15.1v3h-15.1zM731.9 512h12.9v3h-12.9zM731.9 515h11.2v3h-11.2zM731.9 518h9.2v3h-9.2zM731.9 521h7v3h-7zM731.9 524h5.3v3h-5.3zM731.9 527h4.3v3h-4.3zM731.9 530h3.4v3h-3.4zM731.9 533h2.5v3h-2.5zM731.9 536h1.8v3h-1.8zM731.9 539h1.1v3h-1.1zM731.9 542h0.7v3h-0.7zM731.9 545h0.6v3h-0.6zM731.9 548h0.4v3h-0.4zM731.9 551h0.4v3h-0.4zM731.9 554h0.4v3h-0.4zM731.9 557h0.4v3h-0.4zM731.9 560h0.3v3h-0.3zM731.9 563h0.3v3h-0.3zM731.9 566h0.3v3h-0.3zM731.9 569h0.3v3h-0.3zM731.9 572h0.3v3h-0.3zM731.9 575h0.3v3h-0.3zM731.9 578h0.3v3h-0.3zM731.9 581h0.3v3h-0.3zM731.9 584h0.2v3h-0.2zM731.9 587h0.2v3h-0.2zM731.9 590h0.2v3h-0.2z"/>
<text class="al" x="138.1" y="279.5" text-anchor="middle">Emission Angle (deg)</text>
<text class="al" x="397.4" y="279.8" text-anchor="middle">Illumination Angle (deg)</text>
<text class="al" x="638.3" y="279.8" text-anchor="middle">Solar Phase (deg)</text>
<text class="al" x="135.9" y="624.4" text-anchor="middle">Emission Angle (deg)</text>
<text class="al" x="396.9" y="624.4" text-anchor="middle">Illumination Angle (deg)</text>
<text class="al" x="638.9" y="624.4" text-anchor="middle">Solar Phase (deg)</text>
<text class="al" transform="translate(12.4 145.9) rotate(-90)" text-anchor="middle">Landmark Pixel Residual (px)</text>
<text class="al" transform="translate(12.6 486.7) rotate(-90)" text-anchor="middle">Landmark Line Residual (px)</text>
<text class="cap" x="387.9" y="312.2" text-anchor="middle">(a)</text>
<text class="cap" x="388" y="657.2" text-anchor="middle">(b)</text>
</svg>
</body></html>
